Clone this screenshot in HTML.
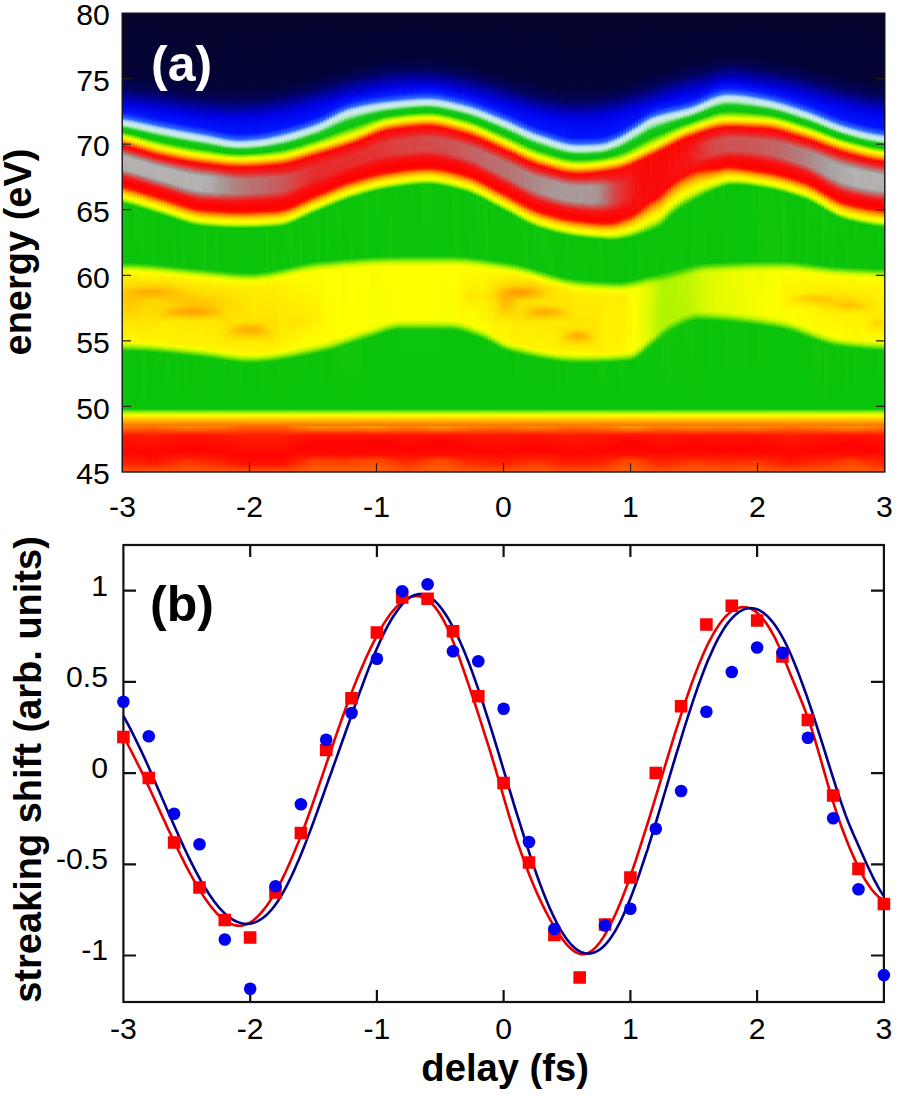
<!DOCTYPE html>
<html><head><meta charset="utf-8"><style>
html,body{margin:0;padding:0;background:#fff;}
body{width:900px;height:1100px;position:relative;overflow:hidden;font-family:"Liberation Sans",sans-serif;}
#hm{position:absolute;left:122px;top:13px;width:763px;height:459px;overflow:hidden;background:#05052e}
#hm i{position:absolute;top:0;height:459px;display:block}
svg{position:absolute;left:0;top:0}
</style></head><body>
<div id="hm"><i style="left:0px;width:3px;background:linear-gradient(#05052e 0,#040437 62.5px,#02025d 75.5px,#0002e8 92.5px,#0217ff 99.5px,#2a60ff 104.5px,#3d78ff 105.5px,#9dccff 107.5px,#c6e5f1 109.5px,#cfebe7 110.5px,#a7eab6 112.5px,#37d23e 114.5px,#13c717 115.5px,#0bc40c 118.5px,#23cb0a 119.5px,#bbf600 122.5px,#fefc00 124.5px,#ffc600 127.5px,#fe1502 132.5px,#fb0909 133.5px,#eb2424 136.5px,#ab8f8f 141.5px,#b4b1b1 143.5px,#b3b0b0 156.5px,#a7a0a0 157.5px,#c65f5f 160.5px,#f61313 164.5px,#f00 169.5px,#ff0d00 173.5px,#ff1e00 174.5px,#ff8d00 177.5px,#ffe600 181.5px,#f5fe00 184.5px,#cdf800 186.5px,#11c50a 190.5px,#0ac30b 249.5px,#55db09 252.5px,#bff600 255.5px,#fdff00 258.5px,#fe0 264.5px,#ffd600 274.5px,#ffc800 280.5px,#ffce00 289.5px,#ffde00 301.5px,#fe0 322.5px,#fff800 328.5px,#ebfc00 330.5px,#a1f002 333.5px,#36d20a 336.5px,#0ac30b 338.5px,#0ac30b 395.5px,#4ed909 397.5px,#adf301 399.5px,#fffc00 402.5px,#ffa600 408.5px,#ff7200 412.5px,#ff8200 413.5px,#ff1700 422.5px,#ff0300 438.5px,#ff2900 451.5px,#ff5b00)"></i><i style="left:3px;width:3px;background:linear-gradient(#05052e 0,#040437 62.5px,#02025b 75.5px,#0004eb 93.5px,#051dff 100.5px,#306aff 105.5px,#aed9fd 108.5px,#cee9ed 110.5px,#baebcc 112.5px,#1cca22 115.5px,#0dc40a 119.5px,#64df07 121.5px,#c7f800 123.5px,#fff700 125.5px,#ffbd00 128.5px,#fd0c04 133.5px,#f31818 136.5px,#a99696 142.5px,#b5b2b2 144.5px,#afabab 157.5px,#af8585 159.5px,#f01c1c 164.5px,#f00 169.5px,#ff0f00 174.5px,#ff9500 178.5px,#ffea00 182.5px,#fefd00 184.5px,#dffb00 186.5px,#c1f700 187.5px,#2cce0a 190.5px,#0cc40a 191.5px,#0ac30b 249.5px,#55db09 252.5px,#bff600 255.5px,#fcff00 258.5px,#fe0 264.5px,#ffd900 273.5px,#ffc100 279.5px,#fc0 288.5px,#ffd400 298.5px,#fe0 314.5px,#fff800 328.5px,#ebfc00 330.5px,#a1f002 333.5px,#36d20a 336.5px,#0ac30b 338.5px,#0ac30b 395.5px,#4ed909 397.5px,#adf301 399.5px,#fffc00 402.5px,#ffa600 408.5px,#ff7200 412.5px,#ff8000 413.5px,#ff1700 422.5px,#ff0300 438.5px,#ff2800 451.5px,#ff5b00)"></i><i style="left:6px;width:3px;background:linear-gradient(#05052e 0,#040437 63.5px,#030359 75.5px,#0000d6 90.5px,#0006ed 95.5px,#0823ff 101.5px,#2a60ff 105.5px,#3d78ff 106.5px,#9dccff 108.5px,#cfebe7 111.5px,#aaeab9 113.5px,#13c818 116.5px,#0cc40d 119.5px,#17c70a 120.5px,#75e406 122.5px,#d1f900 124.5px,#f3fd00 125.5px,#ffd000 128.5px,#ff7100 131.5px,#fb0707 134.5px,#f01c1c 137.5px,#a79b9b 143.5px,#b5b2b2 145.5px,#b5b2b2 157.5px,#a99595 159.5px,#f31818 165.5px,#f00 171.5px,#ff1200 175.5px,#ff9b00 179.5px,#ffec00 183.5px,#fcfe00 185.5px,#dafa00 187.5px,#b8f500 188.5px,#23cb0a 191.5px,#0bc30b 192.5px,#0ac30b 249.5px,#35d10a 251.5px,#bef600 255.5px,#fcff00 258.5px,#fe0 264.5px,#ffd700 273.5px,#ffbc00 279.5px,#ffcb00 287.5px,#ffcf00 297.5px,#ffed00 312.5px,#fff800 328.5px,#ecfc00 330.5px,#a2f002 333.5px,#37d20a 336.5px,#0ac30b 338.5px,#0ac30b 395.5px,#4ed909 397.5px,#adf301 399.5px,#fffc00 402.5px,#ffa600 408.5px,#ff7200 412.5px,#ff7f00 413.5px,#ff1800 422.5px,#ff0300 438.5px,#ff2700 451.5px,#ff5b00)"></i><i style="left:9px;width:3px;background:linear-gradient(#05052e 0,#040437 63.5px,#02025d 76.5px,#0002e9 93.5px,#051cff 101.5px,#2f68ff 106.5px,#add8fe 109.5px,#cde8ee 111.5px,#bcebcf 113.5px,#62de6b 115.5px,#29ce2f 116.5px,#12c717 117.5px,#0bc30b 120.5px,#23cb0a 121.5px,#b5f500 124.5px,#f9fd00 126.5px,#fc0 129.5px,#fb0808 135.5px,#ee2020 138.5px,#ad8a8a 143.5px,#a79e9e 144.5px,#b5b2b2 146.5px,#b5b1b1 158.5px,#ab9191 160.5px,#f41515 166.5px,#f00 171.5px,#ff0b00 175.5px,#ff1600 176.5px,#ff8500 179.5px,#ffe100 183.5px,#fafe00 186.5px,#d5f900 188.5px,#79e505 190.5px,#1bc90a 192.5px,#0bc30b 193.5px,#0bc30b 249.5px,#33d10a 251.5px,#bcf600 255.5px,#fbfe00 258.5px,#fe0 264.5px,#ffdc00 272.5px,#ffb700 278.5px,#ffc900 288.5px,#ffd200 298.5px,#fe0 313.5px,#fff700 328.5px,#feff00 329.5px,#a4f101 333.5px,#39d30a 336.5px,#0ac30a 338.5px,#0ac30b 395.5px,#4ed909 397.5px,#adf301 399.5px,#fffc00 402.5px,#ffa600 408.5px,#ff7200 412.5px,#ff7e00 413.5px,#ff1800 422.5px,#ff0300 438.5px,#ff2600 451.5px,#ff5b00)"></i><i style="left:12px;width:3px;background:linear-gradient(#05052e 0,#040437 63.5px,#02025b 76.5px,#0004eb 94.5px,#0115ff 101.5px,#295dff 106.5px,#3772ff 107.5px,#96c5ff 109.5px,#c3e4f2 111.5px,#d0ebe9 112.5px,#b3ebc4 114.5px,#1aca1f 117.5px,#0cc40b 121.5px,#58dc08 123.5px,#bcf600 125.5px,#fcfd00 127.5px,#ffc800 130.5px,#ff3e00 134.5px,#fe1802 135.5px,#fb0808 136.5px,#ec2222 139.5px,#ac8d8d 144.5px,#a8a1a1 145.5px,#b5b2b2 147.5px,#b4b0b0 159.5px,#ac8e8e 161.5px,#f51414 167.5px,#f00 173.5px,#ff0c00 176.5px,#ff1b00 177.5px,#ff8a00 180.5px,#ffe400 184.5px,#f7fe00 187.5px,#d1f900 189.5px,#16c70a 193.5px,#0ec510 196.5px,#0bc30b 249.5px,#30d00a 251.5px,#baf600 255.5px,#f9fe00 258.5px,#fe0 264.5px,#ffda00 272.5px,#ffb400 278.5px,#ffca00 288.5px,#ffd500 299.5px,#fe0 314.5px,#fff600 328.5px,#ff0 329.5px,#a8f201 333.5px,#21cb0a 337.5px,#0ac30a 338.5px,#0ac30b 395.5px,#4ed909 397.5px,#adf301 399.5px,#fffc00 402.5px,#ffa600 408.5px,#ff7200 412.5px,#ff7d00 413.5px,#ff1900 422.5px,#ff0300 438.5px,#ff2500 451.5px,#ff5c00)"></i><i style="left:15px;width:3px;background:linear-gradient(#05052e 0,#040437 64.5px,#030358 76.5px,#0000d5 91.5px,#0006ed 96.5px,#0319ff 102.5px,#2d64ff 107.5px,#4881ff 108.5px,#a6d3ff 110.5px,#c9e7ef 112.5px,#c0ebd4 114.5px,#a5e9b3 115.5px,#13c818 118.5px,#10c50a 122.5px,#62df07 124.5px,#c1f700 126.5px,#fdfb00 128.5px,#ffc500 131.5px,#fe1602 136.5px,#fb0909 137.5px,#eb2424 140.5px,#ab8f8f 145.5px,#b4b1b1 147.5px,#b3afaf 160.5px,#a7a0a0 161.5px,#c55f5f 164.5px,#f61313 168.5px,#f00 173.5px,#ff0d00 177.5px,#ff1e00 178.5px,#ff8d00 181.5px,#ffe500 185.5px,#f5fe00 188.5px,#cdf800 190.5px,#39d30a 193.5px,#13c60a 194.5px,#0bc30b 249.5px,#13c60a 250.5px,#6ee206 253.5px,#b7f500 255.5px,#f7fe00 258.5px,#fe0 265.5px,#ffd300 273.5px,#ffb100 278.5px,#fc0 288.5px,#ffd800 300.5px,#fe0 315.5px,#fff600 328.5px,#f1fd00 330.5px,#acf301 333.5px,#24cc0a 337.5px,#0bc30a 338.5px,#0ac30b 395.5px,#4ed909 397.5px,#adf301 399.5px,#fffc00 402.5px,#ffa600 408.5px,#ff7200 412.5px,#ff7c00 413.5px,#ff1900 422.5px,#ff0400 439.5px,#ff2300 451.5px,#ff5c00)"></i><i style="left:18px;width:3px;background:linear-gradient(#05052e 0,#040437 64.5px,#02025d 77.5px,#0002e8 94.5px,#051eff 103.5px,#306bff 108.5px,#afd9fd 111.5px,#cfe9ec 113.5px,#bbebce 115.5px,#64de6e 117.5px,#2fd036 118.5px,#13c717 119.5px,#0cc40d 122.5px,#15c70a 123.5px,#c5f700 127.5px,#fefa00 129.5px,#ffc300 132.5px,#fe1402 137.5px,#f80e0e 139.5px,#df3939 142.5px,#ab9191 146.5px,#b4b1b1 148.5px,#b2aeae 161.5px,#a79e9e 162.5px,#c75d5d 165.5px,#f61212 169.5px,#f00 174.5px,#ff0d00 178.5px,#ff2100 179.5px,#ff8f00 182.5px,#ffe600 186.5px,#f4fe00 189.5px,#caf800 191.5px,#36d20a 194.5px,#11c50a 195.5px,#0fc50a 250.5px,#68e007 253.5px,#b2f400 255.5px,#fffc00 259.5px,#ffed00 266.5px,#ffd200 273.5px,#ffaf00 278.5px,#ffce00 288.5px,#ffdf00 302.5px,#fe0 321.5px,#fff500 328.5px,#f4fd00 330.5px,#b2f400 333.5px,#28cd0a 337.5px,#0fc50a 338.5px,#0ac30b 395.5px,#4ed909 397.5px,#adf301 399.5px,#fffc00 402.5px,#ffa600 408.5px,#ff7200 412.5px,#ff7a00 413.5px,#ff1900 422.5px,#ff0400 439.5px,#f20 451.5px,#ff5c00)"></i><i style="left:21px;width:3px;background:linear-gradient(#05052e 0,#040437 64.5px,#02025a 77.5px,#0000d8 92.5px,#0007ef 98.5px,#0822ff 104.5px,#2a5fff 108.5px,#3a75ff 109.5px,#99c8ff 111.5px,#c4e4f2 113.5px,#d0ebe8 114.5px,#b4ebc5 116.5px,#21cc27 119.5px,#10c613 121.5px,#0bc40c 123.5px,#1cc90a 124.5px,#c9f800 128.5px,#fff900 130.5px,#ffc100 133.5px,#fd0e04 138.5px,#f31616 141.5px,#aa9393 147.5px,#b5b2b2 149.5px,#b1aeae 162.5px,#a79d9d 163.5px,#c85b5b 166.5px,#f61212 170.5px,#f00 175.5px,#ff0e00 179.5px,#ff2300 180.5px,#ff9100 183.5px,#ffe700 187.5px,#f3fd00 190.5px,#c8f800 192.5px,#34d10a 195.5px,#0fc50a 196.5px,#0bc30a 250.5px,#61de08 253.5px,#c6f700 256.5px,#fffe00 259.5px,#ffed00 265.5px,#ffd800 272.5px,#ffad00 278.5px,#ffd100 288.5px,#ffe200 303.5px,#fff400 328.5px,#f7fe00 330.5px,#b7f500 333.5px,#2dcf0a 337.5px,#13c60a 338.5px,#0fc611 369.5px,#0ac30b 395.5px,#4ed909 397.5px,#adf301 399.5px,#fffc00 402.5px,#ffa600 408.5px,#ff7200 412.5px,#ff7900 413.5px,#ff1a00 422.5px,#ff0400 439.5px,#ff2100 451.5px,#ff5c00)"></i><i style="left:24px;width:3px;background:linear-gradient(#05052e 0,#040437 65.5px,#030357 77.5px,#0000d4 92.5px,#0006ed 97.5px,#031aff 104.5px,#2d65ff 109.5px,#4983ff 110.5px,#a7d4fe 112.5px,#cae7ef 114.5px,#c0ebd4 116.5px,#a9eab8 117.5px,#18c91d 120.5px,#0bc30b 124.5px,#48d70a 126.5px,#aaf201 128.5px,#ecfd00 130.5px,#fff800 131.5px,#ffbe00 134.5px,#fd0d04 139.5px,#f31818 142.5px,#a99494 148.5px,#b5b2b2 150.5px,#b1adad 163.5px,#ae8888 165.5px,#ef1e1e 170.5px,#f00 175.5px,#ff0e00 180.5px,#ff4b00 182.5px,#fa0 185.5px,#ffe800 188.5px,#f2fd00 191.5px,#c6f700 193.5px,#32d00a 196.5px,#0ec40a 197.5px,#0ac30a 250.5px,#59dc08 253.5px,#c1f700 256.5px,#feff00 259.5px,#ffed00 265.5px,#ffd800 272.5px,#ffac00 278.5px,#ffd400 288.5px,#ffe200 303.5px,#fff300 328.5px,#fafe00 330.5px,#bbf600 333.5px,#32d00a 337.5px,#0bc30b 339.5px,#0ac30b 395.5px,#4ed909 397.5px,#adf301 399.5px,#fffc00 402.5px,#ffa600 408.5px,#ff7200 412.5px,#ff6f00 414.5px,#ff1a00 422.5px,#ff0400 439.5px,#ff1600 450.5px,#ff5c00)"></i><i style="left:27px;width:3px;background:linear-gradient(#05052e 0,#040437 65.5px,#02025c 78.5px,#0004eb 96.5px,#0014fe 104.5px,#2659ff 109.5px,#316bff 110.5px,#afdafc 113.5px,#cfe9ec 115.5px,#bcebcf 117.5px,#6be075 119.5px,#13c818 121.5px,#0cc40b 125.5px,#50da09 127.5px,#b0f401 129.5px,#f0fd00 131.5px,#ffe500 133.5px,#ff9b00 136.5px,#fd0c05 140.5px,#f21919 143.5px,#a99696 149.5px,#b5b2b2 151.5px,#b0acac 164.5px,#af8686 166.5px,#f01d1d 171.5px,#f00 176.5px,#ff0e00 181.5px,#ff4d00 183.5px,#ffab00 186.5px,#ffe800 189.5px,#fefd00 191.5px,#e1fb00 193.5px,#c5f700 194.5px,#30d00a 197.5px,#0ec40a 198.5px,#0bc30b 250.5px,#32d00a 252.5px,#bcf600 256.5px,#fafe00 259.5px,#ffed00 265.5px,#ffd800 272.5px,#ffac00 278.5px,#ffd500 288.5px,#ffe100 303.5px,#fff700 329.5px,#fdff00 330.5px,#a3f002 334.5px,#38d20a 337.5px,#0ac30a 339.5px,#0ac30b 395.5px,#4ed909 397.5px,#adf301 399.5px,#fffc00 402.5px,#ffa600 408.5px,#ff7200 412.5px,#ff6e00 414.5px,#ff1b00 422.5px,#ff0400 439.5px,#ff1400 450.5px,#ff5c00)"></i><i style="left:30px;width:3px;background:linear-gradient(#05052e 0,#040437 66.5px,#030359 78.5px,#0000cd 92.5px,#0005ec 97.5px,#0116ff 105.5px,#2a5fff 110.5px,#3b75ff 111.5px,#9ac9ff 113.5px,#c5e4f2 115.5px,#d0ebe8 116.5px,#b6ebc7 118.5px,#2bce32 121.5px,#13c717 122.5px,#0fc50a 126.5px,#8bea04 129.5px,#d6fa00 131.5px,#f5fe00 132.5px,#ffd100 135.5px,#ff7200 138.5px,#fc0707 141.5px,#f11b1b 144.5px,#a89999 150.5px,#b5b2b2 152.5px,#afabab 165.5px,#af8585 167.5px,#f01c1c 172.5px,#f00 177.5px,#ff0f00 182.5px,#ff4f00 184.5px,#ffac00 187.5px,#ffe900 190.5px,#fefd00 192.5px,#e0fb00 194.5px,#c3f700 195.5px,#2ecf0a 198.5px,#0dc40a 199.5px,#12c60a 251.5px,#6ce107 254.5px,#b5f500 256.5px,#f6fe00 259.5px,#ffed00 266.5px,#ffd100 273.5px,#ffad00 278.5px,#ffd600 288.5px,#fd0 302.5px,#fe0 317.5px,#fff600 329.5px,#f0fd00 331.5px,#abf301 334.5px,#23cb0a 338.5px,#0bc30a 339.5px,#0ac30b 395.5px,#4ed909 397.5px,#adf301 399.5px,#fffc00 402.5px,#ffa600 408.5px,#ff7200 412.5px,#ff6d00 414.5px,#ff1b00 422.5px,#ff0400 439.5px,#ff1e00 451.5px,#ff5c00)"></i><i style="left:33px;width:3px;background:linear-gradient(#05052e 0,#040437 66.5px,#02025d 79.5px,#0002e8 96.5px,#031aff 106.5px,#2d65ff 111.5px,#4b84ff 112.5px,#a8d5fe 114.5px,#cae7ef 116.5px,#c1ebd5 118.5px,#aceabb 119.5px,#1dca22 122.5px,#0bc40c 126.5px,#16c70a 127.5px,#bef600 131.5px,#f9fe00 133.5px,#ffcd00 136.5px,#ff6a00 139.5px,#fb0808 142.5px,#ef1e1e 145.5px,#a79c9c 151.5px,#b5b2b2 153.5px,#b5b2b2 165.5px,#a89797 167.5px,#f11b1b 173.5px,#f00 178.5px,#ff1000 183.5px,#ff9600 187.5px,#ffea00 191.5px,#fefd00 193.5px,#dffb00 195.5px,#c1f700 196.5px,#2cce0a 199.5px,#0cc40a 200.5px,#0cc40a 251.5px,#62df07 254.5px,#c7f800 257.5px,#fffd00 260.5px,#ffed00 266.5px,#ffd100 273.5px,#ffae00 278.5px,#ffd700 288.5px,#ffdc00 302.5px,#fe0 315.5px,#fff400 329.5px,#f5fe00 331.5px,#b4f500 334.5px,#2ace0a 338.5px,#11c50a 339.5px,#0ac30b 395.5px,#4ed909 397.5px,#adf301 399.5px,#fffc00 402.5px,#ffa600 408.5px,#ff7200 412.5px,#ff6e00 414.5px,#ff1a00 422.5px,#ff0400 439.5px,#ff1500 450.5px,#ff5c00)"></i><i style="left:36px;width:3px;background:linear-gradient(#05052e 0,#040437 66.5px,#03035a 79.5px,#0000d7 94.5px,#0006ee 99.5px,#0014fe 106.5px,#275aff 111.5px,#326dff 112.5px,#b0dafc 115.5px,#cfeaec 117.5px,#bcebcf 119.5px,#6de076 121.5px,#14c819 123.5px,#0bc30b 127.5px,#44d60a 129.5px,#c6f700 132.5px,#fefc00 134.5px,#ffc700 137.5px,#ff3c00 141.5px,#fe1702 142.5px,#fb0909 143.5px,#ec2222 146.5px,#ad8b8b 151.5px,#a79f9f 152.5px,#b5b2b2 154.5px,#b5b2b2 166.5px,#a99595 168.5px,#f21919 174.5px,#f00 179.5px,#ff1000 184.5px,#ff9800 188.5px,#ffeb00 192.5px,#fdfe00 194.5px,#ddfb00 196.5px,#bdf600 197.5px,#28cd0a 200.5px,#0bc30b 201.5px,#0ac30b 251.5px,#57dc08 254.5px,#c0f700 257.5px,#fdff00 260.5px,#ffed00 266.5px,#ffd200 273.5px,#ffb000 278.5px,#ffd800 289.5px,#ffd600 301.5px,#fe0 312.5px,#fff300 329.5px,#f9fe00 331.5px,#bbf600 334.5px,#31d00a 338.5px,#0bc30b 340.5px,#0ac30b 395.5px,#4ed909 397.5px,#adf301 399.5px,#fffc00 402.5px,#ffa600 408.5px,#ff7200 412.5px,#ff7b00 413.5px,#ff1900 422.5px,#ff0400 439.5px,#ff2300 451.5px,#ff5c00)"></i><i style="left:39px;width:3px;background:linear-gradient(#05052e 0,#040437 67.5px,#030357 79.5px,#0000d4 94.5px,#0006ed 99.5px,#0218ff 107.5px,#2b61ff 112.5px,#417bff 113.5px,#a1cfff 115.5px,#cfebe7 118.5px,#b4ebc5 120.5px,#2bce31 123.5px,#13c717 124.5px,#0cc40a 128.5px,#52da09 130.5px,#aff401 132.5px,#edfd00 134.5px,#fff800 135.5px,#ffbf00 138.5px,#fd0c04 143.5px,#f41616 146.5px,#ab9191 152.5px,#b4b1b1 154.5px,#b5b1b1 167.5px,#aa9292 169.5px,#f31717 175.5px,#f00 181.5px,#ff1200 185.5px,#ff9a00 189.5px,#ffec00 193.5px,#fcfe00 195.5px,#dbfa00 197.5px,#b9f500 198.5px,#24cc0a 201.5px,#0bc30b 202.5px,#0bc30b 251.5px,#2fcf0a 253.5px,#b9f600 257.5px,#f8fe00 260.5px,#ffd300 273.5px,#ffb200 278.5px,#ffd800 290.5px,#ffcf00 300.5px,#fe0 311.5px,#fff700 330.5px,#feff00 331.5px,#a4f101 335.5px,#38d20a 338.5px,#0ac30a 340.5px,#0ac30b 395.5px,#4ed909 397.5px,#adf301 399.5px,#fffc00 402.5px,#ffa600 408.5px,#ff7200 412.5px,#ff7e00 413.5px,#ff1800 422.5px,#ff0300 438.5px,#ff2600 451.5px,#ff5b00)"></i><i style="left:42px;width:3px;background:linear-gradient(#05052e 0,#040437 67.5px,#02025b 80.5px,#0004eb 98.5px,#0013fe 107.5px,#2557ff 112.5px,#2f69ff 113.5px,#aed9fd 116.5px,#cee9ed 118.5px,#bfebd2 120.5px,#a6eab4 121.5px,#19c91e 124.5px,#0bc40c 128.5px,#16c70a 129.5px,#bcf600 133.5px,#f7fe00 135.5px,#ffcf00 138.5px,#ff6f00 141.5px,#fb0707 144.5px,#f11b1b 147.5px,#a99696 153.5px,#b5b2b2 155.5px,#b4b0b0 168.5px,#ab8f8f 170.5px,#f41616 176.5px,#f00 182.5px,#ff1400 186.5px,#ff9c00 190.5px,#ffed00 194.5px,#fbfe00 196.5px,#d9fa00 198.5px,#b5f500 199.5px,#21cb0a 202.5px,#0bc30b 203.5px,#0ec40a 252.5px,#66e007 255.5px,#b1f400 257.5px,#fffc00 261.5px,#ffd500 273.5px,#ffb500 278.5px,#ffd700 291.5px,#ffc900 300.5px,#ffed00 310.5px,#fff500 330.5px,#f2fd00 332.5px,#aef301 335.5px,#26cc0a 339.5px,#0dc40a 340.5px,#0ac30b 395.5px,#4ed909 397.5px,#adf301 399.5px,#fffc00 402.5px,#ffa600 408.5px,#ff7200 412.5px,#ff8100 413.5px,#ff1700 422.5px,#ff0300 438.5px,#ff2900 451.5px,#ff5b00)"></i><i style="left:45px;width:3px;background:linear-gradient(#05052e 0,#040437 68.5px,#030358 80.5px,#0000d5 95.5px,#0006ed 100.5px,#0116ff 108.5px,#295fff 113.5px,#3974ff 114.5px,#99c8ff 116.5px,#c4e4f2 118.5px,#d0ebe9 119.5px,#b8ebca 121.5px,#35d13c 124.5px,#13c818 125.5px,#0bc30b 129.5px,#46d70a 131.5px,#c6f700 134.5px,#fefc00 136.5px,#ffc700 139.5px,#ff1b00 144.5px,#fb0909 145.5px,#ed2121 148.5px,#a79b9b 154.5px,#b5b2b2 156.5px,#b3afaf 169.5px,#ac8d8d 171.5px,#f41616 177.5px,#f00 183.5px,#ff1400 187.5px,#ff9c00 191.5px,#ffed00 195.5px,#fbfe00 197.5px,#d9fa00 199.5px,#b5f400 200.5px,#21cb0a 203.5px,#0bc30b 204.5px,#0ac30a 252.5px,#5bdd08 255.5px,#c2f700 258.5px,#feff00 261.5px,#ffec00 267.5px,#ffc700 275.5px,#fb0 280.5px,#ffd600 291.5px,#ffc000 299.5px,#ffec00 309.5px,#fff300 330.5px,#f7fe00 332.5px,#b8f500 335.5px,#2ecf0a 339.5px,#14c60a 340.5px,#0ec510 344.5px,#0ac30b 395.5px,#4ed909 397.5px,#adf301 399.5px,#fffc00 402.5px,#ffa600 408.5px,#ff7200 412.5px,#ff8400 413.5px,#ff1600 422.5px,#ff0300 438.5px,#ff2c00 451.5px,#ff5b00)"></i><i style="left:48px;width:3px;background:linear-gradient(#05052e 0,#040437 68.5px,#02025c 81.5px,#0004eb 99.5px,#0013fd 108.5px,#2454ff 113.5px,#2e66ff 114.5px,#4d86ff 115.5px,#aad6fe 117.5px,#cbe8ee 119.5px,#c0ebd4 121.5px,#adeabc 122.5px,#20cb26 125.5px,#10c613 127.5px,#0fc50a 130.5px,#87e904 133.5px,#d1f900 135.5px,#fff700 137.5px,#ffbd00 140.5px,#fd0c04 145.5px,#f41616 148.5px,#ac8d8d 154.5px,#a7a0a0 155.5px,#b5b2b2 157.5px,#b2aeae 170.5px,#a79f9f 171.5px,#c46161 174.5px,#f41616 178.5px,#f00 184.5px,#ff1400 188.5px,#ff9c00 192.5px,#ffed00 196.5px,#fbfe00 198.5px,#d9fa00 200.5px,#b6f500 201.5px,#22cb0a 204.5px,#0bc30b 205.5px,#0bc30b 252.5px,#31d00a 254.5px,#bbf600 258.5px,#fafe00 261.5px,#ffd200 274.5px,#ffbc00 279.5px,#ffd300 292.5px,#ffba00 299.5px,#ffeb00 308.5px,#fff200 330.5px,#fcff00 332.5px,#a0f002 336.5px,#36d20a 339.5px,#0ac30b 341.5px,#0ac30b 395.5px,#4ed909 397.5px,#adf301 399.5px,#fffc00 402.5px,#ffa600 408.5px,#ff7200 412.5px,#ff8600 413.5px,#ff1500 422.5px,#ff0300 438.5px,#ff2f00 451.5px,#ff5b00)"></i><i style="left:51px;width:3px;background:linear-gradient(#05052e 0,#050536 68.5px,#030359 81.5px,#0000d6 96.5px,#0006ed 101.5px,#0015ff 109.5px,#285cff 114.5px,#346fff 115.5px,#92c2ff 117.5px,#b2dbfb 118.5px,#d0eaeb 120.5px,#bbebce 122.5px,#3fd446 125.5px,#14c819 126.5px,#0bc40c 130.5px,#1cc90a 131.5px,#bff600 135.5px,#fafe00 137.5px,#ffce00 140.5px,#ff6b00 143.5px,#fb0707 146.5px,#f11b1b 149.5px,#aa9292 155.5px,#b4b1b1 157.5px,#b1adad 171.5px,#ad8b8b 173.5px,#f41616 179.5px,#f00 185.5px,#ff1300 189.5px,#ff9a00 193.5px,#ffec00 197.5px,#fcfe00 199.5px,#dbfa00 201.5px,#b8f500 202.5px,#24cc0a 205.5px,#0bc30b 206.5px,#10c50a 253.5px,#68e007 256.5px,#b2f400 258.5px,#f4fe00 261.5px,#fff000 264.5px,#ffd400 274.5px,#ffc100 280.5px,#ffd000 292.5px,#ffb400 299.5px,#ffea00 308.5px,#fff600 331.5px,#f1fd00 333.5px,#acf301 336.5px,#24cc0a 340.5px,#0cc40a 341.5px,#0ac30b 395.5px,#4ed909 397.5px,#adf301 399.5px,#fffc00 402.5px,#ffa600 408.5px,#ff7200 412.5px,#f80 413.5px,#ff1400 422.5px,#ff0200 438.5px,#ff2300 446.5px,#ff3200 451.5px,#ff5700 457.5px,#ff5b00)"></i><i style="left:54px;width:3px;background:linear-gradient(#05052e 0,#040437 69.5px,#02025d 82.5px,#0002e9 99.5px,#0319ff 110.5px,#2c64ff 115.5px,#4780ff 116.5px,#a5d3ff 118.5px,#c9e6f0 120.5px,#c2ebd7 122.5px,#b2ebc2 123.5px,#29ce2f 126.5px,#13c717 127.5px,#0cc40a 131.5px,#4ed909 133.5px,#aaf201 135.5px,#fffb00 138.5px,#ffc400 141.5px,#fe1302 146.5px,#f80e0e 148.5px,#e33232 151.5px,#a89797 156.5px,#b5b2b2 158.5px,#b0acac 172.5px,#ad8989 174.5px,#f41616 180.5px,#f00 186.5px,#ff1200 190.5px,#f90 194.5px,#ffeb00 198.5px,#fdfe00 200.5px,#dcfa00 202.5px,#bbf600 203.5px,#26cc0a 206.5px,#0bc30b 207.5px,#0ac30a 253.5px,#5cdd08 256.5px,#c3f700 259.5px,#fffe00 262.5px,#ffc400 280.5px,#ffce00 292.5px,#ffaf00 299.5px,#ffea00 308.5px,#fff400 331.5px,#f6fe00 333.5px,#b6f500 336.5px,#2cce0a 340.5px,#13c60a 341.5px,#0ac30b 395.5px,#4ed909 397.5px,#adf301 399.5px,#fffc00 402.5px,#ffa600 408.5px,#ff7200 412.5px,#ff8b00 413.5px,#ff1400 422.5px,#ff0100 437.5px,#ff1c00 445.5px,#ff2c00 449.5px,#ff5b00)"></i><i style="left:57px;width:3px;background:linear-gradient(#05052e 0,#040437 69.5px,#03035a 82.5px,#0000d7 97.5px,#0006ee 102.5px,#0014fe 110.5px,#275aff 115.5px,#316cff 116.5px,#b0dafc 119.5px,#cfeaec 121.5px,#bdebd0 123.5px,#a0e9ae 124.5px,#17c91c 127.5px,#0bc40c 131.5px,#16c70a 132.5px,#baf600 136.5px,#f4fe00 138.5px,#ffd200 141.5px,#ff7400 144.5px,#fc0707 147.5px,#f31717 150.5px,#a79c9c 157.5px,#b5b2b2 159.5px,#afabab 173.5px,#ae8888 175.5px,#f41616 181.5px,#f00 187.5px,#f10 191.5px,#ff9800 195.5px,#ffeb00 199.5px,#fdfe00 201.5px,#ddfa00 203.5px,#bcf600 204.5px,#28cd0a 207.5px,#0cc40b 208.5px,#0bc30b 253.5px,#32d00a 255.5px,#bcf600 259.5px,#fafe00 262.5px,#ffc700 281.5px,#ffcb00 292.5px,#fa0 299.5px,#ffe700 307.5px,#fff200 331.5px,#fcff00 333.5px,#bef600 336.5px,#35d10a 340.5px,#0ac30b 342.5px,#0ac30b 395.5px,#4ed909 397.5px,#adf301 399.5px,#fffc00 402.5px,#ffa600 408.5px,#ff7200 412.5px,#ff8d00 413.5px,#ff3900 419.5px,#ff1300 422.5px,#f00 437.5px,#ff1500 444.5px,#ff2f00 448.5px,#ff3900 451.5px,#f50 456.5px,#ff5b00)"></i><i style="left:60px;width:3px;background:linear-gradient(#05052e 0,#040437 70.5px,#030357 82.5px,#0000d4 97.5px,#0006ed 102.5px,#0218ff 111.5px,#2b62ff 116.5px,#417bff 117.5px,#a1cfff 119.5px,#cfebe7 122.5px,#b5ebc6 124.5px,#30d036 127.5px,#13c818 128.5px,#0ac30b 132.5px,#48d70a 134.5px,#c6f700 137.5px,#fefd00 139.5px,#ffc800 142.5px,#ff1c00 147.5px,#fb0808 148.5px,#f01d1d 151.5px,#ab9090 157.5px,#b3b0b0 159.5px,#b5b2b2 173.5px,#a89999 175.5px,#f41515 182.5px,#f00 188.5px,#f10 192.5px,#ff9800 196.5px,#ffeb00 200.5px,#fdfe00 202.5px,#ddfa00 204.5px,#bdf600 205.5px,#28cd0a 208.5px,#0bc40b 209.5px,#11c50a 254.5px,#6ae107 257.5px,#b4f500 259.5px,#f5fe00 262.5px,#ffed00 266.5px,#ffc900 283.5px,#ffc400 293.5px,#ffa500 298.5px,#ffbf00 302.5px,#ffe600 307.5px,#fff600 332.5px,#f0fd00 334.5px,#abf201 337.5px,#23cb0a 341.5px,#0bc30a 342.5px,#0ac30b 395.5px,#4ed909 397.5px,#adf301 399.5px,#fffc00 402.5px,#ffa600 408.5px,#ff7200 412.5px,#ff8f00 413.5px,#ff4a00 418.5px,#ff1300 422.5px,#ff0101 436.5px,#ff1800 444.5px,#f30 448.5px,#ff3c00 451.5px,#ff5600 456.5px,#ff5a00)"></i><i style="left:63px;width:3px;background:linear-gradient(#05052e 0,#040437 70.5px,#02025b 83.5px,#0004eb 101.5px,#0013fe 111.5px,#2658ff 116.5px,#306aff 117.5px,#aed9fd 120.5px,#cee9ed 122.5px,#beebd2 124.5px,#a6eab4 125.5px,#1aca1f 128.5px,#12c60a 133.5px,#b6f500 137.5px,#f1fd00 139.5px,#ffe500 141.5px,#ff9b00 144.5px,#fc0606 148.5px,#ec2323 152.5px,#a99696 158.5px,#b5b2b2 160.5px,#b5b2b2 174.5px,#a99696 176.5px,#f51515 183.5px,#f00 189.5px,#f10 193.5px,#f90 197.5px,#ffec00 201.5px,#fdfe00 203.5px,#dcfa00 205.5px,#bbf600 206.5px,#26cc0a 209.5px,#0ac30b 210.5px,#0bc30a 254.5px,#5fde08 257.5px,#c5f700 260.5px,#fffe00 263.5px,#ffcd00 280.5px,#ffc200 293.5px,#ffa200 298.5px,#ffbd00 302.5px,#ffe600 307.5px,#fff400 332.5px,#f6fe00 334.5px,#b6f500 337.5px,#2cce0a 341.5px,#12c60a 342.5px,#0ac30b 395.5px,#4ed909 397.5px,#adf301 399.5px,#fffc00 402.5px,#ffa600 408.5px,#ff7200 412.5px,#ff9100 413.5px,#ff4b00 418.5px,#ff1300 422.5px,#fe0202 434.5px,#ff1200 443.5px,#ff3500 448.5px,#ff3e00 451.5px,#ff5600 456.5px,#ff5a00)"></i><i style="left:66px;width:3px;background:linear-gradient(#05052e 0,#050536 70.5px,#030358 83.5px,#0000d5 98.5px,#0006ed 103.5px,#0117ff 112.5px,#2a60ff 117.5px,#3c77ff 118.5px,#9ccbff 120.5px,#d0ebe8 123.5px,#b7ebc9 125.5px,#34d13b 128.5px,#13c818 129.5px,#0bc30b 133.5px,#45d60a 135.5px,#c4f700 138.5px,#fdfe00 140.5px,#ffca00 143.5px,#ff1e00 148.5px,#fb0808 149.5px,#f11a1a 152.5px,#a69d9d 159.5px,#b5b2b2 162.5px,#b4b0b0 175.5px,#aa9292 177.5px,#f51313 184.5px,#f00 190.5px,#ff1400 194.5px,#ff9c00 198.5px,#ffed00 202.5px,#fbfe00 204.5px,#d9fa00 206.5px,#b5f500 207.5px,#21cb0a 210.5px,#0bc30b 211.5px,#0ac30b 254.5px,#35d10a 256.5px,#bef600 260.5px,#fcff00 263.5px,#ffe800 271.5px,#ffc900 288.5px,#ffba00 294.5px,#ffa100 299.5px,#ffe600 307.5px,#fff200 332.5px,#fbff00 334.5px,#bdf600 337.5px,#34d10a 341.5px,#0bc30b 343.5px,#0ac30b 395.5px,#4ed909 397.5px,#adf301 399.5px,#fffc00 402.5px,#ffa600 408.5px,#ff7200 412.5px,#ff9000 413.5px,#ff4b00 418.5px,#ff1300 422.5px,#fe0202 435.5px,#ff1200 443.5px,#ff3400 448.5px,#ff3c00 451.5px,#ff5600 456.5px,#ff5a00)"></i><i style="left:69px;width:3px;background:linear-gradient(#05052e 0,#040437 71.5px,#02025d 84.5px,#0002e8 101.5px,#0013fe 112.5px,#2556ff 117.5px,#2f68ff 118.5px,#add8fe 121.5px,#cde8ee 123.5px,#bfebd3 125.5px,#a9eab7 126.5px,#1cca22 129.5px,#10c50a 134.5px,#8ae904 137.5px,#d3f900 139.5px,#fff600 141.5px,#ffbc00 144.5px,#fc0606 149.5px,#ed2222 153.5px,#aa9393 159.5px,#b4b1b1 161.5px,#b1adad 176.5px,#a69f9f 177.5px,#d05050 181.5px,#f61212 185.5px,#f00 191.5px,#ff1800 195.5px,#f80 198.5px,#ffe300 202.5px,#f8fe00 205.5px,#d3f900 207.5px,#75e406 209.5px,#18c80a 211.5px,#0cc40e 213.5px,#0bc30b 254.5px,#13c60a 255.5px,#6ee206 258.5px,#b7f500 260.5px,#f7fe00 263.5px,#ffc700 286.5px,#ffc000 293.5px,#ffa000 298.5px,#fb0 302.5px,#ffe600 307.5px,#fff600 333.5px,#effd00 335.5px,#a9f201 338.5px,#22cb0a 342.5px,#0bc30a 343.5px,#0ac30b 395.5px,#4ed909 397.5px,#adf301 399.5px,#fffc00 402.5px,#ffa600 408.5px,#ff7200 412.5px,#ff8f00 413.5px,#ff3a00 419.5px,#ff1300 422.5px,#f00 437.5px,#ff1700 444.5px,#ff3200 448.5px,#ff3b00 451.5px,#f50 456.5px,#ff5a00)"></i><i style="left:72px;width:3px;background:linear-gradient(#05052e 0,#040437 71.5px,#02025a 84.5px,#0000d8 99.5px,#0006ee 104.5px,#0116ff 113.5px,#295fff 118.5px,#3974ff 119.5px,#99c8ff 121.5px,#c4e4f2 123.5px,#d0ebe9 124.5px,#b9ebcb 126.5px,#13c818 130.5px,#0bc30b 134.5px,#45d60a 136.5px,#c5f700 139.5px,#fefd00 141.5px,#ffc900 144.5px,#ff1d00 149.5px,#fb0808 150.5px,#f11a1a 153.5px,#a79b9b 160.5px,#b5b2b2 163.5px,#b5b2b2 176.5px,#a89898 178.5px,#f31717 185.5px,#f00 191.5px,#ff0e00 195.5px,#ff2400 196.5px,#ff9100 199.5px,#ffe800 203.5px,#fffc00 205.5px,#e2fb00 207.5px,#c8f800 208.5px,#33d10a 211.5px,#0dc40a 212.5px,#0dc40a 255.5px,#64df07 258.5px,#c8f800 261.5px,#fffd00 264.5px,#ffc800 285.5px,#ffc000 293.5px,#ffa000 298.5px,#ffbc00 302.5px,#ffe600 307.5px,#fff400 333.5px,#f5fe00 335.5px,#b4f500 338.5px,#2ace0a 342.5px,#11c50a 343.5px,#0ac30b 395.5px,#4ed909 397.5px,#adf301 399.5px,#fffc00 402.5px,#ffa600 408.5px,#ff7200 412.5px,#ff8d00 413.5px,#ff3900 419.5px,#ff1300 422.5px,#f00 437.5px,#ff1600 444.5px,#ff3000 448.5px,#ff3900 451.5px,#f50 456.5px,#ff5b00)"></i><i style="left:75px;width:3px;background:linear-gradient(#05052e 0,#050536 71.5px,#030358 84.5px,#0000d4 99.5px,#0006ed 104.5px,#0013fd 113.5px,#2455ff 118.5px,#2e67ff 119.5px,#7fb2ff 121.5px,#abd7fe 122.5px,#cce8ee 124.5px,#c0ebd4 126.5px,#aaeab9 127.5px,#1cca22 130.5px,#0cc40d 134.5px,#12c60a 135.5px,#b8f500 139.5px,#f3fd00 141.5px,#ffd300 144.5px,#ff7500 147.5px,#fc0606 150.5px,#ec2323 154.5px,#aa9393 160.5px,#b5b1b1 162.5px,#b2afaf 177.5px,#a6a1a1 178.5px,#ce5353 182.5px,#f61313 186.5px,#f00 192.5px,#ff1300 196.5px,#ff9d00 200.5px,#ffed00 204.5px,#fcff00 206.5px,#dafa00 208.5px,#b6f500 209.5px,#4ad80a 211.5px,#20ca0a 212.5px,#0bc30b 213.5px,#0ac30a 255.5px,#5adc08 258.5px,#c2f700 261.5px,#feff00 264.5px,#ffec00 270.5px,#ffc800 289.5px,#ffba00 294.5px,#ffa400 299.5px,#ffe600 307.5px,#fff300 333.5px,#fafe00 335.5px,#bcf600 338.5px,#32d00a 342.5px,#0bc30b 344.5px,#0ac30b 395.5px,#4ed909 397.5px,#adf301 399.5px,#fffc00 402.5px,#ffa600 408.5px,#ff7200 412.5px,#ff8c00 413.5px,#ff1300 422.5px,#f00 437.5px,#ff1e00 445.5px,#ff2f00 449.5px,#ff5800 457.5px,#ff5b00)"></i><i style="left:78px;width:3px;background:linear-gradient(#05052e 0,#040437 72.5px,#02025c 85.5px,#0004eb 103.5px,#0115ff 114.5px,#295eff 119.5px,#3772ff 120.5px,#96c6ff 122.5px,#c3e4f2 124.5px,#d0ebea 125.5px,#b9ebcb 127.5px,#36d13d 130.5px,#13c818 131.5px,#0bc30b 135.5px,#49d80a 137.5px,#a7f101 139.5px,#fffb00 142.5px,#ffc500 145.5px,#fe1302 150.5px,#f90d0d 152.5px,#e62c2c 155.5px,#ad8c8c 160.5px,#a69e9e 161.5px,#b5b2b2 164.5px,#b5b2b2 177.5px,#a99696 179.5px,#f41616 186.5px,#f00 192.5px,#ff0e00 196.5px,#ff4d00 198.5px,#ffab00 201.5px,#ffe900 204.5px,#fffd00 206.5px,#e1fb00 208.5px,#c5f700 209.5px,#30d00a 212.5px,#0bc30a 213.5px,#0bc30b 255.5px,#33d10a 257.5px,#bcf600 261.5px,#fbfe00 264.5px,#ffeb00 271.5px,#ffc900 289.5px,#ffb500 295.5px,#ffa700 299.5px,#ffe600 307.5px,#fff700 334.5px,#feff00 335.5px,#a6f101 339.5px,#20ca0a 343.5px,#0ac30a 344.5px,#0ac30b 395.5px,#4ed909 397.5px,#adf301 399.5px,#fffc00 402.5px,#ffa600 408.5px,#ff7200 412.5px,#ff8b00 413.5px,#ff1400 422.5px,#ff0100 437.5px,#ff1d00 445.5px,#ff2d00 449.5px,#ff5b00)"></i><i style="left:81px;width:3px;background:linear-gradient(#05052e 0,#040437 72.5px,#03035a 85.5px,#0000d7 100.5px,#0006ee 105.5px,#0012fd 114.5px,#2354ff 119.5px,#2d66ff 120.5px,#4c85ff 121.5px,#a9d6fe 123.5px,#cbe7ef 125.5px,#c0ebd4 127.5px,#abeaba 128.5px,#1cca21 131.5px,#0bc40c 135.5px,#15c70a 136.5px,#bdf600 140.5px,#fafe00 142.5px,#ffce00 145.5px,#ff6b00 148.5px,#fb0707 151.5px,#ea2626 155.5px,#a99696 161.5px,#b4b1b1 163.5px,#ada9a9 178.5px,#ae8888 180.5px,#f21a1a 186.5px,#f00 191.5px,#ff0c00 196.5px,#ff1c00 197.5px,#ff8c00 200.5px,#ffe500 204.5px,#f6fe00 207.5px,#cff900 209.5px,#13c60a 213.5px,#12c60a 256.5px,#6de206 259.5px,#b6f500 261.5px,#f6fe00 264.5px,#ffe900 273.5px,#ffca00 289.5px,#ffb800 295.5px,#ffab00 299.5px,#ffe600 307.5px,#fff400 334.5px,#f4fe00 336.5px,#b2f400 339.5px,#29cd0a 343.5px,#10c50a 344.5px,#0ac30b 395.5px,#4ed909 397.5px,#adf301 399.5px,#fffc00 402.5px,#ffa600 408.5px,#ff7200 412.5px,#ff8a00 413.5px,#ff1400 422.5px,#ff0100 437.5px,#ff1b00 445.5px,#ff2b00 449.5px,#ff5b00)"></i><i style="left:84px;width:3px;background:linear-gradient(#05052e 0,#050536 72.5px,#030358 85.5px,#0000d5 100.5px,#0006ed 105.5px,#0014ff 115.5px,#275bff 120.5px,#336eff 121.5px,#90c0ff 123.5px,#b1dbfb 124.5px,#d0eaeb 126.5px,#bbebcd 128.5px,#13c818 132.5px,#0bc30a 136.5px,#4fd909 138.5px,#aff400 140.5px,#eefd00 142.5px,#fff700 143.5px,#ffbe00 146.5px,#fc0606 151.5px,#ee2020 155.5px,#ac8e8e 161.5px,#a6a0a0 162.5px,#b2afaf 164.5px,#afacac 178.5px,#a69d9d 179.5px,#d05050 183.5px,#f61212 187.5px,#f00 193.5px,#ff1400 197.5px,#ff8400 200.5px,#ffe000 204.5px,#fbfe00 207.5px,#d9fa00 209.5px,#b3f500 210.5px,#46d70a 212.5px,#1eca0a 213.5px,#0bc30b 214.5px,#0cc40a 256.5px,#62df07 259.5px,#c7f800 262.5px,#fffd00 265.5px,#ffeb00 272.5px,#ffcb00 289.5px,#ffbc00 295.5px,#ffb000 299.5px,#ffe700 307.5px,#fff200 334.5px,#fbfe00 336.5px,#bdf600 339.5px,#33d10a 343.5px,#0bc30b 345.5px,#0ac30b 395.5px,#4ed909 397.5px,#adf301 399.5px,#fffc00 402.5px,#ffa600 408.5px,#ff7200 412.5px,#ff8900 413.5px,#ff1400 422.5px,#ff0200 438.5px,#ff1a00 445.5px,#ff2900 449.5px,#ff5b00)"></i><i style="left:87px;width:3px;background:linear-gradient(#05052e 0,#040437 73.5px,#02025d 86.5px,#0002e9 103.5px,#0218ff 116.5px,#2b62ff 121.5px,#417bff 122.5px,#a1cfff 124.5px,#ceebe6 127.5px,#b1ebc1 129.5px,#1fcb25 132.5px,#0ec50f 135.5px,#18c80a 137.5px,#c3f700 141.5px,#fefd00 143.5px,#ffc800 146.5px,#ff1c00 151.5px,#fb0808 152.5px,#e92828 156.5px,#a99797 162.5px,#b0acac 164.5px,#b0acac 178.5px,#a59f9f 179.5px,#ce5353 183.5px,#f51313 187.5px,#f00 193.5px,#ff1000 197.5px,#ff9800 201.5px,#ffeb00 205.5px,#feff00 207.5px,#ddfb00 209.5px,#bdf600 210.5px,#28cd0a 213.5px,#0ac30b 214.5px,#0ac30b 256.5px,#56db09 259.5px,#c0f700 262.5px,#fdff00 265.5px,#ffec00 271.5px,#fc0 289.5px,#ffc000 295.5px,#ffba00 300.5px,#ffe900 308.5px,#fff600 335.5px,#f1fd00 337.5px,#acf301 340.5px,#24cc0a 344.5px,#0cc40a 345.5px,#0ac30b 395.5px,#4ed909 397.5px,#adf301 399.5px,#fffc00 402.5px,#ffa600 408.5px,#ff7200 412.5px,#ff8700 413.5px,#ff1400 422.5px,#ff0300 438.5px,#ff3100 451.5px,#ff5700 457.5px,#ff5b00)"></i><i style="left:90px;width:3px;background:linear-gradient(#05052e 0,#040437 73.5px,#02025b 86.5px,#0004eb 104.5px,#0013fe 116.5px,#2556ff 121.5px,#2f68ff 122.5px,#acd8fe 125.5px,#cde8ee 127.5px,#beebd1 129.5px,#a0e9ae 130.5px,#13c818 133.5px,#0bc30a 137.5px,#53db09 139.5px,#b5f500 141.5px,#f5fe00 143.5px,#ffd100 146.5px,#ff7100 149.5px,#fc0707 152.5px,#ed2121 156.5px,#a69e9e 163.5px,#ada9a9 166.5px,#ada9a9 178.5px,#ac8e8e 180.5px,#f51414 187.5px,#f00 193.5px,#ff0e00 197.5px,#ff4c00 199.5px,#ffab00 202.5px,#ffe900 205.5px,#fffd00 207.5px,#e1fb00 209.5px,#c6f700 210.5px,#31d00a 213.5px,#0bc30a 214.5px,#0bc30b 256.5px,#2ecf0a 258.5px,#b8f600 262.5px,#f8fe00 265.5px,#ffec00 272.5px,#ffce00 289.5px,#ffc000 300.5px,#ffe900 308.5px,#fff300 335.5px,#f9fe00 337.5px,#baf600 340.5px,#30d00a 344.5px,#0bc30b 346.5px,#0ac30b 395.5px,#4ed909 397.5px,#adf301 399.5px,#fffc00 402.5px,#ffa600 408.5px,#ff7200 412.5px,#ff8600 413.5px,#ff1500 422.5px,#ff0300 438.5px,#ff2f00 451.5px,#ff5b00)"></i><i style="left:93px;width:3px;background:linear-gradient(#05052e 0,#040437 73.5px,#03035a 86.5px,#0000ce 100.5px,#0005ed 105.5px,#0115ff 117.5px,#285cff 122.5px,#3570ff 123.5px,#93c3ff 125.5px,#b2dbfb 126.5px,#d0eaea 128.5px,#b7ebc9 130.5px,#26cd2c 133.5px,#12c717 134.5px,#0bc40c 137.5px,#1ac80a 138.5px,#70e206 140.5px,#c8f800 142.5px,#fff900 144.5px,#ffc100 147.5px,#ff3500 151.5px,#fd0c04 152.5px,#f11b1b 156.5px,#aa9494 163.5px,#a9a5a5 165.5px,#a5a0a0 179.5px,#f41616 187.5px,#f00 193.5px,#ff0c00 197.5px,#ff1d00 198.5px,#ff8d00 201.5px,#ffe500 205.5px,#f6fe00 208.5px,#cef800 210.5px,#12c60a 214.5px,#0dc40a 257.5px,#64df07 260.5px,#c8f800 263.5px,#fffd00 266.5px,#ffec00 273.5px,#ffd000 289.5px,#ffc600 300.5px,#ffe900 309.5px,#fff100 335.5px,#fffe00 337.5px,#aaf201 341.5px,#22cb0a 345.5px,#0bc30a 346.5px,#0ac30b 395.5px,#4ed909 397.5px,#adf301 399.5px,#fffc00 402.5px,#ffa600 408.5px,#ff7200 412.5px,#ff8500 413.5px,#ff1500 422.5px,#ff0300 438.5px,#ff2e00 451.5px,#ff5b00)"></i><i style="left:96px;width:3px;background:linear-gradient(#05052e 0,#050536 73.5px,#030358 86.5px,#0000d5 101.5px,#0006ed 106.5px,#0319ff 118.5px,#2c63ff 123.5px,#447eff 124.5px,#a3d1ff 126.5px,#c8e6f0 128.5px,#cdebe5 129.5px,#a9eab8 131.5px,#14c819 134.5px,#0bc40a 138.5px,#5adc08 140.5px,#bcf600 142.5px,#fdfe00 144.5px,#ffca00 147.5px,#ff1f00 152.5px,#fb0808 153.5px,#ec2323 157.5px,#a79a9a 164.5px,#a69e9e 179.5px,#f31818 187.5px,#f00 193.5px,#ff0b00 197.5px,#ff1600 198.5px,#ff8700 201.5px,#ffe200 205.5px,#f9fe00 208.5px,#d6f900 210.5px,#77e406 212.5px,#1ac80a 214.5px,#0bc30b 215.5px,#0ac30a 257.5px,#58dc08 260.5px,#c1f700 263.5px,#feff00 266.5px,#ffed00 272.5px,#ffd200 289.5px,#fc0 300.5px,#ffe900 309.5px,#ffea00 324.5px,#fff300 336.5px,#f8fe00 338.5px,#b9f600 341.5px,#2fcf0a 345.5px,#0bc30b 347.5px,#0ac30b 395.5px,#4ed909 397.5px,#adf301 399.5px,#fffc00 402.5px,#ffa600 408.5px,#ff7200 412.5px,#ff8300 413.5px,#ff1600 422.5px,#ff0300 438.5px,#ff2b00 451.5px,#ff5b00)"></i><i style="left:99px;width:3px;background:linear-gradient(#05052e 0,#050536 73.5px,#030357 86.5px,#0000d4 101.5px,#0006ed 106.5px,#0013fe 118.5px,#2658ff 123.5px,#306aff 124.5px,#afd9fd 127.5px,#cfe9ed 129.5px,#bbebcd 131.5px,#61dd6b 133.5px,#29ce30 134.5px,#12c717 135.5px,#0bc40c 138.5px,#1eca0a 139.5px,#7ae505 141.5px,#d1f900 143.5px,#f2fd00 144.5px,#ffe300 146.5px,#ffb700 148.5px,#fc0707 153.5px,#f01c1c 157.5px,#ab9090 164.5px,#a79b9b 167.5px,#a79b9b 179.5px,#cb5757 183.5px,#f61111 188.5px,#f00 195.5px,#ff1200 198.5px,#ff9c00 202.5px,#ffed00 206.5px,#fcff00 208.5px,#dbfa00 210.5px,#b7f500 211.5px,#4ad80a 213.5px,#21cb0a 214.5px,#0bc30b 215.5px,#0bc30b 257.5px,#30d00a 259.5px,#b9f600 263.5px,#f9fe00 266.5px,#ffec00 273.5px,#ffd300 289.5px,#ffd500 301.5px,#ffe600 310.5px,#ffe300 321.5px,#fff600 337.5px,#effd00 339.5px,#a8f201 342.5px,#21cb0a 346.5px,#0bc30a 347.5px,#0ac30b 395.5px,#4ed909 397.5px,#adf301 399.5px,#fffc00 402.5px,#ffa600 408.5px,#ff7200 412.5px,#ff8100 413.5px,#ff1700 422.5px,#ff0300 438.5px,#ff2800 451.5px,#ff5b00)"></i><i style="left:102px;width:3px;background:linear-gradient(#05052e 0,#040437 74.5px,#02025d 87.5px,#0002e9 104.5px,#0217ff 119.5px,#2a60ff 124.5px,#3d78ff 125.5px,#9dccff 127.5px,#cfebe7 130.5px,#adeabc 132.5px,#14c818 135.5px,#0fc50a 139.5px,#c6f700 143.5px,#fff900 145.5px,#ffc100 148.5px,#ff3400 152.5px,#fd0b04 153.5px,#f31717 157.5px,#a99595 165.5px,#a99595 179.5px,#cc5656 183.5px,#f61111 188.5px,#f00 195.5px,#ff1000 198.5px,#ff9800 202.5px,#ffeb00 206.5px,#ff0 208.5px,#ddfb00 210.5px,#bdf600 211.5px,#27cd0a 214.5px,#0ac30b 215.5px,#0ec40a 258.5px,#67e007 261.5px,#b1f400 263.5px,#fffc00 267.5px,#ffec00 274.5px,#ffd500 289.5px,#ffdc00 302.5px,#ffe200 311.5px,#fd0 320.5px,#fffa00 338.5px,#e5fb00 340.5px,#b8f500 342.5px,#2ecf0a 346.5px,#14c60a 347.5px,#0ec510 351.5px,#0ac30b 395.5px,#4ed909 397.5px,#adf301 399.5px,#fffc00 402.5px,#ffa600 408.5px,#ff7200 412.5px,#ff7e00 413.5px,#ff1800 422.5px,#ff0300 438.5px,#ff2600 451.5px,#ff5c00)"></i><i style="left:105px;width:3px;background:linear-gradient(#05052e 0,#040437 74.5px,#02025c 87.5px,#0002e8 104.5px,#0013fe 119.5px,#2557ff 124.5px,#2f69ff 125.5px,#aed9fd 128.5px,#cee9ed 130.5px,#bbebcd 132.5px,#5edd67 134.5px,#23cc29 135.5px,#10c612 137.5px,#0bc30b 139.5px,#55db09 141.5px,#bcf600 143.5px,#fffe00 145.5px,#ffc700 148.5px,#ff1b00 153.5px,#fb0808 154.5px,#ee1f1f 158.5px,#ac8d8d 165.5px,#ab9090 179.5px,#c16666 182.5px,#f61212 188.5px,#f00 195.5px,#ff0f00 198.5px,#ff9500 202.5px,#ffea00 206.5px,#fffe00 208.5px,#e0fb00 210.5px,#c2f700 211.5px,#2cce0a 214.5px,#0ac30a 215.5px,#0ac30a 258.5px,#5cdd08 261.5px,#c3f700 264.5px,#ff0 267.5px,#ffed00 273.5px,#ffd800 290.5px,#ffe400 304.5px,#ffd600 319.5px,#fe0 333.5px,#fefe00 339.5px,#a6f101 343.5px,#20ca0a 347.5px,#0ac30a 348.5px,#0ac30b 395.5px,#4ed909 397.5px,#adf301 399.5px,#fffc00 402.5px,#ffa600 408.5px,#ff7200 412.5px,#ff7b00 413.5px,#ff1900 422.5px,#ff0400 439.5px,#ff2300 451.5px,#ff5c00)"></i><i style="left:108px;width:3px;background:linear-gradient(#05052e 0,#040437 74.5px,#02025c 87.5px,#0004eb 105.5px,#0218ff 120.5px,#2b62ff 125.5px,#427cff 126.5px,#a2d0ff 128.5px,#c7e6f0 130.5px,#ceebe5 131.5px,#c0ebd4 132.5px,#a5e9b3 133.5px,#37d23e 135.5px,#13c717 136.5px,#0bc40c 139.5px,#1eca0a 140.5px,#7ee605 142.5px,#b3f500 143.5px,#fafe00 145.5px,#fc0 148.5px,#fb0707 154.5px,#f11b1b 158.5px,#af8686 165.5px,#b08484 180.5px,#f21919 187.5px,#f00 194.5px,#ff0e00 198.5px,#ff4c00 200.5px,#ffab00 203.5px,#ffe900 206.5px,#fffd00 208.5px,#e1fb00 210.5px,#c6f700 211.5px,#31d00a 214.5px,#0ac30a 215.5px,#0bc30b 258.5px,#33d10a 260.5px,#bdf600 264.5px,#fbfe00 267.5px,#ffed00 273.5px,#ffda00 290.5px,#ffe300 309.5px,#ffce00 318.5px,#fe0 331.5px,#fff400 338.5px,#f5fe00 340.5px,#b4f500 343.5px,#2bce0a 347.5px,#11c50a 348.5px,#0ac30b 395.5px,#4ed909 397.5px,#adf301 399.5px,#fffc00 402.5px,#ffa600 408.5px,#ff7200 412.5px,#ff6f00 414.5px,#ff1a00 422.5px,#ff0400 439.5px,#ff1500 450.5px,#ff5c00)"></i><i style="left:111px;width:3px;background:linear-gradient(#05052e 0,#040437 74.5px,#02025c 87.5px,#0004eb 105.5px,#0015ff 120.5px,#285dff 125.5px,#3470ff 126.5px,#94c4ff 128.5px,#c3e3f3 130.5px,#d1ebea 131.5px,#b2ebc2 133.5px,#14c818 136.5px,#0cc40d 139.5px,#15c70a 140.5px,#73e306 142.5px,#aaf201 143.5px,#f4fe00 145.5px,#ffd000 148.5px,#ff6f00 151.5px,#fc0707 154.5px,#eb2424 159.5px,#af8585 166.5px,#b18181 180.5px,#f21919 187.5px,#f00 194.5px,#ff0d00 198.5px,#ff2300 199.5px,#ff9100 202.5px,#ffe800 206.5px,#f3fd00 209.5px,#c8f800 211.5px,#0cc40a 215.5px,#0bc30b 258.5px,#13c60a 259.5px,#6ee206 262.5px,#b7f500 264.5px,#f7fe00 267.5px,#ffed00 274.5px,#ffdc00 290.5px,#ffe100 309.5px,#ffc400 317.5px,#ffed00 329.5px,#fff800 339.5px,#eafc00 341.5px,#9fef02 344.5px,#35d10a 347.5px,#0ac30b 349.5px,#0ac30b 395.5px,#4ed909 397.5px,#adf301 399.5px,#fffc00 402.5px,#ffa600 408.5px,#ff7200 412.5px,#ff6c00 414.5px,#ff1b00 422.5px,#ff0400 439.5px,#ff1d00 451.5px,#ff5c00)"></i><i style="left:114px;width:3px;background:linear-gradient(#05052e 0,#040437 74.5px,#02025c 87.5px,#0004eb 105.5px,#0014fe 120.5px,#2759ff 125.5px,#316bff 126.5px,#b0dafc 129.5px,#d0eaec 131.5px,#b7ebc9 133.5px,#14c819 136.5px,#10c50a 140.5px,#6de206 142.5px,#cdf800 144.5px,#f1fd00 145.5px,#ffe300 147.5px,#ffb800 149.5px,#fc0606 154.5px,#ed2121 159.5px,#b18181 166.5px,#b27e7e 180.5px,#f31818 187.5px,#f00 194.5px,#ff0d00 198.5px,#ff2100 199.5px,#ff9000 202.5px,#ffe700 206.5px,#f4fe00 209.5px,#caf800 211.5px,#0dc40a 215.5px,#0ec40a 259.5px,#66e007 262.5px,#b1f400 264.5px,#fffc00 268.5px,#ffec00 275.5px,#ffde00 290.5px,#ffe300 308.5px,#ffbc00 317.5px,#ffeb00 328.5px,#fff600 339.5px,#f0fd00 341.5px,#abf301 344.5px,#23cb0a 348.5px,#0bc30a 349.5px,#0ac30b 395.5px,#4ed909 397.5px,#adf301 399.5px,#fffc00 402.5px,#ffa600 408.5px,#ff7200 412.5px,#ff5400 416.5px,#ff1c00 422.5px,#ff0400 440.5px,#ff1a00 451.5px,#ff5c00)"></i><i style="left:117px;width:3px;background:linear-gradient(#05052e 0,#040437 74.5px,#02025c 87.5px,#0004eb 105.5px,#0013fe 120.5px,#2658ff 125.5px,#306aff 126.5px,#afd9fd 129.5px,#cfe9ed 131.5px,#b9ebca 133.5px,#16c91b 136.5px,#0ec40a 140.5px,#6be107 142.5px,#ccf800 144.5px,#f0fd00 145.5px,#ffe300 147.5px,#ffb800 149.5px,#fc0606 154.5px,#ee2020 159.5px,#b27e7e 166.5px,#b37b7b 180.5px,#f31717 187.5px,#f00 194.5px,#ff0d00 198.5px,#ff2100 199.5px,#ff8f00 202.5px,#ffe700 206.5px,#f4fe00 209.5px,#caf800 211.5px,#0ec40a 215.5px,#0ac30a 259.5px,#5fde08 262.5px,#c5f700 265.5px,#fffe00 268.5px,#ffed00 274.5px,#ffe100 291.5px,#ffe200 308.5px,#ffb500 317.5px,#ffeb00 328.5px,#fff400 339.5px,#f5fe00 341.5px,#b5f500 344.5px,#2bce0a 348.5px,#11c50a 349.5px,#0ac30b 395.5px,#4ed909 397.5px,#adf301 399.5px,#fffc00 402.5px,#ffa600 408.5px,#ff7200 412.5px,#ff1d00 422.5px,#ff0400 440.5px,#ff1700 451.5px,#ff5c00)"></i><i style="left:120px;width:3px;background:linear-gradient(#05052e 0,#040437 74.5px,#02025c 87.5px,#0002e8 104.5px,#0014fe 120.5px,#275aff 125.5px,#316cff 126.5px,#b0dafc 129.5px,#d0eaec 131.5px,#b7ebc8 133.5px,#14c819 136.5px,#10c50a 140.5px,#6de206 142.5px,#cdf800 144.5px,#f0fd00 145.5px,#ffe300 147.5px,#ffb800 149.5px,#fc0606 154.5px,#ef1f1f 159.5px,#b37b7b 166.5px,#b47878 180.5px,#f41616 187.5px,#f00 194.5px,#ff0d00 198.5px,#ff2100 199.5px,#ff9000 202.5px,#ffe700 206.5px,#f4fe00 209.5px,#caf800 211.5px,#0dc40a 215.5px,#0ac30a 259.5px,#5add08 262.5px,#c2f700 265.5px,#ff0 268.5px,#ffed00 274.5px,#ffe200 291.5px,#ffe100 308.5px,#ffb000 316.5px,#ffc900 321.5px,#ffec00 329.5px,#fff300 339.5px,#f9fe00 341.5px,#baf600 344.5px,#31d00a 348.5px,#0bc30b 350.5px,#0ac30b 395.5px,#4ed909 397.5px,#adf301 399.5px,#fffc00 402.5px,#ffa600 408.5px,#ff7200 412.5px,#ff1e00 422.5px,#ff0400 441.5px,#ff1400 451.5px,#ff5c00)"></i><i style="left:123px;width:3px;background:linear-gradient(#05052e 0,#040437 74.5px,#02025d 87.5px,#0002e9 104.5px,#0014ff 120.5px,#285cff 125.5px,#336fff 126.5px,#93c3ff 128.5px,#b2dbfb 129.5px,#d1ebeb 131.5px,#b3ebc3 133.5px,#14c818 136.5px,#14c60a 140.5px,#72e306 142.5px,#a9f201 143.5px,#f3fd00 145.5px,#ffe200 147.5px,#ffb600 149.5px,#fc0606 154.5px,#ef1e1e 159.5px,#b47979 166.5px,#b77474 180.5px,#f51515 187.5px,#f00 195.5px,#ff0d00 198.5px,#ff2300 199.5px,#ff9100 202.5px,#ffe800 206.5px,#f3fd00 209.5px,#c8f800 211.5px,#0cc40a 215.5px,#0ac30b 259.5px,#57dc08 262.5px,#c0f700 265.5px,#fdff00 268.5px,#ffed00 274.5px,#ffe500 292.5px,#ffe100 308.5px,#ffac00 316.5px,#ffc600 321.5px,#ffea00 328.5px,#fff800 340.5px,#eafc00 342.5px,#9eef02 345.5px,#34d10a 348.5px,#0ac30b 350.5px,#0ac30b 395.5px,#4ed909 397.5px,#adf301 399.5px,#fffc00 402.5px,#ffa600 408.5px,#ff6900 413.5px,#ff1f00 422.5px,#ff0300 441.5px,#ff1300 451.5px,#ff5c00)"></i><i style="left:126px;width:3px;background:linear-gradient(#05052e 0,#050536 73.5px,#030357 86.5px,#0000d4 101.5px,#0006ed 106.5px,#0117ff 120.5px,#2a60ff 125.5px,#3d77ff 126.5px,#9dcbff 128.5px,#c6e5f1 130.5px,#cfebe7 131.5px,#abeaba 133.5px,#3ed446 135.5px,#13c818 136.5px,#0cc40c 139.5px,#19c80a 140.5px,#78e505 142.5px,#aef301 143.5px,#f6fe00 145.5px,#ffcf00 148.5px,#ff6d00 151.5px,#fc0707 154.5px,#ef1e1e 159.5px,#b57676 166.5px,#ba7070 180.5px,#f51414 187.5px,#f00 195.5px,#ff0e00 198.5px,#ff4c00 200.5px,#fa0 203.5px,#ffe900 206.5px,#fffd00 208.5px,#e2fb00 210.5px,#c6f700 211.5px,#0ac30a 215.5px,#0ac30b 259.5px,#56db09 262.5px,#bff700 265.5px,#fdff00 268.5px,#fe0 274.5px,#ffe700 293.5px,#ffe100 308.5px,#ffab00 316.5px,#ffc500 321.5px,#ffea00 328.5px,#fff800 340.5px,#ebfc00 342.5px,#a0f002 345.5px,#36d20a 348.5px,#0ac30b 350.5px,#0ac30b 395.5px,#4ed909 397.5px,#adf301 399.5px,#fffc00 402.5px,#ffa600 408.5px,#ff6700 413.5px,#ff2000 422.5px,#ff0300 441.5px,#ff1200 451.5px,#ff5d00)"></i><i style="left:129px;width:3px;background:linear-gradient(#05052e 0,#050536 73.5px,#030359 86.5px,#0000d6 101.5px,#0006ed 106.5px,#031aff 120.5px,#2d65ff 125.5px,#4982ff 126.5px,#a8d5ff 128.5px,#cae7ef 130.5px,#bfebd2 132.5px,#9ee8ac 133.5px,#31d038 135.5px,#13c717 136.5px,#0bc40c 139.5px,#20ca0a 140.5px,#81e705 142.5px,#b5f500 143.5px,#fafe00 145.5px,#fc0 148.5px,#fc0707 154.5px,#ef1f1f 159.5px,#b77373 166.5px,#bc6c6c 180.5px,#f51313 187.5px,#f00 195.5px,#ff0e00 198.5px,#ff4f00 200.5px,#ffac00 203.5px,#ffe900 206.5px,#fffd00 208.5px,#e0fb00 210.5px,#c3f700 211.5px,#2ecf0a 214.5px,#0ac30a 215.5px,#0ac30b 259.5px,#57dc08 262.5px,#c0f700 265.5px,#fdff00 268.5px,#fe0 274.5px,#ffe900 294.5px,#ffe100 308.5px,#ffab00 316.5px,#ffc600 321.5px,#ffea00 328.5px,#fff800 340.5px,#eafc00 342.5px,#a0ef02 345.5px,#36d20a 348.5px,#0ac30b 350.5px,#0ac30b 395.5px,#4ed909 397.5px,#adf301 399.5px,#fffc00 402.5px,#ffa600 408.5px,#f60 413.5px,#ff2000 422.5px,#ff0300 441.5px,#ff1200 451.5px,#ff5d00)"></i><i style="left:132px;width:3px;background:linear-gradient(#05052e 0,#040437 73.5px,#02025a 86.5px,#0000d8 101.5px,#0007ef 107.5px,#0013fe 119.5px,#2658ff 124.5px,#306aff 125.5px,#aed9fd 128.5px,#cee9ed 130.5px,#bbebcd 132.5px,#5edd67 134.5px,#23cc29 135.5px,#10c612 137.5px,#0bc30b 139.5px,#54db09 141.5px,#bbf600 143.5px,#fffe00 145.5px,#ffc800 148.5px,#ff1c00 153.5px,#fb0707 154.5px,#ee2020 159.5px,#bb6f6f 165.5px,#b97171 179.5px,#f61313 187.5px,#f00 195.5px,#ff1000 198.5px,#ff9700 202.5px,#ffea00 206.5px,#fffe00 208.5px,#dffb00 210.5px,#bff700 211.5px,#2ace0a 214.5px,#0ac30a 215.5px,#0ac30a 259.5px,#5cdd08 262.5px,#c3f700 265.5px,#ff0 268.5px,#fe0 273.5px,#ffeb00 297.5px,#fd0 309.5px,#ffae00 316.5px,#ffc800 321.5px,#ffeb00 328.5px,#fff900 340.5px,#e9fc00 342.5px,#9def02 345.5px,#33d10a 348.5px,#0bc30b 350.5px,#0ac30b 395.5px,#4ed909 397.5px,#adf301 399.5px,#fffc00 402.5px,#ffa600 408.5px,#f60 413.5px,#ff2000 422.5px,#ff0300 441.5px,#ff1200 451.5px,#ff5d00)"></i><i style="left:135px;width:3px;background:linear-gradient(#05052e 0,#040437 73.5px,#02025c 86.5px,#0004eb 104.5px,#0015ff 119.5px,#295dff 124.5px,#3571ff 125.5px,#95c4ff 127.5px,#c3e3f3 129.5px,#d1ebea 130.5px,#b4ebc4 132.5px,#16c81b 135.5px,#0bc30a 139.5px,#5fde08 141.5px,#c1f700 143.5px,#fffb00 145.5px,#ffc400 148.5px,#ff1700 153.5px,#fb0808 154.5px,#ee2020 159.5px,#bb6e6e 165.5px,#bb6e6e 179.5px,#f61212 187.5px,#f00 195.5px,#f10 198.5px,#ff9a00 202.5px,#ffec00 206.5px,#feff00 208.5px,#ddfa00 210.5px,#bbf600 211.5px,#25cc0a 214.5px,#0ac30b 215.5px,#0dc40a 259.5px,#65df07 262.5px,#c9f800 265.5px,#fffd00 268.5px,#fe0 274.5px,#ffe200 308.5px,#ffb300 317.5px,#ffeb00 328.5px,#fff300 339.5px,#f9fe00 341.5px,#baf600 344.5px,#30d00a 348.5px,#0bc30b 350.5px,#0ac30b 395.5px,#4ed909 397.5px,#adf301 399.5px,#fffc00 402.5px,#ffa600 408.5px,#f60 413.5px,#ff2000 422.5px,#ff0300 441.5px,#ff1200 451.5px,#ff5d00)"></i><i style="left:138px;width:3px;background:linear-gradient(#05052e 0,#050536 72.5px,#030357 85.5px,#0000d4 100.5px,#0006ed 105.5px,#0319ff 119.5px,#2c64ff 124.5px,#4680ff 125.5px,#a6d3ff 127.5px,#c9e6f0 129.5px,#cdebe4 130.5px,#c0ebd4 131.5px,#a5e9b3 132.5px,#3cd343 134.5px,#13c818 135.5px,#13c60a 139.5px,#6ce107 141.5px,#c9f800 143.5px,#fff700 145.5px,#ffbe00 148.5px,#ff3100 152.5px,#fc0606 153.5px,#ed2222 159.5px,#bc6c6c 165.5px,#bc6c6c 179.5px,#f61111 187.5px,#f00 195.5px,#ff1300 198.5px,#ff8300 201.5px,#ffdf00 205.5px,#fcff00 208.5px,#dafa00 210.5px,#b6f500 211.5px,#48d80a 213.5px,#20ca0a 214.5px,#0bc30b 215.5px,#0bc30b 258.5px,#2fcf0a 260.5px,#b9f600 264.5px,#f8fe00 267.5px,#fe0 274.5px,#ffe200 308.5px,#ffba00 317.5px,#ffeb00 328.5px,#fff400 339.5px,#f6fe00 341.5px,#b5f500 344.5px,#2bce0a 348.5px,#12c60a 349.5px,#0ac30b 395.5px,#4ed909 397.5px,#adf301 399.5px,#fffc00 402.5px,#ffa600 408.5px,#f60 413.5px,#ff2000 422.5px,#ff0300 441.5px,#ff1200 451.5px,#ff5d00)"></i><i style="left:141px;width:3px;background:linear-gradient(#05052e 0,#040437 72.5px,#03035a 85.5px,#0000d7 100.5px,#0006ee 105.5px,#0014fe 118.5px,#275aff 123.5px,#326dff 124.5px,#b0dafc 127.5px,#d0eaec 129.5px,#b9ebcb 131.5px,#25cd2b 134.5px,#12c716 135.5px,#0bc40c 138.5px,#1fca0a 139.5px,#7be505 141.5px,#aef301 142.5px,#f2fd00 144.5px,#ffe300 146.5px,#ffb700 148.5px,#fc0606 153.5px,#ec2323 159.5px,#be6a6a 165.5px,#bf6969 179.5px,#f51414 186.5px,#f00 194.5px,#ff1600 198.5px,#ff8700 201.5px,#ffe200 205.5px,#f9fe00 208.5px,#d5f900 210.5px,#77e406 212.5px,#1ac80a 214.5px,#0bc30b 215.5px,#0ac30a 258.5px,#5adc08 261.5px,#c2f700 264.5px,#feff00 267.5px,#fe0 273.5px,#ffe300 308.5px,#ffc100 317.5px,#ffed00 329.5px,#fff600 339.5px,#f1fd00 341.5px,#adf301 344.5px,#25cc0a 348.5px,#0cc40a 349.5px,#0ac30b 395.5px,#4ed909 397.5px,#adf301 399.5px,#fffc00 402.5px,#ffa600 408.5px,#f60 413.5px,#ff2000 422.5px,#ff0300 441.5px,#ff1200 451.5px,#ff5d00)"></i><i style="left:144px;width:3px;background:linear-gradient(#05052e 0,#040437 72.5px,#02025c 85.5px,#0004eb 103.5px,#0319ff 118.5px,#2c64ff 123.5px,#4780ff 124.5px,#a6d3ff 126.5px,#c9e7ef 128.5px,#c0ebd4 130.5px,#a8eab7 131.5px,#14c819 134.5px,#0bc30a 138.5px,#57dc08 140.5px,#b9f600 142.5px,#fafe00 144.5px,#fc0 147.5px,#ff6900 150.5px,#fc0707 153.5px,#eb2424 159.5px,#c06767 165.5px,#c26464 179.5px,#f51313 186.5px,#f00 194.5px,#ff0c00 197.5px,#ff1c00 198.5px,#ff8c00 201.5px,#ffe500 205.5px,#f6fe00 208.5px,#cff900 210.5px,#13c60a 214.5px,#11c50a 258.5px,#6be107 261.5px,#b4f500 263.5px,#f5fe00 266.5px,#ffef00 270.5px,#ffe200 309.5px,#fc0 318.5px,#fe0 330.5px,#fff800 339.5px,#ecfc00 341.5px,#a3f002 344.5px,#38d20a 347.5px,#0ac30a 349.5px,#0ac30b 395.5px,#4ed909 397.5px,#adf301 399.5px,#fffc00 402.5px,#ffa600 408.5px,#f60 413.5px,#ff2000 422.5px,#ff0300 441.5px,#ff1200 451.5px,#ff5d00)"></i><i style="left:147px;width:3px;background:linear-gradient(#05052e 0,#050536 71.5px,#030358 84.5px,#0000d5 99.5px,#0006ed 104.5px,#0115ff 117.5px,#285dff 122.5px,#3671ff 123.5px,#94c4ff 125.5px,#c3e3f3 127.5px,#d0ebea 128.5px,#b7ebc9 130.5px,#28ce2e 133.5px,#13c717 134.5px,#0cc40c 137.5px,#15c70a 138.5px,#c3f700 142.5px,#fffd00 144.5px,#ffc600 147.5px,#ff1a00 152.5px,#fb0707 153.5px,#f01c1c 158.5px,#c36262 164.5px,#c65e5e 179.5px,#f61212 186.5px,#f00 194.5px,#ff0d00 197.5px,#ff2300 198.5px,#ff9100 201.5px,#ffe800 205.5px,#f3fd00 208.5px,#c8f800 210.5px,#0cc40a 214.5px,#0ac30a 257.5px,#58dc08 260.5px,#c0f700 263.5px,#fdff00 266.5px,#ffef00 272.5px,#ffe100 310.5px,#ffd600 319.5px,#ffef00 332.5px,#fffa00 339.5px,#e5fc00 341.5px,#97ed03 344.5px,#2fcf0a 347.5px,#0bc30b 349.5px,#0ac30b 395.5px,#4ed909 397.5px,#adf301 399.5px,#fffc00 402.5px,#ffa600 408.5px,#f60 413.5px,#ff2000 422.5px,#ff0300 441.5px,#ff1200 451.5px,#ff5d00)"></i><i style="left:150px;width:3px;background:linear-gradient(#05052e 0,#040437 71.5px,#02025c 84.5px,#0004eb 102.5px,#0013fe 116.5px,#2557ff 121.5px,#2f69ff 122.5px,#add8fd 125.5px,#cde9ed 127.5px,#beebd1 129.5px,#a1e9af 130.5px,#14c819 133.5px,#0bc30b 137.5px,#4ad80a 139.5px,#abf301 141.5px,#ecfc00 143.5px,#fff800 144.5px,#ffbf00 147.5px,#fd0b04 152.5px,#ef1d1d 158.5px,#c36262 164.5px,#c36262 178.5px,#f61111 186.5px,#f00 194.5px,#ff0f00 197.5px,#ff9600 201.5px,#ffea00 205.5px,#fffe00 207.5px,#dffb00 209.5px,#c0f700 210.5px,#2bce0a 213.5px,#0ac30a 214.5px,#13c60a 257.5px,#6de206 260.5px,#b5f500 262.5px,#f5fe00 265.5px,#ffef00 269.5px,#ffe200 311.5px,#fd0 320.5px,#fff600 338.5px,#f0fd00 340.5px,#adf301 343.5px,#26cc0a 347.5px,#0dc40a 348.5px,#0ac30b 395.5px,#4ed909 397.5px,#adf301 399.5px,#fffc00 402.5px,#ffa600 408.5px,#f60 413.5px,#ff2000 422.5px,#ff0300 441.5px,#ff1200 451.5px,#ff5d00)"></i><i style="left:153px;width:3px;background:linear-gradient(#05052e 0,#040437 71.5px,#030358 83.5px,#0000d5 98.5px,#0006ed 103.5px,#0218ff 116.5px,#2c63ff 121.5px,#447dff 122.5px,#a3d0ff 124.5px,#c8e6f0 126.5px,#ceebe6 127.5px,#b1ebc2 129.5px,#24cc2a 132.5px,#12c717 133.5px,#10c50a 137.5px,#b8f600 141.5px,#f5fe00 143.5px,#ffd100 146.5px,#ff7200 149.5px,#fc0606 152.5px,#ee1f1f 158.5px,#c55f5f 164.5px,#c55f5f 178.5px,#f71010 186.5px,#f00 194.5px,#ff1200 197.5px,#ff9b00 201.5px,#ffec00 205.5px,#fdff00 207.5px,#dbfa00 209.5px,#b8f600 210.5px,#4cd909 212.5px,#22cb0a 213.5px,#0bc30b 214.5px,#0cc40a 256.5px,#5ede08 259.5px,#c4f700 262.5px,#fdfe00 265.5px,#fff000 271.5px,#ffe100 313.5px,#fffa00 338.5px,#e8fc00 340.5px,#9eef02 343.5px,#35d10a 346.5px,#0ac30b 348.5px,#0ac30b 395.5px,#4ed909 397.5px,#adf301 399.5px,#fffc00 402.5px,#ffa600 408.5px,#f60 413.5px,#ff2000 422.5px,#ff0300 441.5px,#ff1200 451.5px,#ff5d00)"></i><i style="left:156px;width:3px;background:linear-gradient(#05052e 0,#040437 70.5px,#02025c 83.5px,#0004eb 101.5px,#0115ff 115.5px,#285dff 120.5px,#3671ff 121.5px,#94c4ff 123.5px,#c3e3f3 125.5px,#d0eaea 126.5px,#baebcd 128.5px,#13c818 132.5px,#0bc30b 136.5px,#42d60a 138.5px,#c3f700 141.5px,#fdfe00 143.5px,#ffca00 146.5px,#ff1f00 151.5px,#fc0707 152.5px,#ed2121 158.5px,#c75c5c 164.5px,#c95a5a 178.5px,#f61212 185.5px,#f00 193.5px,#ff1800 197.5px,#ff8900 200.5px,#ffe300 204.5px,#f8fe00 207.5px,#d3f900 209.5px,#74e406 211.5px,#18c80a 213.5px,#0cc40e 215.5px,#0bc30b 255.5px,#33d10a 257.5px,#bbf600 261.5px,#f8fe00 264.5px,#fff100 272.5px,#ffe900 322.5px,#fff600 337.5px,#f2fd00 339.5px,#b1f400 342.5px,#2ace0a 346.5px,#11c50a 347.5px,#0ac30b 395.5px,#4ed909 397.5px,#adf301 399.5px,#fffc00 402.5px,#ffa600 408.5px,#f60 413.5px,#ff2000 422.5px,#ff0300 441.5px,#ff1200 451.5px,#ff5d00)"></i><i style="left:159px;width:3px;background:linear-gradient(#05052e 0,#050536 69.5px,#030359 82.5px,#0000d6 97.5px,#0006ed 102.5px,#0013fe 114.5px,#2658ff 119.5px,#306aff 120.5px,#aed9fd 123.5px,#cee9ed 125.5px,#bfebd2 127.5px,#a6eab5 128.5px,#1cca22 131.5px,#10c50a 136.5px,#87e904 139.5px,#d1f900 141.5px,#fff800 143.5px,#ffbf00 146.5px,#fd0b04 151.5px,#f11a1a 157.5px,#ca5959 163.5px,#ca5959 177.5px,#f71111 185.5px,#f00 193.5px,#ff0f00 196.5px,#ff9600 200.5px,#ffea00 204.5px,#fefe00 206.5px,#dffb00 208.5px,#c0f700 209.5px,#2bce0a 212.5px,#0bc30a 213.5px,#11c50a 255.5px,#68e007 258.5px,#c9f800 261.5px,#fffe00 264.5px,#fff100 272.5px,#ffe600 302.5px,#fffa00 337.5px,#e9fc00 339.5px,#a0f002 342.5px,#37d20a 345.5px,#0ac30a 347.5px,#0ac30b 395.5px,#4ed909 397.5px,#adf301 399.5px,#fffc00 402.5px,#ffa600 408.5px,#ff6800 413.5px,#ff2000 422.5px,#ff0300 441.5px,#ff1300 451.5px,#ff5d00)"></i><i style="left:162px;width:3px;background:linear-gradient(#05052e 0,#040437 69.5px,#02025d 82.5px,#0002e8 99.5px,#0012fd 113.5px,#2353ff 118.5px,#2d65ff 119.5px,#4a83ff 120.5px,#a7d4fe 122.5px,#cae7ef 124.5px,#c2ebd6 126.5px,#b1ebc1 127.5px,#2bce31 130.5px,#13c717 131.5px,#0bc30b 135.5px,#47d70a 137.5px,#c4f700 140.5px,#fcfe00 142.5px,#ffcb00 145.5px,#fc0707 151.5px,#ef1e1e 157.5px,#c55 163.5px,#cf5151 177.5px,#f61111 184.5px,#f00 192.5px,#ff0d00 195.5px,#ff2100 196.5px,#ff8f00 199.5px,#ffe700 203.5px,#f4fe00 206.5px,#caf800 208.5px,#35d10a 211.5px,#10c50a 212.5px,#0cc40a 254.5px,#5cdd08 257.5px,#c2f700 260.5px,#fbfe00 263.5px,#fff200 271.5px,#ffe800 301.5px,#fff300 335.5px,#fefe00 337.5px,#b1f400 341.5px,#2ace0a 345.5px,#11c50a 346.5px,#0ac30b 395.5px,#4ed909 397.5px,#adf301 399.5px,#fffc00 402.5px,#ffa600 408.5px,#ff7200 412.5px,#ff1e00 422.5px,#ff0400 440.5px,#ff1700 451.5px,#ff5c00)"></i><i style="left:165px;width:3px;background:linear-gradient(#05052e 0,#040437 68.5px,#02025a 81.5px,#0000d8 96.5px,#0007ef 102.5px,#0217ff 113.5px,#2b61ff 118.5px,#407aff 119.5px,#9fceff 121.5px,#cfebe7 124.5px,#b7ebc8 126.5px,#13c818 130.5px,#0bc40c 134.5px,#1ac80a 135.5px,#bbf600 139.5px,#f4fe00 141.5px,#ffd200 144.5px,#ff7500 147.5px,#fc0606 150.5px,#ec2323 157.5px,#cf5151 162.5px,#d14e4e 176.5px,#f71111 183.5px,#f00 191.5px,#ff0d00 194.5px,#ff2000 195.5px,#ff8e00 198.5px,#ffe600 202.5px,#f4fe00 205.5px,#cbf800 207.5px,#37d20a 210.5px,#12c60a 211.5px,#0ac30b 253.5px,#33d10a 255.5px,#baf600 259.5px,#fffc00 263.5px,#fff200 284.5px,#ffe800 301.5px,#ffe900 309.5px,#fffc00 336.5px,#d3f900 339.5px,#7ae505 342.5px,#1dc90a 345.5px,#0ac30a 346.5px,#0ac30b 395.5px,#4ed909 397.5px,#adf301 399.5px,#fffc00 402.5px,#ffa600 408.5px,#ff7200 412.5px,#ff6b00 414.5px,#ff1b00 422.5px,#ff0400 439.5px,#ff1c00 451.5px,#ff5c00)"></i><i style="left:168px;width:3px;background:linear-gradient(#05052e 0,#040437 68.5px,#030358 80.5px,#0000d5 95.5px,#0006ed 100.5px,#0116ff 112.5px,#295eff 117.5px,#3a74ff 118.5px,#98c7ff 120.5px,#c4e4f2 122.5px,#cfebe9 123.5px,#baebcc 125.5px,#17c91c 129.5px,#0cc40c 133.5px,#13c60a 134.5px,#b3f400 138.5px,#fff900 141.5px,#ffc000 144.5px,#fd0d04 149.5px,#f41616 155.5px,#d34c4c 162.5px,#d54949 175.5px,#f71010 182.5px,#f00 190.5px,#ff0e00 193.5px,#ff4c00 195.5px,#fa0 198.5px,#ffe800 201.5px,#f2fd00 204.5px,#c6f700 206.5px,#31d00a 209.5px,#0fc50a 210.5px,#12c60a 253.5px,#6ae107 256.5px,#c9f800 259.5px,#fefe00 262.5px,#fff400 274.5px,#ffeb00 300.5px,#ffe400 307.5px,#fff400 328.5px,#fdff00 336.5px,#adf301 340.5px,#28cd0a 344.5px,#0fc50a 345.5px,#0ac30b 395.5px,#4ed909 397.5px,#adf301 399.5px,#fffc00 402.5px,#ffa600 408.5px,#ff7200 412.5px,#ff7a00 413.5px,#ff1900 422.5px,#ff0400 439.5px,#f20 451.5px,#ff5c00)"></i><i style="left:171px;width:3px;background:linear-gradient(#05052e 0,#040437 67.5px,#02025d 80.5px,#0002e8 97.5px,#0115ff 111.5px,#285cff 116.5px,#3570ff 117.5px,#91c1ff 119.5px,#b2dbfb 120.5px,#cfeaeb 122.5px,#bcebcf 124.5px,#a0e9ae 125.5px,#1bca20 128.5px,#10c50a 133.5px,#81e705 136.5px,#cbf800 138.5px,#fefb00 140.5px,#ffc500 143.5px,#fe1602 148.5px,#fb0707 149.5px,#f01c1c 155.5px,#d64848 161.5px,#d84444 174.5px,#f70f0f 181.5px,#f00 189.5px,#ff1200 192.5px,#f90 196.5px,#ffeb00 200.5px,#fcfd00 202.5px,#dbfa00 204.5px,#bbf500 205.5px,#27cd0a 208.5px,#0dc40b 209.5px,#0cc40a 252.5px,#5ede08 255.5px,#c1f700 258.5px,#f9fe00 261.5px,#fff400 279.5px,#ffeb00 300.5px,#ffe400 307.5px,#fff300 322.5px,#fffe00 335.5px,#b9f600 339.5px,#33d10a 343.5px,#0ac30b 345.5px,#0ac30b 395.5px,#4ed909 397.5px,#adf301 399.5px,#fffc00 402.5px,#ffa600 408.5px,#ff7200 412.5px,#ff8000 413.5px,#ff1700 422.5px,#ff0300 438.5px,#ff2800 451.5px,#ff5b00)"></i><i style="left:174px;width:3px;background:linear-gradient(#05052e 0,#040437 66.5px,#02025b 79.5px,#0004eb 97.5px,#0014fe 110.5px,#275aff 115.5px,#336dff 116.5px,#b0dafc 119.5px,#ceeaec 121.5px,#beebd1 123.5px,#a4e9b2 124.5px,#1fcb24 127.5px,#0ec510 130.5px,#0dc40a 132.5px,#4ed909 134.5px,#a7f201 136.5px,#fdfc00 139.5px,#ffc800 142.5px,#ff3e00 146.5px,#fe1802 147.5px,#fc0707 148.5px,#ed2222 155.5px,#d94343 160.5px,#dc3e3e 173.5px,#f71111 179.5px,#ff0100 188.5px,#ff1b00 191.5px,#ffa200 195.5px,#ffe200 198.5px,#f8fe00 201.5px,#d1f900 203.5px,#74e406 205.5px,#19c80a 207.5px,#0cc40e 209.5px,#0ac30b 251.5px,#52da09 254.5px,#b9f600 257.5px,#fffe00 261.5px,#ffeb00 300.5px,#ffe400 307.5px,#fff400 320.5px,#f9fe00 335.5px,#a6f101 339.5px,#24cc0a 343.5px,#0dc40a 344.5px,#0ac30b 395.5px,#4ed909 397.5px,#adf301 399.5px,#fffc00 402.5px,#ffa600 408.5px,#ff7200 412.5px,#ff8500 413.5px,#ff1500 422.5px,#ff0300 438.5px,#ff2e00 451.5px,#ff5b00)"></i><i style="left:177px;width:3px;background:linear-gradient(#05052e 0,#040437 66.5px,#030359 78.5px,#0000d6 93.5px,#0006ed 98.5px,#0014fe 109.5px,#2658ff 114.5px,#316bff 115.5px,#afd9fd 118.5px,#cee9ec 120.5px,#bfebd2 122.5px,#a7eab6 123.5px,#21cc27 126.5px,#10c614 128.5px,#0dc40b 131.5px,#4bd809 133.5px,#c6f700 136.5px,#fcfd00 138.5px,#ffca00 141.5px,#fc0707 147.5px,#ee2020 154.5px,#db3f3f 159.5px,#e03838 172.5px,#f70f0f 178.5px,#f00 186.5px,#ff0f00 189.5px,#ff4f00 191.5px,#ffac00 194.5px,#ffe900 197.5px,#f1fd00 200.5px,#c3f700 202.5px,#2ecf0a 205.5px,#10c50a 206.5px,#13c60a 251.5px,#69e107 254.5px,#c7f800 257.5px,#fcff00 260.5px,#ffec00 300.5px,#ffe400 307.5px,#fff500 319.5px,#fdff00 334.5px,#b3f400 338.5px,#2ecf0a 342.5px,#0bc30b 344.5px,#0ac30b 395.5px,#4ed909 397.5px,#adf301 399.5px,#fffc00 402.5px,#ffa600 408.5px,#ff7200 412.5px,#ff8900 413.5px,#ff1400 422.5px,#ff0100 437.5px,#ff1b00 445.5px,#ff2a00 449.5px,#ff5b00)"></i><i style="left:180px;width:3px;background:linear-gradient(#05052e 0,#040437 65.5px,#02025e 78.5px,#0002e9 95.5px,#0013fe 108.5px,#2658ff 113.5px,#316aff 114.5px,#add8fd 117.5px,#cde9ed 119.5px,#bfebd3 121.5px,#a9eab7 122.5px,#23cc29 125.5px,#10c614 127.5px,#0cc40b 130.5px,#49d809 132.5px,#c4f700 135.5px,#fafd00 137.5px,#fc0 140.5px,#ff6800 143.5px,#fc0707 146.5px,#ef1e1e 153.5px,#dd3c3c 158.5px,#de3a3a 170.5px,#f80e0e 177.5px,#ff0100 185.5px,#ff1800 188.5px,#ff9f00 192.5px,#fe0 196.5px,#f9fe00 198.5px,#d4f900 200.5px,#7ae505 202.5px,#1cc90a 204.5px,#0bc30b 205.5px,#0cc40a 250.5px,#5bdd08 253.5px,#bef600 256.5px,#fffd00 260.5px,#ffed00 300.5px,#ffe600 307.5px,#fff600 319.5px,#fffe00 333.5px,#bcf600 337.5px,#1fca0a 342.5px,#0bc30a 343.5px,#0ac30b 395.5px,#4ed909 397.5px,#adf301 399.5px,#fffc00 402.5px,#ffa600 408.5px,#ff7200 412.5px,#ff8d00 413.5px,#ff3900 419.5px,#ff1300 422.5px,#f00 437.5px,#ff1600 444.5px,#ff3000 448.5px,#ff3900 451.5px,#f50 456.5px,#ff5b00)"></i><i style="left:183px;width:3px;background:linear-gradient(#05052e 0,#040437 64.5px,#02025c 77.5px,#0002e8 94.5px,#0013fe 107.5px,#2557ff 112.5px,#316aff 113.5px,#add8fd 116.5px,#cde9ed 118.5px,#bfebd3 120.5px,#a9eab8 121.5px,#24cc2a 124.5px,#11c614 126.5px,#0cc40b 129.5px,#47d70a 131.5px,#c2f700 134.5px,#f9fd00 136.5px,#ffcd00 139.5px,#ff6b00 142.5px,#fc0606 145.5px,#f01c1c 152.5px,#df3838 157.5px,#e23434 169.5px,#f80f0f 175.5px,#f00 183.5px,#ff0f00 186.5px,#ff4c00 188.5px,#fa0 191.5px,#ffe800 194.5px,#f2fd00 197.5px,#c6f700 199.5px,#31d00a 202.5px,#10c50a 203.5px,#0bc30b 249.5px,#30d00a 251.5px,#b4f500 255.5px,#fcff00 259.5px,#fe0 300.5px,#ffe700 307.5px,#fff700 320.5px,#f8fe00 333.5px,#abf201 337.5px,#29cd0a 341.5px,#10c50a 342.5px,#0ac30b 395.5px,#4ed909 397.5px,#adf301 399.5px,#fffc00 402.5px,#ffa600 408.5px,#ff7200 412.5px,#ff9200 413.5px,#ff4c00 418.5px,#ff1300 422.5px,#fe0202 434.5px,#ff1300 443.5px,#ff3600 448.5px,#ff3f00 451.5px,#ff5700 456.5px,#ff5a00)"></i><i style="left:186px;width:3px;background:linear-gradient(#05052e 0,#040437 63.5px,#02025b 76.5px,#0004eb 94.5px,#0014fe 106.5px,#2658ff 111.5px,#316bff 112.5px,#add8fd 115.5px,#cde9ed 117.5px,#bfebd3 119.5px,#a9eab8 120.5px,#24cd2a 123.5px,#13c717 124.5px,#0cc40b 128.5px,#46d70a 130.5px,#c1f700 133.5px,#f8fe00 135.5px,#ffce00 138.5px,#ff6e00 141.5px,#fc0606 144.5px,#ec2222 152.5px,#e13535 156.5px,#e52f2f 168.5px,#f80e0e 174.5px,#ff0100 182.5px,#ff1500 185.5px,#ff9c00 189.5px,#ffed00 193.5px,#fafd00 195.5px,#d8fa00 197.5px,#81e705 199.5px,#21cb0a 201.5px,#0bc30b 202.5px,#0dc40a 249.5px,#5fde08 252.5px,#c0f700 255.5px,#fffe00 259.5px,#ffef00 300.5px,#ffe900 307.5px,#fff800 322.5px,#fcff00 332.5px,#b5f500 336.5px,#32d00a 340.5px,#0ac30b 342.5px,#0ac30b 395.5px,#4ed909 397.5px,#adf301 399.5px,#fffc00 402.5px,#ffa600 408.5px,#ff7200 412.5px,#ff9600 413.5px,#ff6000 417.5px,#ff1900 421.5px,#ff0101 430.5px,#ff0900 441.5px,#ff3d00 448.5px,#ff4500 451.5px,#ff5800 455.5px,#ff5a00)"></i><i style="left:189px;width:3px;background:linear-gradient(#05052e 0,#040438 63.5px,#030359 75.5px,#0000d7 90.5px,#0006ed 95.5px,#0014fe 105.5px,#2659ff 110.5px,#326cff 111.5px,#afd9fc 114.5px,#cee9ec 116.5px,#bfebd2 118.5px,#a8eab7 119.5px,#24cd2a 122.5px,#13c717 123.5px,#0bc40b 127.5px,#44d60a 129.5px,#bff600 132.5px,#f7fe00 134.5px,#ffd000 137.5px,#ff7200 140.5px,#fc0606 143.5px,#ed2121 151.5px,#e23333 155.5px,#e72c2c 167.5px,#f90d0d 173.5px,#ff0200 181.5px,#ff1e00 184.5px,#ff8b00 187.5px,#ffe400 191.5px,#f6fe00 194.5px,#cef900 196.5px,#16c70a 200.5px,#0dc40e 202.5px,#0bc30b 248.5px,#31d00a 250.5px,#b4f500 254.5px,#fbfe00 258.5px,#fe0 301.5px,#fe0 308.5px,#fefe00 331.5px,#bef600 335.5px,#23cb0a 340.5px,#0cc40a 341.5px,#0ac30b 395.5px,#4ed909 397.5px,#adf301 399.5px,#fffc00 402.5px,#ffa600 408.5px,#ff7200 412.5px,#ff9a00 413.5px,#ff6300 417.5px,#ff1800 421.5px,#fe0101 429.5px,#ff0a00 441.5px,#ff4200 447.5px,#ff4a00 451.5px,#ff5a00 455.5px,#ff5a00)"></i><i style="left:192px;width:3px;background:linear-gradient(#05052e 0,#040437 62.5px,#030358 74.5px,#0000d5 89.5px,#0006ed 94.5px,#0114fe 104.5px,#275aff 109.5px,#346eff 110.5px,#b0dafc 113.5px,#cee9eb 115.5px,#beebd2 117.5px,#a6e9b5 118.5px,#24cc2a 121.5px,#11c614 123.5px,#0bc30b 126.5px,#41d50a 128.5px,#bcf600 131.5px,#f3fd00 133.5px,#ffd300 136.5px,#f70 139.5px,#fd0b04 142.5px,#ee1f1f 150.5px,#e33131 154.5px,#e82929 166.5px,#f90c0c 172.5px,#ff0300 180.5px,#ff0e00 182.5px,#ff2400 183.5px,#ff9100 186.5px,#ffe800 190.5px,#f3fd00 193.5px,#c7f800 195.5px,#32d00a 198.5px,#10c50a 199.5px,#0bc30a 248.5px,#5bdd08 251.5px,#bdf600 254.5px,#ff0 258.5px,#fff000 301.5px,#fff400 310.5px,#f8fe00 331.5px,#aef301 335.5px,#2cce0a 339.5px,#0bc30b 341.5px,#0ac30b 395.5px,#4ed909 397.5px,#adf301 399.5px,#fffc00 402.5px,#ffa600 408.5px,#ff7200 412.5px,#ff9b00 413.5px,#ff6300 417.5px,#ff1800 421.5px,#fe0101 429.5px,#ff0a00 441.5px,#ff4200 447.5px,#ff4b00 451.5px,#ff5b00 455.5px,#ff5a00)"></i><i style="left:195px;width:3px;background:linear-gradient(#05052e 0,#040437 61.5px,#02025e 74.5px,#0002e9 91.5px,#0116ff 103.5px,#295eff 108.5px,#3a74ff 109.5px,#96c5ff 111.5px,#c3e4f2 113.5px,#ceeae9 114.5px,#bcebce 116.5px,#77e281 118.5px,#22cc27 120.5px,#11c614 122.5px,#0bc30b 125.5px,#40d50a 127.5px,#b9f500 130.5px,#f0fd00 132.5px,#ffe700 134.5px,#ff9f00 137.5px,#fd0d04 141.5px,#ef1e1e 149.5px,#e43030 153.5px,#e92727 165.5px,#fa0a0a 172.5px,#ff0400 179.5px,#f10 181.5px,#ff9700 185.5px,#ffea00 189.5px,#fdfd00 191.5px,#defb00 193.5px,#bef600 194.5px,#2ace0a 197.5px,#0dc40b 198.5px,#13c60a 248.5px,#67e007 251.5px,#c5f700 254.5px,#fffd00 258.5px,#ffef00 302.5px,#fcff00 330.5px,#b9f600 334.5px,#1dc90a 339.5px,#0ac30a 340.5px,#0ac30b 395.5px,#4ed909 397.5px,#adf301 399.5px,#fffc00 402.5px,#ffa600 408.5px,#ff7200 412.5px,#ff9a00 413.5px,#ff6300 417.5px,#ff1800 421.5px,#fe0101 429.5px,#ff0a00 441.5px,#ff4200 447.5px,#ff4a00 451.5px,#ff5a00 455.5px,#ff5a00)"></i><i style="left:198px;width:3px;background:linear-gradient(#05052e 0,#040437 60.5px,#02025d 73.5px,#0002e8 90.5px,#0319ff 102.5px,#2c64ff 107.5px,#4780ff 108.5px,#a2cffe 110.5px,#c9e6f0 112.5px,#c4ebd9 114.5px,#b7ebc8 115.5px,#1cca21 119.5px,#0cc40b 124.5px,#41d50a 126.5px,#b7f500 129.5px,#fffa00 132.5px,#ffc200 135.5px,#fe1302 140.5px,#fa0909 142.5px,#ea2626 149.5px,#e43030 156.5px,#ea2626 164.5px,#fa0909 171.5px,#ff0500 178.5px,#ff1500 180.5px,#ff9d00 184.5px,#ffed00 188.5px,#fafe00 190.5px,#d8fa00 192.5px,#80e705 194.5px,#20ca0a 196.5px,#0bc30b 197.5px,#0ac30b 247.5px,#4ed909 250.5px,#b5f500 253.5px,#fbfe00 257.5px,#fff500 309.5px,#fffe00 329.5px,#c1f700 333.5px,#27cd0a 338.5px,#0fc50a 339.5px,#0ac30b 395.5px,#4ed909 397.5px,#adf301 399.5px,#fffc00 402.5px,#ffa600 408.5px,#ff7200 412.5px,#ff9a00 413.5px,#ff6200 417.5px,#ff1800 421.5px,#fe0101 429.5px,#ff0a00 441.5px,#ff4100 447.5px,#ff4a00 451.5px,#ff5a00 455.5px,#ff5a00)"></i><i style="left:201px;width:3px;background:linear-gradient(#05052e 0,#040437 59.5px,#02025c 72.5px,#0004eb 90.5px,#0115fe 100.5px,#275aff 105.5px,#366fff 106.5px,#afd9fc 109.5px,#cde9eb 111.5px,#adeabd 114.5px,#17c91c 118.5px,#0dc40b 123.5px,#69e107 126.5px,#d1f900 129.5px,#fefb00 131.5px,#ffc500 134.5px,#fe1602 139.5px,#fc0707 140.5px,#eb2525 148.5px,#e43030 155.5px,#e62d2d 162.5px,#f80d0d 168.5px,#ff0200 176.5px,#ff1c00 179.5px,#ffa300 183.5px,#ffe300 186.5px,#f7fe00 189.5px,#d0f900 191.5px,#17c70a 195.5px,#0cc40e 197.5px,#0ac30a 247.5px,#57dc08 250.5px,#bbf600 253.5px,#fdff00 257.5px,#fff800 311.5px,#f9fe00 329.5px,#b1f400 333.5px,#2fcf0a 337.5px,#0bc30b 339.5px,#0ac30b 395.5px,#4ed909 397.5px,#adf301 399.5px,#fffc00 402.5px,#ffa600 408.5px,#ff7200 412.5px,#f90 413.5px,#ff6200 417.5px,#ff1800 421.5px,#ff0101 429.5px,#ff0a00 441.5px,#ff4000 447.5px,#ff4900 451.5px,#ff5a00 455.5px,#ff5a00)"></i><i style="left:204px;width:3px;background:linear-gradient(#05052e 0,#040437 58.5px,#02025a 71.5px,#0004eb 89.5px,#0319ff 99.5px,#2c64ff 104.5px,#4881ff 105.5px,#a2cffe 107.5px,#c9e6f0 109.5px,#c5ebda 111.5px,#b9ebcb 112.5px,#53d95b 115.5px,#28ce2f 116.5px,#13c818 117.5px,#0ec40a 122.5px,#6ce107 125.5px,#d0f900 128.5px,#fefc00 130.5px,#ffc800 133.5px,#ff3d00 137.5px,#fe1802 138.5px,#fc0707 139.5px,#eb2525 147.5px,#e43030 154.5px,#e72c2c 161.5px,#f90c0c 167.5px,#ff0300 175.5px,#ff0e00 177.5px,#ff2400 178.5px,#ff9100 181.5px,#ffe700 185.5px,#f3fd00 188.5px,#c7f800 190.5px,#32d00a 193.5px,#10c50a 194.5px,#0fc50a 247.5px,#61de08 250.5px,#c1f700 253.5px,#ff0 257.5px,#fffa00 321.5px,#fcff00 328.5px,#b8f500 332.5px,#36d20a 336.5px,#0bc30a 338.5px,#0ac30b 395.5px,#4ed909 397.5px,#adf301 399.5px,#fffc00 402.5px,#ffa600 408.5px,#ff7200 412.5px,#f90 413.5px,#ff6200 417.5px,#ff1800 421.5px,#ff0101 429.5px,#ff0a00 441.5px,#ff4000 447.5px,#ff4900 451.5px,#ff5900 455.5px,#ff5a00)"></i><i style="left:207px;width:3px;background:linear-gradient(#05052e 0,#040437 58.5px,#030359 70.5px,#0000d7 85.5px,#0006ed 90.5px,#0116fe 97.5px,#285cff 102.5px,#3972ff 103.5px,#92c2ff 105.5px,#b2dbfb 106.5px,#ceeaea 108.5px,#afeabf 111.5px,#1dcb23 115.5px,#0bc40c 120.5px,#12c60a 121.5px,#6fe206 124.5px,#d0f900 127.5px,#fdfd00 129.5px,#ffca00 132.5px,#ff1f00 137.5px,#fc0707 138.5px,#ef1d1d 145.5px,#e43030 149.5px,#e82a2a 160.5px,#f90c0c 166.5px,#f00 173.5px,#ff1200 176.5px,#ff9800 180.5px,#ffeb00 184.5px,#fcfd00 186.5px,#dcfa00 188.5px,#bbf500 189.5px,#27cd0a 192.5px,#0cc40b 193.5px,#0bc30b 246.5px,#2ecf0a 248.5px,#c6f700 253.5px,#fffd00 257.5px,#fffc00 326.5px,#e3fb00 329.5px,#9fef02 332.5px,#22cb0a 336.5px,#0cc40a 337.5px,#0ac30b 395.5px,#4ed909 397.5px,#adf301 399.5px,#fffc00 402.5px,#ffa600 408.5px,#ff7200 412.5px,#ff9800 413.5px,#ff6100 417.5px,#ff1800 421.5px,#fe0101 430.5px,#ff0a00 441.5px,#ff3f00 447.5px,#ff4800 451.5px,#ff5900 455.5px,#ff5a00)"></i><i style="left:210px;width:3px;background:linear-gradient(#05052e 0,#040437 57.5px,#030358 69.5px,#0000d5 84.5px,#0006ed 89.5px,#041bff 96.5px,#3068ff 101.5px,#4f87ff 102.5px,#a7d3fd 104.5px,#cbe7ee 106.5px,#b9ebcb 109.5px,#59db62 112.5px,#16c81b 114.5px,#0bc40c 119.5px,#15c70a 120.5px,#73e306 123.5px,#d0f900 126.5px,#fcfd00 128.5px,#fc0 131.5px,#ff6800 134.5px,#fc0707 137.5px,#ef1d1d 144.5px,#e43030 148.5px,#e92929 159.5px,#f90b0b 165.5px,#ff0100 172.5px,#ff1700 175.5px,#ff9f00 179.5px,#fe0 183.5px,#f9fe00 185.5px,#d5f900 187.5px,#7ae505 189.5px,#1cc90a 191.5px,#0bc30b 192.5px,#0ac30b 246.5px,#51da09 249.5px,#b7f500 252.5px,#fbfe00 256.5px,#fffb00 325.5px,#e5fc00 328.5px,#a4f101 331.5px,#25cc0a 335.5px,#0ec50a 336.5px,#0ac30b 395.5px,#4ed909 397.5px,#adf301 399.5px,#fffc00 402.5px,#ffa600 408.5px,#ff7200 412.5px,#ff9800 413.5px,#ff6100 417.5px,#ff1800 421.5px,#fe0101 430.5px,#ff0900 441.5px,#ff3e00 447.5px,#ff4700 451.5px,#ff5900 455.5px,#ff5a00)"></i><i style="left:213px;width:3px;background:linear-gradient(#05052e 0,#040437 56.5px,#02025e 69.5px,#0002e9 86.5px,#0217ff 94.5px,#2a5fff 99.5px,#3e78ff 100.5px,#98c7ff 102.5px,#c5e4f2 104.5px,#c8ebde 106.5px,#b0eac0 108.5px,#24cc2a 112.5px,#13c717 113.5px,#0bc30b 118.5px,#34d10a 120.5px,#b9f500 124.5px,#fcfd00 127.5px,#ffcd00 130.5px,#ff6b00 133.5px,#fc0606 136.5px,#ef1e1e 143.5px,#e43030 147.5px,#e92727 158.5px,#fb0909 165.5px,#ff0700 172.5px,#ff1f00 174.5px,#ff8c00 177.5px,#ffe500 181.5px,#f6fe00 184.5px,#cdf800 186.5px,#3ad30a 189.5px,#15c70a 190.5px,#0ec510 193.5px,#0bc30a 246.5px,#5adc08 249.5px,#bcf600 252.5px,#fdff00 256.5px,#fefe00 325.5px,#c1f700 329.5px,#28cd0a 334.5px,#10c50a 335.5px,#0ac30b 395.5px,#4ed909 397.5px,#adf301 399.5px,#fffc00 402.5px,#ffa600 408.5px,#ff7200 412.5px,#ff9700 413.5px,#ff6100 417.5px,#ff1900 421.5px,#fe0101 430.5px,#ff0900 441.5px,#ff3e00 447.5px,#ff4700 451.5px,#ff5900 455.5px,#ff5a00)"></i><i style="left:216px;width:3px;background:linear-gradient(#05052e 0,#040437 55.5px,#02025d 68.5px,#0002e8 85.5px,#041cff 93.5px,#3169ff 98.5px,#a9d5fd 101.5px,#cbe8ee 103.5px,#baebcd 106.5px,#61dd6a 109.5px,#1bca20 111.5px,#0cc40b 117.5px,#55db09 120.5px,#baf600 123.5px,#fbfe00 126.5px,#ffce00 129.5px,#ff6d00 132.5px,#fc0606 135.5px,#ef1e1e 142.5px,#e43030 146.5px,#e52e2e 156.5px,#f90d0d 162.5px,#ff0300 170.5px,#ff0e00 172.5px,#ff4c00 174.5px,#ffab00 177.5px,#ffe800 180.5px,#f2fd00 183.5px,#c6f700 185.5px,#31d00a 188.5px,#0fc50a 189.5px,#10c50a 246.5px,#63df07 249.5px,#c2f700 252.5px,#ff0 256.5px,#fefe00 324.5px,#c2f700 328.5px,#29cd0a 333.5px,#11c50a 334.5px,#0ac30b 395.5px,#4ed909 397.5px,#adf301 399.5px,#fffc00 402.5px,#ffa600 408.5px,#ff7200 412.5px,#ff9700 413.5px,#ff6000 417.5px,#ff1900 421.5px,#fe0101 430.5px,#ff0900 441.5px,#ff3e00 448.5px,#ff4600 451.5px,#ff5800 455.5px,#ff5a00)"></i><i style="left:219px;width:3px;background:linear-gradient(#05052e 0,#040438 55.5px,#02025b 67.5px,#0004eb 85.5px,#0721ff 92.5px,#295dff 96.5px,#3a74ff 97.5px,#95c5ff 99.5px,#c3e4f2 101.5px,#ceeaea 102.5px,#b5ebc6 105.5px,#16c91b 110.5px,#0dc40a 116.5px,#58dc08 119.5px,#baf600 122.5px,#fbfe00 125.5px,#ffcf00 128.5px,#ff6f00 131.5px,#fc0606 134.5px,#ef1e1e 141.5px,#e43030 145.5px,#e62e2e 155.5px,#f90c0c 161.5px,#f00 168.5px,#ff1000 171.5px,#ff9600 175.5px,#ffea00 179.5px,#fdfd00 181.5px,#defb00 183.5px,#bff600 184.5px,#2ace0a 187.5px,#0dc40b 188.5px,#0bc30b 245.5px,#2fcf0a 247.5px,#b1f400 251.5px,#f8fe00 255.5px,#fefe00 323.5px,#c3f700 327.5px,#2ace0a 332.5px,#12c60a 333.5px,#0ac30b 395.5px,#4ed909 397.5px,#adf301 399.5px,#fffc00 402.5px,#ffa600 408.5px,#ff7200 412.5px,#ff9700 413.5px,#ff6000 417.5px,#ff1900 421.5px,#fe0101 430.5px,#ff0900 441.5px,#ff3e00 448.5px,#ff4500 451.5px,#ff5800 455.5px,#ff5a00)"></i><i style="left:222px;width:3px;background:linear-gradient(#05052e 0,#040438 54.5px,#03035a 66.5px,#0000d7 81.5px,#0218ff 90.5px,#2b62ff 95.5px,#437dff 96.5px,#a0cefe 98.5px,#c8e6f0 100.5px,#c7ebdd 102.5px,#b1ebc1 104.5px,#14c818 109.5px,#0dc40a 115.5px,#5add08 118.5px,#bbf600 121.5px,#fafe00 124.5px,#ffd000 127.5px,#ff7000 130.5px,#fc0606 133.5px,#ef1e1e 140.5px,#e43030 144.5px,#e62d2d 154.5px,#f80f0f 159.5px,#f00 167.5px,#ff1200 170.5px,#ff9a00 174.5px,#ffec00 178.5px,#fcfe00 180.5px,#dbfa00 182.5px,#baf500 183.5px,#25cc0a 186.5px,#0bc30b 187.5px,#0ac30a 245.5px,#52da09 248.5px,#b7f500 251.5px,#fbfe00 255.5px,#fefe00 322.5px,#c3f700 326.5px,#2ace0a 331.5px,#12c60a 332.5px,#0ac30b 395.5px,#4ed909 397.5px,#adf301 399.5px,#fffc00 402.5px,#ffa600 408.5px,#ff7200 412.5px,#ff9600 413.5px,#ff6000 417.5px,#ff1900 421.5px,#fe0101 430.5px,#ff0900 441.5px,#ff3d00 448.5px,#ff4500 451.5px,#ff5800 455.5px,#ff5a00)"></i><i style="left:225px;width:3px;background:linear-gradient(#05052e 0,#040437 53.5px,#030358 65.5px,#0000d5 80.5px,#0319ff 89.5px,#2d64ff 94.5px,#4881ff 95.5px,#a5d2fe 97.5px,#c9e7ef 99.5px,#c6ebdc 101.5px,#afebbe 103.5px,#29ce2f 107.5px,#13c818 108.5px,#0dc40a 114.5px,#5bdd08 117.5px,#bbf600 120.5px,#fafe00 123.5px,#ffd000 126.5px,#ff7000 129.5px,#fc0606 132.5px,#ef1e1e 139.5px,#e43030 143.5px,#e62d2d 153.5px,#f80f0f 158.5px,#f00 166.5px,#ff1300 169.5px,#ff9b00 173.5px,#ffec00 177.5px,#fcfe00 179.5px,#dafa00 181.5px,#b8f500 182.5px,#23cb0a 185.5px,#0bc30b 186.5px,#0bc30a 245.5px,#5bdd08 248.5px,#bcf600 251.5px,#fdff00 255.5px,#fefe00 321.5px,#c3f700 325.5px,#2ace0a 330.5px,#12c60a 331.5px,#0ac30b 395.5px,#4ed909 397.5px,#adf301 399.5px,#fffc00 402.5px,#ffa600 408.5px,#ff7200 412.5px,#ff9700 413.5px,#ff6100 417.5px,#ff1900 421.5px,#fe0101 430.5px,#ff0900 441.5px,#ff3e00 447.5px,#ff4600 451.5px,#ff5800 455.5px,#ff5a00)"></i><i style="left:228px;width:3px;background:linear-gradient(#05052e 0,#040437 52.5px,#02025d 65.5px,#0005ed 83.5px,#0218ff 88.5px,#2c63ff 93.5px,#437dff 94.5px,#a2d0ff 96.5px,#cfebe7 99.5px,#b1ebc1 102.5px,#2bcf32 106.5px,#13c818 107.5px,#0dc40a 113.5px,#5add08 116.5px,#bbf600 119.5px,#fafe00 122.5px,#ffd000 125.5px,#ff7100 128.5px,#fc0606 131.5px,#ef1e1e 138.5px,#e43030 142.5px,#e62d2d 152.5px,#f80f0f 157.5px,#f00 165.5px,#ff1200 168.5px,#ff9a00 172.5px,#ffec00 176.5px,#fcfe00 178.5px,#dbfa00 180.5px,#b9f500 181.5px,#24cc0a 184.5px,#0ac30b 185.5px,#10c50a 245.5px,#63df07 248.5px,#c1f700 251.5px,#ff0 255.5px,#fefe00 320.5px,#c3f700 324.5px,#2ace0a 329.5px,#12c60a 330.5px,#0ac30b 395.5px,#4ed909 397.5px,#adf301 399.5px,#fffc00 402.5px,#ffa600 408.5px,#ff7200 412.5px,#ff9800 413.5px,#ff6100 417.5px,#ff1800 421.5px,#fe0101 430.5px,#ff0900 441.5px,#ff3f00 447.5px,#ff4800 451.5px,#ff5900 455.5px,#ff5a00)"></i><i style="left:231px;width:3px;background:linear-gradient(#05052e 0,#040438 52.5px,#02025b 64.5px,#0004ec 82.5px,#0721ff 88.5px,#295eff 92.5px,#3974ff 93.5px,#97c7ff 95.5px,#c4e4f2 97.5px,#d0ebea 98.5px,#b6ebc6 101.5px,#14c819 106.5px,#0cc40a 112.5px,#59dc08 115.5px,#baf600 118.5px,#fafd00 121.5px,#ffcf00 124.5px,#ff6f00 127.5px,#fc0606 130.5px,#ef1e1e 137.5px,#e43030 141.5px,#e62d2d 151.5px,#f80f0f 156.5px,#f00 164.5px,#ff1000 167.5px,#ff9800 171.5px,#ffeb00 175.5px,#fdfe00 177.5px,#ddfa00 179.5px,#bdf600 180.5px,#28cd0a 183.5px,#0bc30b 184.5px,#0bc30b 244.5px,#2ecf0a 246.5px,#c6f700 251.5px,#fffe00 255.5px,#fefe00 319.5px,#c3f700 323.5px,#2ace0a 328.5px,#12c60a 329.5px,#0ac30b 395.5px,#4ed909 397.5px,#adf301 399.5px,#fffc00 402.5px,#ffa600 408.5px,#ff7200 412.5px,#f90 413.5px,#ff6200 417.5px,#ff1800 421.5px,#ff0101 429.5px,#ff0a00 441.5px,#ff4000 447.5px,#ff4900 451.5px,#ff5a00 455.5px,#ff5a00)"></i><i style="left:234px;width:3px;background:linear-gradient(#05052e 0,#040437 51.5px,#030359 63.5px,#0000d7 78.5px,#051eff 87.5px,#316bff 92.5px,#afdafc 95.5px,#cfe9ec 97.5px,#b9ebcb 100.5px,#17c91c 105.5px,#0cc40a 111.5px,#59dc08 114.5px,#bcf600 117.5px,#fcfd00 120.5px,#fc0 123.5px,#ff6a00 126.5px,#fc0707 129.5px,#ef1e1e 136.5px,#e43030 140.5px,#e62e2e 150.5px,#f90c0c 156.5px,#ff0400 164.5px,#ff1000 166.5px,#ff9600 170.5px,#ffea00 174.5px,#fefd00 176.5px,#dffb00 178.5px,#c1f700 179.5px,#2cce0a 182.5px,#0cc40a 183.5px,#0ac30b 244.5px,#50da09 247.5px,#b6f500 250.5px,#f9fe00 254.5px,#fefe00 318.5px,#c3f700 322.5px,#2ace0a 327.5px,#12c60a 328.5px,#0ac30b 395.5px,#4ed909 397.5px,#adf301 399.5px,#fffc00 402.5px,#ffa600 408.5px,#ff7200 412.5px,#ff9a00 413.5px,#ff6200 417.5px,#ff1800 421.5px,#fe0101 429.5px,#ff0a00 441.5px,#ff4100 447.5px,#ff4a00 451.5px,#ff5a00 455.5px,#ff5a00)"></i><i style="left:237px;width:3px;background:linear-gradient(#05052e 0,#040437 50.5px,#02025e 63.5px,#0003e9 80.5px,#031aff 86.5px,#2d65ff 91.5px,#4982ff 92.5px,#a7d4fe 94.5px,#cae7ef 96.5px,#c5ebdb 98.5px,#a9eab7 100.5px,#1aca1f 104.5px,#0cc40b 110.5px,#5bdd08 113.5px,#bff600 116.5px,#fdfb00 119.5px,#ffc700 122.5px,#fe1902 127.5px,#fc0707 128.5px,#ee2020 135.5px,#e43030 139.5px,#e62e2e 149.5px,#f90d0d 155.5px,#ff0300 163.5px,#ff0e00 165.5px,#ff4d00 167.5px,#ffab00 170.5px,#ffe800 173.5px,#fefd00 175.5px,#e1fb00 177.5px,#c5f700 178.5px,#30d00a 181.5px,#0dc40a 182.5px,#0ac30a 244.5px,#57dc08 247.5px,#baf600 250.5px,#fbff00 254.5px,#fefe00 317.5px,#c3f700 321.5px,#2bce0a 326.5px,#12c60a 327.5px,#0ac30b 395.5px,#4ed909 397.5px,#adf301 399.5px,#fffc00 402.5px,#ffa600 408.5px,#ff7200 412.5px,#ff9b00 413.5px,#ff6300 417.5px,#ff1800 421.5px,#fe0101 429.5px,#ff0a00 441.5px,#ff4300 447.5px,#ff4b00 451.5px,#ff5b00 455.5px,#ff5a00)"></i><i style="left:240px;width:3px;background:linear-gradient(#05052e 0,#040438 50.5px,#02025c 62.5px,#0004ec 80.5px,#0721ff 86.5px,#3873ff 91.5px,#97c6ff 93.5px,#c4e4f2 95.5px,#d0ebea 96.5px,#b1ebc0 99.5px,#1ecb24 103.5px,#0ec50f 107.5px,#0cc40b 109.5px,#5fde08 112.5px,#c3f700 115.5px,#fff800 118.5px,#ffbf00 121.5px,#fd0f04 126.5px,#f71010 131.5px,#e43131 137.5px,#e52e2e 148.5px,#f90d0d 154.5px,#ff0200 162.5px,#ff0d00 164.5px,#ff2100 165.5px,#ff8f00 168.5px,#ffe700 172.5px,#f4fe00 175.5px,#caf800 177.5px,#35d10a 180.5px,#10c50a 181.5px,#0dc40a 244.5px,#5ede08 247.5px,#bef600 250.5px,#fdff00 254.5px,#fefe00 316.5px,#c4f700 320.5px,#2cce0a 325.5px,#0bc30b 327.5px,#0ac30b 395.5px,#4ed909 397.5px,#adf301 399.5px,#fffc00 402.5px,#ffa600 408.5px,#ff7200 412.5px,#ff9c00 413.5px,#ff6400 417.5px,#ff1800 421.5px,#fe0101 429.5px,#ff0a00 441.5px,#f40 447.5px,#ff4c00 451.5px,#ff5b00 455.5px,#ff5a00)"></i><i style="left:243px;width:3px;background:linear-gradient(#05052e 0,#040437 49.5px,#030359 61.5px,#0000d6 76.5px,#051cff 85.5px,#2f68ff 90.5px,#add9fd 93.5px,#cde9ed 95.5px,#b8ebc9 98.5px,#26cd2c 102.5px,#13c717 103.5px,#0dc40a 108.5px,#64df07 111.5px,#c9f800 114.5px,#f8fd00 116.5px,#ffd000 119.5px,#ff7200 122.5px,#fd0c04 125.5px,#f11b1b 132.5px,#e33131 136.5px,#e52f2f 147.5px,#f80d0d 153.5px,#ff0100 161.5px,#ff1c00 164.5px,#ff8b00 167.5px,#ffe400 171.5px,#f7fe00 174.5px,#d0f900 176.5px,#14c60a 180.5px,#0fc511 184.5px,#12c60a 244.5px,#65df07 247.5px,#c2f700 250.5px,#ff0 254.5px,#fefe00 315.5px,#c6f700 319.5px,#16c70a 325.5px,#0cc40d 327.5px,#0ac30b 395.5px,#4ed909 397.5px,#adf301 399.5px,#fffc00 402.5px,#ffa600 408.5px,#ff7200 412.5px,#ff9d00 413.5px,#ff6400 417.5px,#ff1700 421.5px,#fe0202 429.5px,#ff0a00 441.5px,#ff4500 447.5px,#ff4d00 451.5px,#ff5c00 455.5px,#ff5a00)"></i><i style="left:246px;width:3px;background:linear-gradient(#05052e 0,#040438 49.5px,#02025d 61.5px,#0002e9 78.5px,#0217ff 84.5px,#2a60ff 89.5px,#3e78ff 90.5px,#9eccff 92.5px,#d0ebe8 95.5px,#bdebd0 97.5px,#a5eab4 98.5px,#2fcf35 101.5px,#13c818 102.5px,#0dc40a 107.5px,#68e007 110.5px,#cef800 113.5px,#fcfc00 115.5px,#ffc900 118.5px,#ff4000 122.5px,#fe1b02 123.5px,#fc0707 124.5px,#ef1e1e 131.5px,#e33333 135.5px,#e43030 146.5px,#f80e0e 152.5px,#ff0100 160.5px,#ff1600 163.5px,#ff8500 166.5px,#ffe100 170.5px,#fafe00 173.5px,#d6f900 175.5px,#79e505 177.5px,#1bc90a 179.5px,#0bc30b 180.5px,#0bc30b 243.5px,#2ecf0a 245.5px,#c6f700 250.5px,#fffe00 254.5px,#f8fe00 315.5px,#b2f400 319.5px,#31d00a 323.5px,#0bc30b 325.5px,#0ac30b 395.5px,#4ed909 397.5px,#adf301 399.5px,#fffc00 402.5px,#ffa600 408.5px,#ff7200 412.5px,#ff9d00 413.5px,#ff6500 417.5px,#ff1700 421.5px,#fe0202 429.5px,#ff0a00 441.5px,#ff4600 447.5px,#ff4f00 451.5px,#ff5c00 455.5px,#ff5a00)"></i><i style="left:249px;width:3px;background:linear-gradient(#05052e 0,#040438 48.5px,#02025a 60.5px,#0000d8 75.5px,#051dff 84.5px,#306aff 89.5px,#aed9fd 92.5px,#cee9ed 94.5px,#b2ebc1 97.5px,#15c81a 101.5px,#0cc40b 106.5px,#6ce107 109.5px,#d4f900 112.5px,#fef900 114.5px,#ffc200 117.5px,#fe1502 122.5px,#fa0909 124.5px,#ee2020 130.5px,#e23434 134.5px,#e33232 145.5px,#f80e0e 151.5px,#f00 159.5px,#ff1200 162.5px,#ff9a00 166.5px,#ffec00 170.5px,#fdfe00 172.5px,#dbfa00 174.5px,#b9f500 175.5px,#24cc0a 178.5px,#0ac30b 179.5px,#0ac30b 243.5px,#4ed909 246.5px,#b4f500 249.5px,#f8fe00 253.5px,#f9fe00 314.5px,#b4f500 318.5px,#34d10a 322.5px,#0bc30b 324.5px,#0ac30b 395.5px,#4ed909 397.5px,#adf301 399.5px,#fffc00 402.5px,#ffa600 408.5px,#ff7200 412.5px,#ff9e00 413.5px,#f60 417.5px,#ff1700 421.5px,#fe0101 428.5px,#ff0a00 441.5px,#ff4800 447.5px,#ff5000 451.5px,#ff5d00 455.5px,#ff5900)"></i><i style="left:252px;width:3px;background:linear-gradient(#05052e 0,#040437 47.5px,#02025e 60.5px,#0002e9 77.5px,#0217ff 83.5px,#2a60ff 88.5px,#3d78ff 89.5px,#9dccff 91.5px,#d0ebe8 94.5px,#bbebcd 96.5px,#48d750 99.5px,#1bca20 100.5px,#0cc40b 105.5px,#44d60a 107.5px,#bdf600 110.5px,#f3fd00 112.5px,#ffe500 114.5px,#ff9b00 117.5px,#fd0d04 121.5px,#f11a1a 128.5px,#e13636 132.5px,#e62d2d 145.5px,#f80f0f 150.5px,#f00 158.5px,#ff0f00 161.5px,#ff4e00 163.5px,#ffac00 166.5px,#ffe900 169.5px,#fffd00 171.5px,#e1fb00 173.5px,#c4f700 174.5px,#2fcf0a 177.5px,#0cc40a 178.5px,#0ac30a 243.5px,#53db09 246.5px,#b8f500 249.5px,#fafe00 253.5px,#f9fe00 313.5px,#b4f500 317.5px,#34d10a 321.5px,#0bc30b 323.5px,#0ac30b 395.5px,#4ed909 397.5px,#adf301 399.5px,#fffc00 402.5px,#ffa600 408.5px,#ff7200 412.5px,#ff9f00 413.5px,#f60 417.5px,#ff1700 421.5px,#fe0101 428.5px,#ff0b00 441.5px,#ff4900 447.5px,#ff5100 451.5px,#ff5e00 455.5px,#ff5900)"></i><i style="left:255px;width:3px;background:linear-gradient(#05052e 0,#040438 47.5px,#02025a 59.5px,#0000d8 74.5px,#051cff 83.5px,#2f68ff 88.5px,#add8fe 91.5px,#cde8ee 93.5px,#c0ebd4 95.5px,#adebbd 96.5px,#29ce2f 99.5px,#13c717 100.5px,#0bc30b 104.5px,#42d60a 106.5px,#bef600 109.5px,#f6fd00 111.5px,#ffd100 114.5px,#ff7200 117.5px,#fd0b04 120.5px,#f01c1c 127.5px,#e03838 131.5px,#e43030 144.5px,#f80d0d 150.5px,#ff0100 158.5px,#ff1c00 161.5px,#ff8b00 164.5px,#ffe500 168.5px,#f6fe00 171.5px,#d0f900 173.5px,#13c60a 177.5px,#0fc611 193.5px,#0ac30a 243.5px,#58dc08 246.5px,#bbf600 249.5px,#fbfe00 253.5px,#f8fe00 312.5px,#b3f400 316.5px,#32d00a 320.5px,#0bc30b 322.5px,#0ac30b 395.5px,#4ed909 397.5px,#adf301 399.5px,#fffc00 402.5px,#ffa600 408.5px,#ff7200 412.5px,#ff9e00 413.5px,#ff6500 417.5px,#ff1700 421.5px,#fe0101 428.5px,#ff0a00 441.5px,#ff4700 447.5px,#ff4f00 451.5px,#ff5d00 455.5px,#ff5900)"></i><i style="left:258px;width:3px;background:linear-gradient(#05052e 0,#040438 47.5px,#02025e 59.5px,#0002e9 76.5px,#0721ff 83.5px,#3772ff 88.5px,#97c6ff 90.5px,#c4e4f2 92.5px,#d1ebea 93.5px,#baebcd 95.5px,#14c818 99.5px,#0bc40c 103.5px,#1ac80a 104.5px,#bdf600 108.5px,#f7fe00 110.5px,#ffd000 113.5px,#ff7000 116.5px,#fc0606 119.5px,#f01d1d 126.5px,#de3a3a 130.5px,#e23434 143.5px,#f80e0e 149.5px,#f00 157.5px,#ff1200 160.5px,#ff9c00 164.5px,#ffed00 168.5px,#fcfe00 170.5px,#dafa00 172.5px,#b7f500 173.5px,#22cb0a 176.5px,#0bc30b 177.5px,#0cc40a 243.5px,#5cdd08 246.5px,#bdf600 249.5px,#fcff00 253.5px,#f7fe00 311.5px,#b1f400 315.5px,#31d00a 319.5px,#0bc30b 321.5px,#0ac30b 395.5px,#4ed909 397.5px,#adf301 399.5px,#fffc00 402.5px,#ffa600 408.5px,#ff7200 412.5px,#ff9c00 413.5px,#ff6400 417.5px,#ff1700 421.5px,#fe0101 429.5px,#ff0a00 441.5px,#f40 447.5px,#ff4d00 451.5px,#ff5b00 455.5px,#ff5a00)"></i><i style="left:261px;width:3px;background:linear-gradient(#05052e 0,#040438 46.5px,#03035a 58.5px,#0000d7 73.5px,#031aff 82.5px,#2d65ff 87.5px,#4982ff 88.5px,#a8d5ff 90.5px,#cae7ef 92.5px,#c1ebd5 94.5px,#afebbe 95.5px,#21cc27 98.5px,#10c613 100.5px,#11c50a 103.5px,#b7f500 107.5px,#f3fd00 109.5px,#ffd200 112.5px,#ff7500 115.5px,#fc0606 118.5px,#f01d1d 125.5px,#dd3c3c 130.5px,#df3838 142.5px,#f70f0f 148.5px,#f00 156.5px,#ff0e00 159.5px,#ff2400 160.5px,#ff9100 163.5px,#ffe800 167.5px,#fffc00 169.5px,#e2fb00 171.5px,#c7f800 172.5px,#32d00a 175.5px,#0dc40a 176.5px,#0fc50a 243.5px,#60de08 246.5px,#bff700 249.5px,#fdff00 253.5px,#f7fe00 310.5px,#b0f401 314.5px,#30d00a 318.5px,#0bc30b 320.5px,#0ac30b 395.5px,#4ed909 397.5px,#adf301 399.5px,#fffc00 402.5px,#ffa600 408.5px,#ff7200 412.5px,#ff9a00 413.5px,#ff6200 417.5px,#ff1800 421.5px,#fe0101 429.5px,#ff0a00 441.5px,#ff4100 447.5px,#ff4a00 451.5px,#ff5a00 455.5px,#ff5a00)"></i><i style="left:264px;width:3px;background:linear-gradient(#05052e 0,#040438 46.5px,#02025d 58.5px,#0002e8 75.5px,#061eff 82.5px,#306bff 87.5px,#afdafc 90.5px,#cfeaec 92.5px,#bdebd0 94.5px,#6ce076 96.5px,#13c818 98.5px,#0bc30b 102.5px,#4ad80a 104.5px,#aaf201 106.5px,#fff900 109.5px,#ffc000 112.5px,#fd0d04 117.5px,#f11b1b 124.5px,#dc3e3e 129.5px,#e13535 142.5px,#f80e0e 148.5px,#f00 156.5px,#ff1400 159.5px,#ff8400 162.5px,#ffe000 166.5px,#fbfe00 169.5px,#d8fa00 171.5px,#b2f400 172.5px,#46d70a 174.5px,#1eca0a 175.5px,#0bc30b 176.5px,#11c50a 243.5px,#63df07 246.5px,#c1f700 249.5px,#feff00 253.5px,#f7fe00 309.5px,#b2f400 313.5px,#31d00a 317.5px,#0bc30b 319.5px,#0ac30b 395.5px,#4ed909 397.5px,#adf301 399.5px,#fffc00 402.5px,#ffa600 408.5px,#ff7200 412.5px,#ff9700 413.5px,#ff6100 417.5px,#ff1900 421.5px,#fe0101 430.5px,#ff0900 441.5px,#ff3e00 447.5px,#ff4700 451.5px,#ff5900 455.5px,#ff5a00)"></i><i style="left:267px;width:3px;background:linear-gradient(#05052e 0,#040437 45.5px,#030358 57.5px,#0000d5 72.5px,#0011fb 80.5px,#204dff 85.5px,#3974ff 87.5px,#99c8ff 89.5px,#c4e4f2 91.5px,#d0ebe9 92.5px,#b6ebc7 94.5px,#28ce2e 97.5px,#13c717 98.5px,#11c50a 102.5px,#bdf600 106.5px,#fbfe00 108.5px,#fc0 111.5px,#fc0707 117.5px,#ed2121 124.5px,#db4040 128.5px,#dd3c3c 141.5px,#f71010 147.5px,#f00 155.5px,#ff0d00 158.5px,#ff2300 159.5px,#ff9100 162.5px,#ffe800 166.5px,#fffc00 168.5px,#e2fb00 170.5px,#c8f800 171.5px,#33d10a 174.5px,#0dc40a 175.5px,#12c60a 243.5px,#66e007 246.5px,#c3f700 249.5px,#feff00 253.5px,#f9fe00 308.5px,#b6f500 312.5px,#35d10a 316.5px,#0bc30a 318.5px,#0ac30b 395.5px,#4ed909 397.5px,#adf301 399.5px,#fffc00 402.5px,#ffa600 408.5px,#ff7200 412.5px,#ff9500 413.5px,#ff5f00 417.5px,#ff1900 421.5px,#ff0101 430.5px,#ff0900 441.5px,#ff3c00 448.5px,#f40 451.5px,#ff5800 456.5px,#ff5a00)"></i><i style="left:270px;width:3px;background:linear-gradient(#05052e 0,#040438 45.5px,#02025a 57.5px,#0000d8 72.5px,#031aff 81.5px,#2d64ff 86.5px,#4882ff 87.5px,#a8d5ff 89.5px,#c9e7ef 91.5px,#c1ebd5 93.5px,#abeaba 94.5px,#17c91c 97.5px,#0bc30b 101.5px,#45d70a 103.5px,#a7f201 105.5px,#eafc00 107.5px,#fff900 108.5px,#ffc100 111.5px,#fd0c04 116.5px,#ef1d1d 123.5px,#da4141 128.5px,#df3939 141.5px,#f80f0f 147.5px,#f00 155.5px,#ff1200 158.5px,#ff9c00 162.5px,#ffed00 166.5px,#fcff00 168.5px,#dbfa00 170.5px,#b7f500 171.5px,#4bd809 173.5px,#22cb0a 174.5px,#0bc30b 175.5px,#0bc30b 242.5px,#2cce0a 244.5px,#c4f700 249.5px,#ff0 253.5px,#fcff00 307.5px,#bef600 311.5px,#25cc0a 316.5px,#0dc40a 317.5px,#0ac30b 395.5px,#4ed909 397.5px,#adf301 399.5px,#fffc00 402.5px,#ffa600 408.5px,#ff7200 412.5px,#ff9300 413.5px,#ff5d00 417.5px,#ff1200 422.5px,#fe0202 433.5px,#ff0e00 442.5px,#ff3800 448.5px,#ff4100 451.5px,#ff5700 456.5px,#ff5a00)"></i><i style="left:273px;width:3px;background:linear-gradient(#05052e 0,#040438 45.5px,#02025c 57.5px,#0004eb 75.5px,#051dff 81.5px,#306aff 86.5px,#aed9fd 89.5px,#cee9ed 91.5px,#bdebd0 93.5px,#69e073 95.5px,#13c818 97.5px,#0cc40a 101.5px,#59dc08 103.5px,#b9f600 105.5px,#f8fe00 107.5px,#ffcf00 110.5px,#ff6d00 113.5px,#fc0606 116.5px,#ec2222 123.5px,#d94343 127.5px,#db4040 140.5px,#f71111 146.5px,#f00 154.5px,#ff0d00 157.5px,#ff1f00 158.5px,#ff8e00 161.5px,#ffe600 165.5px,#f5fe00 168.5px,#ccf800 170.5px,#10c50a 174.5px,#0bc30b 242.5px,#2dcf0a 244.5px,#c4f700 249.5px,#ff0 253.5px,#f8fe00 307.5px,#b4f500 311.5px,#32d00a 315.5px,#0ac30b 317.5px,#0ac30b 395.5px,#4ed909 397.5px,#adf301 399.5px,#fffc00 402.5px,#ffa600 408.5px,#ff7200 412.5px,#ff9100 413.5px,#ff4b00 418.5px,#ff1300 422.5px,#fe0202 434.5px,#ff1200 443.5px,#ff3500 448.5px,#ff3e00 451.5px,#ff5600 456.5px,#ff5a00)"></i><i style="left:276px;width:3px;background:linear-gradient(#05052e 0,#040438 45.5px,#02025e 57.5px,#0002e9 74.5px,#0721ff 81.5px,#3672ff 86.5px,#96c6ff 88.5px,#c3e4f2 90.5px,#d1ebea 91.5px,#b7ebc8 93.5px,#25cd2b 96.5px,#12c717 97.5px,#0bc40c 100.5px,#18c80a 101.5px,#c6f700 105.5px,#fffb00 107.5px,#ffc400 110.5px,#fe1302 115.5px,#fa0909 117.5px,#ef1e1e 122.5px,#d84444 127.5px,#dd3d3d 140.5px,#f70f0f 146.5px,#f00 154.5px,#f10 157.5px,#f90 161.5px,#ffeb00 165.5px,#fefe00 167.5px,#ddfa00 169.5px,#bcf600 170.5px,#27cd0a 173.5px,#0ac30b 174.5px,#0bc30b 242.5px,#2dcf0a 244.5px,#c5f700 249.5px,#ff0 253.5px,#ff0 306.5px,#c5f700 310.5px,#6ae107 313.5px,#15c70a 316.5px,#0dc50f 319.5px,#0ac30b 395.5px,#4ed909 397.5px,#adf301 399.5px,#fffc00 402.5px,#ffa600 408.5px,#ff7200 412.5px,#ff8f00 413.5px,#ff3a00 419.5px,#ff1300 422.5px,#f00 437.5px,#ff1700 444.5px,#ff3200 448.5px,#ff3b00 451.5px,#f50 456.5px,#ff5a00)"></i><i style="left:279px;width:3px;background:linear-gradient(#05052e 0,#040437 44.5px,#030358 56.5px,#0000d5 71.5px,#0319ff 80.5px,#2c63ff 85.5px,#457eff 86.5px,#a5d2ff 88.5px,#c8e6f0 90.5px,#cdebe5 91.5px,#aceabb 93.5px,#15c81a 96.5px,#0bc30b 100.5px,#4dd909 102.5px,#b1f400 104.5px,#f2fd00 106.5px,#ffe300 108.5px,#ff9800 111.5px,#fc0606 115.5px,#ed2222 122.5px,#d84545 127.5px,#d94343 139.5px,#f61111 145.5px,#f00 153.5px,#ff1900 157.5px,#ff8a00 160.5px,#ffe400 164.5px,#f7fe00 167.5px,#d2f900 169.5px,#72e306 171.5px,#16c70a 173.5px,#0cc40e 175.5px,#0bc30b 242.5px,#2dcf0a 244.5px,#c5f700 249.5px,#ff0 253.5px,#ff0 306.5px,#c5f700 310.5px,#69e107 313.5px,#15c70a 316.5px,#0dc50f 319.5px,#0ac30b 395.5px,#4ed909 397.5px,#adf301 399.5px,#fffc00 402.5px,#ffa600 408.5px,#ff7200 412.5px,#ff8d00 413.5px,#ff1300 422.5px,#f00 437.5px,#ff1f00 445.5px,#ff2f00 449.5px,#ff5800 457.5px,#ff5b00)"></i><i style="left:282px;width:3px;background:linear-gradient(#05052e 0,#040437 44.5px,#030359 56.5px,#0000ce 70.5px,#0009f1 76.5px,#051cff 80.5px,#2f68ff 85.5px,#add8fe 88.5px,#cde8ee 90.5px,#beebd1 92.5px,#9de8ab 93.5px,#39d240 95.5px,#13c818 96.5px,#0dc40a 100.5px,#bef600 104.5px,#fdfe00 106.5px,#ffca00 109.5px,#ff1e00 114.5px,#fc0707 115.5px,#f01d1d 121.5px,#d74646 126.5px,#da4040 139.5px,#f71010 145.5px,#f00 153.5px,#ff0f00 156.5px,#ff4f00 158.5px,#ffad00 161.5px,#ffe900 164.5px,#fffe00 166.5px,#e0fb00 168.5px,#c3f700 169.5px,#2ecf0a 172.5px,#0ac30a 173.5px,#0bc30b 242.5px,#2dcf0a 244.5px,#c5f700 249.5px,#ff0 253.5px,#ff0 306.5px,#c5f700 310.5px,#69e107 313.5px,#15c70a 316.5px,#0dc50f 319.5px,#0ac30b 395.5px,#4ed909 397.5px,#adf301 399.5px,#fffc00 402.5px,#ffa600 408.5px,#ff7200 412.5px,#ff8a00 413.5px,#ff1400 422.5px,#ff0100 437.5px,#ff1c00 445.5px,#ff2c00 449.5px,#ff5b00)"></i><i style="left:285px;width:3px;background:linear-gradient(#05052e 0,#040438 44.5px,#02025a 56.5px,#0000d8 71.5px,#061fff 80.5px,#326dff 85.5px,#90c0ff 87.5px,#b1dbfb 88.5px,#d1eaeb 90.5px,#b9ebcb 92.5px,#28ce2e 95.5px,#12c717 96.5px,#0bc40c 99.5px,#19c80a 100.5px,#70e206 102.5px,#c8f800 104.5px,#fff900 106.5px,#ffc100 109.5px,#ff3400 113.5px,#fd0b04 114.5px,#f31717 120.5px,#d64747 126.5px,#d64747 138.5px,#f70f0f 145.5px,#f00 153.5px,#ff1300 156.5px,#ff8300 159.5px,#ffe000 163.5px,#fbfe00 166.5px,#d9fa00 168.5px,#b4f500 169.5px,#48d70a 171.5px,#1fca0a 172.5px,#0bc30b 173.5px,#0bc30b 242.5px,#2dcf0a 244.5px,#c5f700 249.5px,#ff0 253.5px,#ff0 306.5px,#c5f700 310.5px,#69e107 313.5px,#15c70a 316.5px,#0dc50f 319.5px,#0ac30b 395.5px,#4ed909 397.5px,#adf301 399.5px,#fffc00 402.5px,#ffa600 408.5px,#ff7200 412.5px,#ff8900 413.5px,#ff1400 422.5px,#ff0100 437.5px,#ff1a00 445.5px,#ff2a00 449.5px,#ff5b00)"></i><i style="left:288px;width:3px;background:linear-gradient(#05052e 0,#040438 44.5px,#02025b 56.5px,#0000d8 71.5px,#0116ff 79.5px,#2a5fff 84.5px,#3b76ff 85.5px,#9bcaff 87.5px,#c5e5f1 89.5px,#d0ebe8 90.5px,#b2ebc2 92.5px,#19c91f 95.5px,#0bc30b 99.5px,#4bd80a 101.5px,#b1f400 103.5px,#f3fd00 105.5px,#ffe300 107.5px,#ffb700 109.5px,#fc0606 114.5px,#f11b1b 120.5px,#d64848 125.5px,#d84545 138.5px,#f61111 144.5px,#f00 152.5px,#ff0c00 155.5px,#ff1e00 156.5px,#ff8d00 159.5px,#ffe500 163.5px,#f6fe00 166.5px,#cef800 168.5px,#11c50a 172.5px,#0bc30b 242.5px,#2dcf0a 244.5px,#c5f700 249.5px,#ff0 253.5px,#ff0 306.5px,#c5f700 310.5px,#69e107 313.5px,#15c70a 316.5px,#0dc50f 319.5px,#0ac30b 395.5px,#4ed909 397.5px,#adf301 399.5px,#fffc00 402.5px,#ffa600 408.5px,#ff7200 412.5px,#ff8b00 413.5px,#ff1400 422.5px,#ff0100 437.5px,#ff1d00 445.5px,#ff2d00 449.5px,#ff5b00)"></i><i style="left:291px;width:3px;background:linear-gradient(#05052e 0,#040438 44.5px,#02025b 56.5px,#0000d0 70.5px,#0008f0 75.5px,#0925ff 80.5px,#2c63ff 84.5px,#467fff 85.5px,#a6d3ff 87.5px,#c9e6f0 89.5px,#cdebe5 90.5px,#aaeab8 92.5px,#14c818 95.5px,#0ac30a 99.5px,#58dc08 101.5px,#baf600 103.5px,#fcff00 105.5px,#ffcb00 108.5px,#fc0707 114.5px,#ef1e1e 120.5px,#d54949 125.5px,#d94242 138.5px,#f71010 144.5px,#f00 152.5px,#ff0f00 155.5px,#ff5000 157.5px,#ffad00 160.5px,#ffea00 163.5px,#fffe00 165.5px,#e0fb00 167.5px,#c2f700 168.5px,#2dcf0a 171.5px,#0ac30a 172.5px,#0bc30b 242.5px,#2dcf0a 244.5px,#c5f700 249.5px,#ff0 253.5px,#ff0 306.5px,#c5f700 310.5px,#6ae107 313.5px,#15c70a 316.5px,#0dc50f 319.5px,#0ac30b 395.5px,#4ed909 397.5px,#adf301 399.5px,#fffc00 402.5px,#ffa600 408.5px,#ff7200 412.5px,#ff8d00 413.5px,#ff3900 419.5px,#ff1300 422.5px,#f00 437.5px,#ff1600 444.5px,#ff3000 448.5px,#ff3900 451.5px,#f50 456.5px,#ff5b00)"></i><i style="left:294px;width:3px;background:linear-gradient(#05052e 0,#040438 44.5px,#02025b 56.5px,#0000c7 69.5px,#0003ea 73.5px,#041bff 79.5px,#2e67ff 84.5px,#7eb1ff 86.5px,#abd8fe 87.5px,#cbe8ee 89.5px,#beebd2 91.5px,#a0e9ad 92.5px,#3ad241 94.5px,#13c818 95.5px,#0fc50a 99.5px,#c1f700 103.5px,#fffd00 105.5px,#ffc600 108.5px,#ff1a00 113.5px,#fb0707 114.5px,#ee2020 120.5px,#d54949 125.5px,#d54949 137.5px,#f71010 144.5px,#f00 152.5px,#ff1200 155.5px,#ff9b00 159.5px,#ffec00 163.5px,#fdff00 165.5px,#dcfa00 167.5px,#b9f600 168.5px,#4dd909 170.5px,#23cb0a 171.5px,#0bc30b 172.5px,#0bc30b 242.5px,#2dcf0a 244.5px,#c5f700 249.5px,#ff0 253.5px,#ff0 306.5px,#c5f700 310.5px,#6ae107 313.5px,#15c70a 316.5px,#0dc50f 319.5px,#0ac30b 395.5px,#4ed909 397.5px,#adf301 399.5px,#fffc00 402.5px,#ffa600 408.5px,#ff7200 412.5px,#ff9000 413.5px,#ff4a00 418.5px,#ff1300 422.5px,#ff0101 436.5px,#ff1800 444.5px,#f30 448.5px,#ff3c00 451.5px,#ff5600 456.5px,#ff5a00)"></i><i style="left:297px;width:3px;background:linear-gradient(#05052e 0,#040438 44.5px,#02025a 56.5px,#0000be 68.5px,#0003ea 73.5px,#051dff 79.5px,#2f69ff 84.5px,#aed9fd 87.5px,#cee9ed 89.5px,#bdebcf 91.5px,#66df70 93.5px,#31d038 94.5px,#13c717 95.5px,#0cc40d 98.5px,#15c70a 99.5px,#6ce107 101.5px,#c7f800 103.5px,#fff900 105.5px,#ffc200 108.5px,#ff3500 112.5px,#fd0b04 113.5px,#f21919 119.5px,#d44a4a 124.5px,#d44a4a 137.5px,#f61212 143.5px,#f00 151.5px,#ff1500 155.5px,#ff8600 158.5px,#ffe100 162.5px,#fafe00 165.5px,#d7fa00 167.5px,#b0f400 168.5px,#43d60a 170.5px,#1bc90a 171.5px,#0bc30b 172.5px,#0bc30b 242.5px,#2dcf0a 244.5px,#c5f700 249.5px,#ff0 253.5px,#ff0 306.5px,#c5f700 310.5px,#6ae107 313.5px,#15c70a 316.5px,#0dc50f 319.5px,#0ac30b 395.5px,#4ed909 397.5px,#adf301 399.5px,#fffc00 402.5px,#ffa600 408.5px,#ff7200 412.5px,#ff9200 413.5px,#ff4c00 418.5px,#ff1300 422.5px,#fe0202 434.5px,#ff1300 443.5px,#ff3600 448.5px,#ff3f00 451.5px,#ff5700 456.5px,#ff5a00)"></i><i style="left:300px;width:3px;background:linear-gradient(#05052e 0,#040438 44.5px,#03035a 56.5px,#0000b4 67.5px,#0004eb 73.5px,#061eff 79.5px,#306bff 84.5px,#afdafc 87.5px,#cfeaec 89.5px,#bbebce 91.5px,#2bce31 94.5px,#13c717 95.5px,#0bc40c 98.5px,#1ac80a 99.5px,#72e306 101.5px,#cbf800 103.5px,#fff700 105.5px,#ffbe00 108.5px,#ff3100 112.5px,#fc0606 113.5px,#f11a1a 119.5px,#d44b4b 124.5px,#d54949 137.5px,#f61212 143.5px,#f00 151.5px,#ff1a00 155.5px,#ff8a00 158.5px,#ffe400 162.5px,#f7fe00 165.5px,#d1f900 167.5px,#71e306 169.5px,#15c70a 171.5px,#0ec510 174.5px,#0bc30b 242.5px,#2dcf0a 244.5px,#c5f700 249.5px,#ff0 253.5px,#ff0 306.5px,#c5f700 310.5px,#6ae107 313.5px,#15c70a 316.5px,#0dc50f 319.5px,#0ac30b 395.5px,#4ed909 397.5px,#adf301 399.5px,#fffc00 402.5px,#ffa600 408.5px,#ff7200 412.5px,#ff9400 413.5px,#ff5e00 417.5px,#ff1900 421.5px,#fe0101 431.5px,#ff0e00 442.5px,#ff3a00 448.5px,#ff4200 451.5px,#ff5800 456.5px,#ff5a00)"></i><i style="left:303px;width:3px;background:linear-gradient(#05052e 0,#040437 44.5px,#030359 56.5px,#00a 66.5px,#0004eb 73.5px,#061fff 79.5px,#316cff 84.5px,#b0dafc 87.5px,#d0eaec 89.5px,#baebcd 91.5px,#28cd2e 94.5px,#12c717 95.5px,#0bc40c 98.5px,#1cc90a 99.5px,#75e406 101.5px,#cdf800 103.5px,#fff600 105.5px,#ffbc00 108.5px,#fc0606 113.5px,#f11b1b 119.5px,#d34c4c 124.5px,#d54949 137.5px,#f61212 143.5px,#f00 151.5px,#ff0c00 154.5px,#ff1c00 155.5px,#ff8c00 158.5px,#ffe500 162.5px,#f6fe00 165.5px,#cff900 167.5px,#12c60a 171.5px,#0bc30b 242.5px,#2dcf0a 244.5px,#c5f700 249.5px,#ff0 253.5px,#ff0 306.5px,#c5f700 310.5px,#6ae107 313.5px,#15c70a 316.5px,#0dc50f 319.5px,#0ac30b 395.5px,#4ed909 397.5px,#adf301 399.5px,#fffc00 402.5px,#ffa600 408.5px,#ff7200 412.5px,#ff9600 413.5px,#ff6000 417.5px,#ff1900 421.5px,#fe0101 430.5px,#ff0900 441.5px,#ff3d00 448.5px,#ff4500 451.5px,#ff5800 455.5px,#ff5a00)"></i><i style="left:306px;width:3px;background:linear-gradient(#05052e 0,#040438 45.5px,#030359 56.5px,#00a 66.5px,#0004eb 73.5px,#061fff 79.5px,#316cff 84.5px,#b0dafc 87.5px,#d0eaec 89.5px,#bbebcd 91.5px,#28ce2f 94.5px,#12c717 95.5px,#0bc40c 98.5px,#1bc90a 99.5px,#74e406 101.5px,#ccf800 103.5px,#fff600 105.5px,#ffbc00 108.5px,#fc0606 113.5px,#f11b1b 119.5px,#d24c4c 124.5px,#d44a4a 137.5px,#f61212 143.5px,#f00 151.5px,#ff0c00 154.5px,#ff1c00 155.5px,#ff8c00 158.5px,#ffe500 162.5px,#f6fe00 165.5px,#cff900 167.5px,#13c60a 171.5px,#0bc30b 242.5px,#2dcf0a 244.5px,#c5f700 249.5px,#ff0 253.5px,#ff0 306.5px,#c5f700 310.5px,#6ae107 313.5px,#15c70a 316.5px,#0dc50f 319.5px,#0ac30b 395.5px,#4ed909 397.5px,#adf301 399.5px,#fffc00 402.5px,#ffa600 408.5px,#ff7200 412.5px,#f90 413.5px,#ff6200 417.5px,#ff1800 421.5px,#fe0101 430.5px,#ff0a00 441.5px,#ff4000 447.5px,#ff4800 451.5px,#ff5900 455.5px,#ff5a00)"></i><i style="left:309px;width:3px;background:linear-gradient(#05052e 0,#040438 45.5px,#030358 56.5px,#0000b3 67.5px,#0003ea 73.5px,#051dff 79.5px,#2f69ff 84.5px,#aed9fd 87.5px,#cee9ed 89.5px,#bcebcf 91.5px,#66df6f 93.5px,#31d037 94.5px,#13c717 95.5px,#0cc40c 98.5px,#16c70a 99.5px,#6de206 101.5px,#c7f800 103.5px,#fff900 105.5px,#ffc100 108.5px,#ff3400 112.5px,#fd0b04 113.5px,#f11a1a 119.5px,#d24d4d 124.5px,#d24d4d 137.5px,#f61212 143.5px,#f00 151.5px,#ff1700 155.5px,#f80 158.5px,#ffe200 162.5px,#f9fe00 165.5px,#d4f900 167.5px,#75e406 169.5px,#19c80a 171.5px,#0cc40e 173.5px,#0bc30b 242.5px,#2dcf0a 244.5px,#c5f700 249.5px,#fffe00 253.5px,#fffe00 306.5px,#c5f700 310.5px,#6ae107 313.5px,#15c70a 316.5px,#0dc50f 319.5px,#0ac30b 395.5px,#4ed909 397.5px,#adf301 399.5px,#fffc00 402.5px,#ffa600 408.5px,#ff7200 412.5px,#ff9b00 413.5px,#ff6300 417.5px,#ff1800 421.5px,#fe0101 429.5px,#ff0a00 441.5px,#ff4300 447.5px,#ff4b00 451.5px,#ff5b00 455.5px,#ff5a00)"></i><i style="left:312px;width:3px;background:linear-gradient(#05052e 0,#040438 45.5px,#02025d 57.5px,#0000b1 67.5px,#0003e9 73.5px,#031aff 79.5px,#2d65ff 84.5px,#4982ff 85.5px,#a8d5ff 87.5px,#cae7ef 89.5px,#c0ebd3 91.5px,#a5eab4 92.5px,#13c818 95.5px,#0cc40a 99.5px,#bef600 103.5px,#fefe00 105.5px,#ffc900 108.5px,#ff1d00 113.5px,#fb0707 114.5px,#ed2222 120.5px,#d14e4e 125.5px,#d14e4e 137.5px,#f71010 144.5px,#f00 152.5px,#ff1200 155.5px,#ff9b00 159.5px,#ffec00 163.5px,#fdff00 165.5px,#dcfa00 167.5px,#b9f600 168.5px,#23cb0a 171.5px,#0bc30b 172.5px,#0bc30b 242.5px,#2ecf0a 244.5px,#c5f700 249.5px,#fffe00 253.5px,#fffe00 306.5px,#c5f700 310.5px,#6ae107 313.5px,#15c70a 316.5px,#0dc50f 319.5px,#0ac30b 395.5px,#4ed909 397.5px,#adf301 399.5px,#fffc00 402.5px,#ffa600 408.5px,#ff7200 412.5px,#ff9d00 413.5px,#ff6500 417.5px,#ff1700 421.5px,#fe0202 429.5px,#ff0a00 441.5px,#ff4600 447.5px,#ff4e00 451.5px,#ff5c00 455.5px,#ff5a00)"></i><i style="left:315px;width:3px;background:linear-gradient(#05052e 0,#040437 45.5px,#02025a 57.5px,#0000ad 67.5px,#0005ec 74.5px,#0721ff 80.5px,#3873ff 85.5px,#98c7ff 87.5px,#c4e4f2 89.5px,#d0ebe9 90.5px,#b4ebc5 92.5px,#1dca22 95.5px,#0bc30b 99.5px,#22cb0a 100.5px,#aff301 103.5px,#f2fd00 105.5px,#ffe300 107.5px,#ff9800 110.5px,#fc0606 114.5px,#ef1e1e 120.5px,#d04f4f 125.5px,#d44b4b 138.5px,#f61212 144.5px,#f00 152.5px,#ff0e00 155.5px,#ff4b00 157.5px,#fa0 160.5px,#ffe800 163.5px,#fffc00 165.5px,#e2fb00 167.5px,#c7f800 168.5px,#32d00a 171.5px,#0cc40a 172.5px,#0bc30b 242.5px,#2ecf0a 244.5px,#c6f700 249.5px,#fffe00 253.5px,#fffe00 306.5px,#c6f700 310.5px,#6ae107 313.5px,#15c70a 316.5px,#0dc50f 319.5px,#0ac30b 395.5px,#4ed909 397.5px,#adf301 399.5px,#fffc00 402.5px,#ffa600 408.5px,#ff7200 412.5px,#ffa000 413.5px,#f60 417.5px,#ff1700 421.5px,#fe0101 428.5px,#ff0b00 441.5px,#ff4a00 447.5px,#ff5200 451.5px,#ff5e00 455.5px,#ff5900)"></i><i style="left:318px;width:3px;background:linear-gradient(#05052e 0,#040438 46.5px,#02025e 58.5px,#0000b2 68.5px,#0003ea 74.5px,#041cff 80.5px,#2f68ff 85.5px,#acd8fe 88.5px,#cce8ee 90.5px,#beebd1 92.5px,#9de8ab 93.5px,#38d23f 95.5px,#13c818 96.5px,#10c50a 100.5px,#c0f700 104.5px,#fefd00 106.5px,#ffc700 109.5px,#ff1b00 114.5px,#fb0707 115.5px,#ec2323 121.5px,#d05151 126.5px,#d05050 138.5px,#f71010 145.5px,#f00 153.5px,#ff1400 156.5px,#ff8400 159.5px,#ffe000 163.5px,#fbfe00 166.5px,#d8fa00 168.5px,#b3f400 169.5px,#47d70a 171.5px,#1eca0a 172.5px,#0bc30b 173.5px,#0bc30b 242.5px,#2ecf0a 244.5px,#c6f700 249.5px,#fffe00 253.5px,#f7fe00 307.5px,#aff400 311.5px,#2ecf0a 315.5px,#0bc30b 317.5px,#0ac30b 395.5px,#4ed909 397.5px,#adf301 399.5px,#fffc00 402.5px,#ffa600 408.5px,#ff7200 412.5px,#ffa000 413.5px,#f60 417.5px,#ff1700 421.5px,#fe0101 428.5px,#ff0b00 441.5px,#ff4900 447.5px,#ff5100 451.5px,#ff5e00 455.5px,#ff5900)"></i><i style="left:321px;width:3px;background:linear-gradient(#05052e 0,#040438 46.5px,#02025b 58.5px,#0000ad 68.5px,#0004ec 75.5px,#0721ff 81.5px,#3873ff 86.5px,#97c7ff 88.5px,#c4e4f2 90.5px,#d0ebe9 91.5px,#b5ebc6 93.5px,#20cb25 96.5px,#0dc50f 99.5px,#0bc40c 100.5px,#1eca0a 101.5px,#cdf800 105.5px,#fff700 107.5px,#ffbd00 110.5px,#fd0b04 115.5px,#ef1e1e 121.5px,#cf5252 126.5px,#d14e4e 139.5px,#f61212 145.5px,#f00 153.5px,#ff0d00 156.5px,#f20 157.5px,#ff9000 160.5px,#ffe700 164.5px,#f4fd00 167.5px,#c9f800 169.5px,#35d10a 172.5px,#0ec40a 173.5px,#0bc30b 242.5px,#2ecf0a 244.5px,#c6f700 249.5px,#fffe00 253.5px,#f7fe00 307.5px,#aff400 311.5px,#2ecf0a 315.5px,#0bc30b 317.5px,#0ac30b 395.5px,#4ed909 397.5px,#adf301 399.5px,#fffc00 402.5px,#ffa600 408.5px,#ff7200 412.5px,#ff9d00 413.5px,#ff6500 417.5px,#ff1700 421.5px,#fe0202 429.5px,#ff0a00 441.5px,#ff4600 447.5px,#ff4e00 451.5px,#ff5c00 455.5px,#ff5a00)"></i><i style="left:324px;width:3px;background:linear-gradient(#05052e 0,#040437 46.5px,#030357 58.5px,#00b 70.5px,#0003e9 75.5px,#031aff 81.5px,#2d65ff 86.5px,#4a83ff 87.5px,#a8d5fe 89.5px,#cae7ef 91.5px,#c0ebd4 93.5px,#a6eab5 94.5px,#15c81a 97.5px,#0cc40b 101.5px,#54db09 103.5px,#b6f500 105.5px,#f7fe00 107.5px,#ffcf00 110.5px,#ff6e00 113.5px,#fc0707 116.5px,#ed2222 122.5px,#ce5454 127.5px,#d34b4b 140.5px,#f61111 146.5px,#f00 154.5px,#f10 157.5px,#f90 161.5px,#ffeb00 165.5px,#fdfe00 167.5px,#ddfa00 169.5px,#bcf600 170.5px,#26cc0a 173.5px,#0ac30b 174.5px,#0bc30b 242.5px,#2ecf0a 244.5px,#c6f700 249.5px,#fffe00 253.5px,#f7fe00 307.5px,#aff400 311.5px,#2ecf0a 315.5px,#0bc30b 317.5px,#0ac30b 395.5px,#4ed909 397.5px,#adf301 399.5px,#fffc00 402.5px,#ffa600 408.5px,#ff7200 412.5px,#ff9b00 413.5px,#ff6300 417.5px,#ff1800 421.5px,#fe0101 429.5px,#ff0a00 441.5px,#ff4300 447.5px,#ff4b00 451.5px,#ff5b00 455.5px,#ff5a00)"></i><i style="left:327px;width:3px;background:linear-gradient(#05052e 0,#040438 47.5px,#02025b 59.5px,#0000bf 71.5px,#0004eb 76.5px,#061eff 82.5px,#316bff 87.5px,#afdafc 90.5px,#cfe9ec 92.5px,#bbebce 94.5px,#66df6f 96.5px,#32d039 97.5px,#13c717 98.5px,#11c50a 102.5px,#bff600 106.5px,#fcfd00 108.5px,#ffc900 111.5px,#ff1e00 116.5px,#fb0707 117.5px,#f11b1b 122.5px,#c55 128.5px,#cd5454 140.5px,#f71010 147.5px,#ff0100 155.5px,#ff1700 158.5px,#ff8600 161.5px,#ffe100 165.5px,#f9fe00 168.5px,#d5f900 170.5px,#78e505 172.5px,#1bc90a 174.5px,#0bc30b 175.5px,#0bc30b 242.5px,#2ecf0a 244.5px,#c6f700 249.5px,#fffe00 253.5px,#f8fe00 307.5px,#b0f400 311.5px,#2ecf0a 315.5px,#0bc30b 317.5px,#0ac30b 395.5px,#4ed909 397.5px,#adf301 399.5px,#fffc00 402.5px,#ffa600 408.5px,#ff7200 412.5px,#ff9800 413.5px,#ff6100 417.5px,#ff1800 421.5px,#fe0101 430.5px,#ff0900 441.5px,#ff3f00 447.5px,#ff4800 451.5px,#ff5900 455.5px,#ff5a00)"></i><i style="left:330px;width:3px;background:linear-gradient(#05052e 0,#040437 47.5px,#030357 59.5px,#0000c2 72.5px,#0005ec 77.5px,#0822ff 83.5px,#295eff 87.5px,#3a74ff 88.5px,#98c7ff 90.5px,#c4e4f2 92.5px,#cfebe9 93.5px,#b5ebc6 95.5px,#24cc29 98.5px,#10c613 100.5px,#0bc40c 102.5px,#19c80a 103.5px,#c6f700 107.5px,#fefb00 109.5px,#ffc400 112.5px,#fe1402 117.5px,#fa0a0a 119.5px,#e92828 124.5px,#cc5656 128.5px,#cd5454 141.5px,#f61313 147.5px,#f00 155.5px,#ff0d00 158.5px,#ff1e00 159.5px,#ff8d00 162.5px,#ffe500 166.5px,#f5fe00 169.5px,#cdf800 171.5px,#12c60a 175.5px,#0bc30b 242.5px,#2dcf0a 244.5px,#c6f700 249.5px,#fffe00 253.5px,#fafe00 307.5px,#b5f500 311.5px,#33d10a 315.5px,#0ac30b 317.5px,#0ac30b 395.5px,#4ed909 397.5px,#adf301 399.5px,#fffc00 402.5px,#ffa600 408.5px,#ff7200 412.5px,#ff9600 413.5px,#ff6000 417.5px,#ff1900 421.5px,#ff0101 430.5px,#ff0900 441.5px,#ff3d00 448.5px,#ff4500 451.5px,#ff5900 456.5px,#ff5a00)"></i><i style="left:333px;width:3px;background:linear-gradient(#05052e 0,#040438 48.5px,#02025b 60.5px,#0000cf 74.5px,#0008f0 79.5px,#0925ff 84.5px,#2c63ff 88.5px,#457fff 89.5px,#a3d1ff 91.5px,#c8e6f0 93.5px,#cdebe5 94.5px,#aceabc 96.5px,#1aca1f 99.5px,#0bc30b 103.5px,#20ca0a 104.5px,#ccf800 108.5px,#fff800 110.5px,#ffbf00 113.5px,#fd0d04 118.5px,#f41616 123.5px,#ca5959 129.5px,#cd5454 142.5px,#f61212 148.5px,#f00 156.5px,#ff0e00 159.5px,#ff4c00 161.5px,#ffab00 164.5px,#ffe800 167.5px,#fffd00 169.5px,#e1fb00 171.5px,#c6f700 172.5px,#31d00a 175.5px,#0dc40a 176.5px,#13c60a 243.5px,#67e007 246.5px,#c4f700 249.5px,#fffe00 253.5px,#fffb00 306.5px,#e4fb00 309.5px,#a3f002 312.5px,#24cc0a 316.5px,#0dc40a 317.5px,#0ac30b 395.5px,#4ed909 397.5px,#adf301 399.5px,#fffc00 402.5px,#ffa600 408.5px,#ff7200 412.5px,#ff9400 413.5px,#ff5e00 417.5px,#ff1900 421.5px,#fe0101 431.5px,#ff0e00 442.5px,#ff3900 448.5px,#ff4100 451.5px,#ff5800 456.5px,#ff5a00)"></i><i style="left:336px;width:3px;background:linear-gradient(#05052e 0,#040437 48.5px,#02025e 61.5px,#0003ea 78.5px,#041cff 84.5px,#2f68ff 89.5px,#abd7fe 92.5px,#cce8ee 94.5px,#beebd2 96.5px,#a2e9b0 97.5px,#15c81a 100.5px,#0bc40b 104.5px,#4ed909 106.5px,#aff301 108.5px,#f0fd00 110.5px,#ffe500 112.5px,#ff9b00 115.5px,#fd0b04 119.5px,#f31818 124.5px,#c95b5b 130.5px,#ce5353 143.5px,#f61212 149.5px,#f00 157.5px,#ff1000 160.5px,#ff9700 164.5px,#ffeb00 168.5px,#fefe00 170.5px,#defb00 172.5px,#bff600 173.5px,#29cd0a 176.5px,#0bc30b 177.5px,#0fc50a 243.5px,#62df07 246.5px,#c1f700 249.5px,#ff0 253.5px,#fff900 288.5px,#fafe00 308.5px,#b5f500 312.5px,#33d10a 316.5px,#0ac30b 318.5px,#0ac30b 395.5px,#4ed909 397.5px,#adf301 399.5px,#fffc00 402.5px,#ffa600 408.5px,#ff7200 412.5px,#ff9100 413.5px,#ff4b00 418.5px,#ff1300 422.5px,#fe0202 434.5px,#ff1200 443.5px,#ff3600 448.5px,#ff3e00 451.5px,#ff5700 456.5px,#ff5a00)"></i><i style="left:339px;width:3px;background:linear-gradient(#05052e 0,#040437 49.5px,#030359 61.5px,#0000d6 76.5px,#061fff 85.5px,#336eff 90.5px,#8ebeff 92.5px,#b1dafc 93.5px,#cfeaeb 95.5px,#bbebcd 97.5px,#35d13b 100.5px,#13c818 101.5px,#0dc40a 105.5px,#57dc08 107.5px,#b6f500 109.5px,#f5fe00 111.5px,#ffd000 114.5px,#ff7100 117.5px,#fc0606 120.5px,#f11a1a 125.5px,#c75d5d 131.5px,#c75d5d 143.5px,#f61212 150.5px,#f00 158.5px,#ff1300 161.5px,#ff9b00 165.5px,#ffec00 169.5px,#fcfe00 171.5px,#dafa00 173.5px,#b7f500 174.5px,#22cb0a 177.5px,#0bc30b 178.5px,#0bc30a 243.5px,#5bdd08 246.5px,#bdf600 249.5px,#feff00 253.5px,#fff100 285.5px,#f8fe00 309.5px,#aff401 313.5px,#2ecf0a 317.5px,#0bc30b 319.5px,#0ac30b 395.5px,#4ed909 397.5px,#adf301 399.5px,#fffc00 402.5px,#ffa600 408.5px,#ff7200 412.5px,#ff8f00 413.5px,#ff3a00 419.5px,#ff1300 422.5px,#f00 437.5px,#ff1700 444.5px,#ff3200 448.5px,#ff3b00 451.5px,#ff5600 456.5px,#ff5a00)"></i><i style="left:342px;width:3px;background:linear-gradient(#05052e 0,#040438 50.5px,#02025b 62.5px,#0005ec 80.5px,#0822ff 86.5px,#2a5fff 90.5px,#3b76ff 91.5px,#9ac9ff 93.5px,#c5e4f2 95.5px,#cfebe8 96.5px,#b5ebc6 98.5px,#28cd2e 101.5px,#13c717 102.5px,#12c60a 106.5px,#bdf600 110.5px,#f9fd00 112.5px,#fc0 115.5px,#ff6900 118.5px,#fc0707 121.5px,#f01d1d 126.5px,#c65f5f 132.5px,#c65e5e 144.5px,#f61111 151.5px,#ff0100 159.5px,#ff1600 162.5px,#ff9f00 166.5px,#ffe100 169.5px,#fafe00 172.5px,#d6fa00 174.5px,#7ae505 176.5px,#1cc90a 178.5px,#0bc30b 179.5px,#0ac30a 243.5px,#53db09 246.5px,#b8f600 249.5px,#fcff00 253.5px,#fff000 279.5px,#ffed00 285.5px,#fffa00 299.5px,#f7fe00 310.5px,#adf301 314.5px,#2cce0a 318.5px,#0bc30b 320.5px,#0ac30b 395.5px,#4ed909 397.5px,#adf301 399.5px,#fffc00 402.5px,#ffa600 408.5px,#ff7200 412.5px,#ff8c00 413.5px,#ff1300 422.5px,#f00 437.5px,#ff1f00 445.5px,#ff2f00 449.5px,#ff5800 457.5px,#ff5b00)"></i><i style="left:345px;width:3px;background:linear-gradient(#05052e 0,#040437 50.5px,#02025e 63.5px,#0002e9 80.5px,#0319ff 86.5px,#2c63ff 91.5px,#447eff 92.5px,#a3d0ff 94.5px,#c8e6f0 96.5px,#ceebe5 97.5px,#afeabf 99.5px,#20cb26 102.5px,#0ec510 105.5px,#17c70a 107.5px,#c0f700 111.5px,#fbfd00 113.5px,#ffca00 116.5px,#ff1f00 121.5px,#fb0707 122.5px,#ef1f1f 127.5px,#c46161 133.5px,#c55f5f 145.5px,#f61111 152.5px,#ff0100 160.5px,#ff1800 163.5px,#ffa100 167.5px,#ffe200 170.5px,#f9fe00 173.5px,#d4f900 175.5px,#77e406 177.5px,#1ac80a 179.5px,#0bc30b 180.5px,#0bc30b 243.5px,#2fcf0a 245.5px,#b2f400 249.5px,#f9fe00 253.5px,#ffed00 279.5px,#ffe500 284.5px,#fff900 293.5px,#f8fe00 311.5px,#adf301 315.5px,#2cce0a 319.5px,#0bc30b 321.5px,#0ac30b 395.5px,#4ed909 397.5px,#adf301 399.5px,#fffc00 402.5px,#ffa600 408.5px,#ff7200 412.5px,#ff8a00 413.5px,#ff1400 422.5px,#ff0100 437.5px,#ff1c00 445.5px,#ff2b00 449.5px,#ff5b00)"></i><i style="left:348px;width:3px;background:linear-gradient(#05052e 0,#040437 51.5px,#030359 63.5px,#0000d6 78.5px,#031aff 87.5px,#2d65ff 92.5px,#4a83ff 93.5px,#a7d3fe 95.5px,#cae7ef 97.5px,#c1ebd5 99.5px,#abeaba 100.5px,#1ecb23 103.5px,#0bc40c 107.5px,#18c80a 108.5px,#c1f700 112.5px,#fbfd00 114.5px,#ffca00 117.5px,#ff4000 121.5px,#fe1b02 122.5px,#fb0707 123.5px,#ee1f1f 128.5px,#c36363 134.5px,#c46262 146.5px,#f61212 153.5px,#ff0100 161.5px,#ff1600 164.5px,#ff9e00 168.5px,#ffed00 172.5px,#fafe00 174.5px,#d7fa00 176.5px,#7de605 178.5px,#1eca0a 180.5px,#0bc30b 181.5px,#10c50a 244.5px,#63df07 247.5px,#c2f700 250.5px,#fffe00 254.5px,#ffec00 279.5px,#ffe400 284.5px,#fff900 293.5px,#f9fe00 312.5px,#aff301 316.5px,#2ecf0a 320.5px,#0bc30b 322.5px,#0ac30b 395.5px,#4ed909 397.5px,#adf301 399.5px,#fffc00 402.5px,#ffa600 408.5px,#ff7200 412.5px,#f80 413.5px,#ff1400 422.5px,#ff0300 438.5px,#f20 446.5px,#ff3200 451.5px,#ff5700 457.5px,#ff5b00)"></i><i style="left:351px;width:3px;background:linear-gradient(#05052e 0,#040438 52.5px,#02025a 64.5px,#0004ea 82.5px,#041aff 88.5px,#2d65ff 93.5px,#4b84ff 94.5px,#a7d4fe 96.5px,#cae7ef 98.5px,#c1ebd5 100.5px,#aaeaba 101.5px,#1fcb24 104.5px,#0ec50f 107.5px,#16c70a 109.5px,#bef600 113.5px,#f8fd00 115.5px,#fc0 118.5px,#ff6a00 121.5px,#fc0707 124.5px,#ef1f1f 129.5px,#c26565 135.5px,#c26464 147.5px,#f51313 154.5px,#f00 162.5px,#ff1200 165.5px,#ff9800 169.5px,#ffeb00 173.5px,#fdfd00 175.5px,#dcfa00 177.5px,#bcf600 178.5px,#28cd0a 181.5px,#0dc40b 182.5px,#0ac30a 244.5px,#57dc08 247.5px,#bbf600 250.5px,#feff00 254.5px,#ffec00 279.5px,#ffea00 285.5px,#fff900 297.5px,#fafe00 313.5px,#b2f400 317.5px,#30d00a 321.5px,#0bc30b 323.5px,#0ac30b 395.5px,#4ed909 397.5px,#adf301 399.5px,#fffc00 402.5px,#ffa600 408.5px,#ff7200 412.5px,#ff8700 413.5px,#ff1500 422.5px,#ff0300 438.5px,#ff3000 451.5px,#ff5600 457.5px,#ff5b00)"></i><i style="left:354px;width:3px;background:linear-gradient(#05052e 0,#040438 53.5px,#02025c 65.5px,#0004eb 83.5px,#031aff 89.5px,#2d65ff 94.5px,#4982ff 95.5px,#a6d2fe 97.5px,#cae7ef 99.5px,#c1ebd5 101.5px,#adeabc 102.5px,#22cc28 105.5px,#10c613 107.5px,#14c60a 110.5px,#8eeb03 113.5px,#f4fd00 116.5px,#ffd000 119.5px,#ff7200 122.5px,#fd0c05 125.5px,#f01d1d 130.5px,#c06666 136.5px,#c46161 149.5px,#f71111 156.5px,#ff0200 164.5px,#ff0d00 166.5px,#ff2100 167.5px,#ff8e00 170.5px,#ffe600 174.5px,#f5fe00 177.5px,#cbf800 179.5px,#38d20a 182.5px,#14c60a 183.5px,#0fc611 190.5px,#0bc30b 244.5px,#2fcf0a 246.5px,#b3f500 250.5px,#fbfe00 254.5px,#ffe900 284.5px,#fff800 298.5px,#fcfe00 314.5px,#b5f500 318.5px,#33d10a 322.5px,#0bc30b 324.5px,#0ac30b 395.5px,#4ed909 397.5px,#adf301 399.5px,#fffc00 402.5px,#ffa600 408.5px,#ff7200 412.5px,#ff8500 413.5px,#ff1500 422.5px,#ff0300 438.5px,#ff2e00 451.5px,#ff5b00)"></i><i style="left:357px;width:3px;background:linear-gradient(#05052e 0,#040437 53.5px,#02025d 66.5px,#0002e9 83.5px,#0319ff 90.5px,#2c63ff 95.5px,#447eff 96.5px,#a1cffe 98.5px,#c8e6f0 100.5px,#ceebe6 101.5px,#b1eac1 103.5px,#28ce2e 106.5px,#13c717 107.5px,#0fc50a 111.5px,#55db09 113.5px,#b0f301 115.5px,#eefd00 117.5px,#fff800 118.5px,#ffbe00 121.5px,#fd0e04 126.5px,#f61212 130.5px,#c06666 137.5px,#c06666 150.5px,#f61313 157.5px,#ff0100 165.5px,#ff1500 168.5px,#ff9b00 172.5px,#ffec00 176.5px,#fbfd00 178.5px,#d8fa00 180.5px,#83e804 182.5px,#22cb0a 184.5px,#0cc40b 185.5px,#0ec40a 245.5px,#60de08 248.5px,#c1f700 251.5px,#fffd00 255.5px,#fe0 285.5px,#fdfe00 315.5px,#b7f500 319.5px,#34d10a 323.5px,#0bc30b 325.5px,#0ac30b 395.5px,#4ed909 397.5px,#adf301 399.5px,#fffc00 402.5px,#ffa600 408.5px,#ff7200 412.5px,#ff8400 413.5px,#ff1600 422.5px,#ff0300 438.5px,#ff2d00 451.5px,#ff5b00)"></i><i style="left:360px;width:3px;background:linear-gradient(#05052e 0,#040437 54.5px,#02025f 67.5px,#0003e9 84.5px,#0217ff 91.5px,#2a60ff 96.5px,#3f79ff 97.5px,#9bcaff 99.5px,#c6e5f1 101.5px,#ceebe7 102.5px,#b5ebc6 104.5px,#32d039 107.5px,#13c818 108.5px,#0dc40b 112.5px,#49d809 114.5px,#c7f800 117.5px,#fcfb00 119.5px,#ffc600 122.5px,#fe1902 127.5px,#fb0808 128.5px,#ec2222 133.5px,#be6a6a 139.5px,#c36363 152.5px,#f71111 159.5px,#ff0200 167.5px,#ff0d00 169.5px,#ff2100 170.5px,#ff8d00 173.5px,#ffe500 177.5px,#f5fe00 180.5px,#cbf800 182.5px,#39d20a 185.5px,#15c70a 186.5px,#0ec510 189.5px,#0ac30b 245.5px,#52da09 248.5px,#b9f600 251.5px,#ff0 255.5px,#ffec00 284.5px,#fefd00 316.5px,#bdf600 320.5px,#21cb0a 325.5px,#0dc40a 326.5px,#0ac30b 395.5px,#4ed909 397.5px,#adf301 399.5px,#fffc00 402.5px,#ffa600 408.5px,#ff7200 412.5px,#ff8300 413.5px,#ff1600 422.5px,#ff0300 438.5px,#ff2c00 451.5px,#ff5b00)"></i><i style="left:363px;width:3px;background:linear-gradient(#05052e 0,#040437 55.5px,#030358 67.5px,#0000d6 82.5px,#0006ed 87.5px,#0720ff 93.5px,#3872ff 98.5px,#93c3ff 100.5px,#c2e3f3 102.5px,#ceeaea 103.5px,#baebcc 105.5px,#6ce076 107.5px,#18c91d 109.5px,#0bc40c 113.5px,#1bc90a 114.5px,#bdf600 118.5px,#f6fc00 120.5px,#ffce00 123.5px,#ff6e00 126.5px,#fc0707 129.5px,#ef1f1f 134.5px,#bd6b6b 140.5px,#be6a6a 153.5px,#f51414 160.5px,#ff0100 168.5px,#ff1300 171.5px,#ff9800 175.5px,#ffea00 179.5px,#fcfd00 181.5px,#dcfa00 183.5px,#bcf500 184.5px,#28cd0a 187.5px,#0ec50b 188.5px,#12c60a 246.5px,#67e007 249.5px,#c6f700 252.5px,#fbfe00 255.5px,#ffe900 283.5px,#fafe00 318.5px,#aef301 322.5px,#2bce0a 326.5px,#0bc30b 328.5px,#0ac30b 395.5px,#4ed909 397.5px,#adf301 399.5px,#fffc00 402.5px,#ffa600 408.5px,#ff7200 412.5px,#ff8200 413.5px,#ff1700 422.5px,#ff0300 438.5px,#ff2a00 451.5px,#ff5b00)"></i><i style="left:366px;width:3px;background:linear-gradient(#05052e 0,#040438 56.5px,#030359 68.5px,#0000d7 83.5px,#0006ed 88.5px,#051eff 94.5px,#336cff 99.5px,#aed8fc 102.5px,#cde9ec 104.5px,#beebd1 106.5px,#a3e9b1 107.5px,#1ecb24 110.5px,#0cc40d 114.5px,#13c60a 115.5px,#59dc08 117.5px,#b2f401 119.5px,#eefd00 121.5px,#fff800 122.5px,#ffbe00 125.5px,#fd0f04 130.5px,#f61212 134.5px,#bb6d6d 142.5px,#c06767 155.5px,#f61212 162.5px,#ff0100 170.5px,#ff1a00 173.5px,#ffa100 177.5px,#ffef00 181.5px,#f8fd00 183.5px,#d2f900 185.5px,#77e406 187.5px,#1cc90a 189.5px,#0bc30b 190.5px,#0ac30a 246.5px,#58dc08 249.5px,#bdf600 252.5px,#fffd00 256.5px,#ffe200 282.5px,#fefc00 319.5px,#d3f900 322.5px,#7de605 325.5px,#20ca0a 328.5px,#0bc40c 330.5px,#0ac30b 395.5px,#4ed909 397.5px,#adf301 399.5px,#fffc00 402.5px,#ffa600 408.5px,#ff7200 412.5px,#ff8100 413.5px,#ff1700 422.5px,#ff0300 438.5px,#ff2900 451.5px,#ff5b00)"></i><i style="left:369px;width:3px;background:linear-gradient(#05052e 0,#040438 57.5px,#02025a 69.5px,#0004ea 87.5px,#041bff 95.5px,#2e66ff 100.5px,#4e86ff 101.5px,#a8d4fd 103.5px,#cbe8ee 105.5px,#c1ebd5 107.5px,#adeabd 108.5px,#28ce2e 111.5px,#13c717 112.5px,#0ec40b 116.5px,#4bd809 118.5px,#c6f700 121.5px,#fbfb00 123.5px,#ffc800 126.5px,#fe1b02 131.5px,#fb0707 132.5px,#ed2222 137.5px,#bb6f6f 143.5px,#bb6d6d 156.5px,#f41616 163.5px,#f00 171.5px,#ff0e00 174.5px,#ff4a00 176.5px,#ffa900 179.5px,#ffe700 182.5px,#f3fd00 185.5px,#c7f700 187.5px,#33d10a 190.5px,#12c60a 191.5px,#0bc30b 246.5px,#2dcf0a 248.5px,#b3f500 252.5px,#feff00 256.5px,#ffdc00 282.5px,#fdfd00 321.5px,#b5f400 325.5px,#31d00a 329.5px,#0cc40b 331.5px,#0ac30b 395.5px,#4ed909 397.5px,#adf301 399.5px,#fffc00 402.5px,#ffa600 408.5px,#ff7200 412.5px,#ff7f00 413.5px,#ff1800 422.5px,#ff0300 438.5px,#ff2700 451.5px,#ff5b00)"></i><i style="left:372px;width:3px;background:linear-gradient(#05052e 0,#040437 57.5px,#02025b 70.5px,#0004eb 88.5px,#0218ff 96.5px,#2b62ff 101.5px,#437dff 102.5px,#a0cdfe 104.5px,#c7e6f0 106.5px,#ceebe6 107.5px,#b4ebc5 109.5px,#35d13c 112.5px,#15c819 113.5px,#0bc30b 117.5px,#1cc90a 118.5px,#bbf600 122.5px,#f4fd00 124.5px,#ffd100 127.5px,#ff7300 130.5px,#fd0d05 133.5px,#ef1e1e 138.5px,#bb6e6e 144.5px,#bd6b6b 158.5px,#f51313 165.5px,#ff0100 173.5px,#ff1500 176.5px,#ff9a00 180.5px,#ffec00 184.5px,#fbfd00 186.5px,#d9fa00 188.5px,#b7f401 189.5px,#24cc0a 192.5px,#0dc40b 193.5px,#0bc30a 247.5px,#5cdd08 250.5px,#c1f700 253.5px,#fafe00 256.5px,#ffde00 274.5px,#ffd500 282.5px,#fff300 315.5px,#fbfd00 323.5px,#acf301 327.5px,#29cd0a 331.5px,#0bc40c 333.5px,#0ac30b 395.5px,#4ed909 397.5px,#adf301 399.5px,#fffc00 402.5px,#ffa600 408.5px,#ff7200 412.5px,#ff7e00 413.5px,#ff1800 422.5px,#ff0300 438.5px,#ff2600 451.5px,#ff5b00)"></i><i style="left:375px;width:3px;background:linear-gradient(#05052e 0,#040437 58.5px,#02025c 71.5px,#0004eb 89.5px,#0116ff 97.5px,#295eff 102.5px,#3b75ff 103.5px,#97c6ff 105.5px,#c4e4f2 107.5px,#ceeae9 108.5px,#baebcc 110.5px,#42d54a 113.5px,#1ac91f 114.5px,#0cc40c 118.5px,#14c60a 119.5px,#86e904 122.5px,#ebfc00 125.5px,#fef900 126.5px,#ffc200 129.5px,#fe1502 134.5px,#fb0808 135.5px,#eb2525 140.5px,#b87373 146.5px,#b97171 159.5px,#f61111 167.5px,#ff0200 175.5px,#ff0d00 177.5px,#ff1f00 178.5px,#ffa500 182.5px,#ffe400 185.5px,#f6fe00 188.5px,#cef800 190.5px,#3cd40a 193.5px,#17c70a 194.5px,#0dc40e 196.5px,#0bc30b 247.5px,#2fcf0a 249.5px,#b7f500 253.5px,#fffd00 257.5px,#ffde00 273.5px,#ffc700 280.5px,#ffdc00 297.5px,#fff200 311.5px,#fffa00 324.5px,#d5f900 327.5px,#7ee605 330.5px,#20ca0a 333.5px,#0cc40c 335.5px,#0ac30b 395.5px,#4ed909 397.5px,#adf301 399.5px,#fffc00 402.5px,#ffa600 408.5px,#ff7200 412.5px,#ff7c00 413.5px,#ff1900 422.5px,#ff0300 438.5px,#ff2400 451.5px,#ff5c00)"></i><i style="left:378px;width:3px;background:linear-gradient(#05052e 0,#040437 59.5px,#02025d 72.5px,#0002e8 89.5px,#0115fe 98.5px,#275aff 103.5px,#356fff 104.5px,#b0dafc 107.5px,#cee9eb 109.5px,#bdebd0 111.5px,#a3e9b1 112.5px,#21cb26 115.5px,#10c613 117.5px,#0ec50b 120.5px,#4dd909 122.5px,#c6f700 125.5px,#fbfc00 127.5px,#ffca00 130.5px,#ff4100 134.5px,#fe1c02 135.5px,#fb0707 136.5px,#ed2222 141.5px,#b87272 147.5px,#bb6f6f 161.5px,#f51414 168.5px,#f00 176.5px,#ff1200 179.5px,#ff9800 183.5px,#ffea00 187.5px,#fcfd00 189.5px,#dcfa00 191.5px,#bcf500 192.5px,#28cd0a 195.5px,#0ec40b 196.5px,#0cc40a 248.5px,#5fde08 251.5px,#c4f700 254.5px,#fdff00 257.5px,#fff000 265.5px,#ffd400 274.5px,#ffbc00 280.5px,#ffcb00 295.5px,#fff000 307.5px,#fff600 325.5px,#f3fd00 327.5px,#b4f400 330.5px,#2dcf0a 334.5px,#0bc30b 336.5px,#0ac30b 395.5px,#4ed909 397.5px,#adf301 399.5px,#fffc00 402.5px,#ffa600 408.5px,#ff7200 412.5px,#ff7b00 413.5px,#ff1900 422.5px,#ff0400 439.5px,#ff2300 451.5px,#ff5c00)"></i><i style="left:381px;width:3px;background:linear-gradient(#05052e 0,#040437 60.5px,#02025d 73.5px,#0002e9 90.5px,#0013fe 99.5px,#2556ff 104.5px,#3069ff 105.5px,#aad6fd 108.5px,#cce8ed 110.5px,#c0ebd4 112.5px,#aceabb 113.5px,#29ce2f 116.5px,#13c717 117.5px,#0cc40b 121.5px,#42d50a 123.5px,#bdf600 126.5px,#f5fd00 128.5px,#ffd100 131.5px,#ff7200 134.5px,#fd0c05 137.5px,#ef1e1e 142.5px,#b57676 149.5px,#b77474 162.5px,#f61111 170.5px,#ff0200 178.5px,#ff1e00 181.5px,#ffa400 185.5px,#ffe400 188.5px,#f7fe00 191.5px,#cff900 193.5px,#18c80a 197.5px,#0cc40e 199.5px,#0bc30b 248.5px,#31d00a 250.5px,#b9f600 254.5px,#f7fe00 257.5px,#ffdb00 272.5px,#ffb200 279.5px,#ffbc00 289.5px,#ffca00 296.5px,#ffef00 307.5px,#fff900 327.5px,#e9fc00 329.5px,#a1f002 332.5px,#37d20a 335.5px,#0cc40b 337.5px,#0ac30b 395.5px,#4ed909 397.5px,#adf301 399.5px,#fffc00 402.5px,#ffa600 408.5px,#ff7200 412.5px,#ff7b00 413.5px,#ff1900 422.5px,#ff0400 439.5px,#ff2300 451.5px,#ff5c00)"></i><i style="left:384px;width:3px;background:linear-gradient(#05052e 0,#040437 61.5px,#02025e 74.5px,#0002e9 91.5px,#0319ff 101.5px,#2c63ff 106.5px,#457fff 107.5px,#a1cffe 109.5px,#c8e6f0 111.5px,#c3ebd8 113.5px,#b4ebc5 114.5px,#16c91b 118.5px,#0bc40c 122.5px,#17c70a 123.5px,#d0f900 128.5px,#fef900 130.5px,#ffc100 133.5px,#fe1502 138.5px,#f90b0b 140.5px,#ea2626 144.5px,#b57777 150.5px,#b97171 164.5px,#f41515 171.5px,#f00 178.5px,#f10 182.5px,#ff5100 184.5px,#ffae00 187.5px,#ffe900 190.5px,#f0fd00 193.5px,#c0f600 195.5px,#2cce0a 198.5px,#10c50b 199.5px,#0dc40a 249.5px,#62df07 252.5px,#c6f700 255.5px,#fffe00 258.5px,#fe0 265.5px,#ffd100 273.5px,#ffa900 279.5px,#ffbc00 289.5px,#ffc900 296.5px,#fe0 307.5px,#fff800 328.5px,#edfd00 330.5px,#a7f101 333.5px,#22cb0a 337.5px,#0dc40a 338.5px,#0ac30b 395.5px,#4ed909 397.5px,#adf301 399.5px,#fffc00 402.5px,#ffa600 408.5px,#ff7200 412.5px,#ff7e00 413.5px,#ff1800 422.5px,#ff0300 438.5px,#ff2600 451.5px,#ff5b00)"></i><i style="left:387px;width:3px;background:linear-gradient(#05052e 0,#040437 62.5px,#02025e 75.5px,#0003e9 92.5px,#0116fe 102.5px,#285dff 107.5px,#3973ff 108.5px,#94c4ff 110.5px,#c3e3f3 112.5px,#ceeaea 113.5px,#bbebce 115.5px,#74e17e 117.5px,#1fcb24 119.5px,#0ec510 122.5px,#0fc50b 124.5px,#4dd909 126.5px,#c5f700 129.5px,#f9fc00 131.5px,#ffcb00 134.5px,#ff6900 137.5px,#fe1e02 139.5px,#fb0707 140.5px,#ed2222 145.5px,#b67575 151.5px,#b47878 165.5px,#f61313 173.5px,#ff0100 181.5px,#ff1800 184.5px,#ff9e00 188.5px,#fe0 192.5px,#f9fd00 194.5px,#d5f900 196.5px,#7ce605 198.5px,#1eca0a 200.5px,#0bc40b 201.5px,#0bc30b 249.5px,#33d10a 251.5px,#bcf600 255.5px,#fafe00 258.5px,#fe0 265.5px,#ffd600 272.5px,#ffa300 278.5px,#ffc200 289.5px,#ffd400 298.5px,#ffef00 311.5px,#fff800 329.5px,#ecfc00 331.5px,#a4f101 334.5px,#39d30a 337.5px,#0bc30a 339.5px,#0ac30b 395.5px,#4ed909 397.5px,#adf301 399.5px,#fffc00 402.5px,#ffa600 408.5px,#ff7200 412.5px,#ff8100 413.5px,#ff1700 422.5px,#ff0300 438.5px,#ff2800 451.5px,#ff5b00)"></i><i style="left:390px;width:3px;background:linear-gradient(#05052e 0,#040437 63.5px,#030358 75.5px,#0000d5 90.5px,#0006ed 95.5px,#0013fd 103.5px,#2556ff 108.5px,#3069ff 109.5px,#a9d5fd 112.5px,#cbe8ee 114.5px,#c1ebd5 116.5px,#adeabd 117.5px,#2dcf34 120.5px,#13c818 121.5px,#0bc40b 125.5px,#1bc90a 126.5px,#d4f900 131.5px,#fff700 133.5px,#ffbd00 136.5px,#fd0f04 141.5px,#f51313 145.5px,#b37a7a 153.5px,#b57777 167.5px,#f31818 174.5px,#f00 182.5px,#ff0d00 185.5px,#ff2100 186.5px,#ffa600 190.5px,#ffe500 193.5px,#f5fe00 196.5px,#cbf800 198.5px,#3ad30a 201.5px,#16c70a 202.5px,#0dc40e 204.5px,#0dc40a 250.5px,#64df07 253.5px,#c8f800 256.5px,#fffd00 259.5px,#ffd400 272.5px,#ff9e00 278.5px,#ffb200 283.5px,#ffcd00 290.5px,#ffef00 314.5px,#fff300 329.5px,#fafe00 331.5px,#bcf600 334.5px,#32d00a 338.5px,#0bc30b 340.5px,#0ac30b 395.5px,#4ed909 397.5px,#adf301 399.5px,#fffc00 402.5px,#ffa600 408.5px,#ff7200 412.5px,#ff8300 413.5px,#ff1600 422.5px,#ff0300 438.5px,#ff2b00 451.5px,#ff5b00)"></i><i style="left:393px;width:3px;background:linear-gradient(#05052e 0,#040437 64.5px,#030359 76.5px,#0000d6 91.5px,#0006ed 96.5px,#0218ff 105.5px,#2a60ff 110.5px,#417aff 111.5px,#9ccafe 113.5px,#c6e5f1 115.5px,#c5ebda 117.5px,#b8ebca 118.5px,#1aca20 122.5px,#12c60a 127.5px,#7de605 130.5px,#e3fb00 133.5px,#fafc00 134.5px,#ffc900 137.5px,#ff4000 141.5px,#fb0707 143.5px,#ec2323 148.5px,#b57878 154.5px,#b77474 169.5px,#f41515 176.5px,#f00 183.5px,#f10 187.5px,#ff5100 189.5px,#ffae00 192.5px,#ffe900 195.5px,#f0fd00 198.5px,#c0f600 200.5px,#2cce0a 203.5px,#10c50b 204.5px,#0bc30b 250.5px,#31d00a 252.5px,#baf600 256.5px,#f9fe00 259.5px,#ffd200 272.5px,#ff9b00 278.5px,#ffb300 283.5px,#ffd600 289.5px,#ffe000 302.5px,#fe0 320.5px,#fff400 330.5px,#f6fe00 332.5px,#b5f500 335.5px,#2cce0a 339.5px,#12c60a 340.5px,#0ac30b 395.5px,#4ed909 397.5px,#adf301 399.5px,#fffc00 402.5px,#ffa600 408.5px,#ff7200 412.5px,#ff8500 413.5px,#ff1500 422.5px,#ff0300 438.5px,#ff2e00 451.5px,#ff5b00)"></i><i style="left:396px;width:3px;background:linear-gradient(#05052e 0,#050536 64.5px,#03035a 77.5px,#0000d7 92.5px,#0006ed 97.5px,#0114fe 106.5px,#2659ff 111.5px,#346dff 112.5px,#aed8fc 115.5px,#cde9ec 117.5px,#bfebd2 119.5px,#a8e9b7 120.5px,#28cd2e 123.5px,#13c717 124.5px,#0cc40b 128.5px,#40d50a 130.5px,#baf500 133.5px,#f2fd00 135.5px,#ffe500 137.5px,#ff9c00 140.5px,#fd0e04 144.5px,#f51414 148.5px,#b27d7d 156.5px,#b37c7c 170.5px,#f51313 178.5px,#ff0100 186.5px,#ff1700 189.5px,#ff9d00 193.5px,#ffed00 197.5px,#fafd00 199.5px,#d7fa00 201.5px,#7fe705 203.5px,#20ca0a 205.5px,#0cc40b 206.5px,#0bc30a 251.5px,#5adc08 254.5px,#c2f700 257.5px,#fdfe00 260.5px,#ffd100 272.5px,#ff9a00 278.5px,#ffac00 282.5px,#ffda00 288.5px,#ffde00 302.5px,#fe0 317.5px,#fff600 331.5px,#f1fd00 333.5px,#adf301 336.5px,#25cc0a 340.5px,#0dc40a 341.5px,#0ac30b 395.5px,#4ed909 397.5px,#adf301 399.5px,#fffc00 402.5px,#ffa600 408.5px,#ff7200 412.5px,#ff8700 413.5px,#ff1400 422.5px,#ff0300 438.5px,#ff3100 451.5px,#ff5700 457.5px,#ff5b00)"></i><i style="left:399px;width:3px;background:linear-gradient(#05052e 0,#040437 65.5px,#02025a 78.5px,#0004eb 96.5px,#0012fd 107.5px,#2252ff 112.5px,#2c64ff 113.5px,#4780ff 114.5px,#a2d0fe 116.5px,#c9e6f0 118.5px,#c3ebd8 120.5px,#b4ebc5 121.5px,#18c91d 125.5px,#0cc40c 129.5px,#14c60a 130.5px,#82e705 133.5px,#e6fc00 136.5px,#fbfb00 137.5px,#ffc700 140.5px,#fe1a02 145.5px,#fb0707 146.5px,#eb2525 151.5px,#b37b7b 157.5px,#b47a7a 172.5px,#f21919 179.5px,#f00 187.5px,#ff0d00 190.5px,#ff2000 191.5px,#ffa500 195.5px,#ffe400 198.5px,#f6fe00 201.5px,#ccf800 203.5px,#3bd30a 206.5px,#17c70a 207.5px,#0dc40e 209.5px,#0ec40a 252.5px,#64df07 255.5px,#c8f800 258.5px,#fffd00 261.5px,#ffd200 272.5px,#ff9b00 278.5px,#ffae00 282.5px,#ffde00 288.5px,#ffd800 301.5px,#fe0 313.5px,#fff200 331.5px,#fdfe00 333.5px,#a2f002 337.5px,#37d20a 340.5px,#0ac30a 342.5px,#0ac30b 395.5px,#4ed909 397.5px,#adf301 399.5px,#fffc00 402.5px,#ffa600 408.5px,#ff7200 412.5px,#ff8900 413.5px,#ff1400 422.5px,#ff0100 437.5px,#ff1b00 445.5px,#ff2a00 449.5px,#ff5b00)"></i><i style="left:402px;width:3px;background:linear-gradient(#05052e 0,#040437 66.5px,#02025c 79.5px,#0004eb 97.5px,#0116fe 109.5px,#295dff 114.5px,#3a73ff 115.5px,#94c4ff 117.5px,#c3e3f3 119.5px,#ceeaea 120.5px,#bcebce 122.5px,#76e280 124.5px,#21cc27 126.5px,#10c614 128.5px,#0ec40b 131.5px,#46d709 133.5px,#bff600 136.5px,#f5fd00 138.5px,#ffd100 141.5px,#ff7300 144.5px,#fd0d05 147.5px,#f41515 151.5px,#b18181 159.5px,#b18181 173.5px,#f41515 181.5px,#f00 188.5px,#ff1200 192.5px,#ff9600 196.5px,#ffea00 200.5px,#effd00 203.5px,#bef600 205.5px,#2ace0a 208.5px,#0fc50b 209.5px,#12c60a 253.5px,#6ce107 256.5px,#cdf800 259.5px,#fffb00 262.5px,#ffd300 272.5px,#ff9e00 278.5px,#ffb100 282.5px,#fd0 287.5px,#ffda00 294.5px,#ffd000 300.5px,#fe0 311.5px,#fff300 332.5px,#f8fe00 334.5px,#b9f600 337.5px,#2fcf0a 341.5px,#0bc30b 343.5px,#0ac30b 395.5px,#4ed909 397.5px,#adf301 399.5px,#fffc00 402.5px,#ffa600 408.5px,#ff7200 412.5px,#ff8b00 413.5px,#ff1300 422.5px,#ff0100 437.5px,#ff1d00 445.5px,#ff2d00 449.5px,#ff5b00)"></i><i style="left:405px;width:3px;background:linear-gradient(#05052e 0,#040437 67.5px,#02025d 80.5px,#0002e8 97.5px,#0014fe 110.5px,#2557ff 115.5px,#316aff 116.5px,#abd6fd 119.5px,#cce8ed 121.5px,#c0ebd4 123.5px,#adeabc 124.5px,#2dcf34 127.5px,#13c818 128.5px,#0bc40c 132.5px,#19c80a 133.5px,#d1f900 138.5px,#fef900 140.5px,#ffc100 143.5px,#fe1502 148.5px,#f90b0b 150.5px,#e82929 154.5px,#b18181 160.5px,#b18080 175.5px,#f61313 183.5px,#ff0200 191.5px,#ff1c00 194.5px,#ffa200 198.5px,#ffe300 201.5px,#f8fe00 204.5px,#d1f900 206.5px,#19c80a 210.5px,#0cc40e 212.5px,#0bc30b 253.5px,#30d00a 255.5px,#baf600 259.5px,#f9fe00 262.5px,#ffcb00 273.5px,#ffa300 278.5px,#ffb500 282.5px,#ffe200 288.5px,#ffd300 295.5px,#ffc900 300.5px,#ffed00 310.5px,#fff500 333.5px,#f3fd00 335.5px,#aff400 338.5px,#27cd0a 342.5px,#0ec40a 343.5px,#0ac30b 395.5px,#4ed909 397.5px,#adf301 399.5px,#fffc00 402.5px,#ffa600 408.5px,#ff7200 412.5px,#ff8d00 413.5px,#ff3900 419.5px,#ff1300 422.5px,#f00 437.5px,#ff1600 444.5px,#ff3000 448.5px,#ff3900 451.5px,#f50 456.5px,#ff5b00)"></i><i style="left:408px;width:3px;background:linear-gradient(#05052e 0,#040437 68.5px,#02025e 81.5px,#0002e9 98.5px,#0319ff 112.5px,#2c64ff 117.5px,#4781ff 118.5px,#a3d1fe 120.5px,#c9e7ef 122.5px,#c3ebd8 124.5px,#b4ebc5 125.5px,#17c91c 129.5px,#0cc40c 133.5px,#13c60a 134.5px,#81e705 137.5px,#c9f800 139.5px,#fcfc00 141.5px,#ffc900 144.5px,#fe1a02 149.5px,#fb0707 150.5px,#f11a1a 154.5px,#ae8888 162.5px,#af8686 176.5px,#f41616 184.5px,#f00 191.5px,#ff1200 195.5px,#ff9800 199.5px,#ffea00 203.5px,#fcfd00 205.5px,#dcfa00 207.5px,#bcf600 208.5px,#28cd0a 211.5px,#0dc40b 212.5px,#0bc30b 254.5px,#34d10a 256.5px,#bdf600 260.5px,#fbfe00 263.5px,#ffc400 274.5px,#ffa900 279.5px,#ffe300 288.5px,#ffd500 294.5px,#ffbe00 299.5px,#ffec00 309.5px,#fff700 334.5px,#ecfc00 336.5px,#a3f002 339.5px,#38d20a 342.5px,#0ac30a 344.5px,#0ac30b 395.5px,#4ed909 397.5px,#adf301 399.5px,#fffc00 402.5px,#ffa600 408.5px,#ff7200 412.5px,#ff8f00 413.5px,#ff4a00 418.5px,#ff1300 422.5px,#ff0101 436.5px,#ff1800 444.5px,#f30 448.5px,#ff3c00 451.5px,#ff5600 456.5px,#ff5a00)"></i><i style="left:411px;width:3px;background:linear-gradient(#05052e 0,#050536 68.5px,#030359 81.5px,#0000d6 96.5px,#0006ed 101.5px,#0217ff 113.5px,#2a60ff 118.5px,#4079ff 119.5px,#9ccbff 121.5px,#c6e5f1 123.5px,#ceebe7 124.5px,#b9ebcb 126.5px,#1aca1f 130.5px,#0fc50a 135.5px,#79e505 138.5px,#c5f700 140.5px,#f9fd00 142.5px,#ffcd00 145.5px,#ff6a00 148.5px,#fc0707 151.5px,#eb2525 156.5px,#ad8a8a 163.5px,#ad8a8a 177.5px,#f61212 186.5px,#f00 193.5px,#ff0e00 196.5px,#f20 197.5px,#ff9000 200.5px,#ffe700 204.5px,#f4fd00 207.5px,#c9f800 209.5px,#35d10a 212.5px,#12c60a 213.5px,#0bc30b 255.5px,#57dc08 258.5px,#c0f700 261.5px,#fdfe00 264.5px,#ffc100 275.5px,#ffb100 279.5px,#ffe500 289.5px,#ffca00 295.5px,#ffb700 299.5px,#ffea00 308.5px,#fff300 334.5px,#f8fe00 336.5px,#b8f500 339.5px,#2ecf0a 343.5px,#0bc30b 345.5px,#0ac30b 395.5px,#4ed909 397.5px,#adf301 399.5px,#fffc00 402.5px,#ffa600 408.5px,#ff7200 412.5px,#ff9100 413.5px,#ff4b00 418.5px,#ff1300 422.5px,#fe0202 434.5px,#ff1300 443.5px,#ff3600 448.5px,#ff3f00 451.5px,#ff5700 456.5px,#ff5a00)"></i><i style="left:414px;width:3px;background:linear-gradient(#05052e 0,#040437 69.5px,#02025a 82.5px,#0004eb 100.5px,#0116ff 114.5px,#295fff 119.5px,#3b76ff 120.5px,#99c8ff 122.5px,#c4e4f2 124.5px,#cfeae9 125.5px,#bbebcd 127.5px,#71e17b 129.5px,#1cca21 131.5px,#0dc40a 136.5px,#4bd809 138.5px,#c3f700 141.5px,#f9fd00 143.5px,#ffce00 146.5px,#ff6d00 149.5px,#fc0707 152.5px,#ea2626 157.5px,#ac8d8d 164.5px,#af8686 179.5px,#f01c1c 186.5px,#f00 193.5px,#ff0c00 197.5px,#ff1d00 198.5px,#ff8b00 201.5px,#ffe400 205.5px,#f7fe00 208.5px,#cff900 210.5px,#15c70a 214.5px,#0ec510 217.5px,#0cc40a 256.5px,#5adc08 259.5px,#c2f700 262.5px,#fefd00 265.5px,#ffb900 279.5px,#ffe500 289.5px,#ffc600 295.5px,#ffb100 299.5px,#ffea00 308.5px,#fff600 335.5px,#f1fd00 337.5px,#acf301 340.5px,#24cc0a 344.5px,#0cc40a 345.5px,#0ac30b 395.5px,#4ed909 397.5px,#adf301 399.5px,#fffc00 402.5px,#ffa600 408.5px,#ff7200 412.5px,#ff9000 413.5px,#ff4b00 418.5px,#ff1300 422.5px,#fe0202 435.5px,#ff1200 443.5px,#ff3400 448.5px,#ff3d00 451.5px,#ff5600 456.5px,#ff5a00)"></i><i style="left:417px;width:3px;background:linear-gradient(#05052e 0,#040437 70.5px,#02025d 83.5px,#0002e8 100.5px,#0116ff 115.5px,#295eff 120.5px,#3b75ff 121.5px,#99c8ff 123.5px,#c4e4f2 125.5px,#cfebe9 126.5px,#bbebcd 128.5px,#47d64f 131.5px,#1bca20 132.5px,#0dc40a 137.5px,#4cd909 139.5px,#c5f700 142.5px,#fafd00 144.5px,#ffcd00 147.5px,#ff6a00 150.5px,#fb0707 153.5px,#f11b1b 157.5px,#ab9090 165.5px,#ae8888 180.5px,#f51313 188.5px,#f00 195.5px,#ff0c00 198.5px,#ff1c00 199.5px,#ff8b00 202.5px,#ffe400 206.5px,#f7fe00 209.5px,#d0f900 211.5px,#15c70a 215.5px,#0ec510 218.5px,#0cc40a 257.5px,#5ddd08 260.5px,#c4f700 263.5px,#fefd00 266.5px,#ffc200 279.5px,#ffe600 289.5px,#ffcd00 294.5px,#ffad00 298.5px,#ffc300 302.5px,#ffea00 308.5px,#fff200 335.5px,#fbfe00 337.5px,#bdf600 340.5px,#33d10a 344.5px,#0bc30b 346.5px,#0ac30b 395.5px,#4ed909 397.5px,#adf301 399.5px,#fffc00 402.5px,#ffa600 408.5px,#ff7200 412.5px,#ff8e00 413.5px,#ff3900 419.5px,#ff1300 422.5px,#f00 437.5px,#ff1700 444.5px,#ff3100 448.5px,#ff3a00 451.5px,#f50 456.5px,#ff5b00)"></i><i style="left:420px;width:3px;background:linear-gradient(#05052e 0,#040437 71.5px,#030358 83.5px,#0000d5 98.5px,#0006ed 103.5px,#0116ff 116.5px,#2a5fff 121.5px,#3c76ff 122.5px,#99c8ff 124.5px,#c4e4f2 126.5px,#cfebe9 127.5px,#baebcc 129.5px,#45d64d 132.5px,#19c91f 133.5px,#0fc50a 138.5px,#7ce605 141.5px,#c7f800 143.5px,#fcfd00 145.5px,#ffca00 148.5px,#ff1f00 153.5px,#fb0707 154.5px,#f01d1d 158.5px,#ae8989 165.5px,#aa9393 171.5px,#aa9393 180.5px,#cb5858 184.5px,#f61313 189.5px,#f00 195.5px,#ff0d00 199.5px,#ff1e00 200.5px,#ff8d00 203.5px,#ffe500 207.5px,#f6fe00 210.5px,#cef800 212.5px,#3ad30a 215.5px,#13c60a 216.5px,#0dc40a 258.5px,#60de08 261.5px,#c6f700 264.5px,#fffc00 267.5px,#ffcb00 278.5px,#ffe400 290.5px,#ffab00 298.5px,#ffc100 302.5px,#ffea00 308.5px,#fff500 336.5px,#f3fd00 338.5px,#b0f400 341.5px,#27cd0a 345.5px,#0ec40a 346.5px,#0ac30b 395.5px,#4ed909 397.5px,#adf301 399.5px,#fffc00 402.5px,#ffa600 408.5px,#ff7200 412.5px,#ff8c00 413.5px,#ff1300 422.5px,#f00 437.5px,#ff1e00 445.5px,#ff2e00 449.5px,#ff5700 457.5px,#ff5b00)"></i><i style="left:423px;width:3px;background:linear-gradient(#05052e 0,#040437 71.5px,#02025a 84.5px,#0004eb 102.5px,#0116ff 117.5px,#295eff 122.5px,#3b75ff 123.5px,#98c7ff 125.5px,#c4e4f2 127.5px,#cfeae9 128.5px,#baebcc 130.5px,#45d64c 133.5px,#19c91e 134.5px,#10c50a 139.5px,#7fe705 142.5px,#caf800 144.5px,#fdfc00 146.5px,#ffc700 149.5px,#ff3d00 153.5px,#fe1802 154.5px,#fb0808 155.5px,#ee1f1f 159.5px,#ac8d8d 166.5px,#a99595 181.5px,#cb5858 185.5px,#f61313 190.5px,#f00 197.5px,#ff0d00 200.5px,#ff2100 201.5px,#ff8f00 204.5px,#ffe700 208.5px,#f4fe00 211.5px,#caf800 213.5px,#36d20a 216.5px,#10c50a 217.5px,#0ec40a 259.5px,#63df07 262.5px,#c8f800 265.5px,#fffa00 268.5px,#ffd600 276.5px,#ffe500 286.5px,#ffdc00 292.5px,#ffab00 298.5px,#ffc100 302.5px,#ffea00 308.5px,#fff200 336.5px,#fcff00 338.5px,#bef600 341.5px,#35d10a 345.5px,#0ac30b 347.5px,#0ac30b 395.5px,#4ed909 397.5px,#adf301 399.5px,#fffc00 402.5px,#ffa600 408.5px,#ff7200 412.5px,#ff8a00 413.5px,#ff1400 422.5px,#ff0100 437.5px,#ff1b00 445.5px,#ff2b00 449.5px,#ff5b00)"></i><i style="left:426px;width:3px;background:linear-gradient(#05052e 0,#040437 72.5px,#02025d 85.5px,#0002e9 102.5px,#0116ff 118.5px,#295eff 123.5px,#3a74ff 124.5px,#97c6ff 126.5px,#c4e4f2 128.5px,#cfeae9 129.5px,#baebcd 131.5px,#44d54c 134.5px,#19c91e 135.5px,#11c50a 140.5px,#83e804 143.5px,#ccf800 145.5px,#fefb00 147.5px,#ffc500 150.5px,#fe1502 155.5px,#fb0808 156.5px,#ed2121 160.5px,#ab9191 167.5px,#a89797 182.5px,#cb5757 186.5px,#f61212 191.5px,#f00 198.5px,#ff0e00 201.5px,#ff4d00 203.5px,#ffab00 206.5px,#ffe800 209.5px,#fffd00 211.5px,#e1fb00 213.5px,#c5f700 214.5px,#30d00a 217.5px,#0dc40a 218.5px,#10c50a 260.5px,#67e007 263.5px,#cbf800 266.5px,#f7fe00 268.5px,#ffdb00 276.5px,#ffe200 291.5px,#ffad00 298.5px,#ffc300 302.5px,#ffea00 308.5px,#fff500 337.5px,#f3fd00 339.5px,#b0f400 342.5px,#27cd0a 346.5px,#0ec40a 347.5px,#0ac30b 395.5px,#4ed909 397.5px,#adf301 399.5px,#fffc00 402.5px,#ffa600 408.5px,#ff7200 412.5px,#ff8700 413.5px,#ff1400 422.5px,#ff0300 438.5px,#f20 446.5px,#ff3100 451.5px,#ff5700 457.5px,#ff5b00)"></i><i style="left:429px;width:3px;background:linear-gradient(#05052e 0,#050536 72.5px,#03035a 85.5px,#0000d7 100.5px,#0006ed 105.5px,#0116ff 119.5px,#295dff 124.5px,#3973ff 125.5px,#96c5ff 127.5px,#c3e4f2 129.5px,#cfeae9 130.5px,#bbebcd 132.5px,#6fe179 134.5px,#18c91d 136.5px,#12c60a 141.5px,#87e904 144.5px,#cff900 146.5px,#fffa00 148.5px,#ffc100 151.5px,#fe1302 156.5px,#f90c0c 158.5px,#ec2323 161.5px,#a99595 168.5px,#a89898 183.5px,#f11a1a 191.5px,#f00 198.5px,#ff1000 202.5px,#ff9700 206.5px,#ffeb00 210.5px,#fefe00 212.5px,#defb00 214.5px,#bff600 215.5px,#29cd0a 218.5px,#0bc30a 219.5px,#12c60a 261.5px,#6ce107 264.5px,#cef800 267.5px,#f9fe00 269.5px,#ffe000 275.5px,#ffe300 291.5px,#ffb100 298.5px,#ffc600 302.5px,#ffea00 308.5px,#fff200 337.5px,#fbfe00 339.5px,#bdf600 342.5px,#33d10a 346.5px,#0bc30b 348.5px,#0ac30b 395.5px,#4ed909 397.5px,#adf301 399.5px,#fffc00 402.5px,#ffa600 408.5px,#ff7200 412.5px,#ff8500 413.5px,#ff1500 422.5px,#ff0300 438.5px,#ff2e00 451.5px,#ff5b00)"></i><i style="left:432px;width:3px;background:linear-gradient(#05052e 0,#040437 73.5px,#02025d 86.5px,#0002e9 103.5px,#0116ff 120.5px,#295dff 125.5px,#3973ff 126.5px,#96c5ff 128.5px,#c3e4f2 130.5px,#cfeae9 131.5px,#baebcc 133.5px,#41d549 136.5px,#17c91c 137.5px,#0bc40c 141.5px,#15c70a 142.5px,#b5f500 146.5px,#f0fd00 148.5px,#ffe600 150.5px,#ff9d00 153.5px,#fd0c04 157.5px,#f21818 161.5px,#a89898 169.5px,#a89797 184.5px,#f31717 192.5px,#f00 199.5px,#ff1300 203.5px,#ff9c00 207.5px,#ffed00 211.5px,#fcfe00 213.5px,#d9fa00 215.5px,#b6f500 216.5px,#21cb0a 219.5px,#0bc30b 220.5px,#0bc30b 261.5px,#2fcf0a 263.5px,#baf600 267.5px,#fcfe00 270.5px,#ffe400 275.5px,#ffe400 291.5px,#ffb700 299.5px,#ffea00 308.5px,#fff000 337.5px,#fffe00 339.5px,#acf301 343.5px,#24cc0a 347.5px,#0cc40a 348.5px,#0ac30b 395.5px,#4ed909 397.5px,#adf301 399.5px,#fffc00 402.5px,#ffa600 408.5px,#ff7200 412.5px,#ff8300 413.5px,#ff1600 422.5px,#ff0300 438.5px,#ff2b00 451.5px,#ff5b00)"></i><i style="left:435px;width:3px;background:linear-gradient(#05052e 0,#040437 73.5px,#02025a 86.5px,#0000d8 101.5px,#0006ee 106.5px,#0116ff 121.5px,#295fff 126.5px,#3b75ff 127.5px,#99c8ff 129.5px,#c4e4f2 131.5px,#cfebe9 132.5px,#b9ebcb 134.5px,#15c81a 138.5px,#0bc40c 142.5px,#1ac80a 143.5px,#bcf600 147.5px,#f6fe00 149.5px,#ffd100 152.5px,#ff7300 155.5px,#fc0707 158.5px,#f11b1b 162.5px,#a79a9a 170.5px,#a99494 185.5px,#f41515 193.5px,#f00 200.5px,#ff1900 204.5px,#ff8900 207.5px,#ffe300 211.5px,#f8fe00 214.5px,#d2f900 216.5px,#73e306 218.5px,#17c70a 220.5px,#0cc40e 222.5px,#0bc30b 262.5px,#34d10a 264.5px,#bff600 268.5px,#fefd00 271.5px,#ffe500 276.5px,#ffe500 291.5px,#ffbf00 299.5px,#ffec00 309.5px,#ffe700 327.5px,#fffa00 339.5px,#e4fb00 341.5px,#b7f500 343.5px,#2dcf0a 347.5px,#14c60a 348.5px,#0fc511 353.5px,#0ac30b 395.5px,#4ed909 397.5px,#adf301 399.5px,#fffc00 402.5px,#ffa600 408.5px,#ff7200 412.5px,#ff8000 413.5px,#ff1700 422.5px,#ff0300 438.5px,#ff2800 451.5px,#ff5b00)"></i><i style="left:438px;width:3px;background:linear-gradient(#05052e 0,#050536 73.5px,#030357 86.5px,#0000d4 101.5px,#0006ed 106.5px,#0217ff 122.5px,#2b61ff 127.5px,#3f79ff 128.5px,#9ecdff 130.5px,#cfebe7 133.5px,#b6ebc7 135.5px,#33d13a 138.5px,#13c818 139.5px,#0bc30b 143.5px,#44d60a 145.5px,#c3f700 148.5px,#fcfe00 150.5px,#ffcb00 153.5px,#fb0707 159.5px,#ee1f1f 163.5px,#aa9191 170.5px,#a79b9b 175.5px,#a79b9b 185.5px,#c75c5c 189.5px,#f61313 194.5px,#f00 200.5px,#ff0e00 204.5px,#ff2400 205.5px,#ff9100 208.5px,#ffe800 212.5px,#fffc00 214.5px,#e2fb00 216.5px,#c8f800 217.5px,#33d10a 220.5px,#0ec40a 221.5px,#0bc30a 263.5px,#5cdd08 266.5px,#c4f700 269.5px,#fffc00 272.5px,#ffe700 277.5px,#ffe300 292.5px,#ffc700 299.5px,#ffed00 310.5px,#ffde00 325.5px,#fff800 339.5px,#ebfc00 341.5px,#a1f002 344.5px,#36d20a 347.5px,#0ac30b 349.5px,#0ac30b 395.5px,#4ed909 397.5px,#adf301 399.5px,#fffc00 402.5px,#ffa600 408.5px,#ff7200 412.5px,#ff7d00 413.5px,#ff1800 422.5px,#ff0300 438.5px,#ff2500 451.5px,#ff5c00)"></i><i style="left:441px;width:3px;background:linear-gradient(#05052e 0,#040437 74.5px,#02025c 87.5px,#0004eb 105.5px,#031aff 123.5px,#2d65ff 128.5px,#4a83ff 129.5px,#a7d4fe 131.5px,#cae7ef 133.5px,#c1ebd6 135.5px,#afebbf 136.5px,#26cd2c 139.5px,#13c717 140.5px,#0cc40a 144.5px,#51da09 146.5px,#adf301 148.5px,#fffa00 151.5px,#ffc200 154.5px,#fe1202 159.5px,#f90c0c 161.5px,#eb2424 164.5px,#a89797 171.5px,#a79999 186.5px,#f21919 194.5px,#f00 201.5px,#f10 205.5px,#ff9a00 209.5px,#ffec00 213.5px,#fdfe00 215.5px,#dcfa00 217.5px,#baf600 218.5px,#25cc0a 221.5px,#0ac30b 222.5px,#0fc50a 264.5px,#67e007 267.5px,#cbf800 270.5px,#f6fe00 272.5px,#ffe900 278.5px,#ffe500 292.5px,#ffd100 300.5px,#ffed00 311.5px,#ffd400 324.5px,#fe0 336.5px,#fffe00 340.5px,#abf301 344.5px,#23cb0a 348.5px,#0bc30a 349.5px,#0ac30b 395.5px,#4ed909 397.5px,#adf301 399.5px,#fffc00 402.5px,#ffa600 408.5px,#ff7200 412.5px,#ff7a00 413.5px,#ff1900 422.5px,#ff0400 439.5px,#f20 451.5px,#ff5c00)"></i><i style="left:444px;width:3px;background:linear-gradient(#05052e 0,#040437 74.5px,#02025a 87.5px,#0000d8 102.5px,#0007ef 108.5px,#0014fe 123.5px,#2659ff 128.5px,#316bff 129.5px,#afdafc 132.5px,#cfeaec 134.5px,#beebd1 136.5px,#a1e9af 137.5px,#17c91c 140.5px,#0bc40c 144.5px,#17c70a 145.5px,#bcf600 149.5px,#f7fe00 151.5px,#ffd000 154.5px,#ff6f00 157.5px,#fc0707 160.5px,#f01c1c 164.5px,#a79b9b 172.5px,#aa9494 187.5px,#f51414 195.5px,#f00 201.5px,#ff0c00 205.5px,#ff1a00 206.5px,#ff8b00 209.5px,#ffe400 213.5px,#f7fe00 216.5px,#d1f900 218.5px,#15c70a 222.5px,#0ec510 225.5px,#0bc30b 264.5px,#31d00a 266.5px,#bcf600 270.5px,#fcfe00 273.5px,#ffea00 278.5px,#ffe300 293.5px,#ffd900 301.5px,#ffec00 312.5px,#ffc600 323.5px,#ffed00 334.5px,#fffc00 340.5px,#ccf800 343.5px,#8feb03 345.5px,#2ace0a 348.5px,#10c50a 349.5px,#0ac30b 395.5px,#4ed909 397.5px,#adf301 399.5px,#fffc00 402.5px,#ffa600 408.5px,#ff7200 412.5px,#ff6f00 414.5px,#ff1a00 422.5px,#ff0400 439.5px,#ff2000 451.5px,#ff5c00)"></i><i style="left:447px;width:3px;background:linear-gradient(#05052e 0,#050536 74.5px,#030359 87.5px,#0000cd 101.5px,#0005ec 106.5px,#0218ff 124.5px,#2b61ff 129.5px,#407bff 130.5px,#a0cfff 132.5px,#cfebe7 135.5px,#b5ebc6 137.5px,#2ccf33 140.5px,#13c717 141.5px,#0bc30a 145.5px,#4fd909 147.5px,#acf301 149.5px,#fffa00 152.5px,#ffc200 155.5px,#fe1102 160.5px,#f90c0c 162.5px,#eb2424 165.5px,#a99797 172.5px,#a79b9b 187.5px,#f11b1b 195.5px,#f00 202.5px,#ff1000 206.5px,#ff9700 210.5px,#ffea00 214.5px,#fefe00 216.5px,#dffb00 218.5px,#c0f700 219.5px,#2ace0a 222.5px,#0ac30a 223.5px,#0bc30a 265.5px,#5fde08 268.5px,#c6f700 271.5px,#fffd00 274.5px,#ffec00 279.5px,#ffe000 295.5px,#ffe300 303.5px,#ffe800 314.5px,#ffba00 323.5px,#ffea00 332.5px,#fffa00 340.5px,#e5fc00 342.5px,#96ed03 345.5px,#2fcf0a 348.5px,#0bc30b 350.5px,#0ac30b 395.5px,#4ed909 397.5px,#adf301 399.5px,#fffc00 402.5px,#ffa600 408.5px,#ff7200 412.5px,#ff7900 413.5px,#ff1a00 422.5px,#ff0400 439.5px,#ff2100 451.5px,#ff5c00)"></i><i style="left:450px;width:3px;background:linear-gradient(#05052e 0,#050536 74.5px,#030357 87.5px,#0000d4 102.5px,#0006ed 107.5px,#0014ff 124.5px,#275bff 129.5px,#326dff 130.5px,#8fbfff 132.5px,#b1dafc 133.5px,#d1eaec 135.5px,#bcebcf 137.5px,#6ce076 139.5px,#14c818 141.5px,#0bc30b 145.5px,#41d50a 147.5px,#c3f700 150.5px,#fefe00 152.5px,#ffca00 155.5px,#ff1e00 160.5px,#fb0808 161.5px,#ee2020 165.5px,#ab9191 172.5px,#a79b9b 176.5px,#aa9393 188.5px,#f51414 196.5px,#f00 202.5px,#ff0c00 206.5px,#ff1900 207.5px,#ff8a00 210.5px,#ffe400 214.5px,#f7fe00 217.5px,#d2f900 219.5px,#71e306 221.5px,#16c70a 223.5px,#0cc40e 225.5px,#0bc30b 265.5px,#30d00a 267.5px,#baf600 271.5px,#fafe00 274.5px,#ffec00 280.5px,#ffe300 302.5px,#ffe700 314.5px,#ffb100 322.5px,#ffc600 326.5px,#ffea00 332.5px,#fff900 340.5px,#e8fc00 342.5px,#9cee02 345.5px,#33d10a 348.5px,#0bc30b 350.5px,#0ac30b 395.5px,#4ed909 397.5px,#adf301 399.5px,#fffc00 402.5px,#ffa600 408.5px,#ff7200 412.5px,#ff7900 413.5px,#ff1a00 422.5px,#ff0400 439.5px,#ff2100 451.5px,#ff5c00)"></i><i style="left:453px;width:3px;background:linear-gradient(#05052e 0,#050536 74.5px,#030357 87.5px,#0000d3 102.5px,#0006ed 107.5px,#0013fe 124.5px,#2557ff 129.5px,#2f69ff 130.5px,#aed9fd 133.5px,#cee9ed 135.5px,#beebd2 137.5px,#a4e9b2 138.5px,#15c81a 141.5px,#0bc40c 145.5px,#18c80a 146.5px,#bef600 150.5px,#fafe00 152.5px,#ffcd00 155.5px,#ff6b00 158.5px,#fb0707 161.5px,#f01d1d 165.5px,#a79b9b 173.5px,#a89898 188.5px,#f21919 196.5px,#f00 203.5px,#f10 207.5px,#f90 211.5px,#ffeb00 215.5px,#feff00 217.5px,#ddfa00 219.5px,#bcf600 220.5px,#26cc0a 223.5px,#0ac30b 224.5px,#0cc40a 266.5px,#63df07 269.5px,#c8f800 272.5px,#fffc00 275.5px,#ffed00 280.5px,#ffe900 304.5px,#ffe200 315.5px,#ffab00 322.5px,#ffc200 326.5px,#ffea00 332.5px,#fff800 340.5px,#eafc00 342.5px,#9fef02 345.5px,#35d10a 348.5px,#0ac30b 350.5px,#0ac30b 395.5px,#4ed909 397.5px,#adf301 399.5px,#fffc00 402.5px,#ffa600 408.5px,#ff7200 412.5px,#ff7a00 413.5px,#ff1a00 422.5px,#ff0400 439.5px,#f20 451.5px,#ff5c00)"></i><i style="left:456px;width:3px;background:linear-gradient(#05052e 0,#040437 75.5px,#030357 87.5px,#0000d3 102.5px,#0006ed 107.5px,#0013fe 124.5px,#2557ff 129.5px,#2f69ff 130.5px,#add9fd 133.5px,#cde9ed 135.5px,#bfebd2 137.5px,#a6eab4 138.5px,#15c81a 141.5px,#0bc40c 145.5px,#18c80a 146.5px,#bef600 150.5px,#fafe00 152.5px,#ffce00 155.5px,#ff6b00 158.5px,#fc0707 161.5px,#f01c1c 165.5px,#a79b9b 173.5px,#a79b9b 188.5px,#f61313 197.5px,#f00 203.5px,#ff0d00 207.5px,#ff2100 208.5px,#ff9000 211.5px,#ffe700 215.5px,#f4fe00 218.5px,#caf800 220.5px,#0ec40a 224.5px,#0ac30b 266.5px,#57dc08 269.5px,#c1f700 272.5px,#feff00 275.5px,#ffed00 280.5px,#ffe700 314.5px,#ffab00 322.5px,#ffc200 326.5px,#ffea00 332.5px,#fff800 340.5px,#ebfc00 342.5px,#a0f002 345.5px,#36d20a 348.5px,#0ac30b 350.5px,#0ac30b 395.5px,#4ed909 397.5px,#adf301 399.5px,#fffc00 402.5px,#ffa600 408.5px,#ff7200 412.5px,#ff7a00 413.5px,#ff1900 422.5px,#ff0400 439.5px,#f20 451.5px,#ff5c00)"></i><i style="left:459px;width:3px;background:linear-gradient(#05052e 0,#050536 74.5px,#030357 87.5px,#0000d3 102.5px,#0006ed 107.5px,#0013fe 124.5px,#2557ff 129.5px,#2f69ff 130.5px,#aed9fd 133.5px,#cee9ed 135.5px,#beebd2 137.5px,#a4e9b2 138.5px,#14c819 141.5px,#0bc40c 145.5px,#1ac80a 146.5px,#c0f700 150.5px,#fcff00 152.5px,#fc0 155.5px,#fb0707 161.5px,#f01d1d 165.5px,#a79a9a 173.5px,#a79b9b 188.5px,#d34c4c 193.5px,#f71010 198.5px,#f00 205.5px,#ff1500 208.5px,#ff8600 211.5px,#ffe100 215.5px,#fafe00 218.5px,#d7fa00 220.5px,#b0f400 221.5px,#44d60a 223.5px,#1bc90a 224.5px,#0bc30b 225.5px,#0bc30b 266.5px,#31d00a 268.5px,#bbf600 272.5px,#fafe00 275.5px,#fe0 281.5px,#ffe700 314.5px,#ffb100 322.5px,#ffc600 326.5px,#ffea00 332.5px,#fff800 340.5px,#ebfc00 342.5px,#a0f002 345.5px,#36d20a 348.5px,#0ac30b 350.5px,#0ac30b 395.5px,#4ed909 397.5px,#adf301 399.5px,#fffc00 402.5px,#ffa600 408.5px,#ff7200 412.5px,#ff7b00 413.5px,#ff1900 422.5px,#ff0400 439.5px,#ff2300 451.5px,#ff5c00)"></i><i style="left:462px;width:3px;background:linear-gradient(#05052e 0,#050536 74.5px,#030357 87.5px,#0000d4 102.5px,#0006ed 107.5px,#0013fe 124.5px,#2658ff 129.5px,#306aff 130.5px,#afd9fd 133.5px,#cfe9ed 135.5px,#bdebd1 137.5px,#a0e9ae 138.5px,#14c819 141.5px,#0bc30b 145.5px,#1dc90a 146.5px,#c4f700 150.5px,#fffe00 152.5px,#ffc900 155.5px,#ff1d00 160.5px,#fb0808 161.5px,#ef1e1e 165.5px,#a79a9a 173.5px,#aa9393 189.5px,#f31818 197.5px,#f00 204.5px,#ff1000 208.5px,#ff9700 212.5px,#ffeb00 216.5px,#fffe00 218.5px,#defb00 220.5px,#bff600 221.5px,#29cd0a 224.5px,#0ac30a 225.5px,#11c50a 267.5px,#6be107 270.5px,#b5f500 272.5px,#f6fe00 275.5px,#fe0 282.5px,#ffe500 315.5px,#ffba00 323.5px,#ffea00 332.5px,#fff800 340.5px,#eafc00 342.5px,#a0ef02 345.5px,#36d20a 348.5px,#0ac30b 350.5px,#0ac30b 395.5px,#4ed909 397.5px,#adf301 399.5px,#fffc00 402.5px,#ffa600 408.5px,#ff7200 412.5px,#ff7c00 413.5px,#ff1900 422.5px,#ff0400 439.5px,#ff2400 451.5px,#ff5c00)"></i><i style="left:465px;width:3px;background:linear-gradient(#05052e 0,#050536 74.5px,#030359 87.5px,#0000d6 102.5px,#0006ed 107.5px,#0014ff 124.5px,#275aff 129.5px,#316cff 130.5px,#8dbeff 132.5px,#b0dafc 133.5px,#d0eaec 135.5px,#bcebcf 137.5px,#6be075 139.5px,#13c818 141.5px,#0bc30b 145.5px,#47d70a 147.5px,#a7f101 149.5px,#fffb00 152.5px,#ffc400 155.5px,#ff1700 160.5px,#fb0808 161.5px,#ee1f1f 165.5px,#a79a9a 173.5px,#a99696 189.5px,#f01c1c 197.5px,#f00 204.5px,#ff0d00 208.5px,#ff2000 209.5px,#ff8f00 212.5px,#ffe700 216.5px,#f4fe00 219.5px,#cbf800 221.5px,#0fc50a 225.5px,#0cc40a 267.5px,#63df07 270.5px,#c8f800 273.5px,#fffd00 276.5px,#fe0 282.5px,#ffe600 315.5px,#ffc600 323.5px,#ffed00 334.5px,#fff800 340.5px,#eafc00 342.5px,#9fef02 345.5px,#35d10a 348.5px,#0ac30b 350.5px,#0ac30b 395.5px,#4ed909 397.5px,#adf301 399.5px,#fffc00 402.5px,#ffa600 408.5px,#ff7200 412.5px,#ff7c00 413.5px,#ff1900 422.5px,#ff0300 438.5px,#ff2400 451.5px,#ff5c00)"></i><i style="left:468px;width:3px;background:linear-gradient(#05052e 0,#040437 74.5px,#02025a 87.5px,#0000d8 102.5px,#0006ee 107.5px,#0014ff 124.5px,#285cff 129.5px,#336fff 130.5px,#93c3ff 132.5px,#b2dbfb 133.5px,#d2ebeb 135.5px,#baebcd 137.5px,#34d13b 140.5px,#13c818 141.5px,#0ac30a 145.5px,#51da09 147.5px,#b1f400 149.5px,#effd00 151.5px,#ffe600 153.5px,#ff9c00 156.5px,#fc0606 160.5px,#ed2222 165.5px,#a79b9b 173.5px,#a89797 189.5px,#f51313 198.5px,#f00 206.5px,#ff1500 209.5px,#ff8600 212.5px,#ffe100 216.5px,#fafe00 219.5px,#d7fa00 221.5px,#b0f400 222.5px,#43d60a 224.5px,#1bc90a 225.5px,#0bc30b 226.5px,#0ac30a 267.5px,#5bdd08 270.5px,#c3f700 273.5px,#ff0 276.5px,#fe0 281.5px,#ffe600 316.5px,#ffd400 324.5px,#fe0 336.5px,#fbfe00 341.5px,#bdf600 344.5px,#34d10a 348.5px,#0bc30b 350.5px,#0ac30b 395.5px,#4ed909 397.5px,#adf301 399.5px,#fffc00 402.5px,#ffa600 408.5px,#ff7200 412.5px,#ff7d00 413.5px,#ff1800 422.5px,#ff0300 438.5px,#ff2500 451.5px,#ff5c00)"></i><i style="left:471px;width:3px;background:linear-gradient(#05052e 0,#040437 74.5px,#02025c 87.5px,#0004eb 105.5px,#0116ff 124.5px,#2a5fff 129.5px,#3a75ff 130.5px,#9ac9ff 132.5px,#c5e4f2 134.5px,#d0ebe9 135.5px,#b6ebc7 137.5px,#29ce30 140.5px,#13c717 141.5px,#10c50a 145.5px,#bbf600 149.5px,#f8fe00 151.5px,#ffce00 154.5px,#ff6d00 157.5px,#fc0707 160.5px,#ec2323 165.5px,#a89797 173.5px,#a99595 189.5px,#f51414 198.5px,#f00 206.5px,#f10 209.5px,#f90 213.5px,#ffeb00 217.5px,#feff00 219.5px,#ddfa00 221.5px,#bcf600 222.5px,#27cd0a 225.5px,#0ac30b 226.5px,#0ac30b 267.5px,#35d10a 269.5px,#bef600 273.5px,#fcff00 276.5px,#fe0 282.5px,#ffe600 317.5px,#ffe000 326.5px,#fff900 340.5px,#e8fc00 342.5px,#9bee02 345.5px,#32d00a 348.5px,#0bc30b 350.5px,#0ac30b 395.5px,#4ed909 397.5px,#adf301 399.5px,#fffc00 402.5px,#ffa600 408.5px,#ff7200 412.5px,#ff7e00 413.5px,#ff1800 422.5px,#ff0300 438.5px,#ff2600 451.5px,#ff5b00)"></i><i style="left:474px;width:3px;background:linear-gradient(#05052e 0,#050536 73.5px,#030357 86.5px,#0000d4 101.5px,#0006ed 106.5px,#0218ff 124.5px,#2b62ff 129.5px,#427cff 130.5px,#a2d0ff 132.5px,#ceebe6 135.5px,#b1ebc1 137.5px,#1dca22 140.5px,#0bc40c 144.5px,#1ac80a 145.5px,#c5f700 149.5px,#fffc00 151.5px,#ffc600 154.5px,#ff1900 159.5px,#fb0808 160.5px,#eb2424 165.5px,#ab9191 173.5px,#ab9090 189.5px,#f51414 198.5px,#f00 206.5px,#ff0e00 209.5px,#ff4c00 211.5px,#ffab00 214.5px,#ffe900 217.5px,#fffd00 219.5px,#e1fb00 221.5px,#c6f700 222.5px,#31d00a 225.5px,#0bc30a 226.5px,#0bc30b 267.5px,#30d00a 269.5px,#b9f600 273.5px,#f9fe00 276.5px,#fe0 282.5px,#ffe300 320.5px,#fff300 339.5px,#f9fe00 341.5px,#baf600 344.5px,#30d00a 348.5px,#0bc30b 350.5px,#0ac30b 395.5px,#4ed909 397.5px,#adf301 399.5px,#fffc00 402.5px,#ffa600 408.5px,#ff7200 412.5px,#ff7e00 413.5px,#ff1800 422.5px,#ff0300 438.5px,#ff2600 451.5px,#ff5b00)"></i><i style="left:477px;width:3px;background:linear-gradient(#05052e 0,#040437 73.5px,#02025a 86.5px,#0000d8 101.5px,#0007ef 107.5px,#041bff 124.5px,#2e66ff 129.5px,#4d85ff 130.5px,#abd7fe 132.5px,#cbe7ef 134.5px,#bfebd3 136.5px,#a6eab5 137.5px,#14c819 140.5px,#0bc30b 144.5px,#4cd909 146.5px,#aff400 148.5px,#f0fd00 150.5px,#ffe500 152.5px,#ff9b00 155.5px,#fc0606 159.5px,#f21919 164.5px,#ae8888 173.5px,#ae8787 189.5px,#f51414 198.5px,#f00 206.5px,#ff0c00 209.5px,#ff1e00 210.5px,#ff8d00 213.5px,#ffe500 217.5px,#f6fe00 220.5px,#cef800 222.5px,#11c50a 226.5px,#12c60a 268.5px,#6be107 271.5px,#b5f500 273.5px,#f6fe00 276.5px,#fe0 282.5px,#fe0 337.5px,#f7fe00 341.5px,#b8f600 344.5px,#2ecf0a 348.5px,#14c60a 349.5px,#0ec510 353.5px,#0ac30b 395.5px,#4ed909 397.5px,#adf301 399.5px,#fffc00 402.5px,#ffa600 408.5px,#ff7200 412.5px,#ff8100 413.5px,#ff1700 422.5px,#ff0300 438.5px,#ff2900 451.5px,#ff5b00)"></i><i style="left:480px;width:3px;background:linear-gradient(#05052e 0,#040437 73.5px,#02025d 86.5px,#0002e9 103.5px,#0115ff 123.5px,#295dff 128.5px,#3772ff 129.5px,#95c4ff 131.5px,#c3e3f3 133.5px,#d0ebea 134.5px,#b8ebc9 136.5px,#2bce31 139.5px,#13c717 140.5px,#12c60a 144.5px,#bff600 148.5px,#fcfe00 150.5px,#ffca00 153.5px,#fc0707 159.5px,#ec2424 165.5px,#b37a7a 172.5px,#b27d7d 189.5px,#f51313 198.5px,#f00 206.5px,#ff1a00 210.5px,#ff8900 213.5px,#ffe300 217.5px,#f8fe00 220.5px,#d4f900 222.5px,#76e406 224.5px,#1ac80a 226.5px,#0bc30b 227.5px,#0ec40a 268.5px,#66e007 271.5px,#b0f400 273.5px,#fffc00 277.5px,#fe0 283.5px,#ffef00 338.5px,#f6fe00 341.5px,#b5f500 344.5px,#2bce0a 348.5px,#12c60a 349.5px,#0ac30b 395.5px,#4ed909 397.5px,#adf301 399.5px,#fffc00 402.5px,#ffa600 408.5px,#ff7200 412.5px,#ff8500 413.5px,#ff1500 422.5px,#ff0300 438.5px,#ff2d00 451.5px,#ff5b00)"></i><i style="left:483px;width:3px;background:linear-gradient(#05052e 0,#040437 72.5px,#03035a 85.5px,#0000d7 100.5px,#0006ee 105.5px,#0114fe 122.5px,#275aff 127.5px,#346eff 128.5px,#b0dafc 131.5px,#ceeaeb 133.5px,#bbebce 135.5px,#6ae074 137.5px,#13c818 139.5px,#0bc30b 143.5px,#4dd909 145.5px,#adf301 147.5px,#edfd00 149.5px,#fff800 150.5px,#ffbf00 153.5px,#fd0b04 158.5px,#f21919 164.5px,#ba7070 172.5px,#ba6f6f 189.5px,#f61212 198.5px,#f00 206.5px,#ff1a00 210.5px,#ff8900 213.5px,#ffe200 217.5px,#fafe00 220.5px,#dafa00 222.5px,#b5f500 223.5px,#4ad80a 225.5px,#22cb0a 226.5px,#0bc30b 227.5px,#0bc30a 268.5px,#61de08 271.5px,#c6f700 274.5px,#fffe00 277.5px,#fe0 283.5px,#fff500 339.5px,#f4fd00 341.5px,#b2f400 344.5px,#28cd0a 348.5px,#0fc50a 349.5px,#0ac30b 395.5px,#4ed909 397.5px,#adf301 399.5px,#fffc00 402.5px,#ffa600 408.5px,#ff7200 412.5px,#f80 413.5px,#ff1400 422.5px,#ff0300 438.5px,#f20 446.5px,#ff3200 451.5px,#ff5700 457.5px,#ff5b00)"></i><i style="left:486px;width:3px;background:linear-gradient(#05052e 0,#040437 72.5px,#02025e 85.5px,#0002e9 102.5px,#0115fe 121.5px,#285cff 126.5px,#3671ff 127.5px,#91c1ff 129.5px,#b2dbfb 130.5px,#ceeaea 132.5px,#bbebcd 134.5px,#6de077 136.5px,#16c81b 138.5px,#0bc30b 142.5px,#1dc90a 143.5px,#c1f700 147.5px,#fbfe00 149.5px,#fc0 152.5px,#fc0707 158.5px,#ee2020 165.5px,#c46262 172.5px,#c65f5f 189.5px,#f71111 198.5px,#f00 206.5px,#ff0d00 209.5px,#ff2000 210.5px,#ff8b00 213.5px,#ffe200 217.5px,#fbff00 220.5px,#dcfa00 222.5px,#baf600 223.5px,#2ace0a 226.5px,#0ac30a 227.5px,#0ac30a 268.5px,#5cdd08 271.5px,#c4f700 274.5px,#ff0 277.5px,#fe0 282.5px,#fff500 339.5px,#f1fd00 341.5px,#adf301 344.5px,#25cc0a 348.5px,#0cc40a 349.5px,#0ac30b 395.5px,#4ed909 397.5px,#adf301 399.5px,#fffc00 402.5px,#ffa600 408.5px,#ff7200 412.5px,#ff8b00 413.5px,#ff1400 422.5px,#ff0100 437.5px,#ff1d00 445.5px,#ff2d00 449.5px,#ff5b00)"></i><i style="left:489px;width:3px;background:linear-gradient(#05052e 0,#040437 71.5px,#02025b 84.5px,#0004eb 102.5px,#0217ff 120.5px,#2a5fff 125.5px,#3e77ff 126.5px,#9ac9ff 128.5px,#c5e4f2 130.5px,#ceeae8 131.5px,#b9ebcb 133.5px,#17c91c 137.5px,#0bc40c 141.5px,#15c70a 142.5px,#b4f500 146.5px,#fff800 149.5px,#ffbf00 152.5px,#fd0c04 157.5px,#ef1e1e 165.5px,#cd5454 172.5px,#d14f4f 189.5px,#f61212 197.5px,#f00 206.5px,#f10 209.5px,#ff9200 213.5px,#ffe400 217.5px,#fafe00 220.5px,#dbfa00 222.5px,#8aea04 224.5px,#2dcf0a 226.5px,#0ac30a 227.5px,#0ac30a 268.5px,#59dc08 271.5px,#c2f700 274.5px,#feff00 277.5px,#fe0 282.5px,#fff600 339.5px,#ff0 340.5px,#a8f201 344.5px,#21cb0a 348.5px,#0ac30a 349.5px,#0ac30b 395.5px,#4ed909 397.5px,#adf301 399.5px,#fffc00 402.5px,#ffa600 408.5px,#ff7200 412.5px,#ff8e00 413.5px,#ff3900 419.5px,#ff1300 422.5px,#f00 437.5px,#ff1600 444.5px,#ff3100 448.5px,#ff3a00 451.5px,#f50 456.5px,#ff5b00)"></i><i style="left:492px;width:3px;background:linear-gradient(#05052e 0,#050536 70.5px,#030359 83.5px,#0000d6 98.5px,#0006ed 103.5px,#0319ff 119.5px,#2c63ff 124.5px,#467fff 125.5px,#a2d0fe 127.5px,#c9e6f0 129.5px,#c3ebd8 131.5px,#b6ebc7 132.5px,#17c91c 136.5px,#10c50a 141.5px,#7ce605 144.5px,#c6f700 146.5px,#fcfe00 148.5px,#fc0 151.5px,#fc0606 157.5px,#ec2323 166.5px,#d64747 172.5px,#db4040 189.5px,#f71010 197.5px,#ff0400 206.5px,#ff0e00 208.5px,#ff2000 209.5px,#ff8700 212.5px,#ffea00 217.5px,#f5fe00 220.5px,#d4f900 222.5px,#80e705 224.5px,#28cd0a 226.5px,#0ac30a 227.5px,#0ac30b 268.5px,#57dc08 271.5px,#c0f700 274.5px,#fdff00 277.5px,#fe0 283.5px,#fff200 338.5px,#fdff00 340.5px,#a2f002 344.5px,#37d20a 347.5px,#0ac30b 349.5px,#0ac30b 395.5px,#4ed909 397.5px,#adf301 399.5px,#fffc00 402.5px,#ffa600 408.5px,#ff7200 412.5px,#ff9100 413.5px,#ff4b00 418.5px,#ff1300 422.5px,#fe0202 434.5px,#ff1200 443.5px,#ff3600 448.5px,#ff3e00 451.5px,#ff5700 456.5px,#ff5a00)"></i><i style="left:495px;width:3px;background:linear-gradient(#05052e 0,#040437 70.5px,#02025e 83.5px,#0002e9 100.5px,#0114fe 117.5px,#2658ff 122.5px,#346dff 123.5px,#add7fc 126.5px,#cce9ec 128.5px,#c0ebd4 130.5px,#aeeabe 131.5px,#16c81a 135.5px,#0fc50a 140.5px,#75e406 143.5px,#dafa00 146.5px,#fff500 148.5px,#ffba00 151.5px,#fd0b04 156.5px,#f11b1b 165.5px,#dc3e3e 171.5px,#de3b3b 188.5px,#f71010 196.5px,#ff0400 205.5px,#ff1d00 208.5px,#f90 212.5px,#ffe500 216.5px,#fcff00 219.5px,#c5f700 222.5px,#1cc90a 226.5px,#0bc30b 227.5px,#0ac30b 268.5px,#56db09 271.5px,#bff700 274.5px,#fdff00 277.5px,#fe0 283.5px,#fff200 338.5px,#fafe00 340.5px,#bcf600 343.5px,#32d00a 347.5px,#0bc30b 349.5px,#0ac30b 395.5px,#4ed909 397.5px,#adf301 399.5px,#fffc00 402.5px,#ffa600 408.5px,#ff7200 412.5px,#ff9400 413.5px,#ff5e00 417.5px,#ff1900 421.5px,#fe0101 431.5px,#ff0e00 442.5px,#ff3a00 448.5px,#ff4300 451.5px,#ff5800 456.5px,#ff5a00)"></i><i style="left:498px;width:3px;background:linear-gradient(#05052e 0,#040437 69.5px,#02025c 82.5px,#0004eb 100.5px,#0319ff 116.5px,#2c63ff 121.5px,#4780ff 122.5px,#a0cdfe 124.5px,#c8e6f0 126.5px,#c5ebda 128.5px,#b9ebcb 129.5px,#50d959 132.5px,#26cd2c 133.5px,#13c717 134.5px,#12c60a 139.5px,#75e406 142.5px,#d7fa00 145.5px,#fff800 147.5px,#ffbf00 150.5px,#fd0d04 155.5px,#f01c1c 165.5px,#e03737 171.5px,#e52f2f 188.5px,#f80d0d 196.5px,#ff0400 204.5px,#ff0e00 206.5px,#ff4000 208.5px,#ff9800 211.5px,#ffe200 215.5px,#fefe00 218.5px,#d2f900 221.5px,#83e804 223.5px,#0ec40a 226.5px,#0ac30b 268.5px,#57dc08 271.5px,#c0f700 274.5px,#fdff00 277.5px,#fe0 283.5px,#fff400 338.5px,#f7fe00 340.5px,#b7f500 343.5px,#2dcf0a 347.5px,#13c60a 348.5px,#0fc611 357.5px,#0ac30b 395.5px,#4ed909 397.5px,#adf301 399.5px,#fffc00 402.5px,#ffa600 408.5px,#ff7200 412.5px,#ff9800 413.5px,#ff6100 417.5px,#ff1900 421.5px,#fe0101 430.5px,#ff0900 441.5px,#ff3e00 447.5px,#ff4700 451.5px,#ff5900 455.5px,#ff5a00)"></i><i style="left:501px;width:3px;background:linear-gradient(#05052e 0,#040437 68.5px,#02025a 81.5px,#0004ea 99.5px,#0217fe 114.5px,#2a5fff 119.5px,#3f78ff 120.5px,#97c5fe 122.5px,#c4e4f2 124.5px,#c7ebdd 126.5px,#a9eab9 128.5px,#19c91e 132.5px,#0bc30b 137.5px,#34d10a 139.5px,#c0f700 143.5px,#fff800 146.5px,#ffc000 149.5px,#fd0e04 154.5px,#f51313 163.5px,#e43030 170.5px,#e82a2a 187.5px,#f90b0b 196.5px,#ff0600 203.5px,#ff1000 205.5px,#f90 210.5px,#ffec00 215.5px,#f5fe00 218.5px,#d9fa00 220.5px,#93ec03 222.5px,#1cc90a 225.5px,#0bc30b 226.5px,#0bc30a 268.5px,#5fde08 271.5px,#c4f700 274.5px,#ff0 277.5px,#fff000 283.5px,#fff600 338.5px,#f1fd00 340.5px,#aef301 343.5px,#26cc0a 347.5px,#0dc40a 348.5px,#0ac30b 395.5px,#4ed909 397.5px,#adf301 399.5px,#fffc00 402.5px,#ffa600 408.5px,#ff7200 412.5px,#ff9b00 413.5px,#ff6300 417.5px,#ff1800 421.5px,#fe0101 429.5px,#ff0a00 441.5px,#ff4300 447.5px,#ff4b00 451.5px,#ff5b00 455.5px,#ff5a00)"></i><i style="left:504px;width:3px;background:linear-gradient(#05052e 0,#050536 67.5px,#030359 80.5px,#0000d6 95.5px,#0006ed 100.5px,#0116fe 112.5px,#285cff 117.5px,#3a73ff 118.5px,#91c1ff 120.5px,#c2e3f3 122.5px,#c9ebe0 124.5px,#b0eac0 126.5px,#23cc29 130.5px,#11c715 132.5px,#0ec40b 136.5px,#61de08 139.5px,#c6f700 142.5px,#f5fe00 144.5px,#ffd400 147.5px,#ff7900 150.5px,#fd0d04 153.5px,#ef1d1d 165.5px,#e82929 173.5px,#ec2424 186.5px,#fb0707 198.5px,#ff0700 202.5px,#ff1400 204.5px,#ff9b00 209.5px,#ffec00 214.5px,#f7fe00 217.5px,#ddfa00 219.5px,#9fef02 221.5px,#28cd0a 224.5px,#0cc40a 225.5px,#0bc30b 267.5px,#2dcf0a 269.5px,#b5f500 273.5px,#fffd00 277.5px,#fff200 286.5px,#fffa00 338.5px,#e9fc00 340.5px,#a2f002 343.5px,#1fca0a 347.5px,#0ac30a 348.5px,#0ac30b 395.5px,#4ed909 397.5px,#adf301 399.5px,#fffc00 402.5px,#ffa600 408.5px,#ff7200 412.5px,#ff9e00 413.5px,#ff6500 417.5px,#ff1700 421.5px,#fe0101 428.5px,#ff0a00 441.5px,#ff4700 447.5px,#ff4f00 451.5px,#ff5d00 455.5px,#ff5900)"></i><i style="left:507px;width:3px;background:linear-gradient(#05052e 0,#040437 67.5px,#02025f 80.5px,#0003e9 97.5px,#0115fe 110.5px,#275aff 115.5px,#3770ff 116.5px,#add7fb 119.5px,#cce9ec 121.5px,#b5ebc6 124.5px,#2dcf33 128.5px,#16c81a 129.5px,#0bc40c 134.5px,#2fcf0a 136.5px,#cdf800 141.5px,#f9fd00 143.5px,#ffcf00 146.5px,#ff7000 149.5px,#fd0b04 152.5px,#f01d1d 165.5px,#ef1e1e 185.5px,#ff0500 200.5px,#ff1a00 203.5px,#ff9e00 208.5px,#ffec00 213.5px,#f9fe00 216.5px,#caf800 219.5px,#15c70a 224.5px,#0dc40e 227.5px,#0cc40a 267.5px,#5cdd08 270.5px,#c0f700 273.5px,#f8fe00 276.5px,#fff500 322.5px,#fdfe00 338.5px,#b4f500 342.5px,#2fcf0a 346.5px,#0bc30b 348.5px,#0ac30b 395.5px,#4ed909 397.5px,#adf301 399.5px,#fffc00 402.5px,#ffa600 408.5px,#ff7200 412.5px,#ffa000 413.5px,#ff6700 417.5px,#ff1600 421.5px,#fe0202 428.5px,#ff0b00 441.5px,#ff4b00 447.5px,#ff5300 451.5px,#ff5e00 455.5px,#ff5900)"></i><i style="left:510px;width:3px;background:linear-gradient(#05052e 0,#040437 66.5px,#02025e 79.5px,#0002e9 96.5px,#0114fd 108.5px,#2557ff 113.5px,#336bff 114.5px,#a9d4fc 117.5px,#cbe8ed 119.5px,#b9ebcb 122.5px,#1aca1f 127.5px,#0ec40b 133.5px,#5ddd08 136.5px,#bff600 139.5px,#fdfb00 142.5px,#ffc800 145.5px,#fe1a02 150.5px,#fc0606 151.5px,#f01c1c 173.5px,#f80d0d 190.5px,#ff0700 199.5px,#ff1400 201.5px,#ffa400 207.5px,#ffed00 212.5px,#f8fe00 215.5px,#ccf800 218.5px,#1dc90a 223.5px,#0ac30b 224.5px,#0ac30b 266.5px,#4fd909 269.5px,#b6f500 272.5px,#fbfe00 276.5px,#f9fe00 337.5px,#b2f401 341.5px,#30d00a 345.5px,#0bc30b 347.5px,#0ac30b 395.5px,#4ed909 397.5px,#adf301 399.5px,#fffc00 402.5px,#ffa600 408.5px,#ff7200 412.5px,#ff9e00 413.5px,#ff6500 417.5px,#ff1700 421.5px,#fe0101 428.5px,#ff0a00 441.5px,#ff4700 447.5px,#ff5000 451.5px,#ff5d00 455.5px,#ff5900)"></i><i style="left:513px;width:3px;background:linear-gradient(#05052e 0,#040437 65.5px,#02025d 78.5px,#0002e9 95.5px,#0013fd 106.5px,#2454ff 111.5px,#3068ff 112.5px,#4e86ff 113.5px,#a5d1fd 115.5px,#c9e7ee 117.5px,#c5ebda 119.5px,#a7e9b7 121.5px,#22cc28 125.5px,#11c715 127.5px,#0bc40b 131.5px,#31d00a 133.5px,#c9f800 138.5px,#fff700 141.5px,#ffbd00 144.5px,#fd0e04 149.5px,#f70f0f 159.5px,#f80e0e 187.5px,#ff0c00 198.5px,#ff2600 200.5px,#ff9f00 205.5px,#ffe800 210.5px,#f5fe00 214.5px,#c9f800 217.5px,#20ca0a 222.5px,#0bc30a 223.5px,#0bc30b 265.5px,#2dcf0a 267.5px,#c3f700 272.5px,#fcff00 276.5px,#f7fe00 335.5px,#b6f401 339.5px,#20ca0a 344.5px,#0bc40c 346.5px,#0ac30b 395.5px,#4ed909 397.5px,#adf301 399.5px,#fffc00 402.5px,#ffa600 408.5px,#ff7200 412.5px,#ff9b00 413.5px,#ff6300 417.5px,#ff1800 421.5px,#fe0101 429.5px,#ff0a00 441.5px,#ff4300 447.5px,#ff4c00 451.5px,#ff5b00 455.5px,#ff5a00)"></i><i style="left:516px;width:3px;background:linear-gradient(#05052e 0,#040437 64.5px,#02025d 77.5px,#0002e8 94.5px,#0113fd 104.5px,#2454ff 109.5px,#3168ff 110.5px,#4f87ff 111.5px,#a5d1fd 113.5px,#c9e7ee 115.5px,#bcebcf 118.5px,#8ae596 120.5px,#26cd2c 123.5px,#14c818 124.5px,#12c60a 130.5px,#61de08 133.5px,#bff600 136.5px,#fcfc00 139.5px,#ffcb00 142.5px,#ff6900 145.5px,#fe1e02 147.5px,#fc0606 148.5px,#f61212 181.5px,#ff0d00 196.5px,#ff2a00 198.5px,#ff9d00 203.5px,#ffed00 209.5px,#f0fd00 213.5px,#c2f700 216.5px,#20ca0a 221.5px,#0cc40a 222.5px,#10c50a 265.5px,#5fde08 268.5px,#bbf600 271.5px,#f4fe00 275.5px,#f6fe00 332.5px,#c3f700 336.5px,#1bc90a 342.5px,#0cc40c 344.5px,#0ac30b 395.5px,#4ed909 397.5px,#adf301 399.5px,#fffc00 402.5px,#ffa600 408.5px,#ff7200 412.5px,#ff9800 413.5px,#ff6100 417.5px,#ff1800 421.5px,#fe0101 430.5px,#ff0900 441.5px,#ff3f00 447.5px,#ff4800 451.5px,#ff5900 455.5px,#ff5a00)"></i><i style="left:519px;width:3px;background:linear-gradient(#05052e 0,#040437 63.5px,#02025c 76.5px,#0004eb 94.5px,#041cff 103.5px,#3269ff 108.5px,#5088ff 109.5px,#a6d2fd 111.5px,#cae7ee 113.5px,#bcebcf 116.5px,#8ce699 118.5px,#2ace30 121.5px,#16c81a 122.5px,#0ec40b 128.5px,#54db09 131.5px,#caf800 135.5px,#fff800 138.5px,#ffc000 141.5px,#fd0f04 146.5px,#fa0909 151.5px,#f90b0b 185.5px,#fe0a02 193.5px,#ff3200 196.5px,#ff9e00 201.5px,#ffeb00 207.5px,#f6fe00 211.5px,#d1f900 214.5px,#1eca0a 220.5px,#0bc30a 221.5px,#0ec40a 264.5px,#57dc08 267.5px,#b3f500 270.5px,#ecfc00 274.5px,#ecfc00 330.5px,#b3f401 334.5px,#26cc0a 339.5px,#0cc40c 341.5px,#0ac30b 395.5px,#4ed909 397.5px,#adf301 399.5px,#fffc00 402.5px,#ffa600 408.5px,#ff7200 412.5px,#ff9500 413.5px,#ff5f00 417.5px,#ff1900 421.5px,#ff0101 430.5px,#ff0900 441.5px,#ff3b00 448.5px,#f40 451.5px,#ff5800 456.5px,#ff5a00)"></i><i style="left:522px;width:3px;background:linear-gradient(#05052e 0,#040437 62.5px,#02025c 75.5px,#0004eb 93.5px,#041bff 101.5px,#3068ff 106.5px,#4f87ff 107.5px,#a5d1fd 109.5px,#cae7ee 111.5px,#bdebd0 114.5px,#90e69d 116.5px,#18c91d 120.5px,#0bc40b 126.5px,#2fcf0a 128.5px,#c0f700 133.5px,#fbfd00 136.5px,#ffcd00 139.5px,#ff6c00 142.5px,#fc0606 145.5px,#f90d0d 181.5px,#fd0904 191.5px,#ff3a00 194.5px,#ff9f00 199.5px,#ffea00 205.5px,#fafe00 209.5px,#c7f800 213.5px,#1ac80a 219.5px,#0bc30a 220.5px,#0bc30a 263.5px,#6ee206 267.5px,#bff600 270.5px,#eafc00 274.5px,#e8fc00 327.5px,#b7f501 331.5px,#1ac80a 337.5px,#0dc40e 340.5px,#0ac30b 395.5px,#4ed909 397.5px,#adf301 399.5px,#fffc00 402.5px,#ffa600 408.5px,#ff7200 412.5px,#ff9200 413.5px,#ff5d00 417.5px,#ff1200 422.5px,#fe0202 434.5px,#ff1300 443.5px,#ff3700 448.5px,#ff4000 451.5px,#ff5700 456.5px,#ff5a00)"></i><i style="left:525px;width:3px;background:linear-gradient(#05052e 0,#040437 61.5px,#02025b 74.5px,#0004eb 92.5px,#0319ff 99.5px,#2b62ff 104.5px,#457eff 105.5px,#9fccfe 107.5px,#c8e6f0 109.5px,#c8ebde 111.5px,#b4ebc5 113.5px,#1dca22 118.5px,#0bc40c 124.5px,#24cc0a 126.5px,#caf800 132.5px,#fef900 135.5px,#ffc200 138.5px,#fe1602 143.5px,#fc0606 144.5px,#f90c0c 180.5px,#fd0a04 189.5px,#ff4000 192.5px,#ffa000 197.5px,#ffe800 203.5px,#f4fe00 208.5px,#bef600 212.5px,#2ecf0a 217.5px,#0ac30b 219.5px,#0ac30b 262.5px,#43d60a 265.5px,#b4f500 269.5px,#e0fb00 273.5px,#ddfa00 325.5px,#bbf500 328.5px,#22cb0a 334.5px,#0bc40c 336.5px,#0ac30b 395.5px,#4ed909 397.5px,#adf301 399.5px,#fffc00 402.5px,#ffa600 408.5px,#ff7200 412.5px,#ff8f00 413.5px,#ff4a00 418.5px,#ff1300 422.5px,#ff0101 436.5px,#ff1800 444.5px,#f30 448.5px,#ff3c00 451.5px,#ff5600 456.5px,#ff5a00)"></i><i style="left:528px;width:3px;background:linear-gradient(#05052e 0,#040437 60.5px,#02025b 73.5px,#0004eb 91.5px,#051dff 98.5px,#326cff 103.5px,#add8fc 106.5px,#cde9ed 108.5px,#bcebcf 111.5px,#8ce698 113.5px,#15c81a 117.5px,#0bc30b 123.5px,#2ecf0a 125.5px,#bef600 130.5px,#f9fd00 133.5px,#ffd100 136.5px,#ff7300 139.5px,#fd0c04 142.5px,#f80e0e 176.5px,#fc0606 187.5px,#ff9200 194.5px,#ffe600 201.5px,#f8fe00 206.5px,#ccf800 210.5px,#14c60a 217.5px,#0dc40e 221.5px,#0ec40a 262.5px,#b7f500 269.5px,#d7fa00 273.5px,#d2f900 323.5px,#adf301 326.5px,#1ac80a 332.5px,#0dc40e 335.5px,#0ac30b 395.5px,#4ed909 397.5px,#adf301 399.5px,#fffc00 402.5px,#ffa600 408.5px,#ff7200 412.5px,#ff8c00 413.5px,#ff1300 422.5px,#f00 437.5px,#ff1e00 445.5px,#ff2f00 449.5px,#ff5800 457.5px,#ff5b00)"></i><i style="left:531px;width:3px;background:linear-gradient(#05052e 0,#040437 59.5px,#02025b 72.5px,#0004eb 90.5px,#061fff 97.5px,#356fff 102.5px,#8ebfff 104.5px,#b1dafc 105.5px,#cfeaeb 107.5px,#bbebcd 110.5px,#68df72 113.5px,#26cd2c 115.5px,#13c818 116.5px,#0cc40b 122.5px,#4fd909 125.5px,#c5f700 129.5px,#fdfc00 132.5px,#ffc900 135.5px,#ff4000 139.5px,#fc0606 141.5px,#f90c0c 177.5px,#fc0606 185.5px,#fd1104 186.5px,#ff9000 192.5px,#ffeb00 200.5px,#f4fd00 205.5px,#c3f700 209.5px,#25cc0a 215.5px,#0bc30b 217.5px,#0ac30a 261.5px,#5bdd08 265.5px,#b7f500 269.5px,#ccf800 273.5px,#c4f700 321.5px,#9aee02 324.5px,#23cb0a 329.5px,#0cc40b 331.5px,#0ac30b 395.5px,#4ed909 397.5px,#adf301 399.5px,#fffc00 402.5px,#ffa600 408.5px,#ff7200 412.5px,#ff8900 413.5px,#ff1400 422.5px,#ff0100 437.5px,#ff1b00 445.5px,#ff2a00 449.5px,#ff5b00)"></i><i style="left:534px;width:3px;background:linear-gradient(#05052e 0,#040437 58.5px,#02025b 71.5px,#0004eb 89.5px,#061fff 96.5px,#346eff 101.5px,#8ebeff 103.5px,#b1dafc 104.5px,#cfeaec 106.5px,#baebcc 109.5px,#45d64d 113.5px,#21cc27 114.5px,#12c715 116.5px,#0ec40a 121.5px,#58dc08 124.5px,#ccf800 128.5px,#fff700 131.5px,#ffbe00 134.5px,#fd0f04 139.5px,#fa0a0a 146.5px,#fb0808 181.5px,#fc0606 184.5px,#ff5600 187.5px,#ffa800 192.5px,#ffef00 199.5px,#f7fe00 203.5px,#ccf800 207.5px,#1bc90a 214.5px,#0bc30b 216.5px,#10c50a 261.5px,#b5f500 269.5px,#c2f700 275.5px,#bef600 318.5px,#98ed03 321.5px,#17c70a 327.5px,#0dc50f 331.5px,#0ac30b 395.5px,#4ed909 397.5px,#adf301 399.5px,#fffc00 402.5px,#ffa600 408.5px,#ff7200 412.5px,#ff8600 413.5px,#ff1500 422.5px,#ff0300 438.5px,#ff2f00 451.5px,#ff5600 457.5px,#ff5b00)"></i><i style="left:537px;width:3px;background:linear-gradient(#05052e 0,#040438 58.5px,#02025a 70.5px,#0004eb 88.5px,#051eff 95.5px,#316bff 100.5px,#afdafc 103.5px,#cee9ec 105.5px,#bbebcd 108.5px,#64de6e 111.5px,#1fcb24 113.5px,#10c613 116.5px,#12c60a 120.5px,#63df07 123.5px,#c0f700 126.5px,#fcfc00 129.5px,#ffcb00 132.5px,#ff4300 136.5px,#fc0606 138.5px,#f90d0d 173.5px,#fc0707 181.5px,#fe2702 183.5px,#ff7f00 187.5px,#ffe200 195.5px,#f6fe00 201.5px,#cbf800 205.5px,#1cc90a 212.5px,#0cc40c 215.5px,#0bc30a 260.5px,#a7f101 268.5px,#baf600 272.5px,#b2f400 316.5px,#70e206 320.5px,#0fc50b 325.5px,#0ac30b 395.5px,#4ed909 397.5px,#adf301 399.5px,#fffc00 402.5px,#ffa600 408.5px,#ff7200 412.5px,#ff8300 413.5px,#ff1600 422.5px,#ff0300 438.5px,#ff2b00 451.5px,#ff5b00)"></i><i style="left:540px;width:3px;background:linear-gradient(#05052e 0,#040438 57.5px,#02025a 69.5px,#0004ea 87.5px,#041cff 94.5px,#2e67ff 99.5px,#abd7fe 102.5px,#cce8ee 104.5px,#bcebcf 107.5px,#84e490 109.5px,#1dcb23 112.5px,#0bc30b 118.5px,#31d00a 120.5px,#caf800 125.5px,#fff700 128.5px,#ffbd00 131.5px,#fd0f04 136.5px,#fa0b0b 143.5px,#fb0808 176.5px,#fd1204 179.5px,#ff9800 186.5px,#ffed00 194.5px,#f1fd00 199.5px,#bdf600 203.5px,#23cb0a 209.5px,#0bc40c 212.5px,#0ac30b 259.5px,#65df07 264.5px,#aaf201 268.5px,#b5f500 275.5px,#b0f400 313.5px,#78e505 317.5px,#15c70a 322.5px,#0fc611 332.5px,#0ac30b 395.5px,#4ed909 397.5px,#adf301 399.5px,#fffc00 402.5px,#ffa600 408.5px,#ff7200 412.5px,#ff8200 413.5px,#ff1700 422.5px,#ff0300 438.5px,#ff2a00 451.5px,#ff5b00)"></i><i style="left:543px;width:3px;background:linear-gradient(#05052e 0,#040438 56.5px,#03035a 68.5px,#0003ea 86.5px,#0319ff 93.5px,#2c63ff 98.5px,#447eff 99.5px,#a3d1ff 101.5px,#cfebe7 104.5px,#abeaba 107.5px,#1dca22 111.5px,#0cc40b 117.5px,#59dc08 120.5px,#bdf600 123.5px,#fcfb00 126.5px,#ffc800 129.5px,#fe1b02 134.5px,#fc0606 135.5px,#f80e0e 167.5px,#fc0707 175.5px,#ff3d00 178.5px,#ffa500 184.5px,#ffed00 191.5px,#f0fd00 196.5px,#bcf500 200.5px,#21cb0a 206.5px,#0bc40c 209.5px,#10c50a 259.5px,#a7f101 267.5px,#b4f500 272.5px,#aff400 311.5px,#73e306 315.5px,#12c60a 320.5px,#0ac30b 395.5px,#4ed909 397.5px,#adf301 399.5px,#fffc00 402.5px,#ffa600 408.5px,#ff7200 412.5px,#ff8400 413.5px,#ff1600 422.5px,#ff0300 438.5px,#ff2c00 451.5px,#ff5b00)"></i><i style="left:546px;width:3px;background:linear-gradient(#05052e 0,#040437 55.5px,#030359 67.5px,#0000d7 82.5px,#0006ed 87.5px,#0721ff 93.5px,#3873ff 98.5px,#96c5ff 100.5px,#c3e4f2 102.5px,#d0ebea 103.5px,#b0ebc0 106.5px,#1dcb23 110.5px,#0cc40d 115.5px,#0ec40a 116.5px,#66e007 119.5px,#c9f800 122.5px,#f6fd00 124.5px,#ffd100 127.5px,#ff7400 130.5px,#fd0d04 133.5px,#f71111 162.5px,#fc0606 173.5px,#f70 178.5px,#ffde00 186.5px,#f9fe00 192.5px,#d0f900 196.5px,#22cb0a 203.5px,#0bc40c 206.5px,#0ec40a 258.5px,#a5f101 266.5px,#b5f500 270.5px,#b1f400 309.5px,#77e406 313.5px,#13c60a 318.5px,#0fc611 359.5px,#0ac30b 395.5px,#4ed909 397.5px,#adf301 399.5px,#fffc00 402.5px,#ffa600 408.5px,#ff7200 412.5px,#ff8600 413.5px,#ff1500 422.5px,#ff0300 438.5px,#ff2f00 451.5px,#ff5b00)"></i><i style="left:549px;width:3px;background:linear-gradient(#05052e 0,#040437 54.5px,#030359 66.5px,#0000d6 81.5px,#0006ed 86.5px,#051dff 92.5px,#306aff 97.5px,#aed9fd 100.5px,#cee9ed 102.5px,#b5ebc6 105.5px,#1ecb24 109.5px,#0dc50f 113.5px,#12c60a 115.5px,#73e306 118.5px,#d4f900 121.5px,#fdf900 123.5px,#ffc400 126.5px,#fe1802 131.5px,#fc0606 132.5px,#f71010 161.5px,#fc0707 170.5px,#fe2902 172.5px,#ff8200 176.5px,#ffe300 184.5px,#f4fe00 190.5px,#c5f700 194.5px,#29cd0a 200.5px,#0dc40b 202.5px,#0bc40a 257.5px,#a4f101 265.5px,#b6f500 269.5px,#b4f500 307.5px,#80e705 311.5px,#19c80a 316.5px,#0bc40c 318.5px,#0ac30b 395.5px,#4ed909 397.5px,#adf301 399.5px,#fffc00 402.5px,#ffa600 408.5px,#ff7200 412.5px,#ff8700 413.5px,#ff1400 422.5px,#ff0300 438.5px,#ff3100 451.5px,#ff5700 457.5px,#ff5b00)"></i><i style="left:552px;width:3px;background:linear-gradient(#05052e 0,#040437 53.5px,#030358 65.5px,#0000d5 80.5px,#0006ed 85.5px,#0319ff 91.5px,#2c63ff 96.5px,#467fff 97.5px,#a4d2ff 99.5px,#c9e6f0 101.5px,#c4ebd9 103.5px,#b9ebcb 104.5px,#20cb26 108.5px,#11c614 110.5px,#0bc40c 113.5px,#17c70a 114.5px,#c6f700 119.5px,#f7fc00 121.5px,#ffcf00 124.5px,#ff6f00 127.5px,#fd0c04 130.5px,#f61313 156.5px,#fc0606 168.5px,#ff7800 173.5px,#ffdf00 181.5px,#f8fe00 187.5px,#cdf800 191.5px,#1cc90a 198.5px,#0cc40c 201.5px,#0ac30a 256.5px,#6ae107 261.5px,#aef301 265.5px,#b7f500 288.5px,#b2f400 306.5px,#74e306 310.5px,#10c50a 315.5px,#0ac30b 395.5px,#4ed909 397.5px,#adf301 399.5px,#fffc00 402.5px,#ffa600 408.5px,#ff7200 412.5px,#ff8900 413.5px,#ff1400 422.5px,#ff0100 437.5px,#ff1a00 445.5px,#ff2a00 449.5px,#ff5b00)"></i><i style="left:555px;width:3px;background:linear-gradient(#05052e 0,#040437 52.5px,#02025e 65.5px,#0002e9 82.5px,#0115ff 90.5px,#295dff 95.5px,#3873ff 96.5px,#96c5ff 98.5px,#c3e4f2 100.5px,#d0ebea 101.5px,#bdebd0 103.5px,#a3e9b1 104.5px,#22cc28 107.5px,#11c614 109.5px,#0bc30b 112.5px,#3cd40a 114.5px,#b4f400 117.5px,#fdf900 120.5px,#ffc300 123.5px,#fe1702 128.5px,#fc0606 129.5px,#f61212 155.5px,#fc0707 165.5px,#fe2302 167.5px,#ff8d00 172.5px,#ffe900 180.5px,#f5fe00 185.5px,#c8f800 189.5px,#2ace0a 195.5px,#0cc40b 197.5px,#0ac30b 255.5px,#4ed909 259.5px,#a1f002 263.5px,#b9f600 266.5px,#b6f500 304.5px,#7de605 308.5px,#15c70a 313.5px,#0dc50f 317.5px,#0ac30b 395.5px,#4ed909 397.5px,#adf301 399.5px,#fffc00 402.5px,#ffa600 408.5px,#ff7200 412.5px,#ff8b00 413.5px,#ff1400 422.5px,#ff0100 437.5px,#ff1c00 445.5px,#ff2c00 449.5px,#ff5b00)"></i><i style="left:558px;width:3px;background:linear-gradient(#05052e 0,#040437 51.5px,#02025d 64.5px,#0002e9 81.5px,#051dff 90.5px,#306aff 95.5px,#aed9fd 98.5px,#cee9ed 100.5px,#bfebd3 102.5px,#aaeab9 103.5px,#26cd2c 106.5px,#13c717 107.5px,#0bc40b 111.5px,#42d60a 113.5px,#bdf600 116.5px,#f4fd00 118.5px,#ffd100 121.5px,#ff7400 124.5px,#fd0c04 127.5px,#f51414 151.5px,#fd0e04 164.5px,#ff8c00 170.5px,#ffe900 178.5px,#f5fe00 183.5px,#c7f800 187.5px,#28cd0a 193.5px,#0bc30b 195.5px,#10c50a 255.5px,#aef301 263.5px,#bbf600 268.5px,#b5f500 303.5px,#72e306 307.5px,#0ec40a 312.5px,#0ac30b 395.5px,#4ed909 397.5px,#adf301 399.5px,#fffc00 402.5px,#ffa600 408.5px,#ff7200 412.5px,#ff8c00 413.5px,#ff1300 422.5px,#f00 437.5px,#ff1e00 445.5px,#ff2f00 449.5px,#ff5800 457.5px,#ff5b00)"></i><i style="left:561px;width:3px;background:linear-gradient(#05052e 0,#040438 51.5px,#02025c 63.5px,#0004eb 81.5px,#031aff 89.5px,#2d65ff 94.5px,#4a83ff 95.5px,#a7d4fe 97.5px,#cae7ef 99.5px,#c2ebd6 101.5px,#b0ebc0 102.5px,#2bce31 105.5px,#13c717 106.5px,#0cc40b 110.5px,#47d709 112.5px,#c4f700 115.5px,#fafc00 117.5px,#ffcb00 120.5px,#ff4100 124.5px,#fc0606 126.5px,#f41616 149.5px,#fc0606 162.5px,#ff9500 169.5px,#ffe700 176.5px,#f8fe00 181.5px,#ccf800 185.5px,#16c70a 192.5px,#0cc40d 195.5px,#0dc40a 254.5px,#adf301 262.5px,#bdf600 266.5px,#baf600 301.5px,#94ec03 304.5px,#15c70a 310.5px,#0dc40e 313.5px,#0ac30b 395.5px,#4ed909 397.5px,#adf301 399.5px,#fffc00 402.5px,#ffa600 408.5px,#ff7200 412.5px,#ff8e00 413.5px,#ff3900 419.5px,#ff1300 422.5px,#f00 437.5px,#ff1600 444.5px,#ff3100 448.5px,#ff3a00 451.5px,#f50 456.5px,#ff5b00)"></i><i style="left:564px;width:3px;background:linear-gradient(#05052e 0,#040438 50.5px,#02025a 62.5px,#0004eb 80.5px,#0217ff 88.5px,#2b61ff 93.5px,#407aff 94.5px,#9fcdff 96.5px,#cfebe7 99.5px,#b5ebc6 101.5px,#30d036 104.5px,#13c818 105.5px,#0cc40b 109.5px,#4ad809 111.5px,#c8f800 114.5px,#fdfb00 116.5px,#ffc600 119.5px,#fe1702 124.5px,#fc0606 125.5px,#f11a1a 144.5px,#fd0e04 161.5px,#ff8e00 167.5px,#ffe400 174.5px,#fbfe00 179.5px,#d2f900 183.5px,#68e007 187.5px,#0dc40a 191.5px,#0bc30a 253.5px,#71e306 258.5px,#b8f600 262.5px,#bbf600 300.5px,#91eb03 303.5px,#10c50a 309.5px,#0ac30b 395.5px,#4ed909 397.5px,#adf301 399.5px,#fffc00 402.5px,#ffa600 408.5px,#ff7200 412.5px,#ff9000 413.5px,#ff4a00 418.5px,#ff1300 422.5px,#ff0101 436.5px,#ff1800 444.5px,#f30 448.5px,#ff3c00 451.5px,#ff5600 456.5px,#ff5a00)"></i><i style="left:567px;width:3px;background:linear-gradient(#05052e 0,#040437 49.5px,#030359 61.5px,#0000d6 76.5px,#0006ed 81.5px,#0116ff 87.5px,#2a5fff 92.5px,#3b76ff 93.5px,#9ac9ff 95.5px,#c5e4f2 97.5px,#cfebe8 98.5px,#b7ebc9 100.5px,#34d13a 103.5px,#13c818 104.5px,#0cc40b 108.5px,#4ad809 110.5px,#a7f101 112.5px,#fdfb00 115.5px,#ffc500 118.5px,#fe1602 123.5px,#fc0707 124.5px,#ef1f1f 140.5px,#f41616 150.5px,#fc0606 159.5px,#ff9300 166.5px,#ffe700 173.5px,#f7fe00 178.5px,#c8f800 182.5px,#25cc0a 188.5px,#0bc30b 190.5px,#0ac30b 252.5px,#54db09 256.5px,#adf301 260.5px,#c4f700 264.5px,#bef600 299.5px,#93ec03 302.5px,#0fc50a 308.5px,#0ac30b 395.5px,#4ed909 397.5px,#adf301 399.5px,#fffc00 402.5px,#ffa600 408.5px,#ff7200 412.5px,#ff9100 413.5px,#ff4b00 418.5px,#ff1300 422.5px,#fe0202 434.5px,#ff1200 443.5px,#ff3600 448.5px,#ff3e00 451.5px,#ff5700 456.5px,#ff5a00)"></i><i style="left:570px;width:3px;background:linear-gradient(#05052e 0,#040437 48.5px,#02025e 61.5px,#0002e9 78.5px,#0217ff 86.5px,#2a5fff 91.5px,#3d77ff 92.5px,#9ac9ff 94.5px,#c5e4f2 96.5px,#ceeae8 97.5px,#b7ebc8 99.5px,#33d139 102.5px,#13c818 103.5px,#0cc40b 107.5px,#4bd809 109.5px,#a7f101 111.5px,#fefa00 114.5px,#ffc400 117.5px,#fe1602 122.5px,#fc0707 123.5px,#eb2424 138.5px,#ef1e1e 148.5px,#fd0a04 158.5px,#ff9800 165.5px,#ffea00 172.5px,#f2fd00 177.5px,#d0f900 180.5px,#16c70a 187.5px,#0cc40d 190.5px,#12c60a 252.5px,#aef301 259.5px,#c9f800 263.5px,#c3f700 298.5px,#9cee02 301.5px,#13c60a 307.5px,#0ac30b 395.5px,#4ed909 397.5px,#adf301 399.5px,#fffc00 402.5px,#ffa600 408.5px,#ff7200 412.5px,#ff9300 413.5px,#ff5d00 417.5px,#ff1200 422.5px,#fe0202 433.5px,#ff0d00 442.5px,#ff3800 448.5px,#ff4000 451.5px,#ff5700 456.5px,#ff5a00)"></i><i style="left:573px;width:3px;background:linear-gradient(#05052e 0,#040438 48.5px,#02025c 60.5px,#0004eb 78.5px,#0218ff 85.5px,#2b62ff 90.5px,#437dff 91.5px,#a0cefe 93.5px,#c8e6f0 95.5px,#ceebe6 96.5px,#b2ebc2 98.5px,#2ccf32 101.5px,#13c717 102.5px,#0dc40b 106.5px,#4ed909 108.5px,#aaf201 110.5px,#fefa00 113.5px,#ffc300 116.5px,#fe1502 121.5px,#fb0808 123.5px,#ed2121 131.5px,#e92828 146.5px,#f90c0c 153.5px,#fe0d02 157.5px,#f90 164.5px,#ffe500 170.5px,#f7fe00 175.5px,#c5f700 179.5px,#1cc90a 185.5px,#0bc40c 187.5px,#0ec40a 251.5px,#b0f400 258.5px,#cef800 262.5px,#cbf800 297.5px,#abf301 300.5px,#1dc90a 306.5px,#0ac30a 307.5px,#0ac30b 395.5px,#4ed909 397.5px,#adf301 399.5px,#fffc00 402.5px,#ffa600 408.5px,#ff7200 412.5px,#ff9200 413.5px,#ff5d00 417.5px,#ff1200 422.5px,#fe0202 433.5px,#ff0d00 442.5px,#ff3700 448.5px,#ff4000 451.5px,#ff5700 456.5px,#ff5a00)"></i><i style="left:576px;width:3px;background:linear-gradient(#05052e 0,#040437 47.5px,#030359 59.5px,#0000d7 74.5px,#0013fd 83.5px,#2455ff 88.5px,#2f68ff 89.5px,#a9d4fd 92.5px,#cbe8ee 94.5px,#c0ebd4 96.5px,#aaeab9 97.5px,#24cc2a 100.5px,#10c613 102.5px,#0fc50a 105.5px,#53da09 107.5px,#adf301 109.5px,#fefa00 112.5px,#ffc200 115.5px,#fe1402 120.5px,#fb0909 122.5px,#ee2020 129.5px,#e43030 134.5px,#e62c2c 145.5px,#f90c0c 152.5px,#fe0b02 156.5px,#ff2d00 158.5px,#ff9800 163.5px,#ffe600 169.5px,#f4fe00 174.5px,#d1f900 177.5px,#24cc0a 183.5px,#0bc30b 185.5px,#0ac30b 250.5px,#5ede08 254.5px,#bcf600 258.5px,#d4f900 262.5px,#cff900 297.5px,#adf301 300.5px,#1ac80a 306.5px,#0ac30a 307.5px,#0ac30b 395.5px,#4ed909 397.5px,#adf301 399.5px,#fffc00 402.5px,#ffa600 408.5px,#ff7200 412.5px,#ff9200 413.5px,#ff4b00 418.5px,#ff1300 422.5px,#fe0202 434.5px,#ff1300 443.5px,#ff3600 448.5px,#ff3f00 451.5px,#ff5700 456.5px,#ff5a00)"></i><i style="left:579px;width:3px;background:linear-gradient(#05052e 0,#040438 47.5px,#02025e 59.5px,#0002e9 76.5px,#0620ff 83.5px,#3771ff 88.5px,#91c1ff 90.5px,#b2dbfb 91.5px,#ceeaea 93.5px,#bcebce 95.5px,#72e17d 97.5px,#1bca21 99.5px,#0cc40d 103.5px,#13c60a 104.5px,#86e804 107.5px,#cff900 109.5px,#fff900 111.5px,#ffc100 114.5px,#fe1302 119.5px,#fa0909 121.5px,#eb2525 128.5px,#e13636 132.5px,#e33232 144.5px,#f80f0f 150.5px,#ff0b00 155.5px,#ff2000 157.5px,#ff9300 162.5px,#ffe600 168.5px,#f2fd00 173.5px,#caf800 176.5px,#16c70a 182.5px,#0bc40c 184.5px,#0bc30a 250.5px,#68e007 254.5px,#b5f500 257.5px,#d9fa00 261.5px,#d5f900 297.5px,#b3f500 300.5px,#1cc90a 306.5px,#0ac30a 307.5px,#0ac30b 395.5px,#4ed909 397.5px,#adf301 399.5px,#fffc00 402.5px,#ffa600 408.5px,#ff7200 412.5px,#ff9100 413.5px,#ff4b00 418.5px,#ff1300 422.5px,#fe0202 434.5px,#ff1200 443.5px,#ff3500 448.5px,#ff3e00 451.5px,#ff5600 456.5px,#ff5a00)"></i><i style="left:582px;width:3px;background:linear-gradient(#05052e 0,#040438 46.5px,#02025b 58.5px,#0000d0 72.5px,#000ef8 79.5px,#1030ff 83.5px,#2b62ff 86.5px,#447dff 87.5px,#9fcdfe 89.5px,#c7e6f0 91.5px,#c4ebd9 93.5px,#b5ebc6 94.5px,#17c91b 98.5px,#0bc40c 102.5px,#15c70a 103.5px,#d0f900 108.5px,#fffa00 110.5px,#ffc200 113.5px,#fe1302 118.5px,#fa0909 120.5px,#ed2121 126.5px,#dd3c3c 130.5px,#e03737 143.5px,#f70f0f 149.5px,#ff0c00 155.5px,#ff2800 157.5px,#ff9c00 162.5px,#ffed00 168.5px,#f1fd00 172.5px,#c5f700 175.5px,#23cb0a 180.5px,#0ec40a 181.5px,#0fc50a 250.5px,#bcf600 257.5px,#defb00 261.5px,#d9fa00 297.5px,#b8f600 300.5px,#1fca0a 306.5px,#0ac30a 307.5px,#0ac30b 395.5px,#4ed909 397.5px,#adf301 399.5px,#fffc00 402.5px,#ffa600 408.5px,#ff7200 412.5px,#ff9000 413.5px,#ff4b00 418.5px,#ff1300 422.5px,#fe0202 435.5px,#ff1200 443.5px,#ff3400 448.5px,#ff3c00 451.5px,#ff5600 456.5px,#ff5a00)"></i><i style="left:585px;width:3px;background:linear-gradient(#05052e 0,#040438 46.5px,#02025f 58.5px,#0000bd 69.5px,#0003ea 74.5px,#051cff 80.5px,#3169ff 85.5px,#aad6fd 88.5px,#cce8ed 90.5px,#c1ebd5 92.5px,#aeeabe 93.5px,#2fd036 96.5px,#13c818 97.5px,#0bc40c 101.5px,#18c80a 102.5px,#cff900 107.5px,#fffa00 109.5px,#ffc300 112.5px,#fe1402 117.5px,#fa0909 119.5px,#eb2424 125.5px,#da4141 129.5px,#dc3d3d 142.5px,#f71010 148.5px,#ff0900 154.5px,#ff1400 156.5px,#ff9300 161.5px,#ffeb00 167.5px,#f1fd00 171.5px,#c0f700 174.5px,#33d10a 178.5px,#0bc30b 180.5px,#0bc30b 249.5px,#29cd0a 251.5px,#b0f400 256.5px,#dffb00 260.5px,#ddfb00 297.5px,#a8f201 301.5px,#22cb0a 306.5px,#0cc40a 307.5px,#0ac30b 395.5px,#4ed909 397.5px,#adf301 399.5px,#fffc00 402.5px,#ffa600 408.5px,#ff7200 412.5px,#ff8f00 413.5px,#ff3a00 419.5px,#ff1300 422.5px,#f00 437.5px,#ff1700 444.5px,#ff3200 448.5px,#ff3b00 451.5px,#ff5600 456.5px,#ff5a00)"></i><i style="left:588px;width:3px;background:linear-gradient(#05052e 0,#040438 45.5px,#030359 56.5px,#0000b6 67.5px,#0004eb 73.5px,#0720ff 79.5px,#3771ff 84.5px,#91c1ff 86.5px,#b2dbfb 87.5px,#ceeaeb 89.5px,#beebd1 91.5px,#a6e9b5 92.5px,#28ce2e 95.5px,#13c717 96.5px,#0bc40c 100.5px,#18c80a 101.5px,#cdf800 106.5px,#fefc00 108.5px,#ffc700 111.5px,#ff3c00 115.5px,#fe1702 116.5px,#fb0707 117.5px,#f01d1d 123.5px,#d74646 128.5px,#d94343 141.5px,#f61111 147.5px,#ff0500 153.5px,#ff1800 156.5px,#ff9b00 161.5px,#ffe900 166.5px,#fdfe00 169.5px,#d7fa00 172.5px,#99ee02 174.5px,#29cd0a 177.5px,#10c50a 178.5px,#0bc30b 249.5px,#43d60a 252.5px,#b5f500 256.5px,#e2fb00 260.5px,#e0fb00 297.5px,#adf301 301.5px,#25cc0a 306.5px,#0fc50a 307.5px,#0ac30b 395.5px,#4ed909 397.5px,#adf301 399.5px,#fffc00 402.5px,#ffa600 408.5px,#ff7200 412.5px,#ff8e00 413.5px,#ff3900 419.5px,#ff1300 422.5px,#f00 437.5px,#ff1700 444.5px,#ff3100 448.5px,#ff3a00 451.5px,#f50 456.5px,#ff5b00)"></i><i style="left:591px;width:3px;background:linear-gradient(#05052e 0,#040438 45.5px,#02025b 55.5px,#0000b8 66.5px,#0005ec 72.5px,#0822ff 78.5px,#2a5fff 82.5px,#3c76ff 83.5px,#99c8ff 85.5px,#c5e4f2 87.5px,#cfeae9 88.5px,#bcebcf 90.5px,#79e283 92.5px,#25cd2b 94.5px,#13c717 95.5px,#0bc40c 99.5px,#16c70a 100.5px,#82e705 103.5px,#c8f800 105.5px,#fbfe00 107.5px,#ffcd00 110.5px,#ff6a00 113.5px,#fc0707 116.5px,#f01d1d 122.5px,#d44b4b 127.5px,#d54949 140.5px,#f71010 147.5px,#ff0500 153.5px,#ff0e00 155.5px,#ff3c00 157.5px,#ff9100 160.5px,#ffe600 165.5px,#fefe00 168.5px,#d7fa00 171.5px,#95ec03 173.5px,#22cb0a 176.5px,#0cc40a 177.5px,#0ac30a 249.5px,#67e007 253.5px,#b9f600 256.5px,#e4fb00 260.5px,#e3fb00 297.5px,#b3f500 301.5px,#29cd0a 306.5px,#0bc30b 308.5px,#0ac30b 395.5px,#4ed909 397.5px,#adf301 399.5px,#fffc00 402.5px,#ffa600 408.5px,#ff7200 412.5px,#ff8d00 413.5px,#ff3900 419.5px,#ff1300 422.5px,#f00 437.5px,#ff1600 444.5px,#ff3000 448.5px,#ff3900 451.5px,#f50 456.5px,#ff5b00)"></i><i style="left:594px;width:3px;background:linear-gradient(#05052e 0,#040438 44.5px,#02025b 54.5px,#0000ad 64.5px,#0005ec 71.5px,#0822ff 77.5px,#2a5fff 81.5px,#3d77ff 82.5px,#9bcaff 84.5px,#c5e5f1 86.5px,#cfebe8 87.5px,#bcebcf 89.5px,#a4e9b2 90.5px,#29ce30 93.5px,#13c818 94.5px,#10c50a 99.5px,#77e406 102.5px,#dafa00 105.5px,#fff600 107.5px,#ffbc00 110.5px,#fd0b04 115.5px,#f11b1b 121.5px,#d14e4e 127.5px,#d24e4e 139.5px,#f71111 146.5px,#ff0200 152.5px,#f10 155.5px,#ff9b00 160.5px,#ffe200 164.5px,#f4fe00 168.5px,#d7fa00 170.5px,#91ec03 172.5px,#1bc90a 175.5px,#0bc30b 176.5px,#0ac30a 249.5px,#6de206 253.5px,#bdf600 256.5px,#e7fc00 260.5px,#e6fc00 297.5px,#b7f500 301.5px,#2dcf0a 306.5px,#0bc30b 308.5px,#0ac30b 395.5px,#4ed909 397.5px,#adf301 399.5px,#fffc00 402.5px,#ffa600 408.5px,#ff7200 412.5px,#ff8c00 413.5px,#ff1300 422.5px,#f00 437.5px,#ff1f00 445.5px,#ff2f00 449.5px,#ff5800 457.5px,#ff5b00)"></i><i style="left:597px;width:3px;background:linear-gradient(#05052e 0,#040437 43.5px,#03035a 53.5px,#0000ac 63.5px,#0004eb 70.5px,#0720ff 76.5px,#3671ff 81.5px,#93c3ff 83.5px,#b2dbfb 84.5px,#d0eaea 86.5px,#abeaba 89.5px,#14c818 93.5px,#0bc30a 98.5px,#67e007 101.5px,#b4f500 103.5px,#fefd00 106.5px,#ffc900 109.5px,#ff1d00 114.5px,#fb0707 115.5px,#ed2222 121.5px,#d05050 126.5px,#d54949 139.5px,#f61111 145.5px,#ff0400 152.5px,#ff1d00 155.5px,#ff9500 159.5px,#ffe000 163.5px,#f5fe00 167.5px,#d7fa00 169.5px,#8eeb03 171.5px,#16c70a 174.5px,#0cc40d 176.5px,#0bc30a 249.5px,#72e306 253.5px,#c0f700 256.5px,#e9fc00 260.5px,#e2fb00 298.5px,#a5f101 302.5px,#32d00a 306.5px,#0ac30a 308.5px,#0ac30b 395.5px,#4ed909 397.5px,#adf301 399.5px,#fffc00 402.5px,#ffa600 408.5px,#ff7200 412.5px,#ff8b00 413.5px,#ff1300 422.5px,#ff0100 437.5px,#ff1d00 445.5px,#ff2e00 449.5px,#ff5b00)"></i><i style="left:600px;width:3px;background:linear-gradient(#05052e 0,#040438 43.5px,#02025e 53.5px,#0000b2 63.5px,#0003ea 69.5px,#041cff 75.5px,#2e67ff 80.5px,#80b2ff 82.5px,#acd8fe 83.5px,#cce8ee 85.5px,#b7ebc9 88.5px,#1ecb23 92.5px,#0bc40c 97.5px,#13c60a 98.5px,#78e505 101.5px,#d8fa00 104.5px,#fff800 106.5px,#ffbf00 109.5px,#fd0b04 114.5px,#f01d1d 120.5px,#cf5252 125.5px,#d14e4e 138.5px,#f61212 144.5px,#ff0200 151.5px,#ff1300 154.5px,#ff8e00 158.5px,#ffea00 163.5px,#f7fe00 166.5px,#d9fa00 168.5px,#8feb03 170.5px,#14c60a 173.5px,#0dc50f 176.5px,#0ec40a 249.5px,#77e406 253.5px,#c3f700 256.5px,#ebfc00 260.5px,#e5fc00 298.5px,#adf301 302.5px,#21cb0a 307.5px,#0bc30a 308.5px,#0ac30b 395.5px,#4ed909 397.5px,#adf301 399.5px,#fffc00 402.5px,#ffa600 408.5px,#ff7200 412.5px,#ff8b00 413.5px,#ff1400 422.5px,#ff0100 437.5px,#ff1c00 445.5px,#ff2c00 449.5px,#ff5b00)"></i><i style="left:603px;width:3px;background:linear-gradient(#05052e 0,#050536 42.5px,#030359 52.5px,#0000ab 62.5px,#0004eb 69.5px,#061fff 75.5px,#316dff 80.5px,#8fc0ff 82.5px,#b1dbfb 83.5px,#d1ebeb 85.5px,#b1ebc0 88.5px,#14c819 92.5px,#0bc30b 97.5px,#37d20a 99.5px,#c4f700 103.5px,#f6fe00 105.5px,#ffd300 108.5px,#ff7600 111.5px,#fc0606 114.5px,#ee2020 120.5px,#ce5353 125.5px,#ce5353 137.5px,#f71010 144.5px,#ff0300 151.5px,#ff1c00 154.5px,#f90 158.5px,#ffe500 162.5px,#fcff00 165.5px,#defb00 167.5px,#9aee02 169.5px,#19c80a 172.5px,#0bc30b 173.5px,#11c50a 249.5px,#7be605 253.5px,#c6f700 256.5px,#ecfd00 260.5px,#e8fc00 298.5px,#b5f500 302.5px,#27cd0a 307.5px,#11c50a 308.5px,#0ac30b 395.5px,#4ed909 397.5px,#adf301 399.5px,#fffc00 402.5px,#ffa600 408.5px,#ff7200 412.5px,#ff8a00 413.5px,#ff1400 422.5px,#ff0100 437.5px,#ff1c00 445.5px,#ff2c00 449.5px,#ff5b00)"></i><i style="left:606px;width:3px;background:linear-gradient(#05052e 0,#040437 42.5px,#030359 52.5px,#0000ab 62.5px,#0004eb 69.5px,#0720ff 75.5px,#326eff 80.5px,#91c1ff 82.5px,#b2dbfb 83.5px,#d2ebeb 85.5px,#b0ebbf 88.5px,#14c819 92.5px,#0bc30b 97.5px,#38d20a 99.5px,#c5f700 103.5px,#f7fe00 105.5px,#ffd300 108.5px,#ff7500 111.5px,#fc0606 114.5px,#ed2222 120.5px,#cd5454 125.5px,#cd5454 137.5px,#f61313 143.5px,#f00 150.5px,#ff0d00 153.5px,#ff1d00 154.5px,#ff8500 157.5px,#ffe900 162.5px,#f7fe00 165.5px,#d8fa00 167.5px,#85e804 169.5px,#2cce0a 171.5px,#0bc30a 172.5px,#0bc30b 248.5px,#2ace0a 250.5px,#b8f600 255.5px,#eafc00 259.5px,#ebfc00 298.5px,#bbf600 302.5px,#2dcf0a 307.5px,#0bc30b 309.5px,#0ac30b 395.5px,#4ed909 397.5px,#adf301 399.5px,#fffc00 402.5px,#ffa600 408.5px,#ff7200 412.5px,#ff8b00 413.5px,#ff1400 422.5px,#ff0100 437.5px,#ff1d00 445.5px,#ff2d00 449.5px,#ff5b00)"></i><i style="left:609px;width:3px;background:linear-gradient(#05052e 0,#040437 42.5px,#030359 52.5px,#00a 62.5px,#0004eb 69.5px,#061fff 75.5px,#316cff 80.5px,#b0dafc 83.5px,#d0eaec 85.5px,#b2ebc1 88.5px,#14c819 92.5px,#0bc30b 97.5px,#36d20a 99.5px,#c4f700 103.5px,#f6fe00 105.5px,#ffd300 108.5px,#ff7600 111.5px,#fc0606 114.5px,#ed2222 120.5px,#cd5555 125.5px,#cd5555 137.5px,#f61313 143.5px,#f00 150.5px,#ff1600 154.5px,#f90 158.5px,#ffe800 162.5px,#f6fe00 165.5px,#d5f900 167.5px,#7fe705 169.5px,#26cc0a 171.5px,#0ac30a 172.5px,#0bc30b 248.5px,#44d60a 251.5px,#bbf600 255.5px,#ecfd00 259.5px,#e8fc00 299.5px,#abf301 303.5px,#1dc90a 308.5px,#0ac30a 309.5px,#0ac30b 395.5px,#4ed909 397.5px,#adf301 399.5px,#fffc00 402.5px,#ffa600 408.5px,#ff7200 412.5px,#ff8c00 413.5px,#ff1300 422.5px,#ff0100 437.5px,#ff1e00 445.5px,#ff2e00 449.5px,#ff5b00)"></i><i style="left:612px;width:3px;background:linear-gradient(#05052e 0,#040438 43.5px,#02025f 53.5px,#0000b3 63.5px,#0003ea 69.5px,#051cff 75.5px,#2f69ff 80.5px,#add9fd 83.5px,#cde9ed 85.5px,#b5ebc6 88.5px,#19c91f 92.5px,#0bc40c 97.5px,#16c70a 98.5px,#7de605 101.5px,#dcfa00 104.5px,#fff600 106.5px,#fb0 109.5px,#fc0606 114.5px,#ed2121 120.5px,#c55 125.5px,#c55 137.5px,#f71010 144.5px,#f00 151.5px,#f10 154.5px,#ff9400 158.5px,#ffe600 162.5px,#f8fe00 165.5px,#d7fa00 167.5px,#b3f500 168.5px,#4bd80a 170.5px,#0ac30b 172.5px,#0ac30b 248.5px,#47d70a 251.5px,#bdf600 255.5px,#eefd00 259.5px,#ebfc00 299.5px,#b5f500 303.5px,#25cc0a 308.5px,#0ec40a 309.5px,#0ac30b 395.5px,#4ed909 397.5px,#adf301 399.5px,#fffc00 402.5px,#ffa600 408.5px,#ff7200 412.5px,#ff8c00 413.5px,#ff1300 422.5px,#f00 437.5px,#ff1f00 445.5px,#ff2f00 449.5px,#ff5800 457.5px,#ff5b00)"></i><i style="left:615px;width:3px;background:linear-gradient(#05052e 0,#040438 43.5px,#02025d 53.5px,#00b 64.5px,#0003e9 69.5px,#0319ff 75.5px,#2c64ff 80.5px,#4780ff 81.5px,#a7d4ff 83.5px,#c9e7ef 85.5px,#c4ebd9 87.5px,#baebcc 88.5px,#22cc28 92.5px,#11c614 94.5px,#12c60a 98.5px,#79e505 101.5px,#dafa00 104.5px,#fff700 106.5px,#ffbd00 109.5px,#fc0606 114.5px,#ed2121 120.5px,#cc5656 125.5px,#cc5656 137.5px,#f71111 144.5px,#ff0300 152.5px,#ff0d00 154.5px,#ff2000 155.5px,#ff8c00 158.5px,#ffe200 162.5px,#fbfe00 165.5px,#dafa00 167.5px,#b8f500 168.5px,#26cc0a 171.5px,#0ac30b 172.5px,#0ac30b 248.5px,#4bd80a 251.5px,#c0f700 255.5px,#f0fd00 259.5px,#eefd00 299.5px,#bcf600 303.5px,#2dcf0a 308.5px,#0bc30b 310.5px,#0ac30b 395.5px,#4ed909 397.5px,#adf301 399.5px,#fffc00 402.5px,#ffa600 408.5px,#ff7200 412.5px,#ff8d00 413.5px,#ff3900 419.5px,#ff1300 422.5px,#f00 437.5px,#ff1500 444.5px,#ff2f00 448.5px,#ff3900 451.5px,#f50 456.5px,#ff5b00)"></i><i style="left:618px;width:3px;background:linear-gradient(#05052e 0,#040438 43.5px,#02025a 53.5px,#0000ad 63.5px,#0004ec 70.5px,#0721ff 76.5px,#3773ff 81.5px,#97c6ff 83.5px,#c4e4f2 85.5px,#d1ebea 86.5px,#beebd1 88.5px,#a7eab6 89.5px,#2ecf34 92.5px,#13c818 93.5px,#0dc40a 98.5px,#73e306 101.5px,#d7fa00 104.5px,#fff800 106.5px,#ffbf00 109.5px,#ff3200 113.5px,#fc0606 114.5px,#ee2020 120.5px,#cb5757 125.5px,#d04f4f 138.5px,#f61212 144.5px,#f00 152.5px,#ff1400 155.5px,#ff9c00 159.5px,#ffec00 163.5px,#feff00 165.5px,#defb00 167.5px,#bff600 168.5px,#2cce0a 171.5px,#0ac30a 172.5px,#0ac30a 248.5px,#4ed909 251.5px,#c2f700 255.5px,#f1fd00 259.5px,#ebfc00 300.5px,#aef301 304.5px,#1eca0a 309.5px,#0ac30a 310.5px,#0ac30b 395.5px,#4ed909 397.5px,#adf301 399.5px,#fffc00 402.5px,#ffa600 408.5px,#ff7200 412.5px,#ff8e00 413.5px,#ff3900 419.5px,#ff1300 422.5px,#f00 437.5px,#ff1600 444.5px,#ff3100 448.5px,#ff3a00 451.5px,#f50 456.5px,#ff5b00)"></i><i style="left:621px;width:3px;background:linear-gradient(#05052e 0,#040438 43.5px,#030358 53.5px,#0000b3 64.5px,#0003ea 70.5px,#051dff 76.5px,#2f69ff 81.5px,#add9fd 84.5px,#cde9ed 86.5px,#b3ebc3 89.5px,#14c819 93.5px,#0ac30a 98.5px,#43d60a 100.5px,#b9f600 103.5px,#fffa00 106.5px,#ffc200 109.5px,#fe1002 114.5px,#f80d0d 117.5px,#e82929 121.5px,#cb5757 125.5px,#cd5454 138.5px,#f61313 144.5px,#f00 152.5px,#ff0e00 155.5px,#ff4d00 157.5px,#fa0 160.5px,#ffe800 163.5px,#f3fd00 166.5px,#c9f800 168.5px,#0ec40a 172.5px,#0ac30a 248.5px,#72e306 252.5px,#c4f700 255.5px,#f2fd00 259.5px,#effd00 300.5px,#b7f500 304.5px,#26cc0a 309.5px,#0fc50a 310.5px,#0ac30b 395.5px,#4ed909 397.5px,#adf301 399.5px,#fffc00 402.5px,#ffa600 408.5px,#ff7200 412.5px,#ff8f00 413.5px,#ff3a00 419.5px,#ff1300 422.5px,#f00 437.5px,#ff1700 444.5px,#ff3200 448.5px,#ff3b00 451.5px,#f50 456.5px,#ff5a00)"></i><i style="left:624px;width:3px;background:linear-gradient(#05052e 0,#040438 43.5px,#02025c 54.5px,#0000ae 64.5px,#0002e9 70.5px,#0217ff 76.5px,#2b61ff 81.5px,#3f79ff 82.5px,#9fcdff 84.5px,#cfebe7 87.5px,#bbebcd 89.5px,#4cd754 92.5px,#1dcb23 93.5px,#0bc30b 98.5px,#3cd40a 100.5px,#b5f500 103.5px,#fffc00 106.5px,#ffc500 109.5px,#ff1900 114.5px,#fb0707 115.5px,#f01d1d 120.5px,#cb5858 125.5px,#cb5858 138.5px,#f71010 145.5px,#ff0100 153.5px,#ff1700 156.5px,#ff8700 159.5px,#ffe200 163.5px,#f9fe00 166.5px,#d6fa00 168.5px,#78e505 170.5px,#1bc90a 172.5px,#0bc30b 173.5px,#0ac30a 248.5px,#74e406 252.5px,#c6f700 255.5px,#f4fd00 259.5px,#f2fd00 300.5px,#bff600 304.5px,#18c80a 310.5px,#0cc40d 312.5px,#0ac30b 395.5px,#4ed909 397.5px,#adf301 399.5px,#fffc00 402.5px,#ffa600 408.5px,#ff7200 412.5px,#ff8f00 413.5px,#ff4a00 418.5px,#ff1300 422.5px,#ff0101 436.5px,#ff1800 444.5px,#f30 448.5px,#ff3c00 451.5px,#ff5600 456.5px,#ff5a00)"></i><i style="left:627px;width:3px;background:linear-gradient(#05052e 0,#040438 43.5px,#030358 54.5px,#0000b4 65.5px,#0004ea 71.5px,#051dff 77.5px,#306aff 82.5px,#afd9fd 85.5px,#cfe9ed 87.5px,#aeebbd 90.5px,#2fcf35 93.5px,#13c818 94.5px,#0bc40c 98.5px,#15c70a 99.5px,#85e804 102.5px,#cbf800 104.5px,#fffe00 106.5px,#ffc900 109.5px,#ff1d00 114.5px,#fb0707 115.5px,#f01c1c 120.5px,#ca5959 126.5px,#ca5959 138.5px,#f61212 145.5px,#f00 153.5px,#ff0f00 156.5px,#ff9600 160.5px,#ffea00 164.5px,#fffe00 166.5px,#dffb00 168.5px,#c0f700 169.5px,#2bce0a 172.5px,#0ac30a 173.5px,#0bc30a 248.5px,#77e406 252.5px,#b5f500 254.5px,#effd00 258.5px,#f5fe00 300.5px,#c7f800 304.5px,#76e406 307.5px,#0bc30a 311.5px,#0ac30b 395.5px,#4ed909 397.5px,#adf301 399.5px,#fffc00 402.5px,#ffa600 408.5px,#ff7200 412.5px,#ff9000 413.5px,#ff4b00 418.5px,#ff1300 422.5px,#fe0202 435.5px,#ff1200 443.5px,#ff3400 448.5px,#ff3d00 451.5px,#ff5600 456.5px,#ff5a00)"></i><i style="left:630px;width:3px;background:linear-gradient(#05052e 0,#040437 43.5px,#02025c 55.5px,#0000ae 65.5px,#0002e9 71.5px,#0217ff 77.5px,#2b61ff 82.5px,#3f7aff 83.5px,#9fceff 85.5px,#cfebe7 88.5px,#b9ebcb 90.5px,#15c81a 94.5px,#0cc40a 99.5px,#7ae505 102.5px,#c6f700 104.5px,#fdff00 106.5px,#fc0 109.5px,#fc0707 115.5px,#eb2424 121.5px,#c95a5a 126.5px,#cc5656 139.5px,#f51313 145.5px,#f00 153.5px,#ff1a00 157.5px,#ff8b00 160.5px,#ffe400 164.5px,#f7fe00 167.5px,#d1f900 169.5px,#14c60a 173.5px,#0ec510 176.5px,#0cc40a 248.5px,#79e505 252.5px,#c9f800 255.5px,#f6fe00 259.5px,#f2fd00 301.5px,#bdf600 305.5px,#2bce0a 310.5px,#0bc30b 312.5px,#0ac30b 395.5px,#4ed909 397.5px,#adf301 399.5px,#fffc00 402.5px,#ffa600 408.5px,#ff7200 412.5px,#ff9100 413.5px,#ff4b00 418.5px,#ff1300 422.5px,#fe0202 434.5px,#ff1200 443.5px,#ff3500 448.5px,#ff3e00 451.5px,#ff5600 456.5px,#ff5a00)"></i><i style="left:633px;width:3px;background:linear-gradient(#05052e 0,#040438 44.5px,#02025f 56.5px,#0000b3 66.5px,#0003ea 72.5px,#051dff 78.5px,#2f69ff 83.5px,#aed9fd 86.5px,#cee9ed 88.5px,#bfebd3 90.5px,#abeaba 91.5px,#26cd2c 94.5px,#13c717 95.5px,#0bc30b 99.5px,#43d60a 101.5px,#c0f700 104.5px,#f8fe00 106.5px,#ffd000 109.5px,#ff7000 112.5px,#fc0606 115.5px,#ec2222 121.5px,#c95b5b 126.5px,#c95a5a 139.5px,#f61111 146.5px,#f00 154.5px,#ff1000 157.5px,#ff9800 161.5px,#ffeb00 165.5px,#fefe00 167.5px,#ddfb00 169.5px,#bdf600 170.5px,#27cd0a 173.5px,#0ac30b 174.5px,#0ec40a 248.5px,#5add08 251.5px,#b8f600 254.5px,#f1fd00 258.5px,#f6fe00 301.5px,#c5f700 305.5px,#71e306 308.5px,#1dc90a 311.5px,#0ac30a 312.5px,#0ac30b 395.5px,#4ed909 397.5px,#adf301 399.5px,#fffc00 402.5px,#ffa600 408.5px,#ff7200 412.5px,#ff9100 413.5px,#ff4b00 418.5px,#ff1300 422.5px,#fe0202 434.5px,#ff1300 443.5px,#ff3600 448.5px,#ff3f00 451.5px,#ff5700 456.5px,#ff5a00)"></i><i style="left:636px;width:3px;background:linear-gradient(#05052e 0,#040438 44.5px,#02025c 56.5px,#0000b8 67.5px,#0005ec 73.5px,#0822ff 79.5px,#2a60ff 83.5px,#3c76ff 84.5px,#9ccaff 86.5px,#c5e5f1 88.5px,#d0ebe8 89.5px,#b9ebcb 91.5px,#14c818 95.5px,#0bc40c 99.5px,#18c80a 100.5px,#b9f600 104.5px,#f3fd00 106.5px,#ffe400 108.5px,#ff9a00 111.5px,#fc0606 115.5px,#ed2121 121.5px,#c85b5b 126.5px,#cd5454 140.5px,#f61313 146.5px,#f00 154.5px,#ff0c00 157.5px,#ff1c00 158.5px,#ff8c00 161.5px,#ffe500 165.5px,#f6fe00 168.5px,#cff900 170.5px,#12c60a 174.5px,#0fc50a 248.5px,#5cdd08 251.5px,#b9f600 254.5px,#f3fd00 258.5px,#f8fe00 301.5px,#cdf800 305.5px,#80e705 308.5px,#27cd0a 311.5px,#10c50a 312.5px,#0ac30b 395.5px,#4ed909 397.5px,#adf301 399.5px,#fffc00 402.5px,#ffa600 408.5px,#ff7200 412.5px,#ff9000 413.5px,#ff4b00 418.5px,#ff1300 422.5px,#fe0202 435.5px,#ff1200 443.5px,#ff3400 448.5px,#ff3d00 451.5px,#ff5600 456.5px,#ff5a00)"></i><i style="left:639px;width:3px;background:linear-gradient(#05052e 0,#040438 44.5px,#03035a 56.5px,#0000bd 68.5px,#0003ea 73.5px,#041cff 79.5px,#2f68ff 84.5px,#acd8fe 87.5px,#cce8ee 89.5px,#c0ebd4 91.5px,#aaeab9 92.5px,#1fcb24 95.5px,#0ec510 98.5px,#0dc40a 100.5px,#85e804 103.5px,#cff900 105.5px,#fff800 107.5px,#ffc000 110.5px,#fd0b04 115.5px,#ef1f1f 121.5px,#c75d5d 127.5px,#c85b5b 140.5px,#f61111 147.5px,#f00 155.5px,#f10 158.5px,#f90 162.5px,#ffec00 166.5px,#fefe00 168.5px,#ddfa00 170.5px,#bbf600 171.5px,#26cc0a 174.5px,#0ac30b 175.5px,#10c50a 248.5px,#5ede08 251.5px,#bbf600 254.5px,#f4fd00 258.5px,#f7fe00 302.5px,#c3f700 306.5px,#6de206 309.5px,#1ac80a 312.5px,#0ac30b 313.5px,#0ac30b 395.5px,#4ed909 397.5px,#adf301 399.5px,#fffc00 402.5px,#ffa600 408.5px,#ff7200 412.5px,#ff8e00 413.5px,#ff3900 419.5px,#ff1300 422.5px,#f00 437.5px,#ff1600 444.5px,#ff3100 448.5px,#ff3a00 451.5px,#f50 456.5px,#ff5b00)"></i><i style="left:642px;width:3px;background:linear-gradient(#05052e 0,#040438 45.5px,#02025e 57.5px,#00c 70.5px,#0007ef 75.5px,#0721ff 80.5px,#3873ff 85.5px,#97c6ff 87.5px,#c4e4f2 89.5px,#d0ebe9 90.5px,#b9ebcb 92.5px,#36d13c 95.5px,#13c818 96.5px,#0bc30b 100.5px,#48d70a 102.5px,#a6f101 104.5px,#fffc00 107.5px,#ffc500 110.5px,#ff1900 115.5px,#fb0707 116.5px,#f01d1d 121.5px,#c65f5f 127.5px,#c65f5f 140.5px,#f61313 147.5px,#f00 155.5px,#ff0c00 158.5px,#ff1d00 159.5px,#ff8d00 162.5px,#ffe500 166.5px,#f6fe00 169.5px,#cef800 171.5px,#11c50a 175.5px,#10c50a 248.5px,#60de08 251.5px,#bcf600 254.5px,#f5fe00 258.5px,#f9fe00 302.5px,#ccf800 306.5px,#7de605 309.5px,#25cc0a 312.5px,#0ec40a 313.5px,#0ac30b 395.5px,#4ed909 397.5px,#adf301 399.5px,#fffc00 402.5px,#ffa600 408.5px,#ff7200 412.5px,#ff8c00 413.5px,#ff1300 422.5px,#ff0100 437.5px,#ff1e00 445.5px,#ff2e00 449.5px,#ff5b00)"></i><i style="left:645px;width:3px;background:linear-gradient(#05052e 0,#040438 45.5px,#02025b 57.5px,#0000d0 71.5px,#0009f1 76.5px,#0a26ff 81.5px,#2d65ff 85.5px,#4b84ff 86.5px,#a8d5fe 88.5px,#cae7ef 90.5px,#c1ebd5 92.5px,#aceabb 93.5px,#1cca21 96.5px,#0bc40c 100.5px,#16c70a 101.5px,#bef600 105.5px,#fbfe00 107.5px,#fc0 110.5px,#ff6900 113.5px,#fc0707 116.5px,#f11a1a 121.5px,#c46161 127.5px,#c75d5d 141.5px,#f61111 148.5px,#f00 156.5px,#f10 159.5px,#f90 163.5px,#ffeb00 167.5px,#fdfe00 169.5px,#ddfa00 171.5px,#bcf600 172.5px,#26cc0a 175.5px,#0ac30b 176.5px,#11c50a 248.5px,#61de08 251.5px,#bdf600 254.5px,#f6fe00 258.5px,#fbff00 302.5px,#d4f900 306.5px,#8cea04 309.5px,#30d00a 312.5px,#0bc30b 314.5px,#0ac30b 395.5px,#4ed909 397.5px,#adf301 399.5px,#fffc00 402.5px,#ffa600 408.5px,#ff7200 412.5px,#ff8900 413.5px,#ff1400 422.5px,#ff0100 437.5px,#ff1b00 445.5px,#ff2a00 449.5px,#ff5b00)"></i><i style="left:648px;width:3px;background:linear-gradient(#05052e 0,#040437 45.5px,#030358 57.5px,#0000d5 72.5px,#0014fe 80.5px,#2759ff 85.5px,#326cff 86.5px,#b0dafc 89.5px,#cfeaec 91.5px,#bcebcf 93.5px,#6be075 95.5px,#13c818 97.5px,#0bc30b 101.5px,#4ed909 103.5px,#aef301 105.5px,#eefd00 107.5px,#fff700 108.5px,#ffbd00 111.5px,#fd0b04 116.5px,#f41616 121.5px,#c36363 128.5px,#c36363 141.5px,#f71010 149.5px,#f00 156.5px,#ff1a00 160.5px,#ff8a00 163.5px,#ffe400 167.5px,#f7fe00 170.5px,#d1f900 172.5px,#71e306 174.5px,#15c70a 176.5px,#0ec510 179.5px,#12c60a 248.5px,#62df07 251.5px,#bef600 254.5px,#f7fe00 258.5px,#fbfe00 303.5px,#ccf800 307.5px,#7be505 310.5px,#23cb0a 313.5px,#0cc40a 314.5px,#0ac30b 395.5px,#4ed909 397.5px,#adf301 399.5px,#fffc00 402.5px,#ffa600 408.5px,#ff7200 412.5px,#ff8700 413.5px,#ff1400 422.5px,#ff0300 438.5px,#ff3100 451.5px,#ff5700 457.5px,#ff5b00)"></i><i style="left:651px;width:3px;background:linear-gradient(#05052e 0,#040438 46.5px,#02025b 58.5px,#0005ec 76.5px,#0721ff 82.5px,#295eff 86.5px,#3974ff 87.5px,#98c7ff 89.5px,#c4e4f2 91.5px,#cfebe9 92.5px,#b6ebc8 94.5px,#29ce2f 97.5px,#13c717 98.5px,#12c60a 102.5px,#bdf600 106.5px,#fbfe00 108.5px,#fc0 111.5px,#fc0707 117.5px,#f01c1c 122.5px,#c26565 128.5px,#c36363 142.5px,#f61212 149.5px,#f00 157.5px,#ff0f00 160.5px,#ff4e00 162.5px,#ffac00 165.5px,#ffe900 168.5px,#fffd00 170.5px,#e1fb00 172.5px,#c4f700 173.5px,#2fcf0a 176.5px,#0cc40a 177.5px,#12c60a 248.5px,#63df07 251.5px,#bff600 254.5px,#f8fe00 258.5px,#f9fe00 304.5px,#c2f700 308.5px,#2ecf0a 313.5px,#0bc30b 315.5px,#0ac30b 395.5px,#4ed909 397.5px,#adf301 399.5px,#fffc00 402.5px,#ffa600 408.5px,#ff7200 412.5px,#ff8500 413.5px,#ff1500 422.5px,#ff0300 438.5px,#ff2e00 451.5px,#ff5b00)"></i><i style="left:654px;width:3px;background:linear-gradient(#05052e 0,#040437 46.5px,#030357 58.5px,#0000d4 73.5px,#0012fc 81.5px,#2150ff 86.5px,#427cff 88.5px,#a0ceff 90.5px,#c7e6f0 92.5px,#ceebe6 93.5px,#afeabf 95.5px,#1ecb23 98.5px,#0bc40c 102.5px,#1cc90a 103.5px,#c8f800 107.5px,#fffb00 109.5px,#ffc300 112.5px,#fe1302 117.5px,#fa0b0b 119.5px,#ee2020 123.5px,#bf6868 129.5px,#c46161 143.5px,#f61212 150.5px,#f00 158.5px,#ff1200 161.5px,#ff9b00 165.5px,#ffec00 169.5px,#fcfe00 171.5px,#dbfa00 173.5px,#b8f500 174.5px,#23cb0a 177.5px,#0bc30b 178.5px,#13c60a 248.5px,#64df07 251.5px,#c0f700 254.5px,#f9fe00 258.5px,#fffe00 291.5px,#f6fe00 305.5px,#b8f600 309.5px,#21cb0a 314.5px,#0bc30a 315.5px,#0ac30b 395.5px,#4ed909 397.5px,#adf301 399.5px,#fffc00 402.5px,#ffa600 408.5px,#ff7200 412.5px,#ff8200 413.5px,#ff1600 422.5px,#ff0300 438.5px,#ff2b00 451.5px,#ff5b00)"></i><i style="left:657px;width:3px;background:linear-gradient(#05052e 0,#040438 47.5px,#02025a 59.5px,#0004eb 77.5px,#031aff 83.5px,#2d65ff 88.5px,#4982ff 89.5px,#a6d3fe 91.5px,#cae7ef 93.5px,#c0ebd4 95.5px,#a8eab7 96.5px,#18c91d 99.5px,#0bc30b 103.5px,#4bd809 105.5px,#adf301 107.5px,#effd00 109.5px,#ffe500 111.5px,#ff9c00 114.5px,#fd0c04 118.5px,#f21919 123.5px,#bd6b6b 130.5px,#bd6b6b 143.5px,#f71111 151.5px,#ff0100 159.5px,#ff1800 162.5px,#f80 165.5px,#ffe200 169.5px,#f9fe00 172.5px,#d4f900 174.5px,#75e406 176.5px,#18c80a 178.5px,#0cc40e 180.5px,#0bc30b 247.5px,#2bce0a 249.5px,#c0f700 254.5px,#fafe00 258.5px,#fffa00 289.5px,#fafe00 305.5px,#c2f700 309.5px,#2dcf0a 314.5px,#0bc30b 316.5px,#0ac30b 395.5px,#4ed909 397.5px,#adf301 399.5px,#fffc00 402.5px,#ffa600 408.5px,#ff7200 412.5px,#ff8000 413.5px,#ff1800 422.5px,#ff0300 438.5px,#ff2700 451.5px,#ff5b00)"></i><i style="left:660px;width:3px;background:linear-gradient(#05052e 0,#040438 48.5px,#02025d 60.5px,#0002e9 77.5px,#041bff 84.5px,#2e66ff 89.5px,#7eb0ff 91.5px,#a9d5fe 92.5px,#cbe8ee 94.5px,#bfebd3 96.5px,#a3e9b1 97.5px,#16c81a 100.5px,#0cc40b 104.5px,#53da09 106.5px,#b4f400 108.5px,#f5fe00 110.5px,#ffd000 113.5px,#ff7100 116.5px,#fc0606 119.5px,#f01c1c 124.5px,#be6a6a 130.5px,#bc6d6d 144.5px,#f41515 151.5px,#f00 159.5px,#ff0d00 162.5px,#ff1e00 163.5px,#ff8d00 166.5px,#ffe600 170.5px,#f5fe00 173.5px,#cdf800 175.5px,#38d20a 178.5px,#12c60a 179.5px,#12c60a 248.5px,#64df07 251.5px,#c0f700 254.5px,#fafe00 258.5px,#fff300 282.5px,#f8fe00 306.5px,#baf600 310.5px,#23cb0a 315.5px,#0cc40a 316.5px,#0ac30b 395.5px,#4ed909 397.5px,#adf301 399.5px,#fffc00 402.5px,#ffa600 408.5px,#ff7200 412.5px,#ff7c00 413.5px,#ff1900 422.5px,#ff0300 438.5px,#ff2400 451.5px,#ff5c00)"></i><i style="left:663px;width:3px;background:linear-gradient(#05052e 0,#040437 48.5px,#030359 60.5px,#0000d6 75.5px,#0013fe 84.5px,#2556ff 89.5px,#2f68ff 90.5px,#abd6fd 93.5px,#cce8ee 95.5px,#beebd1 97.5px,#a0e9ad 98.5px,#14c819 101.5px,#0ec40a 105.5px,#58dc08 107.5px,#b8f500 109.5px,#f8fd00 111.5px,#ffcd00 114.5px,#ff6b00 117.5px,#fc0707 120.5px,#ef1f1f 125.5px,#ba6f6f 131.5px,#bb6f6f 145.5px,#f51414 152.5px,#f00 160.5px,#ff0e00 163.5px,#ff4b00 165.5px,#fa0 168.5px,#ffe800 171.5px,#fffc00 173.5px,#e2fb00 175.5px,#c7f700 176.5px,#32d00a 179.5px,#0ec40a 180.5px,#10c50a 248.5px,#61de08 251.5px,#bff600 254.5px,#fafe00 258.5px,#fff300 281.5px,#fff200 288.5px,#fdff00 306.5px,#c8f800 310.5px,#71e306 313.5px,#1bc90a 316.5px,#0ac30b 317.5px,#0ac30b 395.5px,#4ed909 397.5px,#adf301 399.5px,#fffc00 402.5px,#ffa600 408.5px,#ff7200 412.5px,#ff7900 413.5px,#ff1a00 422.5px,#ff0400 439.5px,#ff2100 451.5px,#ff5c00)"></i><i style="left:666px;width:3px;background:linear-gradient(#05052e 0,#040438 49.5px,#02025b 61.5px,#0004eb 79.5px,#051cff 86.5px,#2f69ff 91.5px,#acd7fd 94.5px,#cde8ed 96.5px,#bdebd0 98.5px,#9de8ab 99.5px,#3ad341 101.5px,#13c818 102.5px,#0fc50a 106.5px,#5cdd08 108.5px,#bbf600 110.5px,#f9fd00 112.5px,#fc0 115.5px,#fb0707 121.5px,#ed2121 126.5px,#b87373 132.5px,#b97171 146.5px,#f51414 153.5px,#f00 161.5px,#ff0f00 164.5px,#ff5000 166.5px,#ffad00 169.5px,#ffe900 172.5px,#fefd00 174.5px,#e0fb00 176.5px,#c2f700 177.5px,#2dcf0a 180.5px,#0dc40a 181.5px,#0cc40a 248.5px,#5cdd08 251.5px,#bcf600 254.5px,#fafe00 258.5px,#fff300 280.5px,#ffec00 287.5px,#fffd00 299.5px,#fdff00 307.5px,#c5f700 311.5px,#17c70a 317.5px,#0cc40d 319.5px,#0ac30b 395.5px,#4ed909 397.5px,#adf301 399.5px,#fffc00 402.5px,#ffa600 408.5px,#ff7200 412.5px,#ff6e00 414.5px,#ff1b00 422.5px,#ff0400 439.5px,#ff1500 450.5px,#ff5c00)"></i><i style="left:669px;width:3px;background:linear-gradient(#05052e 0,#040437 49.5px,#02025d 62.5px,#0002e9 79.5px,#051cff 87.5px,#2f69ff 92.5px,#acd7fd 95.5px,#cde9ed 97.5px,#bdebd0 99.5px,#9ce8aa 100.5px,#38d240 102.5px,#13c818 103.5px,#10c50a 107.5px,#5edd08 109.5px,#bcf600 111.5px,#fafd00 113.5px,#ffcb00 116.5px,#fb0707 122.5px,#ec2323 127.5px,#b57676 133.5px,#b87373 147.5px,#f51414 154.5px,#f00 162.5px,#ff1000 165.5px,#ff9700 169.5px,#ffea00 173.5px,#fefd00 175.5px,#defb00 177.5px,#bff600 178.5px,#2ace0a 181.5px,#0cc40b 182.5px,#0ac30a 248.5px,#55db09 251.5px,#b8f600 254.5px,#f9fe00 258.5px,#fff100 280.5px,#ffe500 286.5px,#fffc00 297.5px,#fdff00 308.5px,#c3f700 312.5px,#2cce0a 317.5px,#0bc30b 319.5px,#0ac30b 395.5px,#4ed909 397.5px,#adf301 399.5px,#fffc00 402.5px,#ffa600 408.5px,#ff7200 412.5px,#ff7800 413.5px,#ff1a00 422.5px,#ff0400 439.5px,#ff2100 451.5px,#ff5c00)"></i><i style="left:672px;width:3px;background:linear-gradient(#05052e 0,#040437 50.5px,#030358 62.5px,#0000d5 77.5px,#0006ed 82.5px,#051cff 88.5px,#2f69ff 93.5px,#acd7fd 96.5px,#cde9ed 98.5px,#bdebd0 100.5px,#9ce8aa 101.5px,#38d23f 103.5px,#13c818 104.5px,#10c50a 108.5px,#5fde08 110.5px,#bef600 112.5px,#fbfd00 114.5px,#ffca00 117.5px,#ff4000 121.5px,#fe1a02 122.5px,#fb0707 123.5px,#eb2424 128.5px,#b37979 134.5px,#b67676 148.5px,#f51515 155.5px,#f00 163.5px,#ff1000 166.5px,#ff9800 170.5px,#ffeb00 174.5px,#fdfe00 176.5px,#ddfb00 178.5px,#bdf600 179.5px,#28cd0a 182.5px,#0cc40b 183.5px,#0bc30b 248.5px,#4cd909 251.5px,#b2f400 254.5px,#f7fe00 258.5px,#fff300 279.5px,#ffe100 286.5px,#fffb00 296.5px,#fefe00 309.5px,#c3f700 313.5px,#2cce0a 318.5px,#0bc30b 320.5px,#0ac30b 395.5px,#4ed909 397.5px,#adf301 399.5px,#fffc00 402.5px,#ffa600 408.5px,#ff7200 412.5px,#ff7a00 413.5px,#ff1900 422.5px,#ff0400 439.5px,#f20 451.5px,#ff5c00)"></i><i style="left:675px;width:3px;background:linear-gradient(#05052e 0,#040438 51.5px,#03035a 63.5px,#0000d7 78.5px,#0006ee 83.5px,#051cff 89.5px,#2f69ff 94.5px,#abd7fd 97.5px,#cde8ed 99.5px,#bdebd0 101.5px,#9ce8aa 102.5px,#38d23f 104.5px,#13c818 105.5px,#11c50a 109.5px,#60de08 111.5px,#bff600 113.5px,#fcfc00 115.5px,#ffc900 118.5px,#ff3e00 122.5px,#fe1902 123.5px,#fb0707 124.5px,#ea2626 129.5px,#b27c7c 135.5px,#b47878 149.5px,#f41515 156.5px,#f00 164.5px,#f10 167.5px,#ff9800 171.5px,#ffeb00 175.5px,#fdfe00 177.5px,#ddfa00 179.5px,#bdf600 180.5px,#28cd0a 183.5px,#0cc40b 184.5px,#12c60a 249.5px,#65df07 252.5px,#c2f700 255.5px,#ff0 259.5px,#fff100 279.5px,#ffda00 285.5px,#fffa00 295.5px,#f6fe00 311.5px,#adf301 315.5px,#2dcf0a 319.5px,#0bc30b 321.5px,#0ac30b 395.5px,#4ed909 397.5px,#adf301 399.5px,#fffc00 402.5px,#ffa600 408.5px,#ff7200 412.5px,#ff7c00 413.5px,#ff1900 422.5px,#ff0300 438.5px,#ff2400 451.5px,#ff5c00)"></i><i style="left:678px;width:3px;background:linear-gradient(#05052e 0,#040438 52.5px,#02025c 64.5px,#0004eb 82.5px,#041cff 90.5px,#2f68ff 95.5px,#abd7fd 98.5px,#cde8ee 100.5px,#bdebd0 102.5px,#9de8aa 103.5px,#38d23e 105.5px,#13c818 106.5px,#11c60a 110.5px,#62df07 112.5px,#c0f700 114.5px,#fcfc00 116.5px,#ffc700 119.5px,#fe1802 124.5px,#fb0808 125.5px,#f11b1b 129.5px,#b17f7f 136.5px,#b37b7b 150.5px,#f41616 157.5px,#f00 164.5px,#ff1000 168.5px,#ff9700 172.5px,#ffea00 176.5px,#fdfd00 178.5px,#defb00 180.5px,#bef600 181.5px,#29cd0a 184.5px,#0cc40b 185.5px,#0bc30a 249.5px,#59dc08 252.5px,#bcf600 255.5px,#fdff00 259.5px,#fff000 279.5px,#ffd600 285.5px,#fff900 295.5px,#f8fe00 312.5px,#b0f401 316.5px,#30d00a 320.5px,#0bc30b 322.5px,#0ac30b 395.5px,#4ed909 397.5px,#adf301 399.5px,#fffc00 402.5px,#ffa600 408.5px,#ff7200 412.5px,#ff7e00 413.5px,#ff1800 422.5px,#ff0300 438.5px,#ff2600 451.5px,#ff5b00)"></i><i style="left:681px;width:3px;background:linear-gradient(#05052e 0,#040437 52.5px,#02025d 65.5px,#0002e9 82.5px,#041cff 91.5px,#2f68ff 96.5px,#abd6fd 99.5px,#cde8ee 101.5px,#bdebd0 103.5px,#9ce8aa 104.5px,#36d23d 106.5px,#13c818 107.5px,#13c60a 111.5px,#65df07 113.5px,#c2f700 115.5px,#fdfb00 117.5px,#ffc500 120.5px,#fe1602 125.5px,#fb0808 126.5px,#ef1d1d 130.5px,#b08383 137.5px,#b17f7f 151.5px,#f31717 158.5px,#f00 165.5px,#ff1000 169.5px,#ff9600 173.5px,#ffea00 177.5px,#fdfd00 179.5px,#dffb00 181.5px,#c0f700 182.5px,#2bce0a 185.5px,#0dc40b 186.5px,#0bc30b 249.5px,#4dd909 252.5px,#b4f500 255.5px,#fafe00 259.5px,#fe0 279.5px,#ffd200 285.5px,#fff800 295.5px,#fafe00 313.5px,#b4f500 317.5px,#33d10a 321.5px,#0bc30b 323.5px,#0ac30b 395.5px,#4ed909 397.5px,#adf301 399.5px,#fffc00 402.5px,#ffa600 408.5px,#ff7200 412.5px,#ff8000 413.5px,#ff1700 422.5px,#ff0300 438.5px,#ff2800 451.5px,#ff5b00)"></i><i style="left:684px;width:3px;background:linear-gradient(#05052e 0,#040437 53.5px,#030358 65.5px,#0000d5 80.5px,#0006ed 85.5px,#041cff 92.5px,#2e67ff 97.5px,#aad6fd 100.5px,#cce8ee 102.5px,#bdebd0 104.5px,#9de8ab 105.5px,#37d23d 107.5px,#13c818 108.5px,#14c60a 112.5px,#68e007 114.5px,#c4f700 116.5px,#fefa00 118.5px,#ffc300 121.5px,#fe1402 126.5px,#f90c0c 128.5px,#e62c2c 132.5px,#af8787 138.5px,#b08383 152.5px,#f21a1a 159.5px,#f00 166.5px,#ff0e00 170.5px,#ff4c00 172.5px,#ffab00 175.5px,#ffe800 178.5px,#f2fd00 181.5px,#c6f700 183.5px,#31d00a 186.5px,#10c50a 187.5px,#10c50a 250.5px,#63df07 253.5px,#c2f700 256.5px,#fffe00 260.5px,#ffed00 279.5px,#ffce00 285.5px,#fff600 294.5px,#fcfe00 314.5px,#b9f500 318.5px,#1eca0a 323.5px,#0cc40a 324.5px,#0ac30b 395.5px,#4ed909 397.5px,#adf301 399.5px,#fffc00 402.5px,#ffa600 408.5px,#ff7200 412.5px,#ff8200 413.5px,#ff1700 422.5px,#ff0300 438.5px,#ff2a00 451.5px,#ff5b00)"></i><i style="left:687px;width:3px;background:linear-gradient(#05052e 0,#040437 54.5px,#030359 66.5px,#0000d7 81.5px,#0006ed 86.5px,#041aff 93.5px,#2d65ff 98.5px,#4b84ff 99.5px,#a7d3fe 101.5px,#cae7ef 103.5px,#bfebd2 105.5px,#a1e9af 106.5px,#3bd342 108.5px,#14c819 109.5px,#13c60a 113.5px,#66e007 115.5px,#c4f700 117.5px,#fefa00 119.5px,#ffc300 122.5px,#fe1502 127.5px,#f90c0c 129.5px,#ee2020 132.5px,#ad8a8a 139.5px,#ae8989 153.5px,#f51414 161.5px,#f00 168.5px,#ff0c00 171.5px,#ff1b00 172.5px,#ffa200 176.5px,#ffe200 179.5px,#f8fe00 182.5px,#d1f900 184.5px,#74e406 186.5px,#19c80a 188.5px,#0cc40e 190.5px,#0ac30a 250.5px,#55db09 253.5px,#baf600 256.5px,#feff00 260.5px,#ffeb00 279.5px,#ffca00 285.5px,#fff400 294.5px,#fefe00 315.5px,#bdf600 319.5px,#22cb0a 324.5px,#0dc40a 325.5px,#0ac30b 395.5px,#4ed909 397.5px,#adf301 399.5px,#fffc00 402.5px,#ffa600 408.5px,#ff7200 412.5px,#ff8400 413.5px,#ff1600 422.5px,#ff0300 438.5px,#ff2c00 451.5px,#ff5b00)"></i><i style="left:690px;width:3px;background:linear-gradient(#05052e 0,#040438 55.5px,#02025b 67.5px,#0004eb 85.5px,#0218ff 94.5px,#2c62ff 99.5px,#447dff 100.5px,#a0cefe 102.5px,#c8e6f0 104.5px,#cdebe5 105.5px,#a7e9b6 107.5px,#17c91c 110.5px,#11c50a 114.5px,#62df07 116.5px,#c2f700 118.5px,#fdfa00 120.5px,#ffc400 123.5px,#fe1602 128.5px,#fb0808 129.5px,#ee2020 133.5px,#ac8d8d 140.5px,#ab8f8f 154.5px,#f61212 163.5px,#f00 170.5px,#f10 173.5px,#ff5000 175.5px,#ffad00 178.5px,#ffe900 181.5px,#f0fd00 184.5px,#c1f600 186.5px,#2dcf0a 189.5px,#10c50b 190.5px,#0bc30b 250.5px,#2dcf0a 252.5px,#c8f800 257.5px,#fafe00 260.5px,#fff000 278.5px,#ffc700 285.5px,#fff300 294.5px,#f6fe00 317.5px,#a6f101 321.5px,#26cc0a 325.5px,#10c50a 326.5px,#0ac30b 395.5px,#4ed909 397.5px,#adf301 399.5px,#fffc00 402.5px,#ffa600 408.5px,#ff7200 412.5px,#ff8500 413.5px,#ff1500 422.5px,#ff0300 438.5px,#ff2e00 451.5px,#ff5b00)"></i><i style="left:693px;width:3px;background:linear-gradient(#05052e 0,#040437 55.5px,#02025c 68.5px,#0004eb 86.5px,#0216ff 95.5px,#295eff 100.5px,#3c76ff 101.5px,#98c7ff 103.5px,#c4e4f2 105.5px,#ceeae8 106.5px,#afeabf 108.5px,#1bca20 111.5px,#0fc50b 115.5px,#5bdd08 117.5px,#bef600 119.5px,#fcfb00 121.5px,#ffc700 124.5px,#fe1802 129.5px,#fb0808 130.5px,#ee2020 134.5px,#ac8e8e 141.5px,#ab9090 156.5px,#f31717 164.5px,#f00 171.5px,#ff1700 175.5px,#ff9d00 179.5px,#ffed00 183.5px,#ebfc00 186.5px,#b2f301 188.5px,#20ca0a 191.5px,#0cc40b 192.5px,#0cc40a 251.5px,#5ddd08 254.5px,#bff700 257.5px,#fffd00 261.5px,#ffea00 279.5px,#ffc600 285.5px,#fff200 295.5px,#f9fe00 318.5px,#abf201 322.5px,#29cd0a 326.5px,#11c50a 327.5px,#0ac30b 395.5px,#4ed909 397.5px,#adf301 399.5px,#fffc00 402.5px,#ffa600 408.5px,#ff7200 412.5px,#ff8600 413.5px,#ff1500 422.5px,#ff0300 438.5px,#ff3000 451.5px,#ff5600 457.5px,#ff5b00)"></i><i style="left:696px;width:3px;background:linear-gradient(#05052e 0,#040437 56.5px,#02025e 69.5px,#0002e9 86.5px,#0114fe 96.5px,#275aff 101.5px,#356eff 102.5px,#b0dafc 105.5px,#cde9eb 107.5px,#b6ebc8 109.5px,#24cc29 112.5px,#10c612 114.5px,#0dc40b 116.5px,#27cd0a 117.5px,#b8f500 120.5px,#f9fc00 122.5px,#ffca00 125.5px,#ff4000 129.5px,#fe1b02 130.5px,#fb0707 131.5px,#ef1e1e 135.5px,#ac8e8e 142.5px,#a89898 147.5px,#ab9090 158.5px,#f41515 166.5px,#f00 173.5px,#ff0c00 176.5px,#ff1d00 177.5px,#ffa300 181.5px,#ffe300 184.5px,#f7fd00 187.5px,#cff900 189.5px,#1ac80a 193.5px,#0bc40c 194.5px,#0ac30b 251.5px,#4fd909 254.5px,#b7f500 257.5px,#feff00 261.5px,#ffea00 279.5px,#ffc600 285.5px,#fff400 297.5px,#fbfe00 319.5px,#aef301 323.5px,#2bce0a 327.5px,#13c60a 328.5px,#0ac30b 395.5px,#4ed909 397.5px,#adf301 399.5px,#fffc00 402.5px,#ffa600 408.5px,#ff7200 412.5px,#f80 413.5px,#ff1400 422.5px,#ff0300 438.5px,#f20 446.5px,#ff3200 451.5px,#ff5700 457.5px,#ff5b00)"></i><i style="left:699px;width:3px;background:linear-gradient(#05052e 0,#040437 57.5px,#02025f 70.5px,#0003e9 87.5px,#0013fd 97.5px,#2455ff 102.5px,#2f67ff 103.5px,#a8d4fd 106.5px,#cbe8ee 108.5px,#bcebcf 110.5px,#99e8a6 111.5px,#2dcf34 113.5px,#13c717 114.5px,#0bc40c 117.5px,#20ca0a 118.5px,#b1f401 121.5px,#f5fd00 123.5px,#ffcd00 126.5px,#ff6c00 129.5px,#fb0707 132.5px,#f01c1c 136.5px,#a79a9a 144.5px,#a79a9a 159.5px,#f51414 168.5px,#f00 175.5px,#ff0e00 178.5px,#ff4700 180.5px,#ffa700 183.5px,#ffe600 186.5px,#f4fe00 189.5px,#c9f800 191.5px,#37d20a 194.5px,#15c70a 195.5px,#0ec510 198.5px,#10c50a 252.5px,#66e007 255.5px,#c5f700 258.5px,#fafe00 261.5px,#ffea00 279.5px,#ffc700 285.5px,#fff500 299.5px,#fbfe00 320.5px,#b0f401 324.5px,#2cce0a 328.5px,#0bc30b 330.5px,#0ac30b 395.5px,#4ed909 397.5px,#adf301 399.5px,#fffc00 402.5px,#ffa600 408.5px,#ff7200 412.5px,#ff8900 413.5px,#ff1400 422.5px,#ff0100 437.5px,#ff1b00 445.5px,#ff2a00 449.5px,#ff5b00)"></i><i style="left:702px;width:3px;background:linear-gradient(#05052e 0,#040437 58.5px,#030359 70.5px,#0000d6 85.5px,#0006ed 90.5px,#0218ff 99.5px,#2b62ff 104.5px,#437dff 105.5px,#9fcdfe 107.5px,#c7e6f0 109.5px,#cdebe5 110.5px,#c1ebd5 111.5px,#a5e9b3 112.5px,#3cd343 114.5px,#15c819 115.5px,#0cc40c 118.5px,#18c80a 119.5px,#cff900 123.5px,#f2fd00 124.5px,#ffe300 126.5px,#ff9700 129.5px,#fd0c05 133.5px,#f11a1a 137.5px,#a79a9a 145.5px,#a89a9a 161.5px,#f01c1c 169.5px,#f00 176.5px,#ff1000 180.5px,#ff4d00 182.5px,#ffab00 185.5px,#ffe800 188.5px,#f1fd00 191.5px,#c3f700 193.5px,#30d00a 196.5px,#12c60b 197.5px,#0ac30a 252.5px,#59dc08 255.5px,#bdf600 258.5px,#fffd00 262.5px,#ffea00 279.5px,#ffc800 285.5px,#fff500 301.5px,#fcfe00 321.5px,#aff401 325.5px,#2cce0a 329.5px,#13c60a 330.5px,#0fc611 368.5px,#0ac30b 395.5px,#4ed909 397.5px,#adf301 399.5px,#fffc00 402.5px,#ffa600 408.5px,#ff7200 412.5px,#ff8b00 413.5px,#ff1400 422.5px,#ff0100 437.5px,#ff1d00 445.5px,#ff2d00 449.5px,#ff5b00)"></i><i style="left:705px;width:3px;background:linear-gradient(#05052e 0,#040437 58.5px,#02025b 71.5px,#0004eb 89.5px,#0116ff 100.5px,#295dff 105.5px,#3a74ff 106.5px,#95c5ff 108.5px,#c3e4f2 110.5px,#ceeae9 111.5px,#afeabf 113.5px,#19c91f 116.5px,#0cc40d 119.5px,#13c60a 120.5px,#6ae107 122.5px,#c9f800 124.5px,#fff700 126.5px,#ffbc00 129.5px,#fd0d04 134.5px,#f21919 138.5px,#a89797 146.5px,#a7a3a3 150.5px,#a7a2a2 162.5px,#c06767 166.5px,#f61111 172.5px,#ff0100 179.5px,#ff1400 182.5px,#ff9800 186.5px,#ffea00 190.5px,#eefd00 193.5px,#bbf501 195.5px,#28cd0a 198.5px,#0fc50b 199.5px,#0bc30b 252.5px,#31d00a 254.5px,#b6f500 258.5px,#ff0 262.5px,#ffea00 279.5px,#ffcb00 286.5px,#fff500 302.5px,#fbfe00 322.5px,#acf301 326.5px,#29cd0a 330.5px,#10c50a 331.5px,#0ac30b 395.5px,#4ed909 397.5px,#adf301 399.5px,#fffc00 402.5px,#ffa600 408.5px,#ff7200 412.5px,#ff8c00 413.5px,#ff1300 422.5px,#f00 437.5px,#ff1f00 445.5px,#ff2f00 449.5px,#ff5800 457.5px,#ff5b00)"></i><i style="left:708px;width:3px;background:linear-gradient(#05052e 0,#040437 59.5px,#02025c 72.5px,#0004eb 90.5px,#0114fe 101.5px,#2659ff 106.5px,#336dff 107.5px,#afd9fc 110.5px,#cde9ec 112.5px,#b6ebc8 114.5px,#20cb25 117.5px,#0dc40e 120.5px,#0fc50b 121.5px,#61de08 123.5px,#c4f700 125.5px,#fef900 127.5px,#ffc000 130.5px,#fd0e04 135.5px,#f31717 139.5px,#a99595 147.5px,#a9a5a5 150.5px,#a8a1a1 164.5px,#c36262 168.5px,#f31717 173.5px,#f00 180.5px,#ff1800 184.5px,#ff9e00 188.5px,#ffed00 192.5px,#eafc00 195.5px,#d5f900 196.5px,#7ce605 198.5px,#1fca0a 200.5px,#0bc40b 201.5px,#10c50a 253.5px,#66e007 256.5px,#c6f700 259.5px,#fcff00 262.5px,#ffe600 280.5px,#ffce00 287.5px,#fff500 303.5px,#f9fe00 323.5px,#a6f101 327.5px,#23cb0a 331.5px,#0dc40a 332.5px,#0ac30b 395.5px,#4ed909 397.5px,#adf301 399.5px,#fffc00 402.5px,#ffa600 408.5px,#ff7200 412.5px,#ff8e00 413.5px,#ff3900 419.5px,#ff1300 422.5px,#f00 437.5px,#ff1600 444.5px,#ff3100 448.5px,#ff3a00 451.5px,#f50 456.5px,#ff5b00)"></i><i style="left:711px;width:3px;background:linear-gradient(#05052e 0,#040437 60.5px,#02025e 73.5px,#0002e9 90.5px,#0013fd 102.5px,#2456ff 107.5px,#2f68ff 108.5px,#aad5fd 111.5px,#cce8ee 113.5px,#bbebcd 115.5px,#5edd67 117.5px,#26cd2c 118.5px,#12c716 119.5px,#0dc40b 122.5px,#2bce0a 123.5px,#c0f700 126.5px,#fdfa00 128.5px,#ffc300 131.5px,#fe1502 136.5px,#fb0808 137.5px,#ec2222 141.5px,#aa9393 148.5px,#aba7a7 150.5px,#a89e9e 166.5px,#c85b5b 170.5px,#f51414 175.5px,#f00 182.5px,#ff0d00 185.5px,#f20 186.5px,#ff8e00 189.5px,#ffe500 193.5px,#f5fe00 196.5px,#cbf800 198.5px,#38d20a 201.5px,#15c70a 202.5px,#0fc511 206.5px,#0bc30a 253.5px,#5cdd08 256.5px,#c0f700 259.5px,#f9fe00 262.5px,#ffe700 280.5px,#ffcf00 288.5px,#ffe700 296.5px,#fff500 309.5px,#fffd00 323.5px,#baf600 327.5px,#35d10a 331.5px,#0ac30b 333.5px,#0ac30b 395.5px,#4ed909 397.5px,#adf301 399.5px,#fffc00 402.5px,#ffa600 408.5px,#ff7200 412.5px,#ff9000 413.5px,#ff4a00 418.5px,#ff1300 422.5px,#ff0101 436.5px,#ff1800 444.5px,#f30 448.5px,#ff3c00 451.5px,#ff5600 456.5px,#ff5a00)"></i><i style="left:714px;width:3px;background:linear-gradient(#05052e 0,#040437 61.5px,#030358 73.5px,#0000d5 88.5px,#0006ed 93.5px,#0012fd 103.5px,#2353ff 108.5px,#2d65ff 109.5px,#4a83ff 110.5px,#a6d3fe 112.5px,#cae7ef 114.5px,#bdebd1 116.5px,#9ae8a8 117.5px,#2bce31 119.5px,#12c717 120.5px,#0cc40b 123.5px,#28cd0a 124.5px,#bdf600 127.5px,#fdfb00 129.5px,#ffc400 132.5px,#fe1602 137.5px,#fb0808 138.5px,#ed2222 142.5px,#aa9393 149.5px,#ada9a9 152.5px,#a9a4a4 167.5px,#c16565 171.5px,#f71111 177.5px,#ff0100 184.5px,#ff1400 187.5px,#ff9b00 191.5px,#ffec00 195.5px,#fbfd00 197.5px,#d9fa00 199.5px,#b7f401 200.5px,#23cb0a 203.5px,#0cc40b 204.5px,#0ac30b 253.5px,#54db09 256.5px,#bbf600 259.5px,#fffd00 263.5px,#ffe400 281.5px,#ffcb00 291.5px,#fff300 301.5px,#fffa00 323.5px,#eefd00 325.5px,#aef301 328.5px,#29cd0a 332.5px,#10c50a 333.5px,#0ac30b 395.5px,#4ed909 397.5px,#adf301 399.5px,#fffc00 402.5px,#ffa600 408.5px,#ff7200 412.5px,#ff9100 413.5px,#ff4b00 418.5px,#ff1300 422.5px,#fe0202 434.5px,#ff1200 443.5px,#ff3600 448.5px,#ff3e00 451.5px,#ff5700 456.5px,#ff5a00)"></i><i style="left:717px;width:3px;background:linear-gradient(#05052e 0,#040437 61.5px,#03035a 74.5px,#0000d7 89.5px,#0006ee 94.5px,#0319ff 105.5px,#2c64ff 110.5px,#4780ff 111.5px,#a4d1fe 113.5px,#c9e6f0 115.5px,#ccebe4 116.5px,#bfebd2 117.5px,#9de8ab 118.5px,#2ecf34 120.5px,#13c717 121.5px,#0bc40b 124.5px,#27cd0a 125.5px,#bdf600 128.5px,#fdfb00 130.5px,#ffc500 133.5px,#fe1602 138.5px,#fb0808 139.5px,#ed2222 143.5px,#aa9393 150.5px,#aeaaaa 153.5px,#aca8a8 168.5px,#b27d7d 171.5px,#f01c1c 177.5px,#f00 183.5px,#ff0f00 188.5px,#ff4d00 190.5px,#ffab00 193.5px,#ffe800 196.5px,#f2fd00 199.5px,#c5f700 201.5px,#30d00a 204.5px,#0fc50a 205.5px,#0bc30b 253.5px,#31d00a 255.5px,#b8f500 259.5px,#fffe00 263.5px,#ffe600 281.5px,#ffc800 292.5px,#fff200 300.5px,#fffd00 324.5px,#baf600 328.5px,#34d10a 332.5px,#0ac30b 334.5px,#0ac30b 395.5px,#4ed909 397.5px,#adf301 399.5px,#fffc00 402.5px,#ffa600 408.5px,#ff7200 412.5px,#ff9300 413.5px,#ff5d00 417.5px,#ff1200 422.5px,#fe0202 433.5px,#ff0d00 442.5px,#ff3800 448.5px,#ff4000 451.5px,#ff5700 456.5px,#ff5a00)"></i><i style="left:720px;width:3px;background:linear-gradient(#05052e 0,#040437 62.5px,#02025c 75.5px,#0004eb 93.5px,#0012fd 105.5px,#2352ff 110.5px,#2d64ff 111.5px,#4881ff 112.5px,#a5d2fe 114.5px,#c9e7ef 116.5px,#ccebe3 117.5px,#beebd2 118.5px,#9ce8a9 119.5px,#2ccf32 121.5px,#12c717 122.5px,#0bc40b 125.5px,#29cd0a 126.5px,#bff600 129.5px,#fefa00 131.5px,#ffc300 134.5px,#fe1402 139.5px,#f90c0c 141.5px,#ec2323 144.5px,#a99696 151.5px,#b0acac 154.5px,#afabab 169.5px,#ab9090 171.5px,#f51313 179.5px,#f00 185.5px,#ff0e00 189.5px,#ff2300 190.5px,#ff9100 193.5px,#ffe700 197.5px,#f3fd00 200.5px,#c8f800 202.5px,#34d10a 205.5px,#10c50a 206.5px,#0bc30b 253.5px,#2dcf0a 255.5px,#b4f500 259.5px,#ff0 263.5px,#fff400 273.5px,#ffda00 285.5px,#ffc400 292.5px,#fff200 300.5px,#fffb00 324.5px,#eafc00 326.5px,#a6f101 329.5px,#23cb0a 333.5px,#0bc30a 334.5px,#0ac30b 395.5px,#4ed909 397.5px,#adf301 399.5px,#fffc00 402.5px,#ffa600 408.5px,#ff7200 412.5px,#ff9400 413.5px,#ff5e00 417.5px,#ff1900 421.5px,#fe0101 431.5px,#ff0e00 442.5px,#ff3a00 448.5px,#ff4200 451.5px,#ff5800 456.5px,#ff5a00)"></i><i style="left:723px;width:3px;background:linear-gradient(#05052e 0,#040437 63.5px,#02025e 76.5px,#0002e9 93.5px,#0013fd 106.5px,#2454ff 111.5px,#2e66ff 112.5px,#4d86ff 113.5px,#a9d5fe 115.5px,#cbe8ee 117.5px,#bcebcf 119.5px,#60dd69 121.5px,#25cd2b 122.5px,#12c716 123.5px,#0dc40b 126.5px,#5ede08 128.5px,#c4f700 130.5px,#fff800 132.5px,#ffbf00 135.5px,#fd0d04 140.5px,#f21818 144.5px,#a79a9a 152.5px,#b2aeae 155.5px,#afabab 170.5px,#ab8f8f 172.5px,#f01d1d 179.5px,#f00 185.5px,#ff0f00 190.5px,#ff4e00 192.5px,#ffac00 195.5px,#ffe900 198.5px,#fefd00 200.5px,#e0fb00 202.5px,#c3f700 203.5px,#2ecf0a 206.5px,#0dc40a 207.5px,#11c50a 254.5px,#67e007 257.5px,#c7f800 260.5px,#feff00 263.5px,#fff400 274.5px,#ffd500 287.5px,#ffc200 292.5px,#fff100 300.5px,#fff900 324.5px,#f0fd00 326.5px,#b2f400 329.5px,#2cce0a 333.5px,#13c60a 334.5px,#0ac30b 395.5px,#4ed909 397.5px,#adf301 399.5px,#fffc00 402.5px,#ffa600 408.5px,#ff7200 412.5px,#ff9600 413.5px,#ff6000 417.5px,#ff1900 421.5px,#ff0101 430.5px,#ff0900 441.5px,#ff3d00 448.5px,#ff4500 451.5px,#ff5900 456.5px,#ff5a00)"></i><i style="left:726px;width:3px;background:linear-gradient(#05052e 0,#040437 64.5px,#030359 76.5px,#0000d6 91.5px,#0006ed 96.5px,#0013fe 107.5px,#2557ff 112.5px,#2f69ff 113.5px,#acd8fd 116.5px,#cde9ed 118.5px,#baebcc 120.5px,#1fcb24 123.5px,#0dc40e 126.5px,#0fc50a 127.5px,#67e007 129.5px,#c9f800 131.5px,#edfd00 132.5px,#fff600 133.5px,#ffba00 136.5px,#fd0c04 141.5px,#f11b1b 145.5px,#a69e9e 153.5px,#b3afaf 156.5px,#afabab 171.5px,#ac8e8e 173.5px,#f11b1b 180.5px,#f00 187.5px,#f10 191.5px,#f90 195.5px,#ffeb00 199.5px,#fdfe00 201.5px,#ddfa00 203.5px,#bbf600 204.5px,#26cc0a 207.5px,#0ac30b 208.5px,#0dc40a 254.5px,#62df07 257.5px,#c4f700 260.5px,#fcff00 263.5px,#fff400 274.5px,#ffdb00 286.5px,#ffc100 292.5px,#fff100 300.5px,#fffd00 325.5px,#baf600 329.5px,#34d10a 333.5px,#0ac30b 335.5px,#0ac30b 395.5px,#4ed909 397.5px,#adf301 399.5px,#fffc00 402.5px,#ffa600 408.5px,#ff7200 412.5px,#ff9700 413.5px,#ff6100 417.5px,#ff1900 421.5px,#fe0101 430.5px,#ff0900 441.5px,#ff3e00 447.5px,#ff4700 451.5px,#ff5900 455.5px,#ff5a00)"></i><i style="left:729px;width:3px;background:linear-gradient(#05052e 0,#040437 64.5px,#02025b 77.5px,#0004eb 95.5px,#0014fe 108.5px,#2759ff 113.5px,#326cff 114.5px,#b0dafc 117.5px,#cee9ec 119.5px,#b6ebc7 121.5px,#19c91e 124.5px,#0cc40d 127.5px,#13c60a 128.5px,#70e206 130.5px,#cff900 132.5px,#f3fd00 133.5px,#ffe200 135.5px,#ff9500 138.5px,#fc0707 142.5px,#ef1e1e 146.5px,#aa9393 153.5px,#b4b1b1 156.5px,#ada9a9 172.5px,#ad8b8b 174.5px,#f31818 181.5px,#f00 187.5px,#ff0b00 191.5px,#ff1600 192.5px,#ff8500 195.5px,#ffe100 199.5px,#fafe00 202.5px,#d7fa00 204.5px,#7be505 206.5px,#1cc90a 208.5px,#0bc30b 209.5px,#0ac30a 254.5px,#5cdd08 257.5px,#c1f700 260.5px,#f9fe00 263.5px,#fff300 276.5px,#ffd900 287.5px,#ffc200 292.5px,#fff100 300.5px,#fffb00 325.5px,#eafc00 327.5px,#a6f101 330.5px,#23cb0a 334.5px,#0bc30a 335.5px,#0ac30b 395.5px,#4ed909 397.5px,#adf301 399.5px,#fffc00 402.5px,#ffa600 408.5px,#ff7200 412.5px,#f90 413.5px,#ff6200 417.5px,#ff1800 421.5px,#fe0101 430.5px,#ff0a00 441.5px,#ff4000 447.5px,#ff4800 451.5px,#ff5900 455.5px,#ff5a00)"></i><i style="left:732px;width:3px;background:linear-gradient(#05052e 0,#040437 65.5px,#02025d 78.5px,#0002e9 95.5px,#0115ff 109.5px,#285cff 114.5px,#3671ff 115.5px,#93c3ff 117.5px,#b2dbfb 118.5px,#cfeaea 120.5px,#b0eac0 122.5px,#15c819 125.5px,#0cc40d 128.5px,#19c80a 129.5px,#b0f301 132.5px,#f8fd00 134.5px,#fc0 137.5px,#ff6900 140.5px,#fb0707 143.5px,#ed2121 147.5px,#a89797 154.5px,#b4b1b1 156.5px,#b4b1b1 172.5px,#a89898 174.5px,#f51515 182.5px,#f00 188.5px,#ff0d00 192.5px,#ff1e00 193.5px,#ff8d00 196.5px,#ffe600 200.5px,#f5fe00 203.5px,#cdf800 205.5px,#12c60a 209.5px,#0ac30a 254.5px,#57dc08 257.5px,#bdf600 260.5px,#f7fe00 263.5px,#ffe500 285.5px,#ffc500 292.5px,#fff100 300.5px,#fff900 325.5px,#effd00 327.5px,#b1f400 330.5px,#2bce0a 334.5px,#12c60a 335.5px,#0ac30b 395.5px,#4ed909 397.5px,#adf301 399.5px,#fffc00 402.5px,#ffa600 408.5px,#ff7200 412.5px,#ff9700 413.5px,#ff6000 417.5px,#ff1900 421.5px,#fe0101 430.5px,#ff0900 441.5px,#ff3d00 447.5px,#ff4600 451.5px,#ff5800 455.5px,#ff5a00)"></i><i style="left:735px;width:3px;background:linear-gradient(#05052e 0,#040437 66.5px,#030358 78.5px,#0000d6 93.5px,#0006ed 98.5px,#0217ff 110.5px,#2a60ff 115.5px,#3d78ff 116.5px,#9dccff 118.5px,#c6e5f1 120.5px,#cfebe7 121.5px,#a7eab6 123.5px,#39d240 125.5px,#13c717 126.5px,#0bc40c 129.5px,#21cb0a 130.5px,#b8f500 133.5px,#fcfc00 135.5px,#ffc700 138.5px,#ff3c00 142.5px,#fe1702 143.5px,#fb0808 144.5px,#eb2424 148.5px,#a79b9b 155.5px,#b5b2b2 158.5px,#b3b0b0 173.5px,#aa9494 175.5px,#f61313 183.5px,#f00 190.5px,#ff0f00 193.5px,#ff9600 197.5px,#ffea00 201.5px,#fefe00 203.5px,#dffb00 205.5px,#c0f700 206.5px,#2bce0a 209.5px,#0bc30a 210.5px,#0ac30b 254.5px,#52da09 257.5px,#baf600 260.5px,#fffd00 264.5px,#ffe300 286.5px,#ffc900 292.5px,#fff300 301.5px,#fff700 325.5px,#f4fe00 327.5px,#b9f600 330.5px,#32d00a 334.5px,#0bc30b 336.5px,#0ac30b 395.5px,#4ed909 397.5px,#adf301 399.5px,#fffc00 402.5px,#ffa600 408.5px,#ff7200 412.5px,#ff9500 413.5px,#ff5f00 417.5px,#ff1900 421.5px,#ff0101 430.5px,#ff0900 441.5px,#ff3b00 448.5px,#ff4300 451.5px,#ff5800 456.5px,#ff5a00)"></i><i style="left:738px;width:3px;background:linear-gradient(#05052e 0,#040437 66.5px,#02025b 79.5px,#0004eb 97.5px,#031aff 111.5px,#2d64ff 116.5px,#4881ff 117.5px,#a6d3fe 119.5px,#c9e7ef 121.5px,#beebd2 123.5px,#9be8a8 124.5px,#2ace31 126.5px,#12c717 127.5px,#0bc30b 130.5px,#59dc08 132.5px,#c1f700 134.5px,#fffa00 136.5px,#ffc100 139.5px,#fd0d04 144.5px,#f21919 148.5px,#a6a0a0 156.5px,#b5b2b2 159.5px,#b0acac 174.5px,#ac8e8e 176.5px,#f21818 183.5px,#f00 189.5px,#ff0b00 193.5px,#ff1500 194.5px,#ff8500 197.5px,#ffe100 201.5px,#fafe00 204.5px,#d7fa00 206.5px,#7ae505 208.5px,#1cc90a 210.5px,#0bc30b 211.5px,#0bc30b 254.5px,#31d00a 256.5px,#b7f500 260.5px,#fffe00 264.5px,#ffe500 286.5px,#ffce00 292.5px,#fff300 301.5px,#fffb00 326.5px,#d5f900 329.5px,#7ee605 332.5px,#20ca0a 335.5px,#0ac30a 336.5px,#0ac30b 395.5px,#4ed909 397.5px,#adf301 399.5px,#fffc00 402.5px,#ffa600 408.5px,#ff7200 412.5px,#ff9300 413.5px,#ff5d00 417.5px,#ff1200 422.5px,#fe0202 433.5px,#ff0e00 442.5px,#ff3800 448.5px,#ff4100 451.5px,#ff5700 456.5px,#ff5a00)"></i><i style="left:741px;width:3px;background:linear-gradient(#05052e 0,#040437 67.5px,#02025e 80.5px,#0002e9 97.5px,#0013fe 111.5px,#2557ff 116.5px,#2f69ff 117.5px,#aed9fd 120.5px,#cee9ed 122.5px,#b9ebcb 124.5px,#1dca22 127.5px,#0fc50a 131.5px,#68e007 133.5px,#cbf800 135.5px,#eefd00 136.5px,#fff500 137.5px,#ffba00 140.5px,#fc0606 145.5px,#f01d1d 149.5px,#a99494 156.5px,#b3b0b0 158.5px,#b5b2b2 174.5px,#a89999 176.5px,#f51414 184.5px,#f00 190.5px,#ff0e00 194.5px,#ff2300 195.5px,#ff9100 198.5px,#ffe800 202.5px,#fffc00 204.5px,#e2fb00 206.5px,#c8f800 207.5px,#33d10a 210.5px,#0dc40a 211.5px,#0bc30b 254.5px,#2dcf0a 256.5px,#b4f500 260.5px,#ff0 264.5px,#fff400 274.5px,#ffe300 287.5px,#ffd600 293.5px,#fff200 302.5px,#fffa00 326.5px,#edfd00 328.5px,#abf301 331.5px,#27cd0a 335.5px,#0ec40a 336.5px,#0ac30b 395.5px,#4ed909 397.5px,#adf301 399.5px,#fffc00 402.5px,#ffa600 408.5px,#ff7200 412.5px,#ff9100 413.5px,#ff4b00 418.5px,#ff1300 422.5px,#fe0202 434.5px,#ff1200 443.5px,#ff3500 448.5px,#ff3e00 451.5px,#ff5600 456.5px,#ff5a00)"></i><i style="left:744px;width:3px;background:linear-gradient(#05052e 0,#040437 67.5px,#03035a 80.5px,#0000d7 95.5px,#0006ee 100.5px,#0115ff 112.5px,#285dff 117.5px,#3671ff 118.5px,#94c4ff 120.5px,#c3e3f3 122.5px,#d0ebea 123.5px,#b0ebc0 125.5px,#14c818 128.5px,#0cc40d 131.5px,#19c80a 132.5px,#7ae505 134.5px,#b0f401 135.5px,#f8fe00 137.5px,#fc0 140.5px,#ff6900 143.5px,#fb0707 146.5px,#ed2222 150.5px,#a79a9a 157.5px,#b5b2b2 160.5px,#b2afaf 175.5px,#aa9292 177.5px,#f11a1a 184.5px,#f00 191.5px,#ff1300 195.5px,#ff9d00 199.5px,#ffed00 203.5px,#fcff00 205.5px,#dafa00 207.5px,#b6f500 208.5px,#4ad80a 210.5px,#20ca0a 211.5px,#0bc30b 212.5px,#11c50a 255.5px,#68e007 258.5px,#c8f800 261.5px,#feff00 264.5px,#fff400 274.5px,#ffe600 287.5px,#ffda00 293.5px,#fff100 302.5px,#ffef00 313.5px,#ff0 327.5px,#b4f500 331.5px,#2dcf0a 335.5px,#0bc30b 337.5px,#0ac30b 395.5px,#4ed909 397.5px,#adf301 399.5px,#fffc00 402.5px,#ffa600 408.5px,#ff7200 412.5px,#ff8f00 413.5px,#ff3a00 419.5px,#ff1300 422.5px,#f00 437.5px,#ff1700 444.5px,#ff3200 448.5px,#ff3b00 451.5px,#f50 456.5px,#ff5a00)"></i><i style="left:747px;width:3px;background:linear-gradient(#05052e 0,#040437 68.5px,#02025d 81.5px,#0002e9 98.5px,#0319ff 113.5px,#2c63ff 118.5px,#457fff 119.5px,#a4d1ff 121.5px,#c8e6f0 123.5px,#cdebe4 124.5px,#bfebd3 125.5px,#9fe9ad 126.5px,#2fcf35 128.5px,#13c717 129.5px,#0bc30b 132.5px,#27cd0a 133.5px,#bef600 136.5px,#fffb00 138.5px,#ffc400 141.5px,#fe1402 146.5px,#f90c0c 148.5px,#ea2727 151.5px,#ab9090 157.5px,#b1adad 159.5px,#b5b2b2 175.5px,#a79b9b 177.5px,#f51414 185.5px,#f00 191.5px,#ff0d00 195.5px,#ff2300 196.5px,#ff9000 199.5px,#ffe700 203.5px,#f3fd00 206.5px,#c9f800 208.5px,#34d10a 211.5px,#0dc40a 212.5px,#0ec40a 255.5px,#64df07 258.5px,#c5f700 261.5px,#fcff00 264.5px,#fff400 275.5px,#ffe500 288.5px,#ffe200 294.5px,#fff000 302.5px,#ffe500 311.5px,#fffd00 327.5px,#b9f600 331.5px,#33d10a 335.5px,#0ac30b 337.5px,#0ac30b 395.5px,#4ed909 397.5px,#adf301 399.5px,#fffc00 402.5px,#ffa600 408.5px,#ff7200 412.5px,#ff8c00 413.5px,#ff1300 422.5px,#f00 437.5px,#ff1f00 445.5px,#ff2f00 449.5px,#ff5800 457.5px,#ff5b00)"></i><i style="left:750px;width:3px;background:linear-gradient(#05052e 0,#050536 68.5px,#030359 81.5px,#0000d7 96.5px,#0006ed 101.5px,#0013fe 113.5px,#2658ff 118.5px,#306aff 119.5px,#afd9fd 122.5px,#cfe9ed 124.5px,#b8ebca 126.5px,#19c91e 129.5px,#10c50a 133.5px,#6be107 135.5px,#ccf800 137.5px,#f0fd00 138.5px,#ffe300 140.5px,#ff9800 143.5px,#fc0606 147.5px,#ef1e1e 151.5px,#a89797 158.5px,#b5b2b2 160.5px,#b3afaf 176.5px,#aa9292 178.5px,#f11a1a 185.5px,#f00 191.5px,#ff1400 196.5px,#ff8400 199.5px,#ffe000 203.5px,#fbfe00 206.5px,#d8fa00 208.5px,#b3f400 209.5px,#46d70a 211.5px,#1eca0a 212.5px,#0bc30b 213.5px,#0cc40a 255.5px,#60de08 258.5px,#c3f700 261.5px,#fbfe00 264.5px,#fff400 275.5px,#ffe500 294.5px,#fe0 302.5px,#ffdb00 310.5px,#fff400 320.5px,#f8fe00 328.5px,#a0f002 332.5px,#1fca0a 336.5px,#0ac30a 337.5px,#0ac30b 395.5px,#4ed909 397.5px,#adf301 399.5px,#fffc00 402.5px,#ffa600 408.5px,#ff7200 412.5px,#ff8a00 413.5px,#ff1400 422.5px,#ff0100 437.5px,#ff1c00 445.5px,#ff2c00 449.5px,#ff5b00)"></i><i style="left:753px;width:3px;background:linear-gradient(#05052e 0,#040437 69.5px,#02025d 82.5px,#0002e9 99.5px,#0217ff 114.5px,#2b61ff 119.5px,#3e79ff 120.5px,#9ecdff 122.5px,#cfebe7 125.5px,#a7eab5 127.5px,#38d23f 129.5px,#13c717 130.5px,#0bc40c 133.5px,#21cb0a 134.5px,#b9f600 137.5px,#fdfd00 139.5px,#ffc800 142.5px,#ff1c00 147.5px,#fb0808 148.5px,#eb2525 152.5px,#a69f9f 159.5px,#b5b2b2 162.5px,#b5b2b2 176.5px,#a89999 178.5px,#f51313 186.5px,#f00 192.5px,#ff0f00 196.5px,#ff4f00 198.5px,#ffad00 201.5px,#ffea00 204.5px,#fffe00 206.5px,#e0fb00 208.5px,#c3f700 209.5px,#2ecf0a 212.5px,#0ac30a 213.5px,#0ac30a 255.5px,#5cdd08 258.5px,#c1f700 261.5px,#f9fe00 264.5px,#fff400 276.5px,#ffeb00 295.5px,#ffea00 303.5px,#ffd300 309.5px,#fff300 319.5px,#fafe00 328.5px,#a7f101 332.5px,#24cc0a 336.5px,#0bc30a 337.5px,#0ac30b 395.5px,#4ed909 397.5px,#adf301 399.5px,#fffc00 402.5px,#ffa600 408.5px,#ff7200 412.5px,#f80 413.5px,#ff1400 422.5px,#ff0200 438.5px,#f20 446.5px,#ff3200 451.5px,#ff5700 457.5px,#ff5b00)"></i><i style="left:756px;width:3px;background:linear-gradient(#05052e 0,#040437 69.5px,#03035a 82.5px,#0000d7 97.5px,#0006ee 102.5px,#0013fe 114.5px,#2658ff 119.5px,#306aff 120.5px,#aed9fd 123.5px,#cee9ed 125.5px,#b9ebcb 127.5px,#19c91f 130.5px,#0ec40a 134.5px,#6ae107 136.5px,#cbf800 138.5px,#effd00 139.5px,#fff500 140.5px,#ffb900 143.5px,#fc0606 148.5px,#ef1e1e 152.5px,#a89898 159.5px,#b5b2b2 161.5px,#b1adad 177.5px,#a6a0a0 178.5px,#cb5757 182.5px,#f71010 187.5px,#f00 192.5px,#ff0c00 196.5px,#ff1b00 197.5px,#ff8b00 200.5px,#ffe400 204.5px,#f7fe00 207.5px,#d0f900 209.5px,#14c60a 213.5px,#0fc611 219.5px,#0ac30a 255.5px,#59dc08 258.5px,#bff600 261.5px,#f8fe00 264.5px,#fff400 277.5px,#ffef00 296.5px,#ffe500 304.5px,#ffd600 310.5px,#fff300 319.5px,#fdff00 328.5px,#adf301 332.5px,#28cd0a 336.5px,#0fc50a 337.5px,#0ac30b 395.5px,#4ed909 397.5px,#adf301 399.5px,#fffc00 402.5px,#ffa600 408.5px,#ff7200 412.5px,#ff8600 413.5px,#ff1500 422.5px,#ff0300 438.5px,#ff2f00 451.5px,#ff5b00)"></i><i style="left:759px;width:3px;background:linear-gradient(#05052e 0,#040437 70.5px,#02025e 83.5px,#0002e9 100.5px,#0218ff 115.5px,#2b62ff 120.5px,#437dff 121.5px,#a3d1ff 123.5px,#c8e6f0 125.5px,#cdebe5 126.5px,#c0ebd4 127.5px,#a2e9b0 128.5px,#32d039 130.5px,#13c717 131.5px,#0bc30b 134.5px,#25cc0a 135.5px,#bcf600 138.5px,#fffc00 140.5px,#ffc600 143.5px,#ff1900 148.5px,#fb0808 149.5px,#ea2727 153.5px,#ab9191 159.5px,#b5b2b2 162.5px,#b4b1b1 177.5px,#a99595 179.5px,#f11b1b 186.5px,#f00 193.5px,#ff1200 197.5px,#ff9d00 201.5px,#ffed00 205.5px,#fcff00 207.5px,#dafa00 209.5px,#b6f500 210.5px,#49d80a 212.5px,#20ca0a 213.5px,#0bc30b 214.5px,#0ac30a 255.5px,#56db09 258.5px,#bdf600 261.5px,#f7fe00 264.5px,#fff400 279.5px,#ffec00 303.5px,#ffdb00 310.5px,#fff400 320.5px,#ff0 328.5px,#b2f400 332.5px,#2bce0a 336.5px,#12c60a 337.5px,#0ac30b 395.5px,#4ed909 397.5px,#adf301 399.5px,#fffc00 402.5px,#ffa600 408.5px,#ff7200 412.5px,#ff8400 413.5px,#ff1600 422.5px,#ff0300 438.5px,#ff2c00 451.5px,#ff5b00)"></i><i style="left:762px;width:1px;background:linear-gradient(#05052e 0,#040437 70.5px,#02025c 83.5px,#0004eb 101.5px,#0115ff 115.5px,#295dff 120.5px,#3671ff 121.5px,#96c5ff 123.5px,#c3e4f2 125.5px,#d1ebea 126.5px,#b0ebbf 128.5px,#13c818 131.5px,#0cc40c 134.5px,#1ac80a 135.5px,#7be505 137.5px,#b2f400 138.5px,#fafe00 140.5px,#fc0 143.5px,#fb0707 149.5px,#ec2323 153.5px,#a69e9e 160.5px,#b5b2b2 163.5px,#b5b2b2 177.5px,#a89898 179.5px,#f61313 187.5px,#f00 194.5px,#ff1000 197.5px,#ff9800 201.5px,#ffeb00 205.5px,#ff0 207.5px,#defb00 209.5px,#bdf600 210.5px,#28cd0a 213.5px,#0ac30b 214.5px,#0ac30a 255.5px,#55db09 258.5px,#bcf600 261.5px,#f6fe00 264.5px,#fff400 277.5px,#ffea00 304.5px,#ffe300 311.5px,#fff400 323.5px,#ff0 328.5px,#b4f500 332.5px,#2dcf0a 336.5px,#0bc30b 338.5px,#0ac30b 395.5px,#4ed909 397.5px,#adf301 399.5px,#fffc00 402.5px,#ffa600 408.5px,#ff7200 412.5px,#ff8200 413.5px,#ff1700 422.5px,#ff0300 438.5px,#ff2a00 451.5px,#ff5b00)"></i></div><svg width="900" height="1100" viewBox="0 0 900 1100">
<rect x="122.2" y="13.2" width="762.6" height="458.8" fill="none" stroke="#151515" stroke-width="1.4"/>
<path d="M249.5 472V463M376.5 472V463M503.5 472V463M630.5 472V463M757.5 472V463M122 406.4H131M885 406.4H876M122 340.9H131M885 340.9H876M122 275.3H131M885 275.3H876M122 209.7H131M885 209.7H876M122 144.1H131M885 144.1H876M122 78.6H131M885 78.6H876" stroke="#222" stroke-width="1.2" fill="none"/>
<text x="109.8" y="484.3" font-size="30.2" text-anchor="end">45</text>
<text x="109.8" y="418.7" font-size="30.2" text-anchor="end">50</text>
<text x="109.8" y="353.2" font-size="30.2" text-anchor="end">55</text>
<text x="109.8" y="287.6" font-size="30.2" text-anchor="end">60</text>
<text x="109.8" y="222.0" font-size="30.2" text-anchor="end">65</text>
<text x="109.8" y="156.4" font-size="30.2" text-anchor="end">70</text>
<text x="109.8" y="90.9" font-size="30.2" text-anchor="end">75</text>
<text x="109.8" y="25.3" font-size="30.2" text-anchor="end">80</text>
<text x="122.5" y="516.6" font-size="30.2" text-anchor="middle">-3</text>
<text x="249.5" y="516.6" font-size="30.2" text-anchor="middle">-2</text>
<text x="376.5" y="516.6" font-size="30.2" text-anchor="middle">-1</text>
<text x="503.5" y="516.6" font-size="30.2" text-anchor="middle">0</text>
<text x="630.5" y="516.6" font-size="30.2" text-anchor="middle">1</text>
<text x="757.5" y="516.6" font-size="30.2" text-anchor="middle">2</text>
<text x="884.5" y="516.6" font-size="30.2" text-anchor="middle">3</text>
<text transform="translate(30.6,252) rotate(-90)" font-size="38" font-weight="bold" text-anchor="middle">energy (eV)</text>
<text x="151" y="81.4" font-size="50" font-weight="bold" fill="#fff">(a)</text>
<rect x="123.4" y="545" width="760.5" height="457" fill="none" stroke="#111" stroke-width="2.2"/>
<path d="M250.2 1002V990M250.2 545V557M376.9 1002V990M376.9 545V557M503.6 1002V990M503.6 545V557M630.4 1002V990M630.4 545V557M757.1 1002V990M757.1 545V557M123 955.5H136M884 955.5H871M123 864.3H136M884 864.3H871M123 773.1H136M884 773.1H871M123 681.9H136M884 681.9H871M123 590.7H136M884 590.7H871" stroke="#111" stroke-width="2.2" fill="none"/>
<text x="123.4" y="1039.4" font-size="30.2" text-anchor="middle">-3</text>
<text x="250.2" y="1039.4" font-size="30.2" text-anchor="middle">-2</text>
<text x="376.9" y="1039.4" font-size="30.2" text-anchor="middle">-1</text>
<text x="503.6" y="1039.4" font-size="30.2" text-anchor="middle">0</text>
<text x="630.4" y="1039.4" font-size="30.2" text-anchor="middle">1</text>
<text x="757.1" y="1039.4" font-size="30.2" text-anchor="middle">2</text>
<text x="883.9" y="1039.4" font-size="30.2" text-anchor="middle">3</text>
<text x="108.0" y="960.4" font-size="30.2" text-anchor="end">-1</text>
<text x="108.0" y="869.2" font-size="30.2" text-anchor="end">-0.5</text>
<text x="108.0" y="778.0" font-size="30.2" text-anchor="end">0</text>
<text x="108.0" y="686.8" font-size="30.2" text-anchor="end">0.5</text>
<text x="108.0" y="595.6" font-size="30.2" text-anchor="end">1</text>
<text x="505.2" y="1081.2" font-size="38.2" font-weight="bold" text-anchor="middle">delay (fs)</text>
<text transform="translate(40.5,769.5) rotate(-90)" font-size="38" font-weight="bold" text-anchor="middle">streaking shift (arb. units)</text>
<text x="150" y="620.6" font-size="50" font-weight="bold">(b)</text>
<path d="M123.4,736.7 L125.3,740.0 L127.2,743.5 L129.1,747.0 L131.0,750.6 L132.9,754.3 L134.8,758.0 L136.7,761.8 L138.6,765.7 L140.6,769.6 L142.5,773.6 L144.4,777.6 L146.3,781.6 L148.2,785.6 L150.1,789.7 L152.0,793.8 L153.9,798.0 L155.8,802.1 L157.7,806.3 L159.6,810.4 L161.5,814.6 L163.4,818.7 L165.3,822.8 L167.2,827.0 L169.1,831.1 L171.1,835.1 L173.0,839.2 L174.9,843.2 L176.8,847.2 L178.7,851.1 L180.6,855.0 L182.5,858.8 L184.4,862.6 L186.3,866.3 L188.2,869.9 L190.1,873.5 L192.0,877.0 L193.9,880.4 L195.8,883.7 L197.7,886.9 L199.6,890.1 L201.5,893.1 L203.5,896.1 L205.4,898.9 L207.3,901.6 L209.2,904.2 L211.1,906.7 L213.0,909.0 L214.9,911.2 L216.8,913.3 L218.7,915.2 L220.6,917.0 L222.5,918.6 L224.4,920.1 L226.3,921.4 L228.2,922.6 L230.1,923.5 L232.0,924.3 L233.9,925.0 L235.9,925.4 L237.8,925.6 L239.7,925.7 L241.6,925.6 L243.5,925.2 L245.4,924.7 L247.3,923.9 L249.2,923.0 L251.1,921.8 L253.0,920.5 L254.9,919.0 L256.8,917.3 L258.7,915.4 L260.6,913.4 L262.5,911.1 L264.4,908.7 L266.4,906.2 L268.3,903.5 L270.2,900.6 L272.1,897.6 L274.0,894.4 L275.9,891.1 L277.8,887.6 L279.7,884.0 L281.6,880.3 L283.5,876.4 L285.4,872.5 L287.3,868.3 L289.2,864.1 L291.1,859.8 L293.0,855.3 L294.9,850.7 L296.8,846.1 L298.8,841.3 L300.7,836.4 L302.6,831.4 L304.5,826.4 L306.4,821.3 L308.3,816.0 L310.2,810.7 L312.1,805.4 L314.0,799.9 L315.9,794.5 L317.8,788.9 L319.7,783.4 L321.6,777.8 L323.5,772.2 L325.4,766.6 L327.3,761.0 L329.2,755.4 L331.2,749.8 L333.1,744.2 L335.0,738.7 L336.9,733.2 L338.8,727.7 L340.7,722.3 L342.6,717.0 L344.5,711.7 L346.4,706.5 L348.3,701.4 L350.2,696.3 L352.1,691.4 L354.0,686.5 L355.9,681.7 L357.8,677.0 L359.7,672.4 L361.7,667.9 L363.6,663.5 L365.5,659.1 L367.4,655.0 L369.3,650.9 L371.2,646.9 L373.1,643.1 L375.0,639.3 L376.9,635.7 L378.8,632.3 L380.7,628.9 L382.6,625.7 L384.5,622.6 L386.4,619.7 L388.3,616.9 L390.2,614.3 L392.1,611.9 L394.1,609.6 L396.0,607.4 L397.9,605.5 L399.8,603.7 L401.7,602.1 L403.6,600.6 L405.5,599.4 L407.4,598.3 L409.3,597.5 L411.2,596.8 L413.1,596.4 L415.0,596.1 L416.9,596.1 L418.8,596.3 L420.7,596.7 L422.6,597.3 L424.6,598.2 L426.5,599.3 L428.4,600.6 L430.3,602.2 L432.2,604.0 L434.1,606.1 L436.0,608.4 L437.9,611.0 L439.8,613.8 L441.7,617.0 L443.6,620.4 L445.5,624.0 L447.4,628.0 L449.3,632.2 L451.2,636.7 L453.1,641.5 L455.0,646.4 L457.0,651.5 L458.9,656.7 L460.8,662.1 L462.7,667.5 L464.6,673.0 L466.5,678.5 L468.4,684.1 L470.3,689.8 L472.2,695.5 L474.1,701.2 L476.0,707.0 L477.9,712.9 L479.8,718.7 L481.7,724.7 L483.6,730.6 L485.5,736.6 L487.4,742.7 L489.4,748.8 L491.3,755.0 L493.2,761.3 L495.1,767.7 L497.0,774.1 L498.9,780.6 L500.8,787.2 L502.7,793.8 L504.6,800.4 L506.5,806.9 L508.4,813.4 L510.3,819.7 L512.2,825.9 L514.1,831.9 L516.0,837.8 L517.9,843.5 L519.9,849.1 L521.8,854.6 L523.7,859.9 L525.6,865.0 L527.5,870.1 L529.4,874.9 L531.3,879.7 L533.2,884.3 L535.1,888.8 L537.0,893.1 L538.9,897.3 L540.8,901.4 L542.7,905.4 L544.6,909.2 L546.5,912.9 L548.4,916.5 L550.3,919.9 L552.3,923.3 L554.2,926.5 L556.1,929.6 L558.0,932.6 L559.9,935.4 L561.8,938.1 L563.7,940.7 L565.6,943.1 L567.5,945.3 L569.4,947.2 L571.3,949.0 L573.2,950.6 L575.1,951.9 L577.0,952.9 L578.9,953.6 L580.8,954.1 L582.7,954.2 L584.7,954.1 L586.6,953.6 L588.5,952.8 L590.4,951.7 L592.3,950.3 L594.2,948.7 L596.1,946.8 L598.0,944.6 L599.9,942.2 L601.8,939.6 L603.7,936.7 L605.6,933.5 L607.5,930.2 L609.4,926.7 L611.3,922.9 L613.2,919.0 L615.2,914.8 L617.1,910.5 L619.0,906.1 L620.9,901.4 L622.8,896.6 L624.7,891.7 L626.6,886.6 L628.5,881.4 L630.4,876.0 L632.3,870.6 L634.2,865.0 L636.1,859.3 L638.0,853.5 L639.9,847.7 L641.8,841.7 L643.7,835.7 L645.6,829.7 L647.6,823.5 L649.5,817.4 L651.4,811.1 L653.3,804.9 L655.2,798.6 L657.1,792.3 L659.0,786.0 L660.9,779.7 L662.8,773.4 L664.7,767.0 L666.6,760.8 L668.5,754.5 L670.4,748.3 L672.3,742.1 L674.2,736.0 L676.1,729.9 L678.1,723.9 L680.0,718.0 L681.9,712.1 L683.8,706.4 L685.7,700.7 L687.6,695.1 L689.5,689.7 L691.4,684.3 L693.3,679.1 L695.2,674.0 L697.1,669.1 L699.0,664.3 L700.9,659.7 L702.8,655.2 L704.7,650.9 L706.6,646.8 L708.5,642.8 L710.5,639.1 L712.4,635.6 L714.3,632.2 L716.2,629.1 L718.1,626.2 L720.0,623.4 L721.9,620.9 L723.8,618.6 L725.7,616.5 L727.6,614.6 L729.5,612.9 L731.4,611.5 L733.3,610.2 L735.2,609.2 L737.1,608.3 L739.0,607.7 L740.9,607.3 L742.9,607.1 L744.8,607.2 L746.7,607.4 L748.6,607.9 L750.5,608.6 L752.4,609.6 L754.3,610.7 L756.2,612.1 L758.1,613.7 L760.0,615.6 L761.9,617.6 L763.8,620.0 L765.7,622.5 L767.6,625.3 L769.5,628.3 L771.4,631.5 L773.4,635.0 L775.3,638.7 L777.2,642.7 L779.1,646.8 L781.0,651.2 L782.9,655.7 L784.8,660.3 L786.7,665.0 L788.6,669.7 L790.5,674.4 L792.4,679.1 L794.3,683.7 L796.2,688.2 L798.1,692.8 L800.0,697.4 L801.9,702.2 L803.8,707.0 L805.8,712.1 L807.7,717.3 L809.6,722.8 L811.5,728.6 L813.4,734.6 L815.3,740.9 L817.2,747.3 L819.1,753.8 L821.0,760.4 L822.9,767.1 L824.8,773.7 L826.7,780.3 L828.6,786.8 L830.5,793.1 L832.4,799.4 L834.3,805.6 L836.2,811.5 L838.2,817.3 L840.1,822.9 L842.0,828.2 L843.9,833.3 L845.8,838.3 L847.7,843.1 L849.6,847.7 L851.5,852.1 L853.4,856.4 L855.3,860.6 L857.2,864.6 L859.1,868.5 L861.0,872.2 L862.9,875.8 L864.8,879.1 L866.7,882.3 L868.7,885.3 L870.6,888.0 L872.5,890.5 L874.4,892.7 L876.3,894.7 L878.2,896.5 L880.1,897.9 L882.0,899.0 L883.9,899.8" fill="none" stroke="#e80000" stroke-width="2.6"/>
<path d="M123.4,715.9 L125.3,719.3 L127.2,722.8 L129.1,726.4 L131.0,730.1 L132.9,733.8 L134.8,737.7 L136.7,741.6 L138.6,745.5 L140.6,749.6 L142.5,753.7 L144.4,757.8 L146.3,762.0 L148.2,766.3 L150.1,770.5 L152.0,774.8 L153.9,779.2 L155.8,783.5 L157.7,787.9 L159.6,792.3 L161.5,796.7 L163.4,801.1 L165.3,805.5 L167.2,809.9 L169.1,814.3 L171.1,818.6 L173.0,823.0 L174.9,827.3 L176.8,831.5 L178.7,835.8 L180.6,840.0 L182.5,844.1 L184.4,848.2 L186.3,852.2 L188.2,856.2 L190.1,860.1 L192.0,863.9 L193.9,867.7 L195.8,871.4 L197.7,874.9 L199.6,878.4 L201.5,881.8 L203.5,885.1 L205.4,888.3 L207.3,891.3 L209.2,894.3 L211.1,897.1 L213.0,899.8 L214.9,902.4 L216.8,904.8 L218.7,907.1 L220.6,909.2 L222.5,911.2 L224.4,913.1 L226.3,914.8 L228.2,916.4 L230.1,917.8 L232.0,919.1 L233.9,920.3 L235.9,921.2 L237.8,922.1 L239.7,922.7 L241.6,923.3 L243.5,923.6 L245.4,923.8 L247.3,923.9 L249.2,923.7 L251.1,923.5 L253.0,923.0 L254.9,922.4 L256.8,921.6 L258.7,920.6 L260.6,919.5 L262.5,918.2 L264.4,916.7 L266.4,915.1 L268.3,913.2 L270.2,911.2 L272.1,909.0 L274.0,906.6 L275.9,904.0 L277.8,901.3 L279.7,898.3 L281.6,895.2 L283.5,891.9 L285.4,888.4 L287.3,884.7 L289.2,880.9 L291.1,877.0 L293.0,872.9 L294.9,868.7 L296.8,864.3 L298.8,859.8 L300.7,855.2 L302.6,850.5 L304.5,845.8 L306.4,840.9 L308.3,835.9 L310.2,830.9 L312.1,825.8 L314.0,820.6 L315.9,815.4 L317.8,810.1 L319.7,804.8 L321.6,799.5 L323.5,794.2 L325.4,788.8 L327.3,783.4 L329.2,778.0 L331.2,772.7 L333.1,767.3 L335.0,761.9 L336.9,756.6 L338.8,751.2 L340.7,745.9 L342.6,740.5 L344.5,735.2 L346.4,729.8 L348.3,724.5 L350.2,719.1 L352.1,713.8 L354.0,708.4 L355.9,703.0 L357.8,697.7 L359.7,692.4 L361.7,687.2 L363.6,682.0 L365.5,676.9 L367.4,671.9 L369.3,667.0 L371.2,662.2 L373.1,657.5 L375.0,652.9 L376.9,648.5 L378.8,644.2 L380.7,640.0 L382.6,636.0 L384.5,632.1 L386.4,628.4 L388.3,624.9 L390.2,621.5 L392.1,618.3 L394.1,615.2 L396.0,612.4 L397.9,609.7 L399.8,607.2 L401.7,604.9 L403.6,602.9 L405.5,601.0 L407.4,599.3 L409.3,597.9 L411.2,596.7 L413.1,595.7 L415.0,594.9 L416.9,594.4 L418.8,594.1 L420.7,594.0 L422.6,594.2 L424.6,594.7 L426.5,595.4 L428.4,596.3 L430.3,597.4 L432.2,598.8 L434.1,600.3 L436.0,602.1 L437.9,604.1 L439.8,606.4 L441.7,608.8 L443.6,611.4 L445.5,614.2 L447.4,617.2 L449.3,620.4 L451.2,623.8 L453.1,627.3 L455.0,631.1 L457.0,635.0 L458.9,639.0 L460.8,643.3 L462.7,647.7 L464.6,652.2 L466.5,656.9 L468.4,661.8 L470.3,666.8 L472.2,671.9 L474.1,677.2 L476.0,682.6 L477.9,688.1 L479.8,693.7 L481.7,699.4 L483.6,705.2 L485.5,711.1 L487.4,717.1 L489.4,723.1 L491.3,729.3 L493.2,735.4 L495.1,741.6 L497.0,747.9 L498.9,754.2 L500.8,760.5 L502.7,766.8 L504.6,773.1 L506.5,779.5 L508.4,785.8 L510.3,792.2 L512.2,798.5 L514.1,804.8 L516.0,811.0 L517.9,817.2 L519.9,823.4 L521.8,829.5 L523.7,835.5 L525.6,841.5 L527.5,847.4 L529.4,853.2 L531.3,859.0 L533.2,864.6 L535.1,870.1 L537.0,875.5 L538.9,880.8 L540.8,885.9 L542.7,890.9 L544.6,895.8 L546.5,900.5 L548.4,905.0 L550.3,909.4 L552.3,913.6 L554.2,917.7 L556.1,921.5 L558.0,925.1 L559.9,928.6 L561.8,931.8 L563.7,934.8 L565.6,937.6 L567.5,940.2 L569.4,942.5 L571.3,944.6 L573.2,946.5 L575.1,948.2 L577.0,949.6 L578.9,950.9 L580.8,951.9 L582.7,952.6 L584.7,953.2 L586.6,953.5 L588.5,953.6 L590.4,953.5 L592.3,953.1 L594.2,952.6 L596.1,951.7 L598.0,950.7 L599.9,949.4 L601.8,947.9 L603.7,946.2 L605.6,944.3 L607.5,942.1 L609.4,939.7 L611.3,937.0 L613.2,934.1 L615.2,931.0 L617.1,927.7 L619.0,924.1 L620.9,920.3 L622.8,916.3 L624.7,912.1 L626.6,907.7 L628.5,903.1 L630.4,898.4 L632.3,893.5 L634.2,888.4 L636.1,883.2 L638.0,877.8 L639.9,872.4 L641.8,866.7 L643.7,861.0 L645.6,855.2 L647.6,849.3 L649.5,843.2 L651.4,837.1 L653.3,831.0 L655.2,824.8 L657.1,818.5 L659.0,812.1 L660.9,805.8 L662.8,799.4 L664.7,793.0 L666.6,786.6 L668.5,780.1 L670.4,773.7 L672.3,767.3 L674.2,761.0 L676.1,754.6 L678.1,748.3 L680.0,742.1 L681.9,735.9 L683.8,729.7 L685.7,723.7 L687.6,717.7 L689.5,711.8 L691.4,705.9 L693.3,700.2 L695.2,694.6 L697.1,689.1 L699.0,683.8 L700.9,678.6 L702.8,673.5 L704.7,668.5 L706.6,663.7 L708.5,659.1 L710.5,654.7 L712.4,650.4 L714.3,646.3 L716.2,642.4 L718.1,638.7 L720.0,635.3 L721.9,632.0 L723.8,628.9 L725.7,626.1 L727.6,623.4 L729.5,621.0 L731.4,618.8 L733.3,616.8 L735.2,615.0 L737.1,613.4 L739.0,612.0 L740.9,610.8 L742.9,609.9 L744.8,609.1 L746.7,608.6 L748.6,608.2 L750.5,608.1 L752.4,608.2 L754.3,608.5 L756.2,609.0 L758.1,609.7 L760.0,610.6 L761.9,611.8 L763.8,613.1 L765.7,614.7 L767.6,616.4 L769.5,618.4 L771.4,620.6 L773.4,623.0 L775.3,625.6 L777.2,628.4 L779.1,631.4 L781.0,634.6 L782.9,638.0 L784.8,641.7 L786.7,645.5 L788.6,649.6 L790.5,653.8 L792.4,658.2 L794.3,662.8 L796.2,667.5 L798.1,672.4 L800.0,677.4 L801.9,682.6 L803.8,687.8 L805.8,693.2 L807.7,698.7 L809.6,704.3 L811.5,710.0 L813.4,715.7 L815.3,721.6 L817.2,727.5 L819.1,733.4 L821.0,739.4 L822.9,745.4 L824.8,751.4 L826.7,757.5 L828.6,763.6 L830.5,769.6 L832.4,775.7 L834.3,781.7 L836.2,787.7 L838.2,793.6 L840.1,799.3 L842.0,804.9 L843.9,810.3 L845.8,815.6 L847.7,820.5 L849.6,825.2 L851.5,829.8 L853.4,834.2 L855.3,838.5 L857.2,842.7 L859.1,847.0 L861.0,851.3 L862.9,855.6 L864.8,859.8 L866.7,864.1 L868.7,868.2 L870.6,872.3 L872.5,876.3 L874.4,880.1 L876.3,883.7 L878.2,887.2 L880.1,890.4 L882.0,893.4 L883.9,896.2" fill="none" stroke="#00008c" stroke-width="2.6"/>
<path d="M117.1 730.7h12.6v12.6h-12.6zM142.5 771.7h12.6v12.6h-12.6zM167.8 836.2h12.6v12.6h-12.6zM193.2 881.2h12.6v12.6h-12.6zM218.5 913.7h12.6v12.6h-12.6zM243.8 931.2h12.6v12.6h-12.6zM269.2 886.2h12.6v12.6h-12.6zM294.6 826.7h12.6v12.6h-12.6zM319.9 743.7h12.6v12.6h-12.6zM345.2 692.0h12.6v12.6h-12.6zM370.6 626.2h12.6v12.6h-12.6zM395.9 591.2h12.6v12.6h-12.6zM421.3 592.5h12.6v12.6h-12.6zM446.7 625.0h12.6v12.6h-12.6zM472.0 690.0h12.6v12.6h-12.6zM497.3 776.7h12.6v12.6h-12.6zM522.7 856.2h12.6v12.6h-12.6zM548.1 928.7h12.6v12.6h-12.6zM573.4 971.2h12.6v12.6h-12.6zM598.8 918.2h12.6v12.6h-12.6zM624.1 871.2h12.6v12.6h-12.6zM649.5 766.7h12.6v12.6h-12.6zM674.8 700.0h12.6v12.6h-12.6zM700.1 618.2h12.6v12.6h-12.6zM725.5 599.5h12.6v12.6h-12.6zM750.9 614.2h12.6v12.6h-12.6zM776.2 650.2h12.6v12.6h-12.6zM801.6 713.7h12.6v12.6h-12.6zM826.9 789.2h12.6v12.6h-12.6zM852.2 862.6h12.6v12.6h-12.6zM877.6 897.7h12.6v12.6h-12.6z" fill="#f00"/>
<circle cx="123.4" cy="701.8" r="6.3" fill="#0000f0"/>
<circle cx="148.8" cy="736.2" r="6.3" fill="#0000f0"/>
<circle cx="174.1" cy="813.8" r="6.3" fill="#0000f0"/>
<circle cx="199.5" cy="844.2" r="6.3" fill="#0000f0"/>
<circle cx="224.8" cy="939.5" r="6.3" fill="#0000f0"/>
<circle cx="250.2" cy="988.7" r="6.3" fill="#0000f0"/>
<circle cx="275.5" cy="886.2" r="6.3" fill="#0000f0"/>
<circle cx="300.9" cy="804.2" r="6.3" fill="#0000f0"/>
<circle cx="326.2" cy="739.8" r="6.3" fill="#0000f0"/>
<circle cx="351.6" cy="713.0" r="6.3" fill="#0000f0"/>
<circle cx="376.9" cy="658.8" r="6.3" fill="#0000f0"/>
<circle cx="402.2" cy="591.2" r="6.3" fill="#0000f0"/>
<circle cx="427.6" cy="584.2" r="6.3" fill="#0000f0"/>
<circle cx="453.0" cy="651.2" r="6.3" fill="#0000f0"/>
<circle cx="478.3" cy="661.2" r="6.3" fill="#0000f0"/>
<circle cx="503.6" cy="708.8" r="6.3" fill="#0000f0"/>
<circle cx="529.0" cy="842.0" r="6.3" fill="#0000f0"/>
<circle cx="554.4" cy="929.0" r="6.3" fill="#0000f0"/>
<circle cx="605.0" cy="925.5" r="6.3" fill="#0000f0"/>
<circle cx="630.4" cy="908.8" r="6.3" fill="#0000f0"/>
<circle cx="655.8" cy="828.8" r="6.3" fill="#0000f0"/>
<circle cx="681.1" cy="791.0" r="6.3" fill="#0000f0"/>
<circle cx="706.4" cy="711.8" r="6.3" fill="#0000f0"/>
<circle cx="731.8" cy="672.0" r="6.3" fill="#0000f0"/>
<circle cx="757.1" cy="647.5" r="6.3" fill="#0000f0"/>
<circle cx="782.5" cy="652.7" r="6.3" fill="#0000f0"/>
<circle cx="807.9" cy="737.7" r="6.3" fill="#0000f0"/>
<circle cx="833.2" cy="818.2" r="6.3" fill="#0000f0"/>
<circle cx="858.5" cy="889.3" r="6.3" fill="#0000f0"/>
<circle cx="883.9" cy="975.1" r="6.3" fill="#0000f0"/>
</svg></body></html>
